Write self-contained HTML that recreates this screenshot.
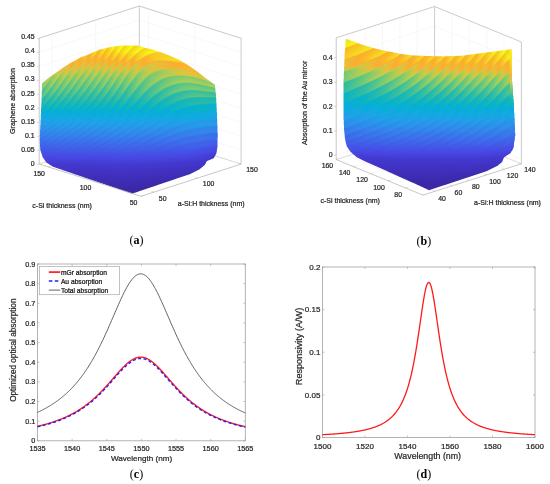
<!DOCTYPE html><html><head><meta charset="utf-8"><style>html,body{margin:0;padding:0;background:#fff;}#root{filter:blur(0.3px);position:relative;width:550px;height:484px;overflow:hidden;background:#fff;}svg{position:absolute;left:0;top:0;}#s i{position:absolute;display:block;height:1px;}</style></head><body><div id="root">
<svg width="550" height="484" viewBox="0 0 550 484">
<line x1="39.20" y1="164.00" x2="139.30" y2="131.80" stroke="#f0f0f0" stroke-width="0.5"/>
<line x1="139.30" y1="131.80" x2="241.10" y2="164.10" stroke="#f0f0f0" stroke-width="0.5"/>
<line x1="39.20" y1="150.02" x2="139.30" y2="117.82" stroke="#f0f0f0" stroke-width="0.5"/>
<line x1="139.30" y1="117.82" x2="241.10" y2="150.12" stroke="#f0f0f0" stroke-width="0.5"/>
<line x1="39.20" y1="136.04" x2="139.30" y2="103.84" stroke="#f0f0f0" stroke-width="0.5"/>
<line x1="139.30" y1="103.84" x2="241.10" y2="136.14" stroke="#f0f0f0" stroke-width="0.5"/>
<line x1="39.20" y1="122.07" x2="139.30" y2="89.87" stroke="#f0f0f0" stroke-width="0.5"/>
<line x1="139.30" y1="89.87" x2="241.10" y2="122.17" stroke="#f0f0f0" stroke-width="0.5"/>
<line x1="39.20" y1="108.09" x2="139.30" y2="75.89" stroke="#f0f0f0" stroke-width="0.5"/>
<line x1="139.30" y1="75.89" x2="241.10" y2="108.19" stroke="#f0f0f0" stroke-width="0.5"/>
<line x1="39.20" y1="94.11" x2="139.30" y2="61.91" stroke="#f0f0f0" stroke-width="0.5"/>
<line x1="139.30" y1="61.91" x2="241.10" y2="94.21" stroke="#f0f0f0" stroke-width="0.5"/>
<line x1="39.20" y1="80.13" x2="139.30" y2="47.93" stroke="#f0f0f0" stroke-width="0.5"/>
<line x1="139.30" y1="47.93" x2="241.10" y2="80.23" stroke="#f0f0f0" stroke-width="0.5"/>
<line x1="39.20" y1="66.16" x2="139.30" y2="33.96" stroke="#f0f0f0" stroke-width="0.5"/>
<line x1="139.30" y1="33.96" x2="241.10" y2="66.26" stroke="#f0f0f0" stroke-width="0.5"/>
<line x1="39.20" y1="52.18" x2="139.30" y2="19.98" stroke="#f0f0f0" stroke-width="0.5"/>
<line x1="139.30" y1="19.98" x2="241.10" y2="52.28" stroke="#f0f0f0" stroke-width="0.5"/>
<line x1="39.20" y1="38.20" x2="139.30" y2="6.00" stroke="#f0f0f0" stroke-width="0.5"/>
<line x1="139.30" y1="6.00" x2="241.10" y2="38.30" stroke="#f0f0f0" stroke-width="0.5"/>
<line x1="51.95" y1="159.90" x2="51.95" y2="34.10" stroke="#f0f0f0" stroke-width="0.5"/>
<line x1="153.75" y1="192.20" x2="51.95" y2="159.90" stroke="#f0f0f0" stroke-width="0.5"/>
<line x1="95.63" y1="145.85" x2="95.63" y2="20.05" stroke="#f0f0f0" stroke-width="0.5"/>
<line x1="197.43" y1="178.15" x2="95.63" y2="145.85" stroke="#f0f0f0" stroke-width="0.5"/>
<line x1="194.83" y1="149.42" x2="194.83" y2="23.62" stroke="#f0f0f0" stroke-width="0.5"/>
<line x1="94.73" y1="181.62" x2="194.83" y2="149.42" stroke="#f0f0f0" stroke-width="0.5"/>
<line x1="148.55" y1="134.74" x2="148.55" y2="8.94" stroke="#f0f0f0" stroke-width="0.5"/>
<line x1="48.45" y1="166.94" x2="148.55" y2="134.74" stroke="#f0f0f0" stroke-width="0.5"/>
<line x1="39.20" y1="38.20" x2="139.30" y2="6.00" stroke="#c2c2c2" stroke-width="0.85"/>
<line x1="139.30" y1="6.00" x2="241.10" y2="38.30" stroke="#c2c2c2" stroke-width="0.85"/>
<line x1="139.30" y1="131.80" x2="139.30" y2="6.00" stroke="#c2c2c2" stroke-width="0.85"/>
<line x1="241.10" y1="164.10" x2="241.10" y2="38.30" stroke="#c2c2c2" stroke-width="0.85"/>
<line x1="39.20" y1="164.00" x2="139.30" y2="131.80" stroke="#c2c2c2" stroke-width="0.6"/>
<line x1="139.30" y1="131.80" x2="241.10" y2="164.10" stroke="#c2c2c2" stroke-width="0.6"/>
<line x1="336.20" y1="154.99" x2="434.60" y2="123.69" stroke="#f0f0f0" stroke-width="0.5"/>
<line x1="434.60" y1="123.69" x2="521.40" y2="159.19" stroke="#f0f0f0" stroke-width="0.5"/>
<line x1="336.20" y1="130.59" x2="434.60" y2="99.29" stroke="#f0f0f0" stroke-width="0.5"/>
<line x1="434.60" y1="99.29" x2="521.40" y2="134.79" stroke="#f0f0f0" stroke-width="0.5"/>
<line x1="336.20" y1="106.19" x2="434.60" y2="74.89" stroke="#f0f0f0" stroke-width="0.5"/>
<line x1="434.60" y1="74.89" x2="521.40" y2="110.39" stroke="#f0f0f0" stroke-width="0.5"/>
<line x1="336.20" y1="81.79" x2="434.60" y2="50.49" stroke="#f0f0f0" stroke-width="0.5"/>
<line x1="434.60" y1="50.49" x2="521.40" y2="85.99" stroke="#f0f0f0" stroke-width="0.5"/>
<line x1="336.20" y1="57.39" x2="434.60" y2="26.09" stroke="#f0f0f0" stroke-width="0.5"/>
<line x1="434.60" y1="26.09" x2="521.40" y2="61.59" stroke="#f0f0f0" stroke-width="0.5"/>
<line x1="347.81" y1="155.91" x2="347.81" y2="34.11" stroke="#f0f0f0" stroke-width="0.5"/>
<line x1="434.61" y1="191.41" x2="347.81" y2="155.91" stroke="#f0f0f0" stroke-width="0.5"/>
<line x1="365.13" y1="150.40" x2="365.13" y2="28.60" stroke="#f0f0f0" stroke-width="0.5"/>
<line x1="451.93" y1="185.90" x2="365.13" y2="150.40" stroke="#f0f0f0" stroke-width="0.5"/>
<line x1="382.45" y1="144.89" x2="382.45" y2="23.09" stroke="#f0f0f0" stroke-width="0.5"/>
<line x1="469.25" y1="180.39" x2="382.45" y2="144.89" stroke="#f0f0f0" stroke-width="0.5"/>
<line x1="399.78" y1="139.38" x2="399.78" y2="17.58" stroke="#f0f0f0" stroke-width="0.5"/>
<line x1="486.58" y1="174.88" x2="399.78" y2="139.38" stroke="#f0f0f0" stroke-width="0.5"/>
<line x1="417.10" y1="133.87" x2="417.10" y2="12.07" stroke="#f0f0f0" stroke-width="0.5"/>
<line x1="503.90" y1="169.37" x2="417.10" y2="133.87" stroke="#f0f0f0" stroke-width="0.5"/>
<line x1="504.04" y1="156.70" x2="504.04" y2="34.90" stroke="#f0f0f0" stroke-width="0.5"/>
<line x1="405.64" y1="188.00" x2="504.04" y2="156.70" stroke="#f0f0f0" stroke-width="0.5"/>
<line x1="486.68" y1="149.60" x2="486.68" y2="27.80" stroke="#f0f0f0" stroke-width="0.5"/>
<line x1="388.28" y1="180.90" x2="486.68" y2="149.60" stroke="#f0f0f0" stroke-width="0.5"/>
<line x1="469.32" y1="142.50" x2="469.32" y2="20.70" stroke="#f0f0f0" stroke-width="0.5"/>
<line x1="370.92" y1="173.80" x2="469.32" y2="142.50" stroke="#f0f0f0" stroke-width="0.5"/>
<line x1="451.96" y1="135.40" x2="451.96" y2="13.60" stroke="#f0f0f0" stroke-width="0.5"/>
<line x1="353.56" y1="166.70" x2="451.96" y2="135.40" stroke="#f0f0f0" stroke-width="0.5"/>
<line x1="336.20" y1="37.80" x2="434.60" y2="6.50" stroke="#c2c2c2" stroke-width="0.85"/>
<line x1="434.60" y1="6.50" x2="521.40" y2="42.00" stroke="#c2c2c2" stroke-width="0.85"/>
<line x1="434.60" y1="128.30" x2="434.60" y2="6.50" stroke="#c2c2c2" stroke-width="0.85"/>
<line x1="521.40" y1="163.80" x2="521.40" y2="42.00" stroke="#c2c2c2" stroke-width="0.85"/>
<line x1="336.20" y1="159.60" x2="434.60" y2="128.30" stroke="#c2c2c2" stroke-width="0.6"/>
<line x1="434.60" y1="128.30" x2="521.40" y2="163.80" stroke="#c2c2c2" stroke-width="0.6"/>
</svg>
<div id="s">
<i style="top:45px;left:119px;width:20px;background:linear-gradient(90deg,rgba(244,229,26,0.19) 0.5px,rgba(249,251,13,0.50) 3.5px,rgba(249,251,13,0.50) 4.5px,rgba(245,225,29,0.50) 5.5px,rgba(246,212,34,0.50) 6.5px,rgba(247,243,18,0.50) 11.5px,rgba(249,250,14,0.50) 12.5px,rgba(249,251,13,0.50) 14.5px,rgba(245,231,25,0.50) 15.5px,rgba(246,211,35,0.50) 16.5px,rgba(245,219,32,0.50) 18.5px,rgba(245,224,29,0.19) 19.5px)"></i>
<i style="top:46px;left:111px;width:31px;background:linear-gradient(90deg,rgba(245,226,29,0.25) 0.5px,rgba(245,234,24,0.25) 1.5px,rgba(247,244,18,0.50) 2.5px,rgba(249,251,13,0.50) 3.5px,rgba(244,229,27,0.75) 4.5px,rgba(247,207,36,0.75) 5.5px,rgba(246,217,33,0.94) 6.5px,#f6f213 9.5px,#f9fb0d 10.5px,#f9fb0d 11.5px,#f4e51b 12.5px,#f7d123 13.5px,#f6f213 18.5px,#f9fb0d 20.5px,#f9fb0d 21.5px,#f4e51b 22.5px,#f7d023 23.5px,#f4e51b 27.5px,rgba(245,234,24,0.88) 28.5px,rgba(247,243,18,0.31) 30.5px)"></i>
<i style="top:47px;left:106px;width:40px;background:linear-gradient(90deg,rgba(247,243,19,0.12) 0.5px,rgba(245,217,32,0.31) 1.5px,rgba(248,199,38,0.56) 2.5px,#f5dc1f 4.5px,#f8f90f 7.5px,#f5ed16 8.5px,#f7d024 9.5px,#f5dd1f 11.5px,#f8f710 14.5px,#f9fb0d 15.5px,#f5ea18 16.5px,#f7cf24 17.5px,#f6f014 22.5px,#f9fb0d 24.5px,#f8f90f 25.5px,#f5e21c 26.5px,#f7d024 27.5px,#f6ef15 33.5px,rgba(249,251,13,0.94) 36.5px,rgba(249,251,13,0.62) 37.5px,rgba(245,223,30,0.12) 39.5px)"></i>
<i style="top:48px;left:102px;width:48px;background:linear-gradient(90deg,rgba(247,206,36,0.12) 0.5px,rgba(245,236,23,0.88) 3.5px,#f5df1e 4.5px,#f9c027 5.5px,#f5e819 9.5px,#f7f313 10.5px,#f7f611 11.5px,#f6d821 12.5px,#f7d024 13.5px,#f7f312 17.5px,#f9fb0d 18.5px,#f6f014 19.5px,#f6d522 20.5px,#f6d422 21.5px,#f7f511 26.5px,#f9fb0d 27.5px,#f8f80f 28.5px,#f5e11d 29.5px,#f7cf24 30.5px,#f6ef15 36.5px,#f9fa0e 38.5px,#f9fb0d 39.5px,#f6f213 40.5px,#f7d123 42.5px,#f7d223 43.5px,rgba(246,217,33,0.69) 45.5px,rgba(245,223,30,0.19) 47.5px)"></i>
<i style="top:49px;left:99px;width:55px;background:linear-gradient(90deg,rgba(251,182,41,0.38) 0.5px,rgba(248,199,38,0.94) 2.5px,#f4e51b 5.5px,#f4e41b 6.5px,#f8c626 7.5px,#f9c127 8.5px,#f5ea18 12.5px,#f7f511 13.5px,#f5de1e 14.5px,#f8ca25 15.5px,#f6ef15 19.5px,#f8f80f 20.5px,#f8f80f 21.5px,#f5db20 22.5px,#f7d123 23.5px,#f7f412 28.5px,#f9fb0d 29.5px,#f8f710 30.5px,#f5e01d 31.5px,#f7ce24 32.5px,#f6f014 38.5px,#f9fb0d 40.5px,#f9fb0d 41.5px,#f5e819 42.5px,#f6d622 43.5px,#f7d024 44.5px,#f4e51b 50.5px,rgba(245,231,25,0.94) 51.5px,rgba(245,237,22,0.12) 54.5px)"></i>
<i style="top:50px;left:96px;width:61px;background:linear-gradient(90deg,rgba(245,220,31,0.12) 0.5px,rgba(245,220,31,0.50) 1.5px,rgba(250,189,39,0.94) 2.5px,#fbb629 3.5px,#f5e819 8.5px,#f7cd24 9.5px,#faba28 10.5px,#f4e31c 14.5px,#f5ed16 15.5px,#f5e21c 16.5px,#f9c426 17.5px,#f5e11d 20.5px,#f9fb0d 23.5px,#f5e21c 24.5px,#f7cd24 25.5px,#f6f213 30.5px,#f8f90f 31.5px,#f8f80f 32.5px,#f5df1e 33.5px,#f7cd24 34.5px,#f6f014 40.5px,#f9fb0d 42.5px,#f7f412 43.5px,#f8cc24 45.5px,#f5e819 52.5px,#f7f412 57.5px,rgba(247,246,17,0.81) 58.5px,rgba(248,248,15,0.12) 60.5px)"></i>
<i style="top:51px;left:94px;width:66px;background:linear-gradient(90deg,rgba(247,205,36,0.25) 0.5px,#f5e01d 2.5px,#f9c426 3.5px,#fcb12b 4.5px,#f5e21c 9.5px,#f6d323 10.5px,#fbb42a 11.5px,#f4e51b 16.5px,#f5e61a 17.5px,#f8ca25 18.5px,#f9c227 19.5px,#f5ec17 23.5px,#f8f710 24.5px,#f5ea18 25.5px,#f8cd24 26.5px,#f6ef15 31.5px,#f8f710 32.5px,#f8f90f 33.5px,#f5e01d 34.5px,#f8cb25 35.5px,#f6f014 41.5px,#f9fb0d 43.5px,#f5ed16 44.5px,#f6d821 45.5px,#f7cd24 46.5px,#f5ee16 54.5px,#f9fb0d 60.5px,#f9fa0e 62.5px,rgba(247,246,17,0.88) 63.5px,rgba(246,241,19,0.19) 65.5px)"></i>
<i style="top:52px;left:92px;width:71px;background:linear-gradient(90deg,rgba(250,188,40,0.38) 0.5px,rgba(248,199,38,0.75) 1.5px,#f7d123 2.5px,#f5db20 3.5px,#f8cc24 4.5px,#fcaf2d 5.5px,#fabd27 7.5px,#f5dc1f 10.5px,#f5d920 11.5px,#faba28 12.5px,#fbb629 13.5px,#f5e719 18.5px,#f7cf24 19.5px,#fab928 20.5px,#f4e31c 24.5px,#f5ed16 25.5px,#f5ec16 26.5px,#f7d223 27.5px,#f8cc24 28.5px,#f5eb17 32.5px,#f9f90e 34.5px,#f5e01d 35.5px,#f8c825 36.5px,#f6ef15 42.5px,#f9fb0d 44.5px,#f5e71a 45.5px,#f7d223 46.5px,#f7cd24 47.5px,#f6f114 55.5px,#f9fb0d 59.5px,#f5df1e 63.5px,#f6d323 67.5px,rgba(247,210,35,0.88) 68.5px,rgba(247,210,35,0.56) 69.5px,rgba(247,210,35,0.12) 70.5px)"></i>
<i style="top:53px;left:89px;width:77px;background:linear-gradient(90deg,rgba(251,174,46,0.06) 0.5px,rgba(252,175,44,0.50) 1.5px,rgba(251,183,41,0.88) 2.5px,#f9c127 3.5px,#f6d522 5.5px,#f6d323 6.5px,#fbb42a 7.5px,#fcb02c 8.5px,#f5df1e 13.5px,#f9c127 14.5px,#fcb02c 15.5px,#f5e01d 20.5px,#f6d522 21.5px,#fbb629 22.5px,#fabb28 23.5px,#f4e41b 27.5px,#f5ee16 28.5px,#f6d422 29.5px,#f9c227 30.5px,#f4e41b 34.5px,#f7f312 36.5px,#f5de1e 37.5px,#f9c326 38.5px,#f5e918 44.5px,#f7f312 46.5px,#f5dd1f 47.5px,#f8c626 48.5px,#f7cf24 50.5px,#f6f313 58.5px,#f8f610 59.5px,#f5db20 62.5px,#f8ca25 64.5px,#f9c626 65.5px,#f7cd24 73.5px,rgba(247,205,36,0.75) 74.5px,rgba(247,205,36,0.06) 76.5px)"></i>
<i style="top:54px;left:87px;width:81px;background:linear-gradient(90deg,rgba(247,209,35,0.25) 0.5px,rgba(251,178,43,0.62) 1.5px,#faae2f 2.5px,#fabb28 4.5px,#f5d920 7.5px,#fabb28 8.5px,#faae2f 9.5px,#fabb28 11.5px,#f5d920 14.5px,#f8c925 15.5px,#fbae2e 16.5px,#fabc28 18.5px,#f5da20 21.5px,#f5da20 22.5px,#fabb28 23.5px,#fbb42a 24.5px,#f4e51b 29.5px,#f6d721 30.5px,#fbb929 31.5px,#f5dd1f 35.5px,#f5ec17 37.5px,#f5dc1f 38.5px,#f9c127 39.5px,#f9c227 40.5px,#f5ea18 46.5px,#f5ea18 47.5px,#f6d422 48.5px,#fabc28 49.5px,#f5e01e 55.5px,#f6f014 59.5px,#f8cc24 62.5px,#f9c127 63.5px,#f7ce24 75.5px,rgba(247,207,36,0.94) 78.5px,rgba(247,208,36,0.62) 79.5px,rgba(247,207,36,0.19) 80.5px)"></i>
<i style="top:55px;left:84px;width:87px;background:linear-gradient(90deg,rgba(249,194,39,0.12) 0.5px,rgba(246,212,34,0.88) 2.5px,#fbb829 3.5px,#f8ae32 4.5px,#fbaf2d 5.5px,#f8ca25 8.5px,#f6d422 9.5px,#f9c326 10.5px,#f9ad30 11.5px,#fbaf2d 12.5px,#f8c925 15.5px,#f6d323 16.5px,#f7d024 17.5px,#fbb22b 18.5px,#fbaf2d 19.5px,#f8c925 22.5px,#f5dc1f 24.5px,#f9c227 25.5px,#fbaf2d 26.5px,#f8ca25 29.5px,#f5dd1f 31.5px,#f5db20 32.5px,#fabc28 33.5px,#fbb829 34.5px,#f5de1e 38.5px,#f4e51b 39.5px,#f5dc1f 40.5px,#fabf27 41.5px,#faba28 42.5px,#f4e51b 48.5px,#f4e31c 49.5px,#fbb729 51.5px,#f5e11d 58.5px,#f5e918 60.5px,#f7d123 62.5px,#f9c227 63.5px,#fbb829 64.5px,#f8cb25 72.5px,#f7d223 83.5px,rgba(247,210,35,0.81) 84.5px,rgba(247,209,35,0.38) 85.5px,rgba(247,209,35,0.06) 86.5px)"></i>
<i style="top:56px;left:82px;width:91px;background:linear-gradient(90deg,rgba(251,179,42,0.38) 0.5px,rgba(250,187,40,0.75) 1.5px,#f9c426 2.5px,#f7cd24 3.5px,#fabd27 4.5px,#f7af33 5.5px,#fbaf2d 7.5px,#f8cb25 10.5px,#f8c825 11.5px,#fbae2e 12.5px,#f9ae31 13.5px,#fcb02c 14.5px,#f6d721 18.5px,#fbb829 19.5px,#faad30 20.5px,#fbb829 22.5px,#f6d622 25.5px,#f8c925 26.5px,#fbae2e 27.5px,#fcb02c 28.5px,#f5de1e 33.5px,#f9c127 34.5px,#fcb02c 35.5px,#f5de1e 40.5px,#f5dc1f 41.5px,#fabf27 42.5px,#fbb42a 43.5px,#f5e01d 49.5px,#f5dd1f 50.5px,#f9c326 51.5px,#fbb32b 52.5px,#f5e21c 60.5px,#f5df1e 61.5px,#fabc28 63.5px,#fbb32b 64.5px,#f8ca25 73.5px,#f6d422 87.5px,rgba(246,212,34,0.94) 88.5px,rgba(246,211,35,0.12) 90.5px)"></i>
<i style="top:57px;left:79px;width:96px;background:linear-gradient(90deg,rgba(249,174,48,0.12) 0.5px,rgba(249,174,49,0.62) 1.5px,rgba(251,174,45,0.94) 2.5px,#f9c526 5.5px,#f9c326 6.5px,#f9ae31 7.5px,#f5b234 8.5px,#f9ae31 9.5px,#fcaf2d 10.5px,#f8cb25 13.5px,#fcaf2c 14.5px,#f5b134 15.5px,#f9ad30 16.5px,#fcb02c 17.5px,#f7cd24 20.5px,#fabc28 21.5px,#f7af33 22.5px,#faad30 23.5px,#fab928 25.5px,#f7ce24 27.5px,#f7cf24 28.5px,#fcb12b 29.5px,#faad2f 30.5px,#fab928 32.5px,#f6d721 35.5px,#f9c626 36.5px,#faae2f 37.5px,#fab928 39.5px,#f5de1e 43.5px,#f9c027 44.5px,#fcaf2d 45.5px,#f5da20 51.5px,#f6d721 52.5px,#fabc28 53.5px,#fcaf2d 54.5px,#f5de1e 62.5px,#f7d024 63.5px,#fabc28 64.5px,#fbae2d 65.5px,#f8cb25 76.5px,#f6d721 90.5px,#f6d622 93.5px,rgba(246,213,34,0.25) 95.5px)"></i>
<i style="top:58px;left:78px;width:99px;background:linear-gradient(90deg,rgba(251,174,46,0.50) 0.5px,rgba(245,177,52,0.94) 1.5px,#fbaf2d 3.5px,#f9c626 6.5px,#fbae2f 7.5px,#f1b736 8.5px,#f9ae31 10.5px,#fcaf2c 11.5px,#f9c127 13.5px,#fcb12b 14.5px,#f1b636 15.5px,#faad30 17.5px,#fcb02c 18.5px,#f9c226 20.5px,#fabf27 21.5px,#f8ae31 22.5px,#f6b033 23.5px,#faad30 24.5px,#fab928 26.5px,#f7ce24 28.5px,#fbb42a 29.5px,#f6b033 30.5px,#faad2f 31.5px,#faba28 33.5px,#f7ce24 35.5px,#f8cb25 36.5px,#fcaf2d 37.5px,#faae2f 38.5px,#faba28 40.5px,#f6d721 43.5px,#faad30 45.5px,#fbb52a 47.5px,#f6d422 51.5px,#f7d223 52.5px,#fbb729 53.5px,#faad2f 54.5px,#fabb28 57.5px,#f6d522 61.5px,#f6d721 62.5px,#fcaf2c 64.5px,#fbaf2d 66.5px,#f8cb25 77.5px,#f5d920 92.5px,#f6d821 96.5px,rgba(246,216,33,0.75) 97.5px,rgba(246,215,33,0.38) 98.5px)"></i>
<i style="top:59px;left:76px;width:104px;background:linear-gradient(90deg,rgba(248,199,38,0.25) 0.5px,rgba(252,176,44,0.88) 1.5px,#f1b636 2.5px,#f9ae30 4.5px,#fbb529 6.5px,#fabd27 7.5px,#fcb02c 8.5px,#efb937 9.5px,#f9ad30 12.5px,#fcb02c 13.5px,#fbb829 14.5px,#fbb42a 15.5px,#f3b435 16.5px,#f0b736 17.5px,#faad30 19.5px,#fcb02c 20.5px,#f9c326 22.5px,#faad30 23.5px,#f1b736 24.5px,#faad30 26.5px,#fbb928 28.5px,#f9c326 29.5px,#fbb729 30.5px,#f5b234 31.5px,#faad30 33.5px,#fab928 35.5px,#f7cd24 37.5px,#fcb12c 38.5px,#f6b033 39.5px,#faad30 40.5px,#faba28 42.5px,#f7ce24 44.5px,#f9c426 45.5px,#faad30 46.5px,#fcaf2d 48.5px,#f7cd24 52.5px,#f7cd24 53.5px,#fbb22b 54.5px,#f7af32 55.5px,#fcb02c 57.5px,#f7cf24 62.5px,#f8ca25 63.5px,#fbb42a 64.5px,#f7af33 65.5px,#fbaf2d 68.5px,#f8cb25 79.5px,#f5db1f 93.5px,#f5db20 100.5px,rgba(245,218,32,0.88) 101.5px,rgba(246,216,33,0.06) 103.5px)"></i>
<i style="top:60px;left:74px;width:107px;background:linear-gradient(90deg,rgba(251,182,41,0.12) 0.5px,rgba(250,191,39,0.69) 1.5px,#fbb42a 2.5px,#f2b535 3.5px,#f2b535 4.5px,#faad30 6.5px,#fbb629 8.5px,#fbb32a 9.5px,#f2b536 10.5px,#ecbb38 11.5px,#faad30 14.5px,#fbb729 16.5px,#f5b134 17.5px,#eabd39 18.5px,#faad30 21.5px,#fbb829 23.5px,#fbae2e 24.5px,#ecbb38 25.5px,#faad30 28.5px,#fbb829 30.5px,#faba28 31.5px,#f6b033 32.5px,#f1b736 33.5px,#faad30 35.5px,#fbb829 37.5px,#f9c227 38.5px,#fbb32a 39.5px,#f2b535 40.5px,#faad30 42.5px,#fcb02c 43.5px,#f9c226 45.5px,#f8c726 46.5px,#faad2f 47.5px,#f5b134 48.5px,#fbaf2d 50.5px,#f8c825 54.5px,#fcaf2d 55.5px,#f4b335 56.5px,#faad30 58.5px,#faba28 61.5px,#f8c725 63.5px,#fabd27 64.5px,#faad30 65.5px,#f3b335 66.5px,#faad30 69.5px,#f9c326 78.5px,#f8c925 81.5px,#fabb28 85.5px,#f9c226 90.5px,#f5df1e 99.5px,#f5dd1f 104.5px,rgba(245,220,31,0.94) 105.5px,rgba(245,219,32,0.38) 106.5px)"></i>
<i style="top:61px;left:72px;width:111px;background:linear-gradient(90deg,rgba(250,173,48,0.12) 0.5px,rgba(252,176,44,0.62) 1.5px,#fbb729 2.5px,#fbb928 3.5px,#f5b234 4.5px,#edba37 5.5px,#faad30 8.5px,#fbb729 10.5px,#f4b234 11.5px,#e6c03a 12.5px,#faad30 16.5px,#fcb12b 17.5px,#f7af33 18.5px,#e3c23b 19.5px,#faad30 23.5px,#fcb12c 24.5px,#fcaf2d 25.5px,#efb937 26.5px,#eabd39 27.5px,#faad30 30.5px,#fbb829 32.5px,#f8af32 33.5px,#eabd39 34.5px,#f9ad30 37.5px,#fcb02c 38.5px,#fbb729 39.5px,#fbb529 40.5px,#f4b335 41.5px,#f0b836 42.5px,#f9ae31 44.5px,#fcaf2c 45.5px,#f9c127 47.5px,#fbae2e 48.5px,#f0b836 49.5px,#f8ae31 51.5px,#fbb32a 53.5px,#f9c227 55.5px,#fbae2f 56.5px,#efb937 57.5px,#faad30 60.5px,#fab928 63.5px,#f9c027 64.5px,#fbb32a 65.5px,#f5b134 66.5px,#f0b836 67.5px,#faad30 71.5px,#faba28 77.5px,#fabf27 79.5px,#fcaf2c 82.5px,#f6b033 85.5px,#f3b435 89.5px,#fbae2e 97.5px,#fabb28 101.5px,#f5e01d 107.5px,#f5df1e 108.5px,rgba(245,222,30,0.75) 109.5px,rgba(245,221,31,0.19) 110.5px)"></i>
<i style="top:62px;left:70px;width:115px;background:linear-gradient(90deg,rgba(243,180,53,0.06) 0.5px,rgba(247,175,51,0.62) 1.5px,#faad2f 2.5px,#fbb829 4.5px,#f7af32 5.5px,#e7bf3a 6.5px,#f7af33 9.5px,#fcb12c 11.5px,#f7af33 12.5px,#e2c23c 13.5px,#faad2f 18.5px,#f8ae31 19.5px,#e7c03a 20.5px,#e2c23c 21.5px,#f6b033 24.5px,#faad30 25.5px,#fcb12b 26.5px,#f1b636 27.5px,#e1c33c 28.5px,#f6b133 31.5px,#faad30 32.5px,#fcb02c 33.5px,#f9ae31 34.5px,#e8bf39 35.5px,#e9be39 36.5px,#f9ae31 39.5px,#fcaf2c 40.5px,#fbb629 41.5px,#f5b134 42.5px,#e9be39 43.5px,#f9ae31 46.5px,#fcaf2d 47.5px,#fbb629 48.5px,#fcaf2c 49.5px,#eeba37 50.5px,#f8ae32 53.5px,#fbb22b 55.5px,#fbb928 56.5px,#faad30 57.5px,#ebbd38 58.5px,#f9ae31 62.5px,#fbb22b 64.5px,#fbb829 65.5px,#fbae2e 66.5px,#f0b736 67.5px,#ebbd38 68.5px,#f9ae31 73.5px,#fbb829 79.5px,#fcaf2c 80.5px,#f9ae31 81.5px,#e6c03a 85.5px,#f0b736 93.5px,#faad30 102.5px,#fbae2e 107.5px,#f9c127 110.5px,#f6d323 112.5px,rgba(245,224,29,0.06) 114.5px)"></i>
<i style="top:63px;left:69px;width:117px;background:linear-gradient(90deg,rgba(238,185,55,0.50) 0.5px,rgba(243,179,53,0.94) 1.5px,#faae2f 3.5px,#fcb12b 4.5px,#f9ae30 5.5px,#e7bf3a 6.5px,#e8bf39 7.5px,#f7af32 10.5px,#faae2f 11.5px,#f9ae31 12.5px,#e7c03a 13.5px,#dfc43d 14.5px,#f3b435 17.5px,#faad30 19.5px,#eabd39 20.5px,#d8c640 21.5px,#f1b636 24.5px,#faad30 26.5px,#f3b435 27.5px,#dac53f 28.5px,#f5b134 32.5px,#faad2f 34.5px,#ebbc38 35.5px,#e0c33d 36.5px,#f5b234 39.5px,#f9ae31 40.5px,#fcaf2d 41.5px,#f6b033 42.5px,#e2c23c 43.5px,#f8ae31 47.5px,#fcb12b 49.5px,#f0b836 50.5px,#e8bf3a 51.5px,#f7af32 54.5px,#fcb12b 56.5px,#f9ae30 57.5px,#e9be39 58.5px,#e8bf3a 59.5px,#f9ae31 63.5px,#fcb12b 65.5px,#f8ae31 66.5px,#ebbd38 67.5px,#e4c13b 68.5px,#f6b033 73.5px,#fcaf2c 77.5px,#fcb12b 78.5px,#f9ae31 79.5px,#e4c13b 82.5px,#dfc43d 83.5px,#f0b836 94.5px,#faad30 103.5px,#faae2f 113.5px,rgba(250,186,40,0.94) 115.5px,rgba(249,196,38,0.38) 116.5px)"></i>
<i style="top:64px;left:67px;width:121px;background:linear-gradient(90deg,rgba(237,186,55,0.19) 0.5px,rgba(233,190,57,0.81) 1.5px,#efb937 2.5px,#f8af32 4.5px,#fbae2e 6.5px,#ecbc38 7.5px,#e1c33c 8.5px,#f4b335 11.5px,#fbae2f 13.5px,#ebbc38 14.5px,#d6c741 15.5px,#efb937 18.5px,#f7af32 20.5px,#edbb38 21.5px,#cec944 22.5px,#ecbc38 25.5px,#f7b033 27.5px,#f5b234 28.5px,#dfc43d 29.5px,#d7c740 30.5px,#f1b736 33.5px,#faad30 35.5px,#eeba37 36.5px,#d4c741 37.5px,#efb837 40.5px,#f9ae31 42.5px,#f8ae32 43.5px,#e5c13b 44.5px,#ddc53e 45.5px,#f3b335 48.5px,#fbae2e 50.5px,#f2b535 51.5px,#dcc53e 52.5px,#f3b435 55.5px,#faad30 57.5px,#f9ae31 58.5px,#e8bf39 59.5px,#dfc43d 60.5px,#f1b636 63.5px,#fbae2f 66.5px,#f5b134 67.5px,#e5c13b 68.5px,#dcc53e 69.5px,#f0b836 73.5px,#f9ae31 77.5px,#faae2f 78.5px,#f7af33 79.5px,#e5c03a 81.5px,#d8c640 82.5px,#efb937 96.5px,#f9ae30 105.5px,#fcaf2d 116.5px,#fbae2e 118.5px,rgba(251,174,46,0.75) 119.5px,rgba(251,175,45,0.19) 120.5px)"></i>
<i style="top:65px;left:66px;width:124px;background:linear-gradient(90deg,rgba(241,183,54,0.50) 0.5px,#e2c23c 1.5px,#f4b234 4.5px,#fbae2e 6.5px,#efb937 7.5px,#d8c640 8.5px,#f0b836 11.5px,#f8ae32 13.5px,#efb937 14.5px,#cfc944 15.5px,#efb837 19.5px,#f4b334 20.5px,#f0b836 21.5px,#d3c842 22.5px,#cdc945 23.5px,#ecbb38 26.5px,#f7af33 28.5px,#e3c23b 29.5px,#cbca46 30.5px,#ebbd38 33.5px,#f6b033 35.5px,#f0b736 36.5px,#d5c741 37.5px,#d5c741 38.5px,#f0b836 41.5px,#f9ae31 43.5px,#e9be39 44.5px,#d1c843 45.5px,#eeba37 48.5px,#f8af32 50.5px,#f4b334 51.5px,#dbc53f 52.5px,#dcc53e 53.5px,#f2b535 56.5px,#faad30 58.5px,#e9be39 59.5px,#d4c741 60.5px,#ecbb38 63.5px,#f8ae32 66.5px,#f4b335 67.5px,#e1c33c 68.5px,#d3c842 69.5px,#ecbb38 73.5px,#f7af32 77.5px,#f7af32 78.5px,#e3c23b 80.5px,#d2c842 81.5px,#cfc944 82.5px,#e4c13b 89.5px,#faad30 107.5px,#fbb22b 119.5px,#fcb02c 121.5px,rgba(251,175,45,0.06) 123.5px)"></i>
<i style="top:66px;left:64px;width:127px;background:linear-gradient(90deg,rgba(251,174,46,0.19) 0.5px,rgba(243,179,53,0.81) 1.5px,#d9c63f 2.5px,#f0b736 5.5px,#f8ae31 7.5px,#f2b535 8.5px,#d6c741 9.5px,#d9c640 10.5px,#f0b836 13.5px,#f5b234 14.5px,#f2b636 15.5px,#d5c741 16.5px,#cdc945 17.5px,#eabd39 20.5px,#f3b435 22.5px,#d9c63f 23.5px,#c0cb4b 24.5px,#e5c13b 27.5px,#f3b435 29.5px,#e7bf3a 30.5px,#c3cb4a 31.5px,#e3c23b 34.5px,#f1b636 36.5px,#f3b435 37.5px,#dac63f 38.5px,#c8ca47 39.5px,#e9be39 42.5px,#f5b234 44.5px,#ecbb38 45.5px,#cbca45 46.5px,#d2c843 47.5px,#eeba37 50.5px,#f6b033 52.5px,#e0c33c 53.5px,#d0c943 54.5px,#e6c03a 56.5px,#f7af33 59.5px,#ebbc38 60.5px,#c9ca46 61.5px,#e6c03a 64.5px,#f5b134 67.5px,#f2b535 68.5px,#ddc43e 69.5px,#caca46 70.5px,#e8bf3a 74.5px,#f5b134 78.5px,#f2b535 79.5px,#e6c03a 80.5px,#c5cb48 82.5px,#ddc43e 88.5px,#f6b033 105.5px,#fcb02c 114.5px,#fbb52a 124.5px,rgba(251,179,42,0.81) 125.5px,rgba(251,178,43,0.19) 126.5px)"></i>
<i style="top:67px;left:63px;width:129px;background:linear-gradient(90deg,rgba(249,174,49,0.50) 0.5px,#f6b033 1.5px,#dfc43d 2.5px,#dac63f 3.5px,#f0b736 6.5px,#f5b234 7.5px,#f4b234 8.5px,#dcc53e 9.5px,#cec944 10.5px,#ebbd38 13.5px,#f4b334 15.5px,#dbc53e 16.5px,#c1cb4a 17.5px,#e3c23b 20.5px,#f0b736 22.5px,#dfc43d 23.5px,#b4cd51 24.5px,#dcc53e 27.5px,#eeba37 29.5px,#eabd39 30.5px,#c9ca47 31.5px,#becc4c 32.5px,#e4c13b 35.5px,#f2b636 37.5px,#dfc43d 38.5px,#bacc4e 39.5px,#e1c33c 42.5px,#f0b836 44.5px,#efb937 45.5px,#d1c843 46.5px,#c4cb49 47.5px,#e7c03a 50.5px,#f3b335 52.5px,#e5c13b 53.5px,#c2cb4a 54.5px,#e6c03a 57.5px,#f3b535 59.5px,#eeba37 60.5px,#cdc945 61.5px,#c9ca46 62.5px,#e6c03a 65.5px,#f1b636 67.5px,#f2b636 68.5px,#dbc53e 69.5px,#c0cb4b 70.5px,#e2c33c 74.5px,#f2b535 78.5px,#ecbc38 79.5px,#dac63f 80.5px,#c2cb4a 81.5px,#becc4c 82.5px,#dac63f 88.5px,#edbb37 98.5px,#f9ae31 109.5px,#fbb829 127.5px,rgba(251,183,41,0.50) 128.5px)"></i>
<i style="top:68px;left:61px;width:133px;background:linear-gradient(90deg,rgba(241,183,54,0.12) 0.5px,rgba(245,177,52,0.81) 1.5px,#f8af32 2.5px,#e4c13b 3.5px,#cfc944 4.5px,#ebbd38 7.5px,#f5b134 9.5px,#e1c33c 10.5px,#c2cb4a 11.5px,#e4c13b 14.5px,#f1b736 16.5px,#e1c33c 17.5px,#b6cd50 18.5px,#e4c13b 22.5px,#ebbc38 23.5px,#e4c13b 24.5px,#bccc4d 25.5px,#b5cd51 26.5px,#ddc53e 29.5px,#edbb37 31.5px,#cec944 32.5px,#b0cd53 33.5px,#dac63f 36.5px,#ecbc38 38.5px,#e3c23b 39.5px,#bccc4d 40.5px,#bbcc4d 41.5px,#e1c33c 44.5px,#f0b836 46.5px,#d7c740 47.5px,#b6cd50 48.5px,#dec43e 51.5px,#eeba37 53.5px,#e9be39 54.5px,#c4cb49 55.5px,#c2cb4a 56.5px,#e6c03a 59.5px,#f1b736 61.5px,#d2c842 62.5px,#bdcc4d 63.5px,#dec43d 66.5px,#f1b636 69.5px,#dac63f 70.5px,#b4cd51 71.5px,#dac63f 75.5px,#efb937 79.5px,#e5c13b 80.5px,#cec944 81.5px,#b2cd52 82.5px,#d6c741 89.5px,#e8bf3a 96.5px,#efb937 101.5px,#e5c13b 108.5px,#eeba37 114.5px,#fbae2e 119.5px,#fbb529 123.5px,#fbb928 130.5px,rgba(251,185,40,0.81) 131.5px,rgba(251,185,40,0.12) 132.5px)"></i>
<i style="top:69px;left:60px;width:135px;background:linear-gradient(90deg,rgba(235,188,56,0.44) 0.5px,rgba(241,183,54,0.94) 1.5px,#f5b134 2.5px,#e8bf3a 3.5px,#c2cb4a 4.5px,#e4c13b 7.5px,#f1b636 9.5px,#e5c03a 10.5px,#bdcc4c 11.5px,#c3cb49 12.5px,#e4c13b 15.5px,#ecbc38 16.5px,#e5c03a 17.5px,#becc4c 18.5px,#b6cd50 19.5px,#dbc53e 22.5px,#e5c13b 23.5px,#e8bf39 24.5px,#c3cb49 25.5px,#a8cd58 26.5px,#dec43d 30.5px,#e7bf3a 31.5px,#d4c842 32.5px,#a7cd58 33.5px,#c0cb4b 35.5px,#e5c13b 38.5px,#e7c03a 39.5px,#c2cb4a 40.5px,#adcd55 41.5px,#d6c740 44.5px,#eabe39 46.5px,#dcc53e 47.5px,#b1cd53 48.5px,#b6cd50 49.5px,#dec43d 52.5px,#edbb38 54.5px,#cbca46 55.5px,#b3cd52 56.5px,#dcc53e 59.5px,#edba37 61.5px,#d8c640 62.5px,#afcd54 63.5px,#d4c741 66.5px,#ecbb38 69.5px,#dac63f 70.5px,#b3cd52 71.5px,#b4cd51 72.5px,#dac63f 76.5px,#ebbd38 79.5px,#dec43d 80.5px,#a7cd58 82.5px,#cdc945 88.5px,#e4c13b 95.5px,#e8bf39 97.5px,#c0cb4b 103.5px,#b2cd53 106.5px,#b0cd53 107.5px,#ccc945 117.5px,#d0c943 119.5px,#edba37 123.5px,#f7af33 125.5px,#fbae2e 126.5px,#fbb928 128.5px,#faba28 132.5px,rgba(250,186,40,0.94) 133.5px,rgba(250,185,40,0.44) 134.5px)"></i>
<i style="top:70px;left:58px;width:139px;background:linear-gradient(90deg,rgba(217,198,64,0.06) 0.5px,rgba(227,194,59,0.69) 1.5px,#ebbc38 2.5px,#f1b736 3.5px,#ebbc38 4.5px,#c7ca47 5.5px,#c3cb4a 6.5px,#e4c13b 9.5px,#ecbc38 10.5px,#e9be39 11.5px,#c4cb49 12.5px,#b6cd50 13.5px,#dcc53e 16.5px,#e9be39 18.5px,#c5cb49 19.5px,#a9cd57 20.5px,#dcc53e 24.5px,#e5c03a 25.5px,#caca46 26.5px,#9ccd5f 27.5px,#d3c842 31.5px,#dfc43d 32.5px,#d8c640 33.5px,#adcd55 34.5px,#a3cd5b 35.5px,#dbc53e 39.5px,#e5c13b 40.5px,#c8ca47 41.5px,#9ece5e 42.5px,#d7c740 46.5px,#e2c33c 47.5px,#e1c33c 48.5px,#b8cc4f 49.5px,#a8cd58 50.5px,#dec43d 54.5px,#e7bf3a 55.5px,#d2c843 56.5px,#a4cd5a 57.5px,#dcc53e 61.5px,#e6c03a 62.5px,#dfc43d 63.5px,#b1cd53 64.5px,#afcd54 65.5px,#d4c741 68.5px,#e6c03a 70.5px,#dbc53e 71.5px,#b4cd51 72.5px,#a7cd58 73.5px,#d1c843 77.5px,#e5c03a 80.5px,#d8c640 81.5px,#9ece5e 83.5px,#c7ca48 89.5px,#dfc43d 95.5px,#e2c23c 96.5px,#ddc43e 97.5px,#a9cd57 101.5px,#9ece5e 102.5px,#98cd61 103.5px,#c0cb4b 113.5px,#d5c741 123.5px,#dac63f 128.5px,#dfc43d 129.5px,#f7af33 132.5px,#fbaf2d 133.5px,#fbb929 134.5px,#faba28 136.5px,rgba(250,186,40,0.75) 137.5px,rgba(250,185,40,0.06) 138.5px)"></i>
<i style="top:71px;left:57px;width:141px;background:linear-gradient(90deg,rgba(204,201,69,0.31) 0.5px,rgba(217,198,63,0.94) 1.5px,#ebbc38 3.5px,#eeb937 4.5px,#cdc944 5.5px,#b5cd50 6.5px,#dbc53f 9.5px,#ecbc38 11.5px,#caca46 12.5px,#a9cd57 13.5px,#dcc53e 17.5px,#e6c03a 18.5px,#cbca45 19.5px,#9cce5f 20.5px,#d2c842 24.5px,#ddc43e 25.5px,#d1c843 26.5px,#a2ce5c 27.5px,#9dce5e 28.5px,#d4c741 32.5px,#ddc53e 33.5px,#b4cd51 34.5px,#95cd63 35.5px,#d0c943 39.5px,#dcc53e 40.5px,#cec944 41.5px,#a0ce5d 42.5px,#9fce5d 43.5px,#d7c740 47.5px,#e2c23c 48.5px,#becc4c 49.5px,#99cd61 50.5px,#d3c842 54.5px,#dec43d 55.5px,#d8c640 56.5px,#aacd57 57.5px,#a4cd5a 58.5px,#dcc53e 62.5px,#e5c13b 63.5px,#bacc4e 64.5px,#a0ce5c 65.5px,#d4c842 69.5px,#dec43e 70.5px,#ddc43e 71.5px,#b6cd50 72.5px,#9bcd60 73.5px,#d0c943 78.5px,#dfc43d 80.5px,#d2c842 81.5px,#94cd64 83.5px,#c0cb4b 89.5px,#dcc53e 95.5px,#d3c842 96.5px,#90cd66 100.5px,#8dcd68 101.5px,#c2cb4a 114.5px,#d7c740 124.5px,#ddc43e 134.5px,#e3c23b 135.5px,#f6b033 137.5px,#fbaf2d 138.5px,rgba(250,186,40,0.94) 139.5px,rgba(250,186,40,0.31) 140.5px)"></i>
<i style="top:72px;left:55px;width:144px;background:linear-gradient(90deg,rgba(176,205,84,0.06) 0.5px,#cdc945 2.5px,#ebbc38 5.5px,#d3c842 6.5px,#a7cd58 7.5px,#dbc53e 11.5px,#e5c13b 12.5px,#d0c843 13.5px,#a0ce5c 14.5px,#b8cc4f 16.5px,#ddc53e 19.5px,#d1c843 20.5px,#a2ce5b 21.5px,#9dce5e 22.5px,#d3c842 26.5px,#d7c740 27.5px,#a9cd57 28.5px,#90cd66 29.5px,#c8ca47 33.5px,#d6c741 34.5px,#b9cc4e 35.5px,#8bcd69 36.5px,#a6cd59 38.5px,#d1c843 41.5px,#d3c842 42.5px,#a6cd59 43.5px,#90cd66 44.5px,#cbca45 48.5px,#d8c640 49.5px,#c4cb49 50.5px,#95cd63 51.5px,#99cd60 52.5px,#d3c842 56.5px,#ddc43e 57.5px,#b1cd53 58.5px,#94cd63 59.5px,#d0c843 63.5px,#dcc53e 64.5px,#c3cb49 65.5px,#91cd65 66.5px,#c8ca47 70.5px,#ddc53e 72.5px,#b9cc4e 73.5px,#8ecd67 74.5px,#c5cb48 79.5px,#d6c740 81.5px,#cec944 82.5px,#89cd6a 84.5px,#b8cc4f 90.5px,#d3c842 95.5px,#cdc945 96.5px,#92cd65 99.5px,#81cc6f 100.5px,#a3cd5b 108.5px,#c6ca48 117.5px,#dac63f 127.5px,#dec43d 139.5px,#dec43d 140.5px,#e5c13b 141.5px,#f1b636 142.5px,rgba(250,173,48,0.56) 143.5px)"></i>
<i style="top:73px;left:54px;width:147px;background:linear-gradient(90deg,rgba(173,205,85,0.19) 0.5px,rgba(176,205,83,0.88) 1.5px,#bfcc4b 2.5px,#e3c23b 5.5px,#d8c640 6.5px,#aacd57 7.5px,#a8cd58 8.5px,#dcc53e 12.5px,#d6c741 13.5px,#a7cd58 14.5px,#9ccd5f 15.5px,#d3c842 19.5px,#d7c740 20.5px,#a9cd57 21.5px,#90cd66 22.5px,#d4c741 27.5px,#b0cd53 28.5px,#83cc6e 29.5px,#caca46 34.5px,#bfcc4b 35.5px,#91cd66 36.5px,#88cd6b 37.5px,#c4cb49 41.5px,#d2c843 42.5px,#adcd55 43.5px,#82cc6f 44.5px,#becc4c 48.5px,#ccc945 49.5px,#caca46 50.5px,#9ccd5f 51.5px,#8bcd69 52.5px,#c6cb48 56.5px,#d3c842 57.5px,#b9cc4f 58.5px,#87cc6c 59.5px,#c2cb4a 63.5px,#d0c843 64.5px,#ccc945 65.5px,#99cd60 66.5px,#91cd65 67.5px,#c7ca47 71.5px,#d3c842 72.5px,#becc4c 73.5px,#90cd66 74.5px,#8dcd68 75.5px,#c4cb49 80.5px,#cdc945 81.5px,#cbca46 82.5px,#a7cd58 83.5px,#83cc6e 84.5px,#90cd66 86.5px,#c3cb49 93.5px,#cdc945 95.5px,#8ccd69 98.5px,#79cb74 99.5px,#c1cb4a 116.5px,#d8c640 125.5px,#e0c33c 136.5px,#dcc53e 144.5px,rgba(223,196,61,0.75) 145.5px,rgba(240,184,54,0.06) 146.5px)"></i>
<i style="top:74px;left:53px;width:149px;background:linear-gradient(90deg,rgba(181,205,81,0.50) 0.5px,#a2ce5b 1.5px,#d9c63f 5.5px,#ddc53e 6.5px,#b0cd53 7.5px,#99cd61 8.5px,#d1c843 12.5px,#dbc53f 13.5px,#aecd55 14.5px,#8ecd67 15.5px,#d4c842 20.5px,#b0cd53 21.5px,#82cc6e 22.5px,#c9ca46 27.5px,#b7cc4f 28.5px,#87cc6c 29.5px,#85cc6d 30.5px,#bfcc4c 34.5px,#c6ca48 35.5px,#98cd61 36.5px,#7bcb73 37.5px,#b8cc4f 41.5px,#c6cb48 42.5px,#b4cd51 43.5px,#84cc6d 44.5px,#83cc6e 45.5px,#bfcc4c 49.5px,#ccc945 50.5px,#a2cd5b 51.5px,#7ccb72 52.5px,#b8cc4f 56.5px,#c6ca48 57.5px,#c0cb4b 58.5px,#8fcd67 59.5px,#85cc6c 60.5px,#c2cb4a 64.5px,#d0c843 65.5px,#a4cd5a 66.5px,#82cc6e 67.5px,#c7ca48 72.5px,#c3cb49 73.5px,#95cd63 74.5px,#7fcc70 75.5px,#c3cb49 81.5px,#caca46 82.5px,#a6cd59 83.5px,#81cc6f 84.5px,#7ecc71 85.5px,#b9cc4f 92.5px,#c6cb48 94.5px,#bfcc4b 95.5px,#7acb74 98.5px,#78cb75 99.5px,#b9cc4e 114.5px,#d8c640 125.5px,#e2c23c 136.5px,#dbc53e 146.5px,rgba(219,197,63,0.88) 147.5px,rgba(218,198,63,0.19) 148.5px)"></i>
<i style="top:75px;left:51px;width:152px;background:linear-gradient(90deg,rgba(224,195,61,0.19) 0.5px,rgba(188,204,77,0.81) 1.5px,#94cd64 2.5px,#cec944 6.5px,#dac63f 7.5px,#b6cd50 8.5px,#8bcd69 9.5px,#c5cb49 13.5px,#d1c843 14.5px,#b4cd51 15.5px,#82cc6f 16.5px,#c8ca47 21.5px,#b7cc50 22.5px,#85cc6d 23.5px,#84cc6d 24.5px,#bfcc4b 28.5px,#c1cb4b 29.5px,#90cd66 30.5px,#7bcb73 31.5px,#c3cb49 36.5px,#a1ce5c 37.5px,#73ca78 38.5px,#bccc4d 43.5px,#bdcc4d 44.5px,#8ecd67 45.5px,#79cb74 46.5px,#c3cb4a 51.5px,#accd55 52.5px,#7dcb72 53.5px,#80cc70 54.5px,#bbcc4d 58.5px,#c9ca46 59.5px,#99cd61 60.5px,#79cb74 61.5px,#b6cd50 65.5px,#c4cb49 66.5px,#afcd54 67.5px,#7ccb72 68.5px,#84cc6d 69.5px,#c9ca47 74.5px,#9ece5d 75.5px,#76cb76 76.5px,#bccc4d 82.5px,#c6cb48 83.5px,#a8cd58 84.5px,#83cc6e 85.5px,#77cb75 86.5px,#b4cd51 93.5px,#c2cb4a 95.5px,#b3cd51 96.5px,#81cc6f 98.5px,#70ca79 99.5px,#b0cd53 112.5px,#c8ca47 119.5px,#adcd55 124.5px,#a8cd58 127.5px,#b3cd52 131.5px,#cec944 135.5px,#dfc43d 137.5px,#e3c23b 139.5px,#dbc53f 149.5px,rgba(219,197,63,0.94) 150.5px,rgba(219,197,63,0.38) 151.5px)"></i>
<i style="top:76px;left:50px;width:154px;background:linear-gradient(90deg,rgba(214,199,65,0.44) 0.5px,rgba(196,203,73,0.94) 1.5px,#91cd65 2.5px,#95cd63 3.5px,#cec944 7.5px,#bdcc4d 8.5px,#8acd6a 9.5px,#8bcd69 10.5px,#c5cb48 14.5px,#bbcc4e 15.5px,#89cd6a 16.5px,#82cc6f 17.5px,#becc4c 21.5px,#c0cb4b 22.5px,#8fcd66 23.5px,#7acb73 24.5px,#c4cb49 29.5px,#9bcd60 30.5px,#71ca79 31.5px,#bacc4e 36.5px,#abcd56 37.5px,#7ccb72 38.5px,#76cb76 39.5px,#c0cb4b 44.5px,#98cd62 45.5px,#6eca7b 46.5px,#b8cc4f 51.5px,#b6cd50 52.5px,#87cc6c 53.5px,#75cb76 54.5px,#bfcc4b 59.5px,#a4cd5a 60.5px,#73ca78 61.5px,#7dcb72 62.5px,#b9cc4e 66.5px,#bccc4d 67.5px,#89cd6a 68.5px,#78cb74 69.5px,#bfcc4b 74.5px,#a9cd57 75.5px,#7bcb73 76.5px,#78cb74 77.5px,#becc4c 83.5px,#accd56 84.5px,#86cc6c 85.5px,#70ca7a 86.5px,#b7cc50 94.5px,#becc4c 95.5px,#aacd57 96.5px,#76cb76 98.5px,#6dc97b 99.5px,#accd55 111.5px,#becc4c 115.5px,#bccc4d 116.5px,#8acd69 121.5px,#76cb76 124.5px,#74ca77 125.5px,#81cc6f 136.5px,#93cd64 138.5px,#c9ca46 142.5px,#e3c23c 144.5px,#dcc53e 152.5px,rgba(220,197,62,0.56) 153.5px)"></i>
<i style="top:77px;left:48px;width:158px;background:linear-gradient(90deg,rgba(189,204,76,0.12) 0.5px,rgba(203,202,70,0.75) 1.5px,#cbca45 2.5px,#99cd61 3.5px,#88cc6b 4.5px,#c2cb4a 8.5px,#c4cb49 9.5px,#92cd65 10.5px,#7ecc71 11.5px,#bbcc4d 15.5px,#c4cb49 16.5px,#93cd64 17.5px,#78cb75 18.5px,#c3cb4a 23.5px,#9acd60 24.5px,#70ca79 25.5px,#bacc4e 30.5px,#a5cd5a 31.5px,#75ca77 32.5px,#76cb76 33.5px,#b0cd53 37.5px,#b5cd51 38.5px,#86cc6c 39.5px,#6cc97c 40.5px,#b6cd50 45.5px,#a1ce5c 46.5px,#73ca78 47.5px,#73ca78 48.5px,#bccc4d 53.5px,#91cd66 54.5px,#6bc97d 55.5px,#b5cd51 60.5px,#afcd54 61.5px,#7ecc71 62.5px,#72ca78 63.5px,#bdcc4d 68.5px,#96cd62 69.5px,#6dc97b 70.5px,#b5cd51 75.5px,#b4cd51 76.5px,#85cc6d 77.5px,#6fca7a 78.5px,#b6cd50 84.5px,#b1cd53 85.5px,#8acd6a 86.5px,#68c97e 87.5px,#b2cd52 95.5px,#b9cc4e 96.5px,#87cc6c 98.5px,#6cc97c 99.5px,#6ac97d 100.5px,#a7cd58 111.5px,#b7cc50 114.5px,#b4cd51 115.5px,#73ca78 120.5px,#69c97e 121.5px,#83cc6e 131.5px,#87cc6c 139.5px,#84cc6d 145.5px,#bfcc4c 148.5px,#d3c842 149.5px,#dec43d 150.5px,#ddc53e 155.5px,rgba(221,197,62,0.75) 156.5px,rgba(220,197,62,0.06) 157.5px)"></i>
<i style="top:78px;left:47px;width:160px;background:linear-gradient(90deg,rgba(176,205,83,0.19) 0.5px,rgba(191,204,76,0.94) 1.5px,#ccc945 2.5px,#a2ce5c 3.5px,#7bcb73 4.5px,#b8cc4f 8.5px,#c6ca48 9.5px,#9dce5e 10.5px,#75ca77 11.5px,#c0cb4b 16.5px,#9ece5e 17.5px,#6ec97b 18.5px,#b9cc4e 23.5px,#a4cd5a 24.5px,#73ca78 25.5px,#75ca76 26.5px,#b1cd53 30.5px,#afcd54 31.5px,#7ecc71 32.5px,#6cc97c 33.5px,#b5cd51 38.5px,#8fcd66 39.5px,#62c782 40.5px,#accd56 45.5px,#aacd57 46.5px,#7ccb72 47.5px,#68c97e 48.5px,#b2cd52 53.5px,#9acd60 54.5px,#6cc97c 55.5px,#6fca7a 56.5px,#b8cc4f 61.5px,#89cd6a 62.5px,#67c87f 63.5px,#b2cd52 68.5px,#a3cd5b 69.5px,#71ca79 70.5px,#70ca7a 71.5px,#b8cc4f 76.5px,#91cd66 77.5px,#65c880 78.5px,#adcd55 84.5px,#b7cd50 85.5px,#6ac97d 87.5px,#6ac97d 88.5px,#b4cd51 96.5px,#9dce5e 97.5px,#65c880 99.5px,#66c880 100.5px,#a7cd59 111.5px,#b1cd53 113.5px,#a8cd58 114.5px,#6ac97d 118.5px,#63c881 119.5px,#85cc6d 129.5px,#91cd65 137.5px,#8ccd68 144.5px,#7ccb72 150.5px,#accd56 152.5px,#c8ca47 153.5px,#ddc53e 154.5px,#dec43d 157.5px,rgba(222,196,61,0.88) 158.5px,rgba(222,196,61,0.19) 159.5px)"></i>
<i style="top:79px;left:46px;width:162px;background:linear-gradient(90deg,rgba(165,205,90,0.38) 0.5px,#b4cd51 1.5px,#c3cb4a 2.5px,#adcd55 3.5px,#79cb74 4.5px,#80cc70 5.5px,#bdcc4d 9.5px,#a7cd58 10.5px,#75ca76 11.5px,#79cb74 12.5px,#b6cd50 16.5px,#a8cd58 17.5px,#76cb76 18.5px,#73ca78 19.5px,#afcd54 23.5px,#aecd55 24.5px,#7dcb72 25.5px,#6bc97c 26.5px,#b5cd50 31.5px,#88cd6b 32.5px,#63c882 33.5px,#abcd56 38.5px,#99cd61 39.5px,#6bc97d 40.5px,#66c87f 41.5px,#b0cd53 46.5px,#85cc6d 47.5px,#5fc784 48.5px,#a8cd58 53.5px,#a4cd5a 54.5px,#75cb76 55.5px,#64c881 56.5px,#aecd55 61.5px,#94cd64 62.5px,#64c881 63.5px,#6bc97d 64.5px,#a6cd59 68.5px,#afcd54 69.5px,#7dcb71 70.5px,#65c880 71.5px,#adcd55 76.5px,#9cce5f 77.5px,#6ec97b 78.5px,#67c87f 79.5px,#afcd54 85.5px,#96cd63 86.5px,#6fca7a 87.5px,#62c782 88.5px,#aecd55 96.5px,#99cd60 97.5px,#60c783 99.5px,#61c783 100.5px,#a6cd59 111.5px,#abcd56 112.5px,#a3cd5b 113.5px,#5dc785 117.5px,#8dcd68 130.5px,#9bcd60 138.5px,#97cd62 145.5px,#82cc6e 152.5px,#79cb74 154.5px,#8bcd69 155.5px,#c8ca47 157.5px,#dfc43d 158.5px,rgba(224,195,61,0.94) 160.5px,rgba(224,195,61,0.44) 161.5px)"></i>
<i style="top:80px;left:45px;width:165px;background:linear-gradient(90deg,rgba(154,205,96,0.50) 0.5px,#aacd57 1.5px,#b9cc4f 2.5px,#b7cc4f 3.5px,#84cc6d 4.5px,#76cb76 5.5px,#b3cd52 9.5px,#b2cd52 10.5px,#7fcc70 11.5px,#6fca7a 12.5px,#accd56 16.5px,#b2cd52 17.5px,#80cc70 18.5px,#69c97e 19.5px,#b4cd51 24.5px,#87cc6c 25.5px,#62c782 26.5px,#accd56 31.5px,#92cd65 32.5px,#63c882 33.5px,#67c87f 34.5px,#a1ce5c 38.5px,#a3cd5b 39.5px,#74ca77 40.5px,#5dc685 41.5px,#a6cd59 46.5px,#8ecd67 47.5px,#61c783 48.5px,#63c782 49.5px,#accd56 54.5px,#7fcc71 55.5px,#5ac687 56.5px,#a3cd5b 61.5px,#9ece5e 62.5px,#6fca7a 63.5px,#61c783 64.5px,#aacd57 69.5px,#89cd6a 70.5px,#5ac687 71.5px,#a2ce5b 76.5px,#a8cd58 77.5px,#79cb74 78.5px,#5dc785 79.5px,#a6cd59 85.5px,#9dce5e 86.5px,#76cb76 87.5px,#5ac687 88.5px,#a7cd58 96.5px,#98cd61 97.5px,#5dc685 99.5px,#5cc686 100.5px,#a3cd5b 111.5px,#a5cd59 112.5px,#58c589 116.5px,#91cd66 130.5px,#a3cd5b 138.5px,#a3cd5b 145.5px,#92cd65 152.5px,#7bcb73 158.5px,#8acd6a 159.5px,#c5cb48 161.5px,#dec43d 162.5px,rgba(226,195,60,0.75) 163.5px,rgba(226,194,60,0.12) 164.5px)"></i>
<i style="top:81px;left:43px;width:168px;background:linear-gradient(90deg,rgba(128,204,112,0.06) 0.5px,rgba(144,205,102,0.62) 1.5px,#9fce5d 2.5px,#becc4c 4.5px,#8fcd67 5.5px,#6cc97c 6.5px,#b8cc4f 11.5px,#8acd6a 12.5px,#66c880 13.5px,#b1cd53 18.5px,#8acd6a 19.5px,#5fc784 20.5px,#aacd57 25.5px,#90cd66 26.5px,#61c783 27.5px,#67c87f 28.5px,#a2ce5c 32.5px,#9ccd5f 33.5px,#6cc97c 34.5px,#5ec785 35.5px,#a6cd59 40.5px,#54c58b 42.5px,#9ccd5f 47.5px,#97cd62 48.5px,#69c97e 49.5px,#59c688 50.5px,#a1ce5c 55.5px,#88cd6b 56.5px,#5bc686 57.5px,#5ec784 58.5px,#a7cd58 63.5px,#79cb74 64.5px,#57c589 65.5px,#9fce5d 70.5px,#95cd63 71.5px,#65c880 72.5px,#5dc785 73.5px,#a5cd5a 78.5px,#85cc6d 79.5px,#58c588 80.5px,#60c784 81.5px,#9cce5f 86.5px,#a4cd5a 87.5px,#57c589 89.5px,#66c880 91.5px,#a0ce5c 97.5px,#97cd62 98.5px,#5bc687 100.5px,#57c589 101.5px,#a1ce5c 112.5px,#95cd63 113.5px,#57c589 116.5px,#53c48b 117.5px,#8dcd68 129.5px,#a8cd58 138.5px,#aecd54 146.5px,#a2ce5c 153.5px,#7fcc70 163.5px,#84cc6d 164.5px,rgba(191,204,75,0.94) 166.5px,rgba(217,198,64,0.31) 167.5px)"></i>
<i style="top:82px;left:42px;width:171px;background:linear-gradient(90deg,rgba(118,203,118,0.06) 0.5px,rgba(133,204,109,0.81) 1.5px,#94cd63 2.5px,#b3cd51 4.5px,#99cd61 5.5px,#67c87f 6.5px,#71ca79 7.5px,#aecd55 11.5px,#94cd64 12.5px,#62c782 13.5px,#6bc97d 14.5px,#a7cd59 18.5px,#93cd64 19.5px,#63c881 20.5px,#64c881 21.5px,#a0ce5c 25.5px,#99cd60 26.5px,#6ac97e 27.5px,#5dc785 28.5px,#a5cd5a 33.5px,#75ca77 34.5px,#55c58a 35.5px,#9cce5f 40.5px,#86cc6c 41.5px,#59c688 42.5px,#59c688 43.5px,#9fce5d 48.5px,#72ca79 49.5px,#50c48e 50.5px,#97cd62 55.5px,#91cd65 56.5px,#64c881 57.5px,#55c58a 58.5px,#9cce5f 63.5px,#82cc6e 64.5px,#55c58a 65.5px,#5ac687 66.5px,#a0ce5c 71.5px,#70ca79 72.5px,#53c48b 73.5px,#9acd60 78.5px,#91cd65 79.5px,#63c882 80.5px,#56c58a 81.5px,#9ece5d 87.5px,#83cc6e 88.5px,#5dc685 89.5px,#54c58b 90.5px,#99cd61 97.5px,#97cd62 98.5px,#59c688 100.5px,#51c48d 101.5px,#9dce5e 112.5px,#5bc687 115.5px,#4dc390 116.5px,#8fcd67 129.5px,#a8cd58 136.5px,#91cd66 141.5px,#8fcd66 145.5px,#9bcd5f 148.5px,#b3cd52 151.5px,#a6cd59 156.5px,#86cc6c 166.5px,#86cc6c 168.5px,rgba(151,205,98,0.69) 169.5px,rgba(181,205,81,0.06) 170.5px)"></i>
<i style="top:83px;left:42px;width:172px;background:linear-gradient(90deg,rgba(123,203,115,0.69) 0.5px,#8acd6a 1.5px,#a9cd57 3.5px,#a3cd5b 4.5px,#70ca79 5.5px,#67c87f 6.5px,#a4cd5a 10.5px,#9dce5e 11.5px,#6cc97c 12.5px,#61c783 13.5px,#9dce5e 17.5px,#9dce5e 18.5px,#6cc97c 19.5px,#5bc687 20.5px,#a3cd5b 25.5px,#72ca78 26.5px,#54c58b 27.5px,#9dce5e 32.5px,#7ecc71 33.5px,#51c48d 34.5px,#67c87f 36.5px,#93cd64 39.5px,#8fcd67 40.5px,#61c783 41.5px,#50c48d 42.5px,#96cd62 47.5px,#79cb74 48.5px,#4fc38e 49.5px,#54c58b 50.5px,#99cd60 55.5px,#6cc97c 56.5px,#4cc390 57.5px,#92cd65 62.5px,#8ccd69 63.5px,#5ec785 64.5px,#51c48d 65.5px,#97cd62 70.5px,#7bcb73 71.5px,#4ec38f 72.5px,#56c58a 73.5px,#9dce5e 78.5px,#6ec97b 79.5px,#4cc390 80.5px,#95cd63 86.5px,#8acd6a 87.5px,#63c881 88.5px,#4cc390 89.5px,#99cd61 97.5px,#58c688 99.5px,#4cc390 100.5px,#95cd63 110.5px,#90cd66 111.5px,#4dc390 114.5px,#4bc391 115.5px,#95cd63 129.5px,#9ece5e 131.5px,#9ccd5f 132.5px,#75ca77 136.5px,#5cc686 140.5px,#55c58a 144.5px,#59c688 147.5px,#68c87e 150.5px,#84cc6d 153.5px,#aecd55 156.5px,#abcd56 158.5px,#8ccd69 169.5px,rgba(140,205,104,0.94) 170.5px,rgba(141,205,104,0.31) 171.5px)"></i>
<i style="top:84px;left:42px;width:173px;background:linear-gradient(90deg,rgba(128,204,112,0.75) 0.5px,#8fcd66 1.5px,#adcd55 3.5px,#7acb74 4.5px,#5dc785 5.5px,#a7cd59 10.5px,#75ca77 11.5px,#58c588 12.5px,#a2ce5b 17.5px,#74ca77 18.5px,#52c48c 19.5px,#9bcd5f 24.5px,#7bcb73 25.5px,#4dc38f 26.5px,#93cd64 31.5px,#86cc6c 32.5px,#58c588 33.5px,#51c48d 34.5px,#97cd62 39.5px,#69c97e 40.5px,#48c293 41.5px,#8ccd68 46.5px,#81cc6f 47.5px,#56c58a 48.5px,#4bc391 49.5px,#91cd65 54.5px,#74ca77 55.5px,#4ac292 56.5px,#50c48e 57.5px,#95cd63 62.5px,#67c87f 63.5px,#47c293 64.5px,#8dcd68 69.5px,#86cc6c 70.5px,#58c589 71.5px,#4cc390 72.5px,#91cd65 77.5px,#79cb74 78.5px,#4ec38f 79.5px,#4fc38e 80.5px,#8bcd69 85.5px,#91cd65 86.5px,#46c194 88.5px,#93cd64 96.5px,#78cb74 97.5px,#59c688 98.5px,#46c194 99.5px,#91cd65 109.5px,#84cc6d 110.5px,#55c58a 112.5px,#44c195 113.5px,#97cd62 128.5px,#90cd66 129.5px,#5fc784 133.5px,#4cc390 135.5px,#5ec785 145.5px,#5ac687 153.5px,#59c688 155.5px,#87cc6c 158.5px,#accd55 160.5px,#abcd56 162.5px,#95cd63 171.5px,rgba(148,205,99,0.50) 172.5px)"></i>
<i style="top:85px;left:42px;width:173px;background:linear-gradient(90deg,#85cc6d 0.5px,#a4cd5a 2.5px,#83cc6e 3.5px,#54c58b 4.5px,#9fce5d 9.5px,#7dcb71 10.5px,#4fc48e 11.5px,#98cd61 16.5px,#7dcb72 17.5px,#4fc38e 18.5px,#57c589 19.5px,#91cd65 23.5px,#83cc6e 24.5px,#55c58a 25.5px,#50c48d 26.5px,#89cd6a 30.5px,#8ecd67 31.5px,#60c783 32.5px,#49c292 33.5px,#8ecd67 38.5px,#71ca79 39.5px,#47c293 40.5px,#4cc390 41.5px,#83cc6e 45.5px,#88cd6b 46.5px,#5dc685 47.5px,#43c196 48.5px,#87cc6c 53.5px,#7ccb72 54.5px,#51c48d 55.5px,#47c293 56.5px,#8bcd69 61.5px,#6fca7a 62.5px,#45c194 63.5px,#4bc391 64.5px,#8fcd66 69.5px,#61c783 70.5px,#44c196 71.5px,#86cc6c 76.5px,#84cc6d 77.5px,#58c589 78.5px,#46c194 79.5px,#8dcd68 85.5px,#70ca79 86.5px,#4cc390 87.5px,#47c294 88.5px,#8bcd69 95.5px,#7acb74 96.5px,#59c687 97.5px,#41c097 98.5px,#8dcd68 108.5px,#4ac291 111.5px,#42c097 112.5px,#8dcd68 125.5px,#8fcd67 126.5px,#54c58b 130.5px,#48c293 131.5px,#4ac291 133.5px,#64c881 143.5px,#66c87f 151.5px,#56c58a 159.5px,#61c783 160.5px,#a7cd58 164.5px,#b0cd53 165.5px,#a2ce5b 171.5px,rgba(161,206,92,0.94) 172.5px)"></i>
<i style="top:86px;left:42px;width:173px;background:linear-gradient(90deg,#8acd6a 0.5px,#99cd60 1.5px,#8bcd69 2.5px,#5bc686 3.5px,#59c688 4.5px,#94cd64 8.5px,#86cc6c 9.5px,#57c589 10.5px,#54c58b 11.5px,#8ecd67 15.5px,#85cc6d 16.5px,#56c589 17.5px,#4ec38e 18.5px,#87cc6b 22.5px,#8acd6a 23.5px,#5cc686 24.5px,#49c292 25.5px,#8ecd67 30.5px,#42c097 32.5px,#84cc6d 37.5px,#78cb75 38.5px,#4ec38f 39.5px,#45c195 40.5px,#87cc6c 45.5px,#3dbf9a 47.5px,#6fca7a 51.5px,#7dcb72 52.5px,#83cc6e 53.5px,#58c588 54.5px,#3fc098 55.5px,#81cc6f 60.5px,#77cb75 61.5px,#4dc38f 62.5px,#43c196 63.5px,#85cc6d 68.5px,#6ac97d 69.5px,#41c097 70.5px,#47c293 71.5px,#89cd6a 76.5px,#3ebf99 78.5px,#83cc6e 84.5px,#77cb75 85.5px,#52c48c 86.5px,#40c098 87.5px,#83cc6e 94.5px,#7bcb73 95.5px,#3ec099 97.5px,#5ac687 101.5px,#88cd6b 107.5px,#41c097 110.5px,#3fc098 111.5px,#87cc6c 123.5px,#84cc6e 124.5px,#52c48c 127.5px,#45c195 128.5px,#42c097 129.5px,#68c87f 141.5px,#70ca79 149.5px,#69c97e 156.5px,#57c589 163.5px,#58c588 164.5px,#9dce5f 168.5px,#afcd54 169.5px,#adcd55 172.5px)"></i>
<i style="top:87px;left:42px;width:174px;background:linear-gradient(90deg,#8fcd67 0.5px,#93cd64 1.5px,#63c881 2.5px,#51c48d 3.5px,#8acd6a 7.5px,#8dcd68 8.5px,#5ec784 9.5px,#4cc390 10.5px,#84cc6d 14.5px,#8ccd68 15.5px,#5ec785 16.5px,#47c293 17.5px,#8ccd68 22.5px,#63c881 23.5px,#41c097 24.5px,#84cc6d 29.5px,#6ec97b 30.5px,#45c195 31.5px,#46c194 32.5px,#7bcb73 36.5px,#7fcc70 37.5px,#54c58b 38.5px,#3ebf99 39.5px,#7dcb71 44.5px,#6ac97d 45.5px,#43c196 46.5px,#40c098 47.5px,#81cc6f 52.5px,#3abe9d 54.5px,#69c97e 58.5px,#77cb75 59.5px,#7fcc71 60.5px,#54c58b 61.5px,#3cbf9b 62.5px,#7bcb73 67.5px,#73ca78 68.5px,#49c292 69.5px,#3fc099 70.5px,#7ecc71 75.5px,#6bc97c 76.5px,#43c196 77.5px,#40c098 78.5px,#79cb74 83.5px,#7dcb71 84.5px,#58c589 85.5px,#39be9d 86.5px,#7bcb73 93.5px,#7ccb72 94.5px,#40c098 96.5px,#3ebf9a 97.5px,#80cc70 106.5px,#4fc38e 108.5px,#3abe9c 109.5px,#60c783 116.5px,#80cc70 121.5px,#7ecb71 122.5px,#49c292 125.5px,#3cbf9b 126.5px,#6dc97c 140.5px,#79cb74 148.5px,#75ca77 155.5px,#59c688 169.5px,#8ccd69 172.5px,rgba(159,206,93,0.12) 173.5px)"></i>
<i style="top:88px;left:42px;width:174px;background:linear-gradient(90deg,#94cd64 0.5px,#6bc97d 1.5px,#49c292 2.5px,#8fcd67 7.5px,#65c880 8.5px,#45c195 9.5px,#89cd6a 14.5px,#40c098 16.5px,#82cc6e 21.5px,#6ac97d 22.5px,#41c097 23.5px,#46c194 24.5px,#7bcb73 28.5px,#75ca77 29.5px,#4bc391 30.5px,#3fc099 31.5px,#7fcc70 36.5px,#38be9e 38.5px,#74ca77 43.5px,#70ca7a 44.5px,#48c293 45.5px,#39be9d 46.5px,#77cb75 51.5px,#64c881 52.5px,#3fc099 53.5px,#3cbf9b 54.5px,#7acb73 59.5px,#37be9f 61.5px,#56c58a 64.5px,#7bcb73 67.5px,#51c48d 68.5px,#37be9e 69.5px,#73ca78 74.5px,#74ca77 75.5px,#4bc390 76.5px,#39be9d 77.5px,#7bcb73 83.5px,#3dbf9a 85.5px,#3bbf9b 86.5px,#7dcb72 93.5px,#41c097 95.5px,#39be9d 96.5px,#76cb76 104.5px,#79cb74 105.5px,#47c293 107.5px,#35bda0 108.5px,#7ccb72 120.5px,#45c195 123.5px,#37be9f 124.5px,#6dc97b 138.5px,#80cc70 147.5px,#7ecc71 155.5px,#5dc685 172.5px,rgba(92,198,134,0.25) 173.5px)"></i>
<i style="top:89px;left:42px;width:174px;background:linear-gradient(90deg,#72ca78 0.5px,#46c194 1.5px,#4dc38f 2.5px,#85cc6d 6.5px,#6cc97c 7.5px,#42c097 8.5px,#49c292 9.5px,#7fcc70 13.5px,#6bc97c 14.5px,#42c097 15.5px,#44c195 16.5px,#79cb74 20.5px,#70ca7a 21.5px,#46c294 22.5px,#3fc099 23.5px,#71ca79 27.5px,#7bcb73 28.5px,#50c48d 29.5px,#39be9d 30.5px,#76cb76 35.5px,#60c783 36.5px,#3bbf9c 37.5px,#3cbf9b 38.5px,#76cb76 43.5px,#4ec38f 44.5px,#33bda1 45.5px,#61c783 49.5px,#6ec97b 50.5px,#6ac97d 51.5px,#44c195 52.5px,#35bd9f 53.5px,#71ca79 58.5px,#61c783 59.5px,#3cbf9b 60.5px,#38be9e 61.5px,#74ca77 66.5px,#58c588 67.5px,#35bda0 68.5px,#45c195 70.5px,#75cb76 74.5px,#32bca2 76.5px,#71ca79 82.5px,#64c881 83.5px,#42c097 84.5px,#35bda0 85.5px,#75ca77 92.5px,#5fc784 93.5px,#42c097 94.5px,#33bda1 95.5px,#70ca79 103.5px,#72ca78 104.5px,#42c097 106.5px,#32bda2 107.5px,#75ca77 118.5px,#69c97e 119.5px,#34bda0 122.5px,#77cb75 139.5px,#81cc6f 144.5px,#77cb75 148.5px,#7ccb72 152.5px,#88cc6b 155.5px,#68c87e 172.5px,rgba(103,200,127,0.38) 173.5px)"></i>
<i style="top:90px;left:42px;width:174px;background:linear-gradient(90deg,#4cc390 0.5px,#46c194 1.5px,#7bcb73 5.5px,#73ca78 6.5px,#48c293 7.5px,#42c097 8.5px,#76cb76 12.5px,#71ca79 13.5px,#47c293 14.5px,#3dbf9a 15.5px,#6fca7a 19.5px,#75cb76 20.5px,#4cc390 21.5px,#38be9d 22.5px,#76cb76 27.5px,#33bda1 29.5px,#60c783 33.5px,#6dc97b 34.5px,#65c880 35.5px,#40c098 36.5px,#35bda0 37.5px,#6fca7a 42.5px,#31bca2 44.5px,#41c098 46.5px,#6fca7a 50.5px,#48c292 51.5px,#2fbca4 52.5px,#5ac687 56.5px,#67c87f 57.5px,#67c87f 58.5px,#41c097 59.5px,#31bca3 60.5px,#69c97e 65.5px,#5fc784 66.5px,#3abf9c 67.5px,#33bda1 68.5px,#6bc97d 73.5px,#5bc687 74.5px,#38be9e 75.5px,#34bda1 76.5px,#68c87f 81.5px,#69c97e 82.5px,#47c294 83.5px,#2fbca4 84.5px,#6cc97c 91.5px,#60c783 92.5px,#43c196 93.5px,#2fbca5 94.5px,#6ac97d 102.5px,#6cc97c 103.5px,#3cbf9b 105.5px,#2fbca4 106.5px,#6bc97d 116.5px,#6ec97b 117.5px,#45c194 119.5px,#35bda0 120.5px,#31bca2 121.5px,#76cb76 137.5px,#79cb74 138.5px,#5ac687 142.5px,#48c292 146.5px,#45c195 151.5px,#50c48d 155.5px,#6cc97c 159.5px,#85cc6d 162.5px,#73ca78 172.5px,rgba(113,202,121,0.50) 173.5px)"></i>
<i style="top:91px;left:41px;width:175px;background:linear-gradient(90deg,rgba(82,196,140,0.19) 0.5px,#3ec099 1.5px,#72ca79 5.5px,#78cb74 6.5px,#4dc38f 7.5px,#3bbf9b 8.5px,#77cb76 13.5px,#4cc390 14.5px,#37be9e 15.5px,#74ca77 20.5px,#32bca2 22.5px,#60c784 26.5px,#6dc97c 27.5px,#5bc687 28.5px,#37be9e 29.5px,#36bd9f 30.5px,#64c881 34.5px,#6ac97d 35.5px,#44c196 36.5px,#2fbca4 37.5px,#66c880 42.5px,#57c589 43.5px,#35bda0 44.5px,#30bca3 45.5px,#5bc686 49.5px,#68c87f 50.5px,#2ebba5 52.5px,#32bca2 53.5px,#6ac97d 58.5px,#46c194 59.5px,#2bbba7 60.5px,#5fc784 65.5px,#64c881 66.5px,#40c098 67.5px,#2dbba6 68.5px,#61c783 73.5px,#61c783 74.5px,#3ebf9a 75.5px,#2dbba6 76.5px,#69c97e 82.5px,#2fbca4 84.5px,#30bca3 85.5px,#63c881 91.5px,#61c783 92.5px,#44c195 93.5px,#2dbba6 94.5px,#3dbf9a 97.5px,#63c881 102.5px,#67c87f 103.5px,#37be9e 105.5px,#2cbba7 106.5px,#67c87f 116.5px,#5fc784 117.5px,#38be9e 119.5px,#2bbba7 120.5px,#70ca7a 135.5px,#6bc97d 136.5px,#44c195 140.5px,#32bca2 143.5px,#3cbf9b 154.5px,#38be9e 160.5px,#4dc390 164.5px,#7ccb72 170.5px,#81cc6f 171.5px,#7dcb72 173.5px,rgba(123,203,115,0.56) 174.5px)"></i>
<i style="top:92px;left:41px;width:175px;background:linear-gradient(90deg,rgba(56,190,158,0.25) 0.5px,#43c196 1.5px,#76cb76 5.5px,#52c48c 6.5px,#35bda0 7.5px,#71ca79 12.5px,#31bca3 14.5px,#5dc785 18.5px,#6ac97d 19.5px,#55c58a 20.5px,#32bca2 21.5px,#35bd9f 22.5px,#63c881 26.5px,#5ec784 27.5px,#3abe9c 28.5px,#30bca4 29.5px,#67c87f 34.5px,#29baa8 36.5px,#5dc685 41.5px,#5ac687 42.5px,#38be9d 43.5px,#2bbba8 44.5px,#52c48c 48.5px,#5ec784 49.5px,#50c48e 50.5px,#31bca3 51.5px,#2cbba7 52.5px,#60c783 57.5px,#4ac291 58.5px,#2cbba7 59.5px,#2dbba5 60.5px,#62c782 65.5px,#27baaa 67.5px,#4cc390 71.5px,#63c882 73.5px,#27baab 75.5px,#54c58b 80.5px,#5fc784 81.5px,#50c48e 82.5px,#33bda1 83.5px,#2abba8 84.5px,#62c782 91.5px,#45c195 92.5px,#2dbba5 93.5px,#2bbba7 94.5px,#62c782 102.5px,#33bda1 104.5px,#28baa9 105.5px,#63c882 115.5px,#2dbba5 118.5px,#29baa9 119.5px,#67c87f 132.5px,#65c881 133.5px,#42c097 136.5px,#31bca3 138.5px,#2dbba6 139.5px,#41c097 151.5px,#3fc099 160.5px,#34bda1 169.5px,#49c292 173.5px,rgba(79,196,142,0.75) 174.5px)"></i>
<i style="top:93px;left:41px;width:175px;background:linear-gradient(90deg,rgba(60,191,155,0.25) 0.5px,#46c294 1.5px,#6dc97c 4.5px,#57c589 5.5px,#33bda1 6.5px,#38be9d 7.5px,#67c87f 11.5px,#55c58a 12.5px,#32bca2 13.5px,#34bda1 14.5px,#61c783 18.5px,#58c588 19.5px,#35bda0 20.5px,#2fbca4 21.5px,#62c782 26.5px,#3dbf9a 27.5px,#2abba8 28.5px,#5ec785 33.5px,#4ac291 34.5px,#2cbba7 35.5px,#2cbba6 36.5px,#5ec785 41.5px,#3bbf9b 42.5px,#25b9ac 43.5px,#4ac291 47.5px,#55c58a 48.5px,#52c48c 49.5px,#33bda1 50.5px,#26baab 51.5px,#57c589 56.5px,#4dc38f 57.5px,#2fbca4 58.5px,#27baaa 59.5px,#59c688 64.5px,#49c292 65.5px,#2bbba7 66.5px,#29baa9 67.5px,#59c688 72.5px,#48c292 73.5px,#2bbba7 74.5px,#28baa9 75.5px,#56c58a 80.5px,#54c58b 81.5px,#36be9f 82.5px,#24b9ac 83.5px,#5cc686 90.5px,#2ebca5 92.5px,#26baab 93.5px,#5dc785 101.5px,#30bca3 103.5px,#24b9ac 104.5px,#58c589 113.5px,#5bc687 114.5px,#34bda1 116.5px,#25b9ac 117.5px,#57c589 128.5px,#61c783 130.5px,#2bbba7 135.5px,#2bbba7 137.5px,#44c195 149.5px,#48c293 158.5px,#36be9f 173.5px,rgba(53,189,160,0.75) 174.5px)"></i>
<i style="top:94px;left:41px;width:175px;background:linear-gradient(90deg,rgba(63,192,153,0.25) 0.5px,#4ac291 1.5px,#63c882 3.5px,#5bc687 4.5px,#36be9f 5.5px,#32bca2 6.5px,#5ec785 10.5px,#58c588 11.5px,#35bda0 12.5px,#2ebba5 13.5px,#58c589 17.5px,#5bc686 18.5px,#38be9e 19.5px,#29baa9 20.5px,#5dc785 25.5px,#24b9ac 27.5px,#55c58a 32.5px,#4dc38f 33.5px,#2ebca5 34.5px,#27baab 35.5px,#57c589 40.5px,#23b9ae 42.5px,#39be9d 45.5px,#55c58a 48.5px,#36bd9f 49.5px,#21b8af 50.5px,#4ec38f 55.5px,#50c48d 56.5px,#32bca2 57.5px,#22b9ae 58.5px,#50c48e 63.5px,#4dc38f 64.5px,#2fbca4 65.5px,#23b9ae 66.5px,#50c48e 71.5px,#4dc38f 72.5px,#2fbca4 73.5px,#22b9ae 74.5px,#57c589 80.5px,#22b9ae 82.5px,#34bda1 85.5px,#54c58b 89.5px,#47c293 90.5px,#2fbca4 91.5px,#21b9af 92.5px,#57c589 100.5px,#2dbba5 102.5px,#21b8af 103.5px,#53c48b 112.5px,#50c48e 113.5px,#2bbba7 115.5px,#21b8b0 116.5px,#5ac687 128.5px,#2bbba7 132.5px,#23b9ad 133.5px,#47c293 148.5px,#4ec38f 158.5px,#3dbf9a 174.5px)"></i>
<i style="top:95px;left:41px;width:175px;background:linear-gradient(90deg,rgba(66,192,151,0.25) 0.5px,#4dc38f 1.5px,#59c688 2.5px,#5ec785 3.5px,#39be9d 4.5px,#2bbba7 5.5px,#55c58a 9.5px,#5bc686 10.5px,#38be9e 11.5px,#28baaa 12.5px,#5bc686 17.5px,#3abf9c 18.5px,#24b9ad 19.5px,#54c58b 24.5px,#42c096 25.5px,#26baab 26.5px,#27baaa 27.5px,#4dc38f 31.5px,#50c48e 32.5px,#31bca3 33.5px,#21b9af 34.5px,#4fc38e 39.5px,#40c098 40.5px,#25b9ac 41.5px,#22b9ae 42.5px,#50c48e 47.5px,#1fb8b1 49.5px,#2bbba7 51.5px,#51c48d 55.5px,#1db8b3 57.5px,#50c48d 63.5px,#32bca2 64.5px,#1db8b2 65.5px,#47c293 70.5px,#51c48d 71.5px,#33bda1 72.5px,#1db8b3 73.5px,#4ec38f 79.5px,#3ebf9a 80.5px,#25b9ac 81.5px,#20b8b0 82.5px,#4cc390 88.5px,#48c293 89.5px,#1db8b3 91.5px,#50c48e 99.5px,#2bbba7 101.5px,#1db8b2 102.5px,#4ec38e 111.5px,#46c194 112.5px,#24b9ad 114.5px,#1eb8b1 115.5px,#52c48c 126.5px,#25b9ac 130.5px,#20b8b0 131.5px,#4ac292 147.5px,#54c58b 157.5px,#45c194 174.5px)"></i>
<i style="top:96px;left:41px;width:175px;background:linear-gradient(90deg,rgba(69,193,149,0.25) 0.5px,#50c48d 1.5px,#5cc686 2.5px,#3cbf9b 3.5px,#26baab 4.5px,#58c588 9.5px,#3abe9c 10.5px,#22b9ae 11.5px,#52c48c 16.5px,#3dbf9a 17.5px,#21b9af 18.5px,#38be9e 21.5px,#4cc390 23.5px,#44c195 24.5px,#28baaa 25.5px,#22b9af 26.5px,#50c48e 31.5px,#32bda2 32.5px,#1cb8b3 33.5px,#47c293 38.5px,#42c097 39.5px,#27baaa 40.5px,#1eb8b2 41.5px,#48c293 46.5px,#39be9d 47.5px,#21b8af 48.5px,#1eb8b2 49.5px,#49c292 54.5px,#37be9f 55.5px,#1eb8b1 56.5px,#1fb8b1 57.5px,#49c292 62.5px,#1db8b3 64.5px,#26baab 66.5px,#49c292 70.5px,#36be9f 71.5px,#1eb8b1 72.5px,#1eb8b1 73.5px,#46c194 78.5px,#41c097 79.5px,#28baaa 80.5px,#1bb7b4 81.5px,#49c292 88.5px,#1db8b3 90.5px,#1db8b2 91.5px,#49c292 98.5px,#3dbf9a 99.5px,#1ab7b6 101.5px,#4ac292 110.5px,#3ebf99 111.5px,#1eb8b2 113.5px,#1cb7b4 114.5px,#4ac291 124.5px,#47c294 125.5px,#21b9af 128.5px,#1cb8b3 129.5px,#4cc390 146.5px,#56c58a 152.5px,#52c48c 157.5px,#57c589 163.5px,#4dc38f 174.5px)"></i>
<i style="top:97px;left:41px;width:176px;background:linear-gradient(90deg,rgba(71,194,147,0.44) 0.5px,#53c48c 1.5px,#3ebf9a 2.5px,#21b9af 3.5px,#44c195 7.5px,#4fc38e 8.5px,#3cbf9b 9.5px,#20b8b0 10.5px,#2dbba6 12.5px,#4ac291 15.5px,#3ebf99 16.5px,#23b9ae 17.5px,#21b9af 18.5px,#44c195 22.5px,#46c194 23.5px,#29baa9 24.5px,#1db8b3 25.5px,#48c293 30.5px,#34bda1 31.5px,#1cb7b4 32.5px,#26baab 34.5px,#40c098 37.5px,#44c196 38.5px,#29baa9 39.5px,#19b7b6 40.5px,#40c098 45.5px,#3bbf9c 46.5px,#22b9ae 47.5px,#19b7b6 48.5px,#41c097 53.5px,#38be9d 54.5px,#20b8b0 55.5px,#1ab7b5 56.5px,#41c097 61.5px,#37be9e 62.5px,#1fb8b1 63.5px,#1ab7b5 64.5px,#41c097 69.5px,#39be9d 70.5px,#21b9af 71.5px,#19b7b6 72.5px,#44c195 78.5px,#2bbba7 79.5px,#16b6b9 80.5px,#45c195 87.5px,#1eb8b2 89.5px,#19b7b6 90.5px,#43c196 97.5px,#3bbf9c 98.5px,#17b6b8 100.5px,#45c195 109.5px,#19b7b6 112.5px,#22b9af 115.5px,#47c293 123.5px,#20b8b0 126.5px,#18b7b7 127.5px,#4ac291 144.5px,#4dc38f 145.5px,#35bda0 150.5px,#2bbba8 156.5px,#33bda1 174.5px,rgba(51,189,161,0.12) 175.5px)"></i>
<i style="top:98px;left:41px;width:176px;background:linear-gradient(90deg,rgba(74,194,145,0.50) 0.5px,#3fc098 1.5px,#23b9ad 2.5px,#22b9ae 3.5px,#47c293 7.5px,#3dbf9a 8.5px,#22b9ae 9.5px,#20b8b0 10.5px,#42c096 14.5px,#40c098 15.5px,#24b9ad 16.5px,#1cb8b3 17.5px,#47c293 22.5px,#2bbba8 23.5px,#18b7b7 24.5px,#40c098 29.5px,#35bda0 30.5px,#1db8b3 31.5px,#1ab7b5 32.5px,#42c096 37.5px,#15b6ba 39.5px,#3abe9c 44.5px,#3cbf9b 45.5px,#23b9ad 46.5px,#15b6ba 47.5px,#3abe9c 52.5px,#3abe9d 53.5px,#22b9af 54.5px,#15b6ba 55.5px,#3abe9c 60.5px,#39be9d 61.5px,#21b9af 62.5px,#15b6ba 63.5px,#39be9d 68.5px,#3cbf9b 69.5px,#24b9ad 70.5px,#14b6ba 71.5px,#3fc099 77.5px,#19b7b7 79.5px,#17b7b8 80.5px,#3ebf99 86.5px,#32bca2 87.5px,#1fb8b1 88.5px,#15b6ba 89.5px,#3cbf9b 96.5px,#39be9d 97.5px,#16b6b9 99.5px,#20b8b0 102.5px,#40c098 108.5px,#14b6bb 111.5px,#3fc099 121.5px,#3abe9c 122.5px,#16b6b9 125.5px,#45c194 141.5px,#23b9ad 147.5px,#19b7b6 150.5px,#1db8b3 162.5px,#18b7b7 174.5px,rgba(24,183,183,0.25) 175.5px)"></i>
<i style="top:99px;left:41px;width:176px;background:linear-gradient(90deg,rgba(65,192,152,0.50) 0.5px,#24b9ac 1.5px,#1db8b2 2.5px,#3fc099 6.5px,#3ec099 7.5px,#23b9ad 8.5px,#1bb7b5 9.5px,#41c098 14.5px,#25b9ac 15.5px,#17b7b8 16.5px,#3fc098 21.5px,#15b6ba 23.5px,#3abe9d 28.5px,#36bd9f 29.5px,#1eb8b2 30.5px,#16b6b9 31.5px,#3bbf9b 36.5px,#2bbba7 37.5px,#15b6ba 38.5px,#1db8b2 40.5px,#3cbf9b 44.5px,#11b5be 46.5px,#3abf9c 52.5px,#23b9ae 53.5px,#11b5be 54.5px,#3bbf9c 60.5px,#23b9ae 61.5px,#11b5be 62.5px,#3bbf9c 68.5px,#12b6bd 70.5px,#30bca3 75.5px,#38be9e 76.5px,#30bca4 77.5px,#1bb7b5 78.5px,#13b6bc 79.5px,#37be9e 85.5px,#33bda1 86.5px,#1fb8b1 87.5px,#11b5be 88.5px,#37be9f 95.5px,#37be9e 96.5px,#15b6ba 98.5px,#14b6bb 99.5px,#3bbf9b 107.5px,#11b5be 110.5px,#3bbf9b 120.5px,#17b6b8 123.5px,#12b6bc 124.5px,#3fc099 138.5px,#18b7b7 144.5px,#14b6bb 145.5px,#21b9af 159.5px,#1db8b3 174.5px,rgba(28,184,179,0.25) 175.5px)"></i>
<i style="top:100px;left:41px;width:176px;background:linear-gradient(90deg,rgba(38,186,171,0.50) 0.5px,#18b7b7 1.5px,#3fc099 6.5px,#24b9ad 7.5px,#16b6b9 8.5px,#3dbf9a 13.5px,#13b6bc 15.5px,#39be9d 20.5px,#2cbba6 21.5px,#16b6b9 22.5px,#16b6b9 23.5px,#33bda1 27.5px,#36be9f 28.5px,#1fb8b1 29.5px,#12b5bd 30.5px,#35bda0 35.5px,#2bbba7 36.5px,#16b6b9 37.5px,#13b6bc 38.5px,#36bd9f 43.5px,#11b5bd 45.5px,#19b7b7 47.5px,#35bd9f 51.5px,#10b5be 53.5px,#19b7b6 55.5px,#35bda0 59.5px,#11b5be 61.5px,#18b7b7 63.5px,#34bda1 67.5px,#28baaa 68.5px,#14b6bb 69.5px,#11b5bd 70.5px,#31bca3 75.5px,#32bca2 76.5px,#1db8b3 77.5px,#0fb5c0 78.5px,#31bca3 84.5px,#33bda1 85.5px,#10b5bf 87.5px,#2bbba7 93.5px,#36bd9f 95.5px,#14b6bb 97.5px,#10b5bf 98.5px,#36bd9f 106.5px,#19b7b6 108.5px,#0eb5c1 109.5px,#33bda1 118.5px,#34bda1 119.5px,#10b5bf 122.5px,#37be9e 135.5px,#37be9e 136.5px,#13b6bc 141.5px,#24b9ad 159.5px,#20b8b0 174.5px,rgba(32,184,176,0.25) 175.5px)"></i>
<i style="top:101px;left:41px;width:176px;background:linear-gradient(90deg,rgba(20,182,187,0.50) 0.5px,#1ab7b5 1.5px,#3abf9c 5.5px,#12b5bd 7.5px,#37be9e 12.5px,#26baab 13.5px,#11b5be 14.5px,#2abba8 18.5px,#32bda2 19.5px,#2cbba6 20.5px,#16b6b9 21.5px,#12b5bd 22.5px,#35bda0 27.5px,#1fb8b1 28.5px,#0eb5c1 29.5px,#2fbca4 34.5px,#2bbba7 35.5px,#16b6b9 36.5px,#0fb5c0 37.5px,#30bca4 42.5px,#25b9ac 43.5px,#12b5bd 44.5px,#0fb5c0 45.5px,#2fbca4 50.5px,#23b9ad 51.5px,#11b5be 52.5px,#0fb5c0 53.5px,#2fbca4 58.5px,#25b9ac 59.5px,#12b5bd 60.5px,#0fb5c0 61.5px,#2ebba5 66.5px,#29baa9 67.5px,#15b6ba 68.5px,#0eb5c2 69.5px,#32bca2 75.5px,#0db4c2 77.5px,#1fb8b0 81.5px,#32bca2 84.5px,#10b5bf 86.5px,#0eb5c1 87.5px,#31bca2 94.5px,#13b6bc 96.5px,#0db4c2 97.5px,#32bca2 105.5px,#15b6ba 107.5px,#0cb4c3 108.5px,#30bca4 117.5px,#2bbba7 118.5px,#13b6bc 120.5px,#0db4c3 121.5px,#32bda2 133.5px,#2fbca4 134.5px,#11b5be 138.5px,#10b5bf 140.5px,#25b9ac 155.5px,#24b9ad 172.5px,#23b9ad 174.5px,rgba(35,185,173,0.25) 175.5px)"></i>
<i style="top:102px;left:41px;width:176px;background:linear-gradient(90deg,rgba(21,182,185,0.50) 0.5px,#1cb8b3 1.5px,#34bda1 4.5px,#24b9ad 5.5px,#0fb5bf 6.5px,#29baa9 10.5px,#31bca3 11.5px,#26baab 12.5px,#11b5be 13.5px,#11b5be 14.5px,#2cbba6 18.5px,#2bbba7 19.5px,#16b6b9 20.5px,#0eb5c1 21.5px,#2fbca4 26.5px,#0db4c3 28.5px,#22b9ae 32.5px,#2abaa8 33.5px,#2bbba7 34.5px,#16b6b9 35.5px,#0cb4c4 36.5px,#2abba8 41.5px,#25b9ac 42.5px,#12b5bd 43.5px,#0cb4c4 44.5px,#2abba8 49.5px,#23b9ad 50.5px,#11b5be 51.5px,#0cb4c4 52.5px,#29baa8 57.5px,#25b9ac 58.5px,#12b6bd 59.5px,#0bb4c4 60.5px,#28baa9 65.5px,#29baa9 66.5px,#16b6b9 67.5px,#0ab4c6 68.5px,#2cbba7 74.5px,#1fb8b1 75.5px,#0eb5c1 76.5px,#0cb4c3 77.5px,#2cbba6 83.5px,#10b5bf 85.5px,#0bb4c4 86.5px,#2cbba6 93.5px,#12b5bd 95.5px,#0bb4c5 96.5px,#2dbba5 104.5px,#12b5bd 106.5px,#0ab4c6 107.5px,#2cbba6 116.5px,#0db4c2 119.5px,#0bb4c4 120.5px,#2ebba5 131.5px,#20b8b0 133.5px,#0bb4c4 136.5px,#26baab 153.5px,#29baa8 164.5px,#26baab 174.5px,rgba(38,186,171,0.38) 175.5px)"></i>
<i style="top:103px;left:41px;width:176px;background:linear-gradient(90deg,rgba(24,183,183,0.69) 0.5px,#1eb8b1 1.5px,#2ebba5 3.5px,#23b9ad 4.5px,#0fb5c0 5.5px,#10b5bf 6.5px,#2bbba7 10.5px,#25b9ac 11.5px,#11b5be 12.5px,#0eb5c2 13.5px,#27baaa 17.5px,#2abba8 18.5px,#15b6ba 19.5px,#0bb4c5 20.5px,#2abba8 25.5px,#1eb8b2 26.5px,#0cb4c3 27.5px,#0db4c3 28.5px,#2abaa8 33.5px,#15b6b9 34.5px,#09b3c7 35.5px,#25b9ac 40.5px,#23b9ad 41.5px,#11b5be 42.5px,#09b3c7 43.5px,#24b9ac 48.5px,#22b9af 49.5px,#10b5bf 50.5px,#09b3c8 51.5px,#24b9ad 56.5px,#24b9ad 57.5px,#12b5bd 58.5px,#09b3c8 59.5px,#28baa9 65.5px,#16b6b9 66.5px,#08b3c9 67.5px,#20b8b0 72.5px,#26baab 73.5px,#1fb8b1 74.5px,#0eb5c1 75.5px,#09b3c7 76.5px,#26baab 82.5px,#1fb8b1 83.5px,#0fb5c0 84.5px,#09b3c8 85.5px,#27baaa 92.5px,#1eb8b2 93.5px,#10b5bf 94.5px,#09b3c9 95.5px,#29baa9 103.5px,#0eb5c1 105.5px,#09b3c8 106.5px,#29baa9 115.5px,#11b5be 117.5px,#09b3c9 118.5px,#25b9ac 128.5px,#28baa9 129.5px,#25b9ac 130.5px,#0db4c2 133.5px,#09b3c8 134.5px,#24b9ac 150.5px,#2dbba6 160.5px,#18b7b7 174.5px,rgba(22,182,185,0.50) 175.5px)"></i>
<i style="top:104px;left:41px;width:176px;background:linear-gradient(90deg,rgba(26,183,182,0.75) 0.5px,#21b8b0 1.5px,#28baaa 2.5px,#22b9ae 3.5px,#0fb5c0 4.5px,#0cb4c3 5.5px,#25baac 9.5px,#23b9ad 10.5px,#10b5bf 11.5px,#0ab4c5 12.5px,#28baa9 17.5px,#14b6bb 18.5px,#09b3c9 19.5px,#24b9ad 24.5px,#1cb7b4 25.5px,#0bb4c5 26.5px,#09b3c7 27.5px,#26baab 32.5px,#14b6bb 33.5px,#07b2cb 34.5px,#19b7b6 38.5px,#21b9af 40.5px,#10b5bf 41.5px,#07b2cb 42.5px,#19b7b6 46.5px,#1fb8b1 47.5px,#20b8b0 48.5px,#0fb5c0 49.5px,#07b2cc 50.5px,#18b7b7 54.5px,#22b9ae 56.5px,#11b5be 57.5px,#07b2cc 58.5px,#17b7b8 62.5px,#23b9ad 64.5px,#08b3c9 66.5px,#0cb4c4 68.5px,#20b8b0 72.5px,#1eb8b2 73.5px,#0eb5c1 74.5px,#07b2cc 75.5px,#1bb7b4 80.5px,#21b8af 81.5px,#1db8b2 82.5px,#0eb5c1 83.5px,#07b2cc 84.5px,#1db8b3 90.5px,#22b9ae 91.5px,#1bb7b4 92.5px,#0eb5c1 93.5px,#07b2cc 94.5px,#1bb7b4 100.5px,#24b9ad 102.5px,#0bb4c5 104.5px,#07b2cb 105.5px,#1db8b3 112.5px,#21b9af 114.5px,#0bb4c5 116.5px,#07b2cc 117.5px,#1fb8b1 126.5px,#22b9af 128.5px,#0ab4c6 131.5px,#07b2cb 132.5px,#25b9ac 149.5px,#27baab 151.5px,#15b6ba 158.5px,#07b2cc 171.5px,#06b1cf 174.5px,rgba(6,177,208,0.50) 175.5px)"></i>
<i style="top:105px;left:41px;width:176px;background:linear-gradient(90deg,rgba(27,183,180,0.75) 0.5px,#22b9ae 1.5px,#20b8b0 2.5px,#0db4c2 3.5px,#09b3c7 4.5px,#20b8b0 8.5px,#21b8af 9.5px,#0eb5c1 10.5px,#08b3ca 11.5px,#23b9ad 16.5px,#12b5bd 17.5px,#07b2cd 18.5px,#18b7b7 22.5px,#1fb8b1 23.5px,#19b7b6 24.5px,#0ab4c6 25.5px,#08b2cb 26.5px,#1ab7b5 30.5px,#20b8b0 31.5px,#07b2cd 33.5px,#0fb5bf 36.5px,#1fb8b1 39.5px,#0eb5c1 40.5px,#07b1cf 41.5px,#0fb5c0 44.5px,#1db8b3 47.5px,#0db4c2 48.5px,#06b1cf 49.5px,#0fb5c0 52.5px,#1fb8b1 55.5px,#0fb5c0 56.5px,#07b1ce 57.5px,#0eb5c1 60.5px,#1eb8b2 63.5px,#13b6bb 64.5px,#08b3ca 65.5px,#07b2cd 66.5px,#15b6b9 70.5px,#1cb8b3 72.5px,#0db4c2 73.5px,#06b1cf 74.5px,#12b5bd 78.5px,#1bb7b4 80.5px,#1bb7b4 81.5px,#0db4c2 82.5px,#06b1cf 83.5px,#10b5bf 87.5px,#1db8b3 90.5px,#18b7b7 91.5px,#0cb4c4 92.5px,#06b1cf 93.5px,#13b6bc 98.5px,#1fb8b1 101.5px,#09b3c9 103.5px,#07b2ce 104.5px,#15b6b9 110.5px,#1db8b2 112.5px,#1ab7b5 113.5px,#08b3cb 115.5px,#07b2ce 116.5px,#13b6bc 122.5px,#20b8b0 126.5px,#08b3c9 129.5px,#07b1ce 130.5px,#18b7b7 141.5px,#21b9af 146.5px,#0ab4c5 153.5px,#07b2cc 158.5px,#06b1cf 174.5px,rgba(6,177,207,0.50) 175.5px)"></i>
<i style="top:106px;left:41px;width:176px;background:linear-gradient(90deg,rgba(28,184,179,0.75) 0.5px,#1db8b3 1.5px,#0bb4c4 2.5px,#07b2cc 3.5px,#1db8b2 8.5px,#0cb4c3 9.5px,#07b2ce 10.5px,#17b7b8 14.5px,#1eb8b2 15.5px,#06b1cf 17.5px,#0eb5c0 20.5px,#1ab7b5 22.5px,#16b6b8 23.5px,#09b3c8 24.5px,#07b1cf 25.5px,#10b5bf 28.5px,#1bb7b4 30.5px,#07b1ce 32.5px,#09b3c9 34.5px,#1cb7b4 38.5px,#0cb4c3 39.5px,#06b0d2 40.5px,#0cb4c4 43.5px,#1ab7b5 46.5px,#0bb4c4 47.5px,#06b0d2 48.5px,#0bb4c4 51.5px,#1ab7b5 54.5px,#0eb5c2 55.5px,#06b1d0 56.5px,#0ab4c5 59.5px,#19b7b6 62.5px,#12b5bd 63.5px,#07b2cc 64.5px,#06b1d0 65.5px,#11b5be 69.5px,#1ab7b5 71.5px,#0cb4c3 72.5px,#06b1d1 73.5px,#0eb5c1 77.5px,#19b7b6 80.5px,#0cb4c4 81.5px,#06b1d1 82.5px,#0cb4c3 86.5px,#18b7b7 89.5px,#15b6ba 90.5px,#0ab3c7 91.5px,#06b0d2 92.5px,#0fb5c0 97.5px,#1ab7b5 100.5px,#0eb5c1 101.5px,#07b2cd 102.5px,#06b1d1 103.5px,#0fb5c0 108.5px,#1ab7b5 111.5px,#0ab4c6 113.5px,#06b1d0 114.5px,#09b3c7 118.5px,#1ab7b5 124.5px,#08b2cb 127.5px,#06b0d2 128.5px,#0fb5c0 136.5px,#1cb7b4 143.5px,#08b3ca 148.5px,#06b1d0 151.5px,#08b2cb 163.5px,#07b2cd 174.5px,rgba(7,178,206,0.50) 175.5px)"></i>
<i style="top:107px;left:41px;width:176px;background:linear-gradient(90deg,rgba(26,183,182,0.75) 0.5px,#0ab3c7 1.5px,#06b1d0 2.5px,#10b5bf 5.5px,#1ab7b5 7.5px,#0ab4c6 8.5px,#06b1d1 9.5px,#0eb5c2 12.5px,#19b7b7 14.5px,#06b1d2 16.5px,#0bb4c5 19.5px,#15b6ba 21.5px,#13b6bb 22.5px,#07b2cb 23.5px,#06b0d2 24.5px,#0cb4c3 27.5px,#16b6b8 29.5px,#0db4c2 30.5px,#06b1d1 31.5px,#06b1d1 32.5px,#0db4c2 35.5px,#17b7b8 37.5px,#0ab4c6 38.5px,#06b0d4 39.5px,#09b3c7 42.5px,#17b6b8 45.5px,#0ab3c7 46.5px,#06afd4 47.5px,#0cb4c3 51.5px,#16b6b9 53.5px,#06b0d2 55.5px,#06b0d2 56.5px,#0fb5c0 60.5px,#14b6bb 61.5px,#10b5bf 62.5px,#07b2cd 63.5px,#06b0d4 64.5px,#0db4c2 68.5px,#16b6b9 70.5px,#0ab4c5 71.5px,#06b0d2 72.5px,#07b2ce 74.5px,#12b6bd 78.5px,#17b6b8 79.5px,#0ab4c6 80.5px,#06b0d2 81.5px,#06b1cf 83.5px,#14b6bb 88.5px,#12b5bd 89.5px,#08b3c9 90.5px,#06afd5 91.5px,#0cb4c3 96.5px,#16b6b9 99.5px,#0bb4c5 100.5px,#06b1d0 101.5px,#06b0d4 102.5px,#0cb4c3 107.5px,#16b6b9 110.5px,#07b2cc 112.5px,#06afd5 113.5px,#0cb4c3 119.5px,#15b6ba 122.5px,#14b6ba 123.5px,#07b2cc 125.5px,#06b0d3 126.5px,#0cb4c3 134.5px,#17b7b8 140.5px,#07b2cc 144.5px,#06b0d4 146.5px,#08b3c9 161.5px,#07b2cc 174.5px,rgba(7,178,204,0.62) 175.5px)"></i>
<i style="top:108px;left:41px;width:176px;background:linear-gradient(90deg,rgba(8,179,202,0.81) 0.5px,#06b0d3 1.5px,#0cb4c4 4.5px,#16b6b9 6.5px,#09b3c9 7.5px,#06afd5 8.5px,#0ab4c6 11.5px,#14b6bb 13.5px,#06b0d4 15.5px,#09b3c9 18.5px,#11b5be 20.5px,#10b5bf 21.5px,#07b2ce 22.5px,#06afd5 23.5px,#09b3c7 26.5px,#12b6bd 28.5px,#0bb4c5 29.5px,#06b0d3 30.5px,#06afd4 31.5px,#0ab4c6 34.5px,#13b6bc 36.5px,#09b3c8 37.5px,#06afd6 38.5px,#0ab4c6 42.5px,#13b6bc 44.5px,#08b3c9 45.5px,#06afd6 46.5px,#09b3c7 50.5px,#12b5bd 52.5px,#06b0d4 54.5px,#06afd5 55.5px,#0cb4c4 59.5px,#10b5bf 60.5px,#0db4c2 61.5px,#06b1cf 62.5px,#06aed7 63.5px,#0ab4c6 67.5px,#12b5bd 69.5px,#09b3c7 70.5px,#06afd4 71.5px,#06afd6 72.5px,#0bb4c5 76.5px,#12b6bc 78.5px,#09b3c8 79.5px,#06afd4 80.5px,#06afd6 81.5px,#0db4c3 86.5px,#10b5bf 87.5px,#0fb5c0 88.5px,#07b2cc 89.5px,#06aed7 90.5px,#09b3c7 95.5px,#11b5bd 98.5px,#08b3c9 99.5px,#06b0d4 100.5px,#06aed6 101.5px,#0ab4c6 106.5px,#12b5bd 109.5px,#09b3c8 110.5px,#06aed7 112.5px,#0ab4c6 118.5px,#12b6bd 121.5px,#07b2cc 123.5px,#06aed7 125.5px,#0bb4c4 133.5px,#13b6bc 137.5px,#06b1d0 141.5px,#06aed7 143.5px,#09b3c8 160.5px,#07b2cb 174.5px,rgba(7,178,203,0.75) 175.5px)"></i>
<i style="top:109px;left:41px;width:176px;background:linear-gradient(90deg,#06aed7 0.5px,#09b3c8 3.5px,#12b5bd 5.5px,#07b2cc 6.5px,#06aed8 7.5px,#0bb4c5 11.5px,#10b5bf 12.5px,#06aed6 14.5px,#07b2cc 17.5px,#0db4c2 19.5px,#0db4c2 20.5px,#06b1d1 21.5px,#06add8 22.5px,#0ab4c6 26.5px,#0eb5c1 27.5px,#09b3c8 28.5px,#06afd6 29.5px,#06aed7 30.5px,#0bb4c5 34.5px,#0fb5c0 35.5px,#07b2cc 36.5px,#06add8 37.5px,#08b3ca 41.5px,#0fb5c0 43.5px,#07b2cc 44.5px,#06add8 45.5px,#06b1cf 48.5px,#0eb5c1 51.5px,#06afd6 53.5px,#06add8 54.5px,#09b3c8 58.5px,#0cb4c3 59.5px,#0bb4c5 60.5px,#06b0d2 61.5px,#07add9 62.5px,#0ab4c5 67.5px,#0eb5c1 68.5px,#06afd6 70.5px,#06add8 71.5px,#0bb4c5 76.5px,#0eb5c1 77.5px,#08b3ca 78.5px,#06afd6 79.5px,#06add8 80.5px,#0ab4c6 85.5px,#0db4c3 86.5px,#0cb4c4 87.5px,#06b1d0 88.5px,#07add9 89.5px,#0ab3c7 95.5px,#0db4c2 97.5px,#07b2cd 98.5px,#06aed7 99.5px,#06afd6 101.5px,#0ab4c6 106.5px,#0cb4c3 108.5px,#06aed6 110.5px,#06aed7 112.5px,#0bb4c5 118.5px,#0db4c2 120.5px,#06b0d3 122.5px,#07adda 123.5px,#0ab4c6 132.5px,#0fb5bf 135.5px,#06b1d1 138.5px,#07add9 140.5px,#0ab4c6 159.5px,#08b3ca 174.5px,rgba(8,179,202,0.75) 175.5px)"></i>
<i style="top:110px;left:41px;width:176px;background:linear-gradient(90deg,#06afd6 0.5px,#09b3c7 3.5px,#0db4c2 4.5px,#06b1d0 5.5px,#07acdb 6.5px,#09b3c9 10.5px,#0cb4c4 11.5px,#06add9 13.5px,#06b1d0 16.5px,#0ab4c6 18.5px,#0ab4c6 19.5px,#06b0d4 20.5px,#07acdb 21.5px,#08b3ca 25.5px,#0bb4c5 26.5px,#06add8 28.5px,#07adda 29.5px,#09b3c9 33.5px,#0cb4c4 34.5px,#06b1cf 35.5px,#07acda 36.5px,#07b2cd 40.5px,#0cb4c4 42.5px,#06b1cf 43.5px,#07acda 44.5px,#07b2ce 48.5px,#0bb4c5 50.5px,#06add8 52.5px,#07acdb 53.5px,#0ab3c7 58.5px,#09b3c8 59.5px,#08acdc 61.5px,#08b3c9 66.5px,#0bb4c5 67.5px,#06aed8 69.5px,#07acdb 70.5px,#09b3c9 75.5px,#0bb4c5 76.5px,#06add8 78.5px,#07acdb 79.5px,#0ab4c6 85.5px,#09b3c8 86.5px,#08acdc 88.5px,#08b3ca 94.5px,#0ab4c6 96.5px,#07adda 98.5px,#06b0d2 102.5px,#0ab4c5 106.5px,#08b3c9 107.5px,#07acdb 109.5px,#09b3c8 117.5px,#0bb4c5 118.5px,#07adda 121.5px,#06aed7 124.5px,#0bb4c5 133.5px,#06aed6 136.5px,#07acdb 138.5px,#0ab4c6 158.5px,#09b3c8 166.5px,#06afd4 174.5px,rgba(6,175,213,0.75) 175.5px)"></i>
<i style="top:111px;left:41px;width:176px;background:linear-gradient(90deg,#06afd5 0.5px,#0ab4c6 3.5px,#06b0d3 4.5px,#09abdd 5.5px,#07b2cd 9.5px,#09b3c8 10.5px,#08acdc 12.5px,#06b0d3 15.5px,#08b3ca 17.5px,#08b3ca 18.5px,#06aed7 19.5px,#09abdd 20.5px,#07b2cd 24.5px,#09b3c8 25.5px,#07acdb 27.5px,#06add9 29.5px,#09b3c8 33.5px,#06b0d2 34.5px,#09acdd 35.5px,#07b2cc 40.5px,#09b3c8 41.5px,#06b0d3 42.5px,#09acdd 43.5px,#07b2cd 48.5px,#09b3c9 49.5px,#07acdb 51.5px,#07adda 53.5px,#08b3ca 57.5px,#07b2cc 58.5px,#0aabde 60.5px,#06b1d1 64.5px,#09b3c9 66.5px,#07adda 68.5px,#09abdd 69.5px,#07b2cc 74.5px,#09b3c8 75.5px,#07adda 77.5px,#09abdd 78.5px,#07b2ce 83.5px,#08b3ca 84.5px,#07b2cb 85.5px,#0aabde 87.5px,#07b2cd 93.5px,#08b2cb 95.5px,#09abdd 97.5px,#07b2cc 104.5px,#09b3c8 105.5px,#06aed7 107.5px,#0babde 108.5px,#06b1d0 114.5px,#09b3c8 117.5px,#06add9 119.5px,#0babde 120.5px,#06b1d0 127.5px,#08b3c9 131.5px,#07adda 134.5px,#0aabde 135.5px,#06b1d0 146.5px,#0ab3c7 155.5px,#07acdb 167.5px,#11aae1 174.5px,rgba(18,170,226,0.75) 175.5px)"></i>
<i style="top:112px;left:41px;width:176px;background:linear-gradient(90deg,#06b0d4 0.5px,#08b3ca 2.5px,#06aed7 3.5px,#0cabdf 4.5px,#06afd5 7.5px,#07b2cc 9.5px,#06afd4 10.5px,#0babde 11.5px,#07b2ce 16.5px,#06b1cf 17.5px,#07adda 18.5px,#0cabdf 19.5px,#06afd5 22.5px,#07b2cc 24.5px,#0aabdd 26.5px,#07acdb 28.5px,#07b2cb 32.5px,#06afd6 33.5px,#0cabdf 34.5px,#06b1d0 39.5px,#07b2cb 40.5px,#06afd6 41.5px,#0cabdf 42.5px,#06b1d0 47.5px,#07b2cc 48.5px,#09abdd 50.5px,#0babdf 51.5px,#06b0d2 55.5px,#07b2ce 56.5px,#06b1cf 57.5px,#07add9 58.5px,#0daae0 59.5px,#06aed7 62.5px,#07b2cc 65.5px,#08acdc 67.5px,#0cabdf 68.5px,#06b0d3 72.5px,#07b2cc 74.5px,#08acdc 76.5px,#0cabdf 77.5px,#06afd4 81.5px,#07b2cd 83.5px,#06b1cf 84.5px,#06add9 85.5px,#0eaae0 86.5px,#06aed7 90.5px,#07b2cd 93.5px,#06b1cf 94.5px,#06add8 95.5px,#0dabdf 96.5px,#06afd4 101.5px,#07b2cb 104.5px,#08acdc 106.5px,#0daae0 107.5px,#06afd5 112.5px,#07b2cd 115.5px,#06b1cf 116.5px,#0aabdd 118.5px,#0cabdf 119.5px,#06b0d4 125.5px,#07b2cc 129.5px,#09abdd 132.5px,#0daae0 133.5px,#06afd6 141.5px,#07b2cb 150.5px,#09abdd 159.5px,#11aae1 165.5px,#14a9e3 174.5px,rgba(20,169,227,0.88) 175.5px)"></i>
<i style="top:113px;left:41px;width:176px;background:linear-gradient(90deg,#06b0d3 0.5px,#07b1ce 1.5px,#07adda 2.5px,#11aae1 3.5px,#06aed8 6.5px,#06b1cf 8.5px,#06aed8 9.5px,#0faae1 10.5px,#06afd5 14.5px,#06b1d1 15.5px,#06b0d3 16.5px,#09abdd 17.5px,#0faae1 18.5px,#06aed8 21.5px,#06b1d0 23.5px,#06aed7 24.5px,#0daae0 25.5px,#06aed7 29.5px,#07b1cf 31.5px,#07add9 32.5px,#10aae1 33.5px,#06aed6 37.5px,#07b1cf 39.5px,#07add9 40.5px,#10aae1 41.5px,#06aed7 45.5px,#06b1cf 47.5px,#06aed7 48.5px,#0cabdf 49.5px,#0eaae0 50.5px,#06add8 53.5px,#06b1d1 55.5px,#06b0d3 56.5px,#08acdc 57.5px,#11aae1 58.5px,#07adda 61.5px,#06b1d0 64.5px,#0babde 66.5px,#0faae1 67.5px,#07add9 70.5px,#06b1cf 73.5px,#0babde 75.5px,#0faae1 76.5px,#06aed7 80.5px,#06b1d1 82.5px,#06b0d3 83.5px,#08acdc 84.5px,#11aae2 85.5px,#06add9 89.5px,#06b1d0 92.5px,#08acdc 94.5px,#11aae2 95.5px,#07add9 99.5px,#06b1d0 103.5px,#06add8 104.5px,#10aae1 106.5px,#06aed7 111.5px,#06b1cf 114.5px,#08acdc 116.5px,#11aae1 117.5px,#06aed7 123.5px,#06b1cf 127.5px,#07acdb 129.5px,#11aae1 131.5px,#06add9 138.5px,#06b1cf 146.5px,#0babde 152.5px,#11aae1 155.5px,#11aae1 171.5px,#12aae2 175.5px)"></i>
<i style="top:114px;left:40px;width:177px;background:linear-gradient(90deg,rgba(6,174,214,0.19) 0.5px,#06b0d2 1.5px,#09abdd 2.5px,#14a9e3 3.5px,#07acda 6.5px,#06b0d3 8.5px,#07acdb 9.5px,#14a9e3 10.5px,#06add8 14.5px,#06afd4 15.5px,#06aed7 16.5px,#0daae0 17.5px,#12aae2 18.5px,#07adda 21.5px,#06b0d3 23.5px,#07acdb 24.5px,#12aae2 25.5px,#06add9 29.5px,#06b0d3 31.5px,#08acdc 32.5px,#15a9e3 33.5px,#08acdc 36.5px,#06b0d3 39.5px,#08acdc 40.5px,#15a9e3 41.5px,#07add9 45.5px,#06b0d2 47.5px,#07acda 48.5px,#11aae1 49.5px,#12aae2 50.5px,#07acda 53.5px,#06b0d4 55.5px,#06aed6 56.5px,#14a9e3 58.5px,#06add9 62.5px,#06b0d3 64.5px,#07add9 65.5px,#0eaae0 66.5px,#13aae2 67.5px,#06add9 71.5px,#06b0d2 73.5px,#07add9 74.5px,#13aae2 76.5px,#07add9 80.5px,#06b0d3 82.5px,#0aabde 84.5px,#15a9e3 85.5px,#07acdb 89.5px,#06b0d3 92.5px,#0babdf 94.5px,#14a9e3 95.5px,#06add9 100.5px,#06b0d4 102.5px,#06afd5 103.5px,#08acdc 104.5px,#12aae2 105.5px,#0faae0 107.5px,#06aed6 112.5px,#06b0d4 114.5px,#07acdb 115.5px,#14a9e3 117.5px,#07acdb 122.5px,#06b0d2 126.5px,#08acdc 128.5px,#15a9e3 130.5px,#07acdb 137.5px,#06b0d3 144.5px,#0babdf 148.5px,#15a9e3 151.5px,#0daae0 163.5px,#10aae1 176.5px)"></i>
<i style="top:115px;left:40px;width:177px;background:linear-gradient(90deg,rgba(6,175,214,0.25) 0.5px,#0cabdf 1.5px,#18a8e4 2.5px,#08acdc 5.5px,#06afd5 7.5px,#0aabde 8.5px,#19a8e5 9.5px,#07adda 13.5px,#06aed7 14.5px,#07acda 15.5px,#12aae2 16.5px,#16a9e3 17.5px,#08acdc 20.5px,#06afd5 22.5px,#0aabdd 23.5px,#17a8e4 24.5px,#07acdb 28.5px,#06aed6 30.5px,#0cabdf 31.5px,#18a8e4 32.5px,#07acdb 36.5px,#06aed7 38.5px,#0cabdf 39.5px,#18a8e4 40.5px,#07acdb 44.5px,#06afd5 46.5px,#09abdd 47.5px,#16a9e3 48.5px,#07add9 53.5px,#06afd6 54.5px,#07adda 55.5px,#17a8e4 57.5px,#07acdb 61.5px,#06afd5 63.5px,#08acdc 64.5px,#13aae2 65.5px,#16a9e3 66.5px,#07acdb 70.5px,#06afd5 72.5px,#08acdc 73.5px,#12aae2 74.5px,#16a9e3 75.5px,#07acdb 79.5px,#06afd6 81.5px,#07add9 82.5px,#17a8e4 84.5px,#07acda 89.5px,#06afd5 91.5px,#07acdb 92.5px,#17a8e4 94.5px,#07acdb 99.5px,#06afd6 101.5px,#07add9 102.5px,#0daadf 103.5px,#18a8e4 104.5px,#07adda 110.5px,#06afd6 112.5px,#0cabdf 114.5px,#16a9e3 115.5px,#0faae1 118.5px,#06aed8 123.5px,#06aed8 125.5px,#10aae1 127.5px,#19a8e5 128.5px,#08acdb 136.5px,#06afd5 141.5px,#0cabdf 144.5px,#19a8e5 147.5px,#0cabdf 161.5px,#0faae0 176.5px)"></i>
<i style="top:116px;left:40px;width:177px;background:linear-gradient(90deg,rgba(17,170,226,0.25) 0.5px,#1ba7e6 1.5px,#07acdb 5.5px,#06add8 6.5px,#1ba6e6 8.5px,#08acdc 12.5px,#06add9 13.5px,#0aabdd 14.5px,#17a8e4 15.5px,#19a8e5 16.5px,#07acda 20.5px,#06add8 21.5px,#0eaae0 22.5px,#1ba7e6 23.5px,#09abdd 27.5px,#07adda 29.5px,#1ba7e6 31.5px,#09acdc 35.5px,#07acda 37.5px,#1ba7e6 39.5px,#09abdd 43.5px,#06add9 45.5px,#0eaae0 46.5px,#1ba7e6 47.5px,#07acdb 52.5px,#06add8 53.5px,#09abdd 54.5px,#14a9e3 55.5px,#1aa8e5 56.5px,#09abdd 60.5px,#06aed7 62.5px,#0babde 63.5px,#17a8e4 64.5px,#19a8e5 65.5px,#09acdc 69.5px,#06aed7 71.5px,#0babde 72.5px,#17a8e4 73.5px,#19a8e5 74.5px,#07acda 79.5px,#06aed8 80.5px,#08acdc 81.5px,#1aa8e5 83.5px,#08acdc 88.5px,#06aed7 90.5px,#0aabde 91.5px,#15a9e3 92.5px,#1aa8e5 93.5px,#08acdc 98.5px,#06aed8 100.5px,#09abdd 101.5px,#1ba7e5 103.5px,#08acdc 109.5px,#06aed7 111.5px,#0aabdd 112.5px,#1ba7e6 114.5px,#07acdb 121.5px,#06add8 123.5px,#12aae2 125.5px,#1aa7e5 126.5px,#07acdb 136.5px,#07acda 139.5px,#1ba7e6 144.5px,#0babde 160.5px,#0eaae0 176.5px)"></i>
<i style="top:117px;left:40px;width:177px;background:linear-gradient(90deg,rgba(29,165,230,0.25) 0.5px,#19a8e5 1.5px,#09abdd 4.5px,#08acdc 5.5px,#1da4e6 7.5px,#07acdb 12.5px,#0eaae0 13.5px,#1ca6e6 14.5px,#16a9e3 16.5px,#08acdc 19.5px,#08acdc 20.5px,#1da5e6 22.5px,#08acdc 27.5px,#0aabdd 28.5px,#16a9e4 29.5px,#1ca5e6 30.5px,#08acdb 35.5px,#0aabdd 36.5px,#16a9e4 37.5px,#1ca5e6 38.5px,#08acdc 43.5px,#08acdc 44.5px,#1da4e6 46.5px,#07acda 52.5px,#0daadf 53.5px,#19a8e5 54.5px,#1ca6e6 55.5px,#08acdc 60.5px,#07acda 61.5px,#1ba6e6 63.5px,#17a8e4 65.5px,#08acdc 69.5px,#07acda 70.5px,#1ba7e6 72.5px,#17a8e4 74.5px,#07adda 79.5px,#0cabdf 80.5px,#18a8e4 81.5px,#1ca6e6 82.5px,#08acdb 88.5px,#07acdb 89.5px,#1ba7e5 91.5px,#18a8e4 93.5px,#08acdc 98.5px,#07adda 99.5px,#19a8e5 101.5px,#1ca6e6 102.5px,#07acdb 109.5px,#08acdc 110.5px,#1ba7e5 112.5px,#1aa8e5 114.5px,#07acda 121.5px,#0aabde 122.5px,#1ba7e6 124.5px,#19a8e5 127.5px,#08acdb 135.5px,#0aabde 137.5px,#1ba7e6 140.5px,#1ca5e6 142.5px,#0aabde 159.5px,#0daae0 172.5px,#14a9e3 176.5px)"></i>
<i style="top:118px;left:40px;width:178px;background:linear-gradient(90deg,rgba(27,166,230,0.25) 0.5px,#16a9e4 1.5px,#0cabdf 3.5px,#0cabdf 4.5px,#1aa8e5 5.5px,#1fa2e7 6.5px,#09acdd 11.5px,#1fa2e7 13.5px,#0aabde 18.5px,#0cabdf 19.5px,#1aa8e5 20.5px,#1ea3e7 21.5px,#09abdd 26.5px,#0faae0 27.5px,#1ba6e6 28.5px,#1ea4e7 29.5px,#09abdd 34.5px,#0faae0 35.5px,#1ba6e6 36.5px,#1ea3e7 37.5px,#0aabdd 42.5px,#0cabdf 43.5px,#19a8e5 44.5px,#1ea3e7 45.5px,#08acdc 51.5px,#1da4e6 53.5px,#16a9e4 56.5px,#0aabdd 59.5px,#0aabde 60.5px,#1ea3e7 62.5px,#09abdd 68.5px,#0aabdd 69.5px,#1ea3e7 71.5px,#11aae2 75.5px,#08acdb 78.5px,#1ca6e6 80.5px,#1ba7e6 82.5px,#09abdd 87.5px,#0aabde 88.5px,#1ea3e7 90.5px,#13aae2 94.5px,#09abdd 97.5px,#0aabde 98.5px,#1da4e6 100.5px,#14a9e3 104.5px,#08acdc 108.5px,#0eaae0 109.5px,#1fa2e7 111.5px,#0aabdd 119.5px,#0aabde 120.5px,#1ba7e6 122.5px,#1fa2e7 123.5px,#0faae1 130.5px,#0aabdd 134.5px,#1fa2e7 138.5px,#0eaae0 153.5px,#0aabde 161.5px,#1ea3e7 172.5px,#229ee8 176.5px,rgba(34,157,232,0.12) 177.5px)"></i>
<i style="top:119px;left:40px;width:178px;background:linear-gradient(90deg,rgba(26,168,229,0.31) 0.5px,#14a9e3 1.5px,#0faae0 2.5px,#12aae2 3.5px,#1ea3e7 4.5px,#20a0e8 5.5px,#0faae1 9.5px,#0daae0 10.5px,#1ba7e5 11.5px,#219fe8 12.5px,#11aae2 16.5px,#0cabdf 17.5px,#12aae2 18.5px,#1ea4e7 19.5px,#1fa1e7 20.5px,#10aae1 24.5px,#0babdf 25.5px,#15a9e3 26.5px,#1fa2e7 27.5px,#19a8e5 30.5px,#0babde 33.5px,#1fa2e7 35.5px,#1aa8e5 38.5px,#0cabdf 41.5px,#1da4e6 43.5px,#20a1e7 44.5px,#0daae0 49.5px,#0daadf 50.5px,#19a8e5 51.5px,#20a0e8 52.5px,#14a9e3 56.5px,#0cabdf 58.5px,#0faae1 59.5px,#1ba7e6 60.5px,#20a0e8 61.5px,#0faae1 66.5px,#0babdf 67.5px,#0eaae0 68.5px,#1aa8e5 69.5px,#20a0e7 70.5px,#10aae1 75.5px,#0babde 77.5px,#1fa2e7 79.5px,#16a9e3 83.5px,#0babde 86.5px,#0faae1 87.5px,#1ba7e5 88.5px,#20a1e7 89.5px,#0eaae0 95.5px,#0babde 96.5px,#10aae1 97.5px,#1ba7e5 98.5px,#20a0e8 99.5px,#10aae1 105.5px,#0babdf 107.5px,#1da4e6 109.5px,#20a0e7 110.5px,#11aae1 116.5px,#0babde 118.5px,#1ba7e6 120.5px,#20a1e7 121.5px,#13a9e2 128.5px,#0cabdf 131.5px,#0daae0 132.5px,#1ea3e7 135.5px,#219fe8 136.5px,#12aae2 148.5px,#0cabdf 154.5px,#1ea3e7 163.5px,#2699e9 172.5px,#2798e9 176.5px,rgba(39,151,233,0.25) 177.5px)"></i>
<i style="top:120px;left:40px;width:178px;background:linear-gradient(90deg,rgba(24,168,228,0.50) 0.5px,#12aae2 1.5px,#19a8e5 2.5px,#219fe8 3.5px,#1fa2e7 5.5px,#13aae2 8.5px,#14a9e3 9.5px,#1ea3e7 10.5px,#229de8 11.5px,#14a9e3 15.5px,#0faae1 16.5px,#19a8e5 17.5px,#219fe8 18.5px,#17a8e4 22.5px,#0faae0 24.5px,#1ba7e6 25.5px,#229ee8 26.5px,#17a8e4 30.5px,#0faae1 32.5px,#1ba7e6 33.5px,#229ee8 34.5px,#18a8e4 38.5px,#0eaae0 40.5px,#19a8e5 41.5px,#20a0e8 42.5px,#1fa2e7 44.5px,#10aae1 48.5px,#13a9e2 49.5px,#229de8 51.5px,#13aae2 56.5px,#0faae0 57.5px,#1ea3e7 59.5px,#229ee8 60.5px,#12aae2 65.5px,#0eaae0 66.5px,#1da4e7 68.5px,#219fe8 69.5px,#12aae2 74.5px,#0faae0 75.5px,#11aae1 76.5px,#219fe8 78.5px,#10aae1 84.5px,#0daadf 85.5px,#1ea3e7 87.5px,#219fe8 88.5px,#11aae1 94.5px,#0daae0 95.5px,#1ea3e7 97.5px,#219fe8 98.5px,#12aae2 104.5px,#0faae0 105.5px,#13aae2 106.5px,#219fe8 108.5px,#16a9e4 114.5px,#10aae1 116.5px,#11aae1 117.5px,#1fa1e7 119.5px,#229ee8 120.5px,#12aae2 128.5px,#11aae2 130.5px,#219fe8 133.5px,#229ee8 135.5px,#14a9e3 146.5px,#11aae1 150.5px,#1ea3e7 155.5px,#249be9 162.5px,#2698e9 176.5px,rgba(38,152,233,0.25) 177.5px)"></i>
<i style="top:121px;left:40px;width:178px;background:linear-gradient(90deg,rgba(22,169,227,0.50) 0.5px,#1da4e6 1.5px,#259ae9 2.5px,#16a9e3 7.5px,#1ba7e5 8.5px,#229ee8 9.5px,#249be9 10.5px,#13a9e2 15.5px,#249ae9 17.5px,#15a9e3 22.5px,#16a9e3 23.5px,#249be9 25.5px,#15a9e3 30.5px,#16a9e3 31.5px,#249be9 33.5px,#16a9e3 38.5px,#14a9e3 39.5px,#249be9 41.5px,#18a8e4 46.5px,#13a9e2 47.5px,#1aa8e5 48.5px,#249ce8 50.5px,#16a9e3 55.5px,#11aae2 56.5px,#219fe8 58.5px,#21a0e8 60.5px,#11aae1 65.5px,#21a0e8 67.5px,#239de8 68.5px,#11aae2 74.5px,#1fa2e7 76.5px,#239ce8 77.5px,#13aae2 83.5px,#11aae2 84.5px,#219fe8 86.5px,#20a0e8 88.5px,#13aae2 93.5px,#13aae2 94.5px,#229ee8 96.5px,#1fa2e7 99.5px,#11aae2 104.5px,#20a1e7 106.5px,#249be9 107.5px,#12aae2 115.5px,#1fa2e7 117.5px,#249be9 118.5px,#14a9e3 127.5px,#15a9e3 128.5px,#239ce8 131.5px,#229ee8 134.5px,#14a9e3 146.5px,#239de8 152.5px,#2599e9 155.5px,#2599e9 176.5px,rgba(38,153,233,0.25) 177.5px)"></i>
<i style="top:122px;left:40px;width:178px;background:linear-gradient(90deg,rgba(33,159,232,0.50) 0.5px,#2896ea 1.5px,#19a8e5 6.5px,#2599e9 8.5px,#1da4e6 12.5px,#1aa8e5 14.5px,#2698e9 16.5px,#18a8e4 21.5px,#1ca6e6 22.5px,#2599e9 24.5px,#18a8e4 29.5px,#1ca6e6 30.5px,#2599e9 32.5px,#18a8e4 37.5px,#1ba7e5 38.5px,#2698e9 40.5px,#16a9e3 46.5px,#249be9 48.5px,#239de8 50.5px,#18a8e4 55.5px,#259ae9 57.5px,#16a9e4 64.5px,#249be9 66.5px,#18a8e4 72.5px,#14a9e3 73.5px,#229ee8 75.5px,#249be9 76.5px,#16a9e3 82.5px,#18a8e4 83.5px,#259ae9 85.5px,#16a9e3 92.5px,#1aa8e5 93.5px,#2599e9 95.5px,#17a8e4 102.5px,#18a8e4 103.5px,#249be9 105.5px,#219fe8 108.5px,#17a8e4 113.5px,#19a8e5 114.5px,#2599e9 117.5px,#18a8e4 126.5px,#2698e9 130.5px,#18a8e4 143.5px,#2797e9 150.5px,#239ce8 165.5px,#259ae9 176.5px,rgba(37,154,233,0.25) 177.5px)"></i>
<i style="top:123px;left:40px;width:178px;background:linear-gradient(90deg,rgba(41,148,234,0.50) 0.5px,#2698e9 1.5px,#1ca6e6 5.5px,#2994ea 7.5px,#1ca6e6 12.5px,#1ea3e7 13.5px,#259ae9 14.5px,#2797e9 15.5px,#1ba7e5 20.5px,#2698e9 22.5px,#249be9 24.5px,#1aa8e5 28.5px,#2698e9 30.5px,#249be9 32.5px,#1ba7e6 36.5px,#2797e9 39.5px,#1ca6e6 45.5px,#2796e9 47.5px,#1ba7e6 53.5px,#1da5e6 54.5px,#2796e9 56.5px,#1ba7e5 62.5px,#1ca6e6 63.5px,#2797e9 65.5px,#19a8e5 72.5px,#259ae9 74.5px,#1da4e7 79.5px,#18a8e4 81.5px,#2698e9 84.5px,#18a8e4 91.5px,#2698e9 94.5px,#19a8e5 101.5px,#2797e9 104.5px,#19a8e5 112.5px,#2896ea 115.5px,#1aa8e5 124.5px,#2896ea 128.5px,#1ba7e6 140.5px,#2994ea 146.5px,#239de8 164.5px,#249be9 176.5px,rgba(36,154,233,0.25) 177.5px)"></i>
<i style="top:124px;left:40px;width:178px;background:linear-gradient(90deg,rgba(40,150,234,0.50) 0.5px,#2599e9 1.5px,#1fa2e7 4.5px,#2a92ea 6.5px,#1ea4e7 11.5px,#2995ea 13.5px,#219fe8 17.5px,#1da4e6 19.5px,#2993ea 21.5px,#1da4e7 27.5px,#2994ea 29.5px,#1ca5e6 35.5px,#2895ea 37.5px,#20a1e7 42.5px,#1da4e7 43.5px,#2994ea 46.5px,#1ca5e6 52.5px,#2995ea 55.5px,#1ca6e6 61.5px,#2895ea 64.5px,#1ca6e6 70.5px,#1ea4e7 71.5px,#2895ea 73.5px,#1ba7e5 80.5px,#2699e9 82.5px,#2599e9 84.5px,#1ca5e6 90.5px,#2797e9 92.5px,#20a0e8 97.5px,#1ca5e6 100.5px,#2698e9 102.5px,#2798e9 104.5px,#1da5e6 110.5px,#239de8 112.5px,#2995ea 114.5px,#1da5e6 122.5px,#2a93ea 126.5px,#1ea4e7 137.5px,#2b92ea 143.5px,#229de8 162.5px,#249be9 176.5px,rgba(36,155,233,0.25) 177.5px)"></i>
<i style="top:125px;left:40px;width:178px;background:linear-gradient(90deg,rgba(38,152,233,0.75) 0.5px,#249be9 1.5px,#219fe8 2.5px,#239de8 3.5px,#2994ea 4.5px,#2b91ea 5.5px,#20a1e7 10.5px,#2c90eb 12.5px,#20a1e7 17.5px,#219fe8 18.5px,#2b92ea 20.5px,#1fa1e7 25.5px,#219fe8 26.5px,#2b92ea 28.5px,#20a1e7 33.5px,#20a0e8 34.5px,#2b91ea 36.5px,#1ea2e7 42.5px,#2994ea 44.5px,#2895ea 46.5px,#1fa2e7 51.5px,#2a93ea 53.5px,#229ee8 58.5px,#1ea3e7 60.5px,#2995ea 62.5px,#2796e9 64.5px,#1da4e7 69.5px,#2a93ea 72.5px,#1ea3e7 78.5px,#1ea3e7 79.5px,#2994ea 81.5px,#1ea4e7 88.5px,#2a93ea 91.5px,#1ea3e7 98.5px,#2a92ea 101.5px,#1ea3e7 109.5px,#2b91ea 112.5px,#1fa2e7 120.5px,#2b91ea 124.5px,#1fa2e7 135.5px,#2c90eb 140.5px,#229ee8 161.5px,#259ae9 168.5px,#2c90eb 176.5px,rgba(45,143,235,0.31) 177.5px)"></i>
<i style="top:126px;left:40px;width:178px;background:linear-gradient(90deg,rgba(37,154,233,0.75) 0.5px,#229ee8 1.5px,#2c8feb 3.5px,#2796e9 6.5px,#229de8 8.5px,#239ce8 9.5px,#2d8feb 11.5px,#219fe8 16.5px,#2b92ea 18.5px,#2994ea 20.5px,#20a0e8 24.5px,#2b92ea 26.5px,#2a93ea 28.5px,#21a0e8 32.5px,#2c90eb 35.5px,#219fe8 41.5px,#2c90eb 43.5px,#219fe8 49.5px,#2896ea 51.5px,#2d8feb 52.5px,#20a0e8 58.5px,#229ee8 59.5px,#2c90eb 61.5px,#20a1e7 68.5px,#2a93ea 70.5px,#2797e9 73.5px,#1fa2e7 77.5px,#2b91ea 80.5px,#1fa2e7 87.5px,#2994ea 89.5px,#2b91ea 90.5px,#1fa2e7 97.5px,#2c91ea 100.5px,#20a0e8 107.5px,#2b91ea 110.5px,#21a0e8 119.5px,#2d8feb 122.5px,#229ee8 133.5px,#2d8eeb 137.5px,#229ee8 157.5px,#3481eb 176.5px,rgba(52,129,235,0.50) 177.5px)"></i>
<i style="top:127px;left:40px;width:178px;background:linear-gradient(90deg,rgba(35,156,232,0.75) 0.5px,#2a93ea 1.5px,#308aeb 2.5px,#249ce8 7.5px,#2d8feb 9.5px,#2e8deb 10.5px,#229de8 15.5px,#2e8deb 17.5px,#239de8 23.5px,#2e8deb 25.5px,#229ee8 31.5px,#2d8feb 33.5px,#259ae9 38.5px,#239de8 39.5px,#2e8deb 42.5px,#229ee8 48.5px,#2d8eeb 51.5px,#229ee8 57.5px,#2d8eeb 60.5px,#229ee8 66.5px,#2995ea 68.5px,#2d8eeb 69.5px,#21a0e8 76.5px,#2b92ea 78.5px,#2a93ea 80.5px,#219fe8 85.5px,#239de8 86.5px,#2c8feb 88.5px,#229ee8 95.5px,#2896ea 97.5px,#2d8feb 98.5px,#229ee8 106.5px,#2e8eeb 109.5px,#229ee8 117.5px,#2d8eeb 120.5px,#239de8 130.5px,#2f8beb 135.5px,#249be9 152.5px,#3285eb 166.5px,#3482eb 176.5px,rgba(52,130,235,0.50) 177.5px)"></i>
<i style="top:128px;left:40px;width:178px;background:linear-gradient(90deg,rgba(45,143,235,0.75) 0.5px,#3188eb 1.5px,#259ae9 6.5px,#3089eb 8.5px,#2599e9 13.5px,#2698e9 14.5px,#308aeb 16.5px,#259ae9 21.5px,#2698e9 22.5px,#2f8beb 24.5px,#259ae9 29.5px,#2699e9 30.5px,#308aeb 32.5px,#249ce9 38.5px,#2e8deb 40.5px,#2f8ceb 41.5px,#259ae9 47.5px,#2f8ceb 49.5px,#249be9 56.5px,#2e8deb 58.5px,#239de8 65.5px,#2e8deb 68.5px,#239ce8 74.5px,#2994ea 76.5px,#2e8deb 77.5px,#229de8 84.5px,#2e8deb 87.5px,#239de8 94.5px,#2e8ceb 97.5px,#239ce8 104.5px,#2f8ceb 107.5px,#249be9 115.5px,#2f8beb 119.5px,#249be9 128.5px,#2f8aeb 132.5px,#2698e9 148.5px,#3286eb 157.5px,#3383eb 176.5px,rgba(51,131,235,0.50) 177.5px)"></i>
<i style="top:129px;left:40px;width:178px;background:linear-gradient(90deg,rgba(49,134,235,0.75) 0.5px,#2f8beb 1.5px,#2895ea 4.5px,#2895ea 5.5px,#3286eb 7.5px,#2798e9 12.5px,#2f8aeb 14.5px,#3089eb 15.5px,#2699e9 20.5px,#2f8aeb 22.5px,#2e8deb 24.5px,#2698e9 28.5px,#3089eb 31.5px,#2797e9 36.5px,#2796e9 37.5px,#3187eb 39.5px,#2698e9 45.5px,#3188eb 48.5px,#2699e9 54.5px,#3088eb 57.5px,#2699e9 63.5px,#2698e9 64.5px,#2f8aeb 66.5px,#249be9 73.5px,#2f8beb 76.5px,#259ae9 82.5px,#2599e9 83.5px,#2f8ceb 85.5px,#2599e9 92.5px,#2b92ea 94.5px,#2f8beb 95.5px,#2699e9 103.5px,#3089eb 106.5px,#2698e9 114.5px,#3188eb 117.5px,#2698e9 126.5px,#3187eb 130.5px,#2797e9 144.5px,#3384eb 152.5px,#3187eb 166.5px,#3384eb 176.5px,rgba(51,131,235,0.50) 177.5px)"></i>
<i style="top:130px;left:40px;width:178px;background:linear-gradient(90deg,#3089eb 0.5px,#2994ea 3.5px,#2c90eb 4.5px,#3187eb 5.5px,#3285eb 6.5px,#2995ea 11.5px,#3384eb 13.5px,#2994ea 18.5px,#2994ea 19.5px,#3285eb 21.5px,#2895ea 27.5px,#3286eb 29.5px,#2896ea 35.5px,#3286eb 38.5px,#2896ea 44.5px,#3188eb 46.5px,#308aeb 48.5px,#2896e9 53.5px,#3089eb 55.5px,#2f8aeb 57.5px,#2797e9 62.5px,#3187eb 65.5px,#2797e9 71.5px,#2896ea 72.5px,#3089eb 74.5px,#2698e9 81.5px,#3188eb 84.5px,#2698e9 91.5px,#3187eb 94.5px,#2797e9 101.5px,#3286eb 104.5px,#2797e9 112.5px,#3285eb 115.5px,#2896ea 124.5px,#3384eb 128.5px,#2994ea 141.5px,#3482eb 147.5px,#3089eb 163.5px,#3384eb 176.5px,rgba(51,132,235,0.50) 177.5px)"></i>
<i style="top:131px;left:40px;width:178px;background:linear-gradient(90deg,#2f8beb 0.5px,#2b92ea 2.5px,#3481eb 4.5px,#2b91ea 9.5px,#2c90eb 10.5px,#3482eb 12.5px,#2a93ea 17.5px,#3384eb 20.5px,#2a93ea 25.5px,#2c90eb 26.5px,#3383eb 28.5px,#2a93ea 34.5px,#3383eb 36.5px,#2a93ea 42.5px,#3089eb 44.5px,#3482eb 45.5px,#2a93ea 51.5px,#2f8aeb 53.5px,#3383eb 54.5px,#2a93ea 60.5px,#2a93ea 61.5px,#3286eb 63.5px,#2895ea 70.5px,#3285eb 73.5px,#2995ea 80.5px,#3187eb 82.5px,#2e8ceb 85.5px,#2995ea 89.5px,#2e8deb 91.5px,#3285eb 92.5px,#2994ea 99.5px,#2e8deb 101.5px,#3286eb 102.5px,#308aeb 105.5px,#2994ea 110.5px,#3285eb 113.5px,#2e8deb 118.5px,#2993ea 122.5px,#3482eb 126.5px,#2b92ea 138.5px,#3580eb 144.5px,#308aeb 162.5px,#3285eb 176.5px,rgba(51,132,235,0.50) 177.5px)"></i>
<i style="top:132px;left:40px;width:178px;background:linear-gradient(90deg,#2e8deb 0.5px,#2e8deb 1.5px,#367eeb 3.5px,#2c90eb 8.5px,#3581eb 10.5px,#3188eb 13.5px,#2c90ea 16.5px,#3581eb 18.5px,#2b91ea 24.5px,#3482eb 26.5px,#2f8beb 30.5px,#2b91ea 32.5px,#3581eb 35.5px,#2b91ea 41.5px,#3383eb 43.5px,#3384eb 45.5px,#2b91ea 50.5px,#3384eb 52.5px,#3284eb 54.5px,#2b92ea 59.5px,#3481eb 62.5px,#2b92ea 68.5px,#2b91ea 69.5px,#3384eb 71.5px,#2a93ea 78.5px,#3383eb 81.5px,#2a93ea 88.5px,#3483eb 91.5px,#2a93ea 98.5px,#3482eb 101.5px,#2b91ea 108.5px,#2f8aeb 110.5px,#3481eb 112.5px,#2b91ea 120.5px,#3580eb 124.5px,#2c90eb 135.5px,#367eeb 141.5px,#2f8aeb 161.5px,#3285eb 169.5px,#377ceb 176.5px,rgba(56,123,235,0.56) 177.5px)"></i>
<i style="top:133px;left:40px;width:178px;background:linear-gradient(90deg,#3186eb 0.5px,#367eeb 1.5px,#3580eb 3.5px,#2f8beb 7.5px,#377ceb 9.5px,#2e8deb 14.5px,#367eeb 17.5px,#2e8eeb 22.5px,#2f8beb 23.5px,#367eeb 25.5px,#2d8eeb 31.5px,#357feb 33.5px,#2d8eeb 39.5px,#3384eb 41.5px,#367deb 42.5px,#2d8eeb 48.5px,#367eeb 51.5px,#2d8eeb 57.5px,#2e8eeb 58.5px,#3580eb 60.5px,#2c90eb 67.5px,#3580eb 70.5px,#2c8feb 77.5px,#3482eb 79.5px,#2c90eb 86.5px,#3187eb 88.5px,#3580eb 89.5px,#2c90eb 96.5px,#3286eb 98.5px,#3580eb 99.5px,#2d8feb 107.5px,#367eeb 110.5px,#2d8eeb 118.5px,#367deb 122.5px,#2f8ceb 133.5px,#377ceb 138.5px,#2f8aeb 158.5px,#3c6eea 176.5px,rgba(60,109,234,0.75) 177.5px)"></i>
<i style="top:134px;left:39px;width:179px;background:linear-gradient(90deg,rgba(53,128,235,0.06) 0.5px,#3978eb 1.5px,#3089eb 6.5px,#377deb 8.5px,#387beb 9.5px,#2f8beb 14.5px,#377ceb 16.5px,#2f8ceb 22.5px,#367deb 24.5px,#3482eb 27.5px,#2f8beb 30.5px,#377ceb 33.5px,#2f8beb 39.5px,#367eeb 41.5px,#367feb 43.5px,#2f8beb 48.5px,#367eeb 50.5px,#357feb 52.5px,#2e8ceb 57.5px,#377deb 60.5px,#2e8ceb 66.5px,#2f8beb 67.5px,#367eeb 69.5px,#2d8eeb 76.5px,#367eeb 79.5px,#2e8deb 86.5px,#3580eb 88.5px,#3580eb 90.5px,#2e8ceb 96.5px,#3580eb 98.5px,#3580eb 100.5px,#2e8deb 106.5px,#377ceb 109.5px,#2f8beb 117.5px,#387beb 121.5px,#2f8aeb 131.5px,#3979eb 136.5px,#3187eb 153.5px,#3c6fea 168.5px,#3d6ce9 177.5px,rgba(61,108,233,0.75) 178.5px)"></i>
<i style="top:135px;left:39px;width:179px;background:linear-gradient(90deg,rgba(58,118,234,0.25) 0.5px,#387aeb 1.5px,#3285eb 5.5px,#3a76ea 7.5px,#3286eb 12.5px,#3384eb 13.5px,#3978eb 15.5px,#3187eb 20.5px,#3285eb 21.5px,#3979eb 23.5px,#3187eb 29.5px,#387aeb 31.5px,#3187eb 37.5px,#3979eb 40.5px,#3188eb 46.5px,#3979eb 49.5px,#3188eb 55.5px,#3580eb 57.5px,#387aeb 58.5px,#308aeb 65.5px,#387beb 68.5px,#308aeb 74.5px,#3482eb 76.5px,#377ceb 77.5px,#2f8beb 84.5px,#387beb 87.5px,#2f8aeb 94.5px,#387aeb 97.5px,#3089eb 104.5px,#387beb 107.5px,#3187eb 116.5px,#3979eb 119.5px,#3186eb 129.5px,#3977ea 133.5px,#3384eb 149.5px,#3b72ea 159.5px,#3c6eea 177.5px,rgba(60,109,234,0.75) 178.5px)"></i>
<i style="top:136px;left:39px;width:179px;background:linear-gradient(90deg,rgba(57,120,235,0.25) 0.5px,#387beb 1.5px,#3481eb 3.5px,#3a74ea 6.5px,#3384eb 11.5px,#3977ea 13.5px,#3482eb 18.5px,#3285eb 19.5px,#3978eb 21.5px,#377deb 24.5px,#3384eb 27.5px,#3a76ea 30.5px,#3384eb 36.5px,#3978eb 38.5px,#377ceb 41.5px,#3384eb 45.5px,#3978eb 47.5px,#3285eb 54.5px,#3977eb 57.5px,#3286eb 63.5px,#3978eb 66.5px,#3187eb 73.5px,#3979eb 76.5px,#3187eb 82.5px,#3580eb 84.5px,#387aeb 85.5px,#3286eb 92.5px,#3979eb 95.5px,#3285eb 103.5px,#3977eb 106.5px,#3284eb 114.5px,#3a76ea 117.5px,#3384eb 126.5px,#3a74ea 131.5px,#3481eb 145.5px,#3b70ea 153.5px,#3b72ea 168.5px,#3c6fea 177.5px,rgba(60,111,234,0.75) 178.5px)"></i>
<i style="top:137px;left:39px;width:179px;background:linear-gradient(90deg,rgba(56,122,235,0.25) 0.5px,#377deb 1.5px,#3580eb 2.5px,#3b71ea 4.5px,#367feb 9.5px,#367eeb 10.5px,#3b71ea 12.5px,#3580eb 17.5px,#3978eb 19.5px,#3b73ea 20.5px,#3580eb 26.5px,#3a73ea 28.5px,#3481eb 34.5px,#3b73ea 37.5px,#3482eb 43.5px,#3b73ea 46.5px,#3482eb 52.5px,#3b73ea 55.5px,#3482eb 62.5px,#3977ea 64.5px,#3978eb 66.5px,#3383eb 71.5px,#3a75ea 74.5px,#3384eb 81.5px,#3a76ea 84.5px,#3383eb 91.5px,#3a76ea 94.5px,#3383eb 101.5px,#3a74ea 104.5px,#3482eb 112.5px,#3a73ea 115.5px,#3481eb 124.5px,#3b72ea 128.5px,#357feb 141.5px,#3c6eea 148.5px,#3a74ea 165.5px,#3b70ea 177.5px,rgba(60,111,234,0.75) 178.5px)"></i>
<i style="top:138px;left:39px;width:179px;background:linear-gradient(90deg,rgba(55,124,235,0.25) 0.5px,#387aeb 1.5px,#3c6eea 3.5px,#367eeb 8.5px,#3b71ea 10.5px,#3977ea 13.5px,#367eeb 16.5px,#3b72ea 18.5px,#367feb 24.5px,#3b71ea 27.5px,#367deb 33.5px,#3b71ea 35.5px,#367eeb 41.5px,#3977ea 43.5px,#3b71ea 44.5px,#367deb 51.5px,#3b72ea 53.5px,#3580eb 60.5px,#3b71ea 63.5px,#367feb 70.5px,#3a74ea 72.5px,#3581eb 79.5px,#3b73ea 82.5px,#3581eb 89.5px,#3b72ea 92.5px,#3580eb 99.5px,#3b71ea 102.5px,#357feb 110.5px,#3b71ea 113.5px,#367feb 122.5px,#3c6fea 126.5px,#377deb 138.5px,#3c6dea 144.5px,#3a75ea 164.5px,#3b70ea 177.5px,rgba(59,112,234,0.50) 178.5px)"></i>
<i style="top:139px;left:39px;width:179px;background:linear-gradient(90deg,rgba(58,116,234,0.38) 0.5px,#3c6dea 1.5px,#387aeb 6.5px,#3979eb 7.5px,#3c6dea 9.5px,#387beb 14.5px,#3c6eea 17.5px,#387beb 22.5px,#387beb 23.5px,#3c6eea 25.5px,#377ceb 31.5px,#3c6fea 34.5px,#377ceb 40.5px,#3b71ea 42.5px,#3b71ea 44.5px,#377deb 49.5px,#3c6fea 52.5px,#377ceb 58.5px,#3c6fea 61.5px,#367eeb 68.5px,#3b70ea 71.5px,#377deb 78.5px,#3b72ea 80.5px,#367eeb 87.5px,#3b70ea 90.5px,#377deb 97.5px,#3b71ea 100.5px,#377deb 108.5px,#3c70ea 111.5px,#377deb 120.5px,#3c6eea 124.5px,#387beb 135.5px,#3d6be9 141.5px,#3a76ea 162.5px,#3c6dea 172.5px,#3e67e9 177.5px,rgba(62,102,233,0.50) 178.5px)"></i>
<i style="top:140px;left:39px;width:179px;background:linear-gradient(90deg,rgba(61,106,233,0.31) 0.5px,#3c6dea 1.5px,#3978eb 5.5px,#3d6ce9 7.5px,#3978eb 13.5px,#3d6ce9 15.5px,#387aeb 21.5px,#3c6eea 23.5px,#3b72ea 26.5px,#3979eb 29.5px,#3d6ce9 32.5px,#387aeb 38.5px,#3d6ce9 41.5px,#397aeb 47.5px,#3d6ce9 50.5px,#3979eb 57.5px,#3c6fea 59.5px,#3a75ea 63.5px,#387beb 66.5px,#3c6dea 69.5px,#387beb 76.5px,#3c6fea 79.5px,#387aeb 86.5px,#3b70ea 88.5px,#387aeb 96.5px,#3c6eea 99.5px,#387beb 106.5px,#3c6eea 109.5px,#387aeb 118.5px,#3d6ce9 122.5px,#3979eb 132.5px,#3d6ae9 138.5px,#3a75ea 158.5px,#425ce8 177.5px,rgba(66,91,232,0.50) 178.5px)"></i>
<i style="top:141px;left:39px;width:179px;background:linear-gradient(90deg,rgba(61,108,233,0.25) 0.5px,#3c6eea 1.5px,#3a74ea 3.5px,#3e68e9 6.5px,#3a75ea 11.5px,#3d6ae9 14.5px,#3a76ea 19.5px,#3d6ae9 22.5px,#3a76ea 28.5px,#3d6ce9 30.5px,#3a75ea 37.5px,#3d6be9 39.5px,#3a75ea 46.5px,#3d6be9 48.5px,#3978eb 55.5px,#3d6be9 58.5px,#3978eb 64.5px,#3c6ce9 67.5px,#3979eb 74.5px,#3d6ce9 77.5px,#3979eb 84.5px,#3c6ce9 87.5px,#3978eb 94.5px,#3d6ce9 97.5px,#3978eb 104.5px,#3d6be9 108.5px,#3977ea 116.5px,#3d6be9 120.5px,#3a75ea 130.5px,#3e68e9 135.5px,#3b73ea 152.5px,#4061e9 168.5px,#425ce8 177.5px,rgba(66,91,232,0.50) 178.5px)"></i>
<i style="top:142px;left:39px;width:179px;background:linear-gradient(90deg,rgba(60,109,234,0.25) 0.5px,#3c6fea 1.5px,#3b72ea 2.5px,#3e67e9 4.5px,#3b71ea 10.5px,#3e67e9 12.5px,#3b73ea 18.5px,#3e69e9 20.5px,#3a74ea 26.5px,#3e68e9 29.5px,#3a74ea 35.5px,#3e69e9 38.5px,#3a74ea 44.5px,#3e68e9 47.5px,#3a74ea 53.5px,#3e68e9 56.5px,#3a74ea 63.5px,#3d6ae9 66.5px,#3a75ea 72.5px,#3d6be9 75.5px,#3977ea 82.5px,#3d6ae9 85.5px,#3a76ea 92.5px,#3d69e9 95.5px,#3a75ea 102.5px,#3d69e9 106.5px,#3a74ea 114.5px,#3d69e9 117.5px,#3a73ea 127.5px,#3e67e9 132.5px,#3b71ea 147.5px,#3f64e9 158.5px,#425ce8 177.5px,rgba(66,92,232,0.50) 178.5px)"></i>
<i style="top:143px;left:39px;width:179px;background:linear-gradient(90deg,rgba(60,110,234,0.25) 0.5px,#3d6ce9 1.5px,#3f64e9 3.5px,#3c6fea 8.5px,#3f66e9 11.5px,#3b70ea 16.5px,#3e66e9 19.5px,#3b70ea 24.5px,#3e66e9 27.5px,#3b71ea 33.5px,#3e66e9 36.5px,#3b71ea 42.5px,#3e66e9 45.5px,#3b71ea 51.5px,#3e67e9 54.5px,#3b72ea 61.5px,#3e67e9 64.5px,#3b72ea 71.5px,#3e69e9 74.5px,#3a73ea 80.5px,#3e69e9 83.5px,#3b73ea 90.5px,#3e68e9 93.5px,#3b71ea 101.5px,#3e67e9 104.5px,#3b71ea 112.5px,#3e67e9 115.5px,#3b70ea 125.5px,#3f65e9 129.5px,#3c6ce9 144.5px,#4062e9 152.5px,#4062e9 168.5px,#425ce8 177.5px,rgba(66,91,232,0.50) 178.5px)"></i>
<i style="top:144px;left:40px;width:178px;background:linear-gradient(90deg,#4062e9 0.5px,#3d6ae9 6.5px,#3f63e9 8.5px,#3d6be9 14.5px,#3f63e9 16.5px,#3c6eea 22.5px,#3f65e9 24.5px,#3d6ce9 31.5px,#3f64e9 33.5px,#3d6ce9 40.5px,#3f64e9 42.5px,#3c6dea 49.5px,#3f65e9 52.5px,#3c6fea 58.5px,#3f65e9 61.5px,#3c6fea 68.5px,#3e66e9 71.5px,#3c6fea 78.5px,#3e67e9 81.5px,#3c70ea 87.5px,#3e67e9 91.5px,#3c6fea 98.5px,#3f65e9 101.5px,#3c6eea 109.5px,#3f65e9 112.5px,#3c6ce9 122.5px,#3f63e9 126.5px,#3d6be9 139.5px,#4061e9 146.5px,#3f63e9 164.5px,#425be8 176.5px,rgba(66,91,232,0.50) 177.5px)"></i>
<i style="top:145px;left:40px;width:178px;background:linear-gradient(90deg,#4062e9 0.5px,#3d69e9 4.5px,#4061e9 6.5px,#3d6ae9 12.5px,#4062e9 14.5px,#3d6be9 20.5px,#4062e9 23.5px,#3d6ae9 29.5px,#3f63e9 32.5px,#3d6ae9 38.5px,#3f63e9 41.5px,#3d6be9 47.5px,#4062e9 50.5px,#3d6ae9 57.5px,#3f64e9 60.5px,#3c6de9 66.5px,#3f64e9 69.5px,#3c6dea 76.5px,#3f65e9 79.5px,#3d6ce9 86.5px,#3f64e9 89.5px,#3d6ce9 96.5px,#3f63e9 99.5px,#3d6be9 107.5px,#4063e9 110.5px,#3d6be9 119.5px,#4062e9 124.5px,#3e68e9 136.5px,#415fe9 142.5px,#4062e9 163.5px,#4358e7 176.5px,rgba(67,87,231,0.50) 177.5px)"></i>
<i style="top:146px;left:40px;width:178px;background:linear-gradient(90deg,#4062e9 0.5px,#3f64e9 3.5px,#415ee8 5.5px,#3e67e9 10.5px,#415fe9 13.5px,#3e66e9 19.5px,#4060e9 21.5px,#3e68e9 27.5px,#4060e9 30.5px,#3e68e9 36.5px,#4060e9 39.5px,#3e68e9 45.5px,#4060e9 48.5px,#3e68e9 55.5px,#4061e9 58.5px,#3d69e9 64.5px,#4061e9 67.5px,#3d6ae9 74.5px,#4062e9 77.5px,#3d6ae9 84.5px,#4062e9 87.5px,#3d6ae9 94.5px,#4061e9 97.5px,#3e68e9 105.5px,#4061e9 108.5px,#3e68e9 117.5px,#4061e9 122.5px,#3f65e9 133.5px,#415ee8 139.5px,#4062e9 161.5px,#464fe5 176.5px,rgba(70,78,229,0.50) 177.5px)"></i>
<i style="top:147px;left:40px;width:178px;background:linear-gradient(90deg,rgba(64,98,233,0.88) 0.5px,#4062e9 1.5px,#425be8 3.5px,#3f63e9 9.5px,#425ce8 11.5px,#3f64e9 17.5px,#415ee8 20.5px,#3f63e9 26.5px,#415de8 28.5px,#3f65e9 34.5px,#415de8 37.5px,#3f64e9 44.5px,#415ee8 46.5px,#3f65e9 53.5px,#415fe8 56.5px,#3f65e9 63.5px,#4060e9 66.5px,#3e67e9 72.5px,#4060e9 75.5px,#3e67e9 82.5px,#4061e9 86.5px,#3e67e9 92.5px,#415fe9 95.5px,#3f66e9 103.5px,#415ee8 106.5px,#3f65e9 115.5px,#415ee8 119.5px,#3f63e9 130.5px,#425ce8 136.5px,#405fe9 155.5px,#474ae5 176.5px,rgba(72,73,228,0.31) 177.5px)"></i>
<i style="top:148px;left:40px;width:178px;background:linear-gradient(90deg,rgba(65,93,232,0.75) 0.5px,#4259e7 1.5px,#4061e9 7.5px,#425ae8 10.5px,#4062e9 15.5px,#425be8 18.5px,#4061e9 24.5px,#425ce8 27.5px,#4061e9 33.5px,#425be8 35.5px,#4061e9 42.5px,#425ce8 45.5px,#4062e9 51.5px,#425ce8 54.5px,#4062e9 61.5px,#415de8 64.5px,#4062e9 71.5px,#415ee8 74.5px,#3f65e9 80.5px,#415ee8 83.5px,#4062e9 91.5px,#415ee8 94.5px,#3f63e9 101.5px,#415de8 105.5px,#4062e9 113.5px,#425ce8 117.5px,#4061e9 127.5px,#425ae7 133.5px,#415de8 149.5px,#4849e4 176.5px,rgba(72,73,228,0.19) 177.5px)"></i>
<i style="top:149px;left:40px;width:177px;background:linear-gradient(90deg,rgba(68,86,231,0.75) 0.5px,#4357e7 1.5px,#425be8 6.5px,#4358e7 9.5px,#415de8 14.5px,#4259e7 17.5px,#415fe8 22.5px,#4359e7 25.5px,#415ee8 31.5px,#4359e7 34.5px,#415ee8 40.5px,#4359e7 43.5px,#415fe9 49.5px,#425ae8 53.5px,#405fe9 59.5px,#425ae8 62.5px,#4060e9 69.5px,#425ce8 72.5px,#4060e9 79.5px,#425ce8 82.5px,#4060e9 89.5px,#425be8 92.5px,#4060e9 99.5px,#425be8 103.5px,#415ee8 111.5px,#425ae7 115.5px,#415de8 125.5px,#4358e7 131.5px,#425ae7 145.5px,#4454e6 156.5px,#4848e4 176.5px)"></i>
<i style="top:150px;left:40px;width:177px;background:linear-gradient(90deg,rgba(68,85,231,0.56) 0.5px,#4456e7 1.5px,#4456e7 5.5px,#4357e7 9.5px,#4357e7 13.5px,#4259e7 18.5px,#425ae7 21.5px,#4357e7 24.5px,#4359e7 30.5px,#4358e7 34.5px,#4259e7 39.5px,#4358e7 43.5px,#425ae8 48.5px,#4357e7 51.5px,#425ae8 58.5px,#4259e7 62.5px,#415ce8 67.5px,#425ae7 71.5px,#415de8 77.5px,#425ae8 81.5px,#415ce8 87.5px,#4259e7 91.5px,#425be8 98.5px,#4359e7 102.5px,#425be8 109.5px,#4358e7 114.5px,#4359e7 123.5px,#4456e7 129.5px,#4456e7 142.5px,#4552e6 153.5px,#464de5 167.5px,#4847e3 175.5px,rgba(72,71,226,0.88) 176.5px)"></i>
<i style="top:151px;left:40px;width:177px;background:linear-gradient(90deg,rgba(68,84,230,0.19) 0.5px,#4454e6 1.5px,#4454e6 7.5px,#4455e7 11.5px,#4455e7 20.5px,#4356e7 28.5px,#4456e7 33.5px,#4356e7 37.5px,#4456e7 42.5px,#4455e7 47.5px,#4357e7 56.5px,#4358e7 62.5px,#4359e7 72.5px,#4259e7 82.5px,#4358e7 91.5px,#4356e7 97.5px,#4357e7 107.5px,#4456e7 114.5px,#4455e7 121.5px,#4553e6 139.5px,#464ee5 164.5px,#4745e0 175.5px,rgba(71,69,223,0.75) 176.5px)"></i>
<i style="top:152px;left:41px;width:176px;background:linear-gradient(90deg,rgba(69,81,230,0.88) 0.5px,#4650e6 1.5px,#4552e6 8.5px,#4454e6 23.5px,#4553e6 30.5px,#4552e6 35.5px,#4553e6 44.5px,#4553e6 54.5px,#4454e6 63.5px,#4455e7 73.5px,#4455e7 83.5px,#4454e6 94.5px,#4453e6 105.5px,#4552e6 118.5px,#4550e6 135.5px,#474ce5 162.5px,#4743dd 172.5px,#4641db 174.5px,rgba(70,64,217,0.56) 175.5px)"></i>
<i style="top:153px;left:41px;width:176px;background:linear-gradient(90deg,rgba(71,76,229,0.56) 0.5px,#464de5 1.5px,#464ee5 7.5px,#4550e6 15.5px,#4550e6 24.5px,#4550e6 33.5px,#4550e6 42.5px,#4550e6 52.5px,#4550e6 62.5px,#4552e6 71.5px,#4552e6 81.5px,#4551e6 92.5px,#4551e6 103.5px,#4551e6 115.5px,#464ee5 132.5px,#484ae4 160.5px,#453dd5 174.5px,rgba(69,61,212,0.25) 175.5px)"></i>
<i style="top:154px;left:41px;width:175px;background:linear-gradient(90deg,rgba(71,75,229,0.19) 0.5px,#474ce5 1.5px,#464ee5 13.5px,#464ee5 22.5px,#464ee5 31.5px,#474de5 41.5px,#464fe5 49.5px,#4650e6 56.5px,#4650e6 65.5px,#4551e6 76.5px,#4551e6 86.5px,#4550e6 96.5px,#464fe6 108.5px,#464ee5 124.5px,#474be5 138.5px,#4746e2 159.5px,#453cd4 173.5px,rgba(68,60,211,0.75) 174.5px)"></i>
<i style="top:155px;left:42px;width:174px;background:linear-gradient(90deg,rgba(71,74,229,0.88) 0.5px,#474be5 1.5px,#484ae5 6.5px,#484ae5 11.5px,#474be5 19.5px,#474be5 28.5px,#474ae5 38.5px,#474be5 47.5px,#474be5 57.5px,#464de5 66.5px,#464ee5 76.5px,#464de5 86.5px,#474be5 98.5px,#474be5 110.5px,#474ae5 124.5px,#4746e2 148.5px,#4640d9 164.5px,#443bd1 172.5px,rgba(68,58,208,0.25) 173.5px)"></i>
<i style="top:156px;left:42px;width:173px;background:linear-gradient(90deg,rgba(72,71,227,0.56) 0.5px,#4846e2 1.5px,#4847e3 9.5px,#4849e4 17.5px,#4848e4 36.5px,#4848e4 45.5px,#4848e4 55.5px,#474ae5 64.5px,#474be5 74.5px,#474be5 84.5px,#474ae5 95.5px,#4849e4 107.5px,#4848e3 122.5px,#4746e1 141.5px,#4640d9 162.5px,#443ad0 171.5px,rgba(68,57,207,0.69) 172.5px)"></i>
<i style="top:157px;left:42px;width:173px;background:linear-gradient(90deg,rgba(71,67,222,0.12) 0.5px,rgba(71,68,222,0.94) 1.5px,#4846e2 5.5px,#4745e0 10.5px,#4847e2 15.5px,#4847e2 24.5px,#4847e2 33.5px,#4848e4 40.5px,#4746e1 46.5px,#4847e3 52.5px,#4848e4 72.5px,#4848e4 82.5px,#4848e3 93.5px,#4847e2 105.5px,#4847e2 118.5px,#4746e1 131.5px,#4642dc 150.5px,#453ed7 162.5px,#4439cf 171.5px,rgba(67,57,206,0.12) 172.5px)"></i>
<i style="top:158px;left:43px;width:171px;background:linear-gradient(90deg,rgba(70,67,221,0.31) 0.5px,#4743de 1.5px,#4744df 9.5px,#4745df 17.5px,#4745e0 21.5px,#4746e1 28.5px,#4744df 34.5px,#4745e0 39.5px,#4744df 44.5px,#4745e0 49.5px,#4745e0 59.5px,#4746e1 69.5px,#4846e2 79.5px,#4846e2 89.5px,#4746e1 95.5px,#4745e0 101.5px,#4746e1 111.5px,#4744de 122.5px,#4642dc 132.5px,#453ed5 160.5px,#4338ce 168.5px,rgba(67,55,205,0.75) 169.5px,rgba(67,55,204,0.31) 170.5px)"></i>
<i style="top:159px;left:44px;width:168px;background:linear-gradient(90deg,rgba(70,66,220,0.69) 0.5px,#4641da 1.5px,#4641db 10.5px,#4643dd 18.5px,#4743dd 24.5px,#4642dc 32.5px,#4642dc 37.5px,#4643dd 46.5px,#4743dd 56.5px,#4744de 66.5px,#4744df 76.5px,#4744df 86.5px,#4744de 93.5px,#4743dd 98.5px,#4643dd 111.5px,#4640d9 128.5px,#453cd4 156.5px,#4337cc 164.5px,rgba(67,54,203,0.94) 165.5px,rgba(66,53,202,0.62) 166.5px,rgba(66,53,201,0.12) 167.5px)"></i>
<i style="top:160px;left:44px;width:166px;background:linear-gradient(90deg,rgba(69,62,214,0.06) 0.5px,rgba(69,62,213,0.94) 1.5px,#4640d9 5.5px,#453fd8 11.5px,#4641da 16.5px,#4640d9 21.5px,#4641da 25.5px,#4641da 31.5px,#4640d9 39.5px,#4641db 50.5px,#4641db 59.5px,#4641db 64.5px,#4743dd 73.5px,#4642dc 79.5px,#4641da 85.5px,#4642db 95.5px,#4641db 103.5px,#4641da 118.5px,#453ed5 134.5px,#443bd1 151.5px,#4336ca 162.5px,rgba(66,53,202,0.81) 163.5px,rgba(66,53,201,0.38) 164.5px,rgba(66,53,201,0.06) 165.5px)"></i>
<i style="top:161px;left:45px;width:162px;background:linear-gradient(90deg,rgba(69,60,212,0.31) 0.5px,#453dd5 1.5px,#453ed6 10.5px,#453fd7 19.5px,#453ed6 27.5px,#453ed6 32.5px,#453ed6 41.5px,#453ed7 51.5px,#4640d9 60.5px,#453fd8 65.5px,#4641da 70.5px,#4640d9 75.5px,#4640d9 81.5px,#4540d8 92.5px,#4640d9 101.5px,#453ed6 111.5px,#453dd5 120.5px,#443ad0 143.5px,#4235ca 160.5px,rgba(66,53,202,0.62) 161.5px)"></i>
<i style="top:162px;left:46px;width:161px;background:linear-gradient(90deg,rgba(68,60,211,0.50) 0.5px,#443cd3 1.5px,#443bd1 5.5px,#453cd4 10.5px,#443cd4 15.5px,#453dd4 19.5px,#443cd4 24.5px,#443cd3 29.5px,#443cd3 38.5px,#453dd5 47.5px,#453dd4 52.5px,#453ed5 57.5px,#453dd5 62.5px,#453ed6 67.5px,#453ed6 72.5px,#453ed6 78.5px,#453dd5 89.5px,#453dd5 101.5px,#443cd3 116.5px,#4338ce 138.5px,#4235c9 159.5px,rgba(66,53,201,0.12) 160.5px)"></i>
<i style="top:163px;left:47px;width:159px;background:linear-gradient(90deg,rgba(67,56,205,0.25) 0.5px,rgba(67,56,205,0.81) 1.5px,#4338ce 2.5px,#443ad1 7.5px,#4439d0 11.5px,#443bd1 16.5px,#443ad1 21.5px,#4439d0 26.5px,#443ad0 35.5px,#443bd1 44.5px,#443ad1 49.5px,#443bd2 54.5px,#443cd3 60.5px,#443bd2 65.5px,#453dd4 74.5px,#443bd2 79.5px,#443cd3 85.5px,#443bd2 92.5px,#443bd1 98.5px,#443ad0 112.5px,#4337cd 132.5px,#4235c9 157.5px,rgba(66,52,200,0.62) 158.5px)"></i>
<i style="top:164px;left:49px;width:157px;background:linear-gradient(90deg,rgba(67,56,206,0.50) 0.5px,#4339cf 1.5px,#4338cd 7.5px,#4439cf 12.5px,#4338ce 17.5px,#4338cd 22.5px,#4338ce 31.5px,#4339cf 40.5px,#4439cf 46.5px,#4439d0 56.5px,#443ad1 66.5px,#4439d0 71.5px,#443ad0 81.5px,#4439d0 88.5px,#4339cf 100.5px,#4339ce 107.5px,#4337cc 125.5px,#4234c8 154.5px,rgba(66,52,200,0.94) 155.5px,rgba(66,52,199,0.06) 156.5px)"></i>
<i style="top:165px;left:50px;width:155px;background:linear-gradient(90deg,rgba(67,56,205,0.19) 0.5px,rgba(67,55,204,0.81) 1.5px,#4236ca 2.5px,#4338cd 9.5px,#4337cd 14.5px,#4337cc 19.5px,#4337cc 28.5px,#4338cd 37.5px,#4338ce 43.5px,#4338ce 53.5px,#4339cf 63.5px,#4439cf 74.5px,#4338ce 84.5px,#4338cd 90.5px,#4338cd 103.5px,#4336cb 120.5px,#4234c7 149.5px,#4133c4 152.5px,rgba(65,50,195,0.88) 153.5px,rgba(65,50,194,0.19) 154.5px)"></i>
<i style="top:166px;left:52px;width:152px;background:linear-gradient(90deg,rgba(66,53,202,0.44) 0.5px,rgba(67,54,202,0.88) 1.5px,#4336cb 2.5px,#4336cb 10.5px,#4336ca 15.5px,#4336cb 24.5px,#4336cb 33.5px,#4337cd 40.5px,#4337cc 48.5px,#4337cc 53.5px,#4337cd 63.5px,#4338ce 73.5px,#4337cd 80.5px,#4336cb 86.5px,#4337cc 98.5px,#4337cc 108.5px,#4235c9 126.5px,#4133c6 140.5px,#4032c1 149.5px,rgba(64,49,192,0.81) 150.5px,rgba(64,49,192,0.06) 151.5px)"></i>
<i style="top:167px;left:54px;width:149px;background:linear-gradient(90deg,rgba(67,54,203,0.25) 0.5px,rgba(66,52,201,0.94) 2.5px,#4235c9 6.5px,#4235c9 11.5px,#4336cb 19.5px,#4235c9 23.5px,#4235ca 29.5px,#4235ca 39.5px,#4236ca 49.5px,#4336cb 59.5px,#4337cc 69.5px,#4336cb 75.5px,#4336cb 81.5px,#4235ca 94.5px,#4235c9 109.5px,#4234c7 119.5px,#4133c5 131.5px,#4031c0 146.5px,rgba(64,49,192,0.62) 147.5px,rgba(64,49,191,0.06) 148.5px)"></i>
<i style="top:168px;left:57px;width:144px;background:linear-gradient(90deg,rgba(66,52,199,0.31) 0.5px,rgba(66,52,200,0.94) 2.5px,#4234c7 6.5px,#4235c9 14.5px,#4233c6 17.5px,#4234c8 24.5px,#4235c9 30.5px,#4234c8 38.5px,#4235ca 43.5px,#4234c8 47.5px,#4336ca 53.5px,#4235c9 58.5px,#4236ca 64.5px,#4235c9 76.5px,#4235c9 88.5px,#4234c8 95.5px,#4234c8 103.5px,#4233c6 113.5px,#4133c4 123.5px,#4031c0 140.5px,#4031c0 142.5px,rgba(64,49,191,0.50) 143.5px)"></i>
<i style="top:169px;left:60px;width:140px;background:linear-gradient(90deg,rgba(66,52,199,0.31) 0.5px,rgba(65,50,195,0.94) 2.5px,#4234c7 6.5px,#4133c5 10.5px,#4233c6 19.5px,#4234c8 26.5px,#4133c5 31.5px,#4234c8 38.5px,#4234c7 42.5px,#4234c9 48.5px,#4234c7 52.5px,#4234c9 59.5px,#4234c8 70.5px,#4234c8 76.5px,#4233c6 83.5px,#4234c7 96.5px,#4133c4 103.5px,#4132c3 115.5px,#4031c0 126.5px,#4031bf 137.5px,rgba(64,49,191,0.88) 138.5px,rgba(64,49,191,0.31) 139.5px)"></i>
<i style="top:170px;left:62px;width:136px;background:linear-gradient(90deg,rgba(65,50,195,0.06) 0.5px,#4133c6 3.5px,#4132c3 9.5px,#4133c6 14.5px,#4132c3 18.5px,#4133c5 24.5px,#4133c4 28.5px,#4133c5 34.5px,#4133c6 39.5px,#4233c6 44.5px,#4133c5 48.5px,#4234c8 54.5px,#4133c6 58.5px,#4234c8 65.5px,#4133c5 70.5px,#4234c7 77.5px,#4133c4 82.5px,#4133c5 91.5px,#4132c3 97.5px,#4132c2 109.5px,#4031bf 119.5px,#4031be 133.5px,rgba(64,49,190,0.88) 134.5px,rgba(64,49,190,0.38) 135.5px)"></i>
<i style="top:171px;left:65px;width:131px;background:linear-gradient(90deg,rgba(65,50,195,0.06) 0.5px,#4031c0 3.5px,#4133c4 9.5px,#4032c1 13.5px,#4132c3 19.5px,#4132c2 23.5px,#4133c5 28.5px,#4132c2 32.5px,#4133c6 38.5px,#4132c4 43.5px,#4133c6 49.5px,#4133c4 53.5px,#4133c5 60.5px,#4132c3 64.5px,#4133c4 72.5px,#4132c3 77.5px,#4133c4 85.5px,#4032c1 91.5px,#4032c1 102.5px,#4030be 111.5px,#3f30bb 128.5px,rgba(63,47,187,0.88) 129.5px,rgba(63,47,186,0.38) 130.5px)"></i>
<i style="top:172px;left:68px;width:126px;background:linear-gradient(90deg,rgba(64,49,192,0.06) 0.5px,#4132c3 3.5px,#4031be 7.5px,#4031c1 14.5px,#4031c1 19.5px,#4132c2 23.5px,#4031c0 27.5px,#4132c3 33.5px,#4032c1 37.5px,#4133c5 43.5px,#4132c2 47.5px,#4133c5 54.5px,#4132c2 59.5px,#4132c3 66.5px,#4032c1 71.5px,#4132c2 79.5px,#4031bf 85.5px,#4031c0 95.5px,#3f30bc 102.5px,#3f2fba 119.5px,#3e2eb7 123.5px,rgba(62,46,183,0.88) 124.5px,rgba(62,46,182,0.38) 125.5px)"></i>
<i style="top:173px;left:71px;width:121px;background:linear-gradient(90deg,rgba(64,48,190,0.06) 0.5px,rgba(63,48,188,0.38) 1.5px,rgba(63,48,188,0.81) 2.5px,#4030bd 3.5px,#4031bf 9.5px,#4031bf 14.5px,#4031c0 18.5px,#4031be 22.5px,#4032c1 28.5px,#4031bf 32.5px,#4132c2 38.5px,#4031c0 42.5px,#4132c3 49.5px,#4031c0 53.5px,#4132c2 60.5px,#4031bf 65.5px,#4032c1 73.5px,#4030be 79.5px,#4031be 89.5px,#3f30bb 96.5px,#3f2fba 110.5px,#3e2db5 118.5px,rgba(62,45,181,0.88) 119.5px,rgba(62,45,181,0.38) 120.5px)"></i>
<i style="top:174px;left:74px;width:116px;background:linear-gradient(90deg,rgba(63,48,189,0.12) 0.5px,rgba(64,49,191,0.81) 2.5px,#4031be 3.5px,#3f30bb 7.5px,#4030be 13.5px,#3f30bc 17.5px,#4031be 23.5px,#4030bd 27.5px,#4031c0 33.5px,#4031be 37.5px,#4031c0 44.5px,#4031bf 49.5px,#4031c0 55.5px,#4030be 60.5px,#4031be 68.5px,#3f30bc 74.5px,#3f30bd 83.5px,#3f2fba 91.5px,#3f2fb9 102.5px,#3d2db4 112.5px,rgba(61,45,180,0.94) 113.5px,rgba(61,45,180,0.31) 115.5px)"></i>
<i style="top:175px;left:77px;width:110px;background:linear-gradient(90deg,rgba(62,47,184,0.12) 0.5px,rgba(63,47,185,0.81) 2.5px,#3f2fba 3.5px,#3f30bb 8.5px,#3f2fba 12.5px,#3f30bc 18.5px,#3f30bc 23.5px,#4030bd 28.5px,#3f30bc 32.5px,#4031bf 38.5px,#4030bd 43.5px,#4031bf 49.5px,#3f30bc 54.5px,#4030bd 62.5px,#3f2fbb 68.5px,#3f30bc 76.5px,#3f2fb9 83.5px,#3e2eb7 95.5px,#3d2db3 105.5px,rgba(61,45,179,0.94) 107.5px,rgba(61,45,179,0.31) 109.5px)"></i>
<i style="top:176px;left:80px;width:104px;background:linear-gradient(90deg,rgba(63,47,186,0.12) 0.5px,rgba(63,48,187,0.81) 2.5px,#3f2fb9 3.5px,#3e2fb8 7.5px,#3f30bb 12.5px,#3e2fb9 16.5px,#3f30bc 22.5px,#3f2fba 27.5px,#3f30bd 33.5px,#3f30bb 37.5px,#4030bd 44.5px,#3f2fbb 49.5px,#3f30bc 56.5px,#3f2fb9 61.5px,#3f2fba 70.5px,#3e2eb7 76.5px,#3e2eb7 87.5px,#3d2db3 96.5px,#3d2db3 100.5px,rgba(61,45,179,0.94) 101.5px,rgba(61,45,179,0.31) 103.5px)"></i>
<i style="top:177px;left:83px;width:98px;background:linear-gradient(90deg,rgba(62,45,181,0.12) 0.5px,rgba(62,46,182,0.56) 1.5px,rgba(62,46,182,0.88) 2.5px,#3e2eb7 3.5px,#3e2fb9 7.5px,#3e2eb7 11.5px,#3f2fba 17.5px,#3e2eb8 21.5px,#3f30bc 27.5px,#3e2fb9 31.5px,#3f30bc 38.5px,#3f2fb9 43.5px,#3f30bb 50.5px,#3e2eb7 55.5px,#3f2fb9 64.5px,#3e2eb6 70.5px,#3e2eb5 81.5px,#3d2cb2 90.5px,#3d2cb2 94.5px,rgba(61,44,178,0.94) 95.5px,rgba(61,44,178,0.31) 97.5px)"></i>
<i style="top:178px;left:86px;width:92px;background:linear-gradient(90deg,rgba(62,46,183,0.19) 0.5px,rgba(62,46,182,0.88) 2.5px,#3e2db4 3.5px,#3e2eb7 12.5px,#3e2eb6 16.5px,#3f2fb9 22.5px,#3e2eb7 26.5px,#3f2fba 33.5px,#3e2eb8 38.5px,#3e2fb8 45.5px,#3e2eb6 51.5px,#3e2eb7 58.5px,#3d2db4 64.5px,#3e2db5 74.5px,#3d2cb1 82.5px,#3d2cb1 88.5px,rgba(61,44,177,0.94) 89.5px,rgba(61,44,177,0.31) 91.5px)"></i>
<i style="top:179px;left:89px;width:87px;background:linear-gradient(90deg,rgba(61,44,178,0.19) 0.5px,rgba(61,45,180,0.88) 2.5px,#3e2db5 3.5px,#3e2db5 7.5px,#3e2db5 12.5px,#3e2eb6 17.5px,#3e2eb5 21.5px,#3e2eb7 28.5px,#3e2eb7 34.5px,#3e2eb8 39.5px,#3e2db4 44.5px,#3e2eb6 52.5px,#3d2db2 57.5px,#3d2db4 67.5px,#3c2cb0 74.5px,#3d2cb1 83.5px,rgba(60,44,176,0.06) 86.5px)"></i>
<i style="top:180px;left:92px;width:81px;background:linear-gradient(90deg,rgba(62,45,180,0.19) 0.5px,rgba(61,45,178,0.88) 2.5px,#3d2cb1 3.5px,#3e2eb5 11.5px,#3d2db2 15.5px,#3e2eb6 22.5px,#3e2db5 27.5px,#3e2eb5 34.5px,#3d2db3 39.5px,#3e2db5 46.5px,#3d2cb1 51.5px,#3d2cb2 61.5px,#3c2baf 68.5px,#3c2cb0 77.5px,rgba(60,43,173,0.06) 80.5px)"></i>
<i style="top:181px;left:95px;width:75px;background:linear-gradient(90deg,rgba(60,44,175,0.31) 0.5px,rgba(61,44,177,0.94) 2.5px,#3d2db3 6.5px,#3d2cb1 10.5px,#3d2db3 17.5px,#3d2db2 21.5px,#3e2db4 28.5px,#3d2cb2 33.5px,#3d2db3 40.5px,#3c2caf 45.5px,#3d2cb0 55.5px,#3c2bad 61.5px,#3c2bae 71.5px,rgba(59,42,171,0.06) 74.5px)"></i>
<i style="top:182px;left:98px;width:69px;background:linear-gradient(90deg,rgba(61,44,178,0.31) 0.5px,rgba(60,43,174,0.94) 2.5px,#3c2cb0 6.5px,#3d2db2 11.5px,#3d2cb0 16.5px,#3d2db4 22.5px,#3d2cb0 27.5px,#3d2cb1 35.5px,#3c2baf 41.5px,#3c2baf 49.5px,#3c2aac 55.5px,#3c2aac 65.5px,rgba(59,41,169,0.06) 68.5px)"></i>
<i style="top:183px;left:101px;width:63px;background:linear-gradient(90deg,rgba(60,43,173,0.31) 0.5px,rgba(60,43,175,0.94) 2.5px,#3c2caf 6.5px,#3c2bae 10.5px,#3d2cb1 17.5px,#3c2cb0 23.5px,#3c2cb0 29.5px,#3c2bad 35.5px,#3c2bae 42.5px,#3b2aaa 48.5px,#3b2aaa 59.5px,rgba(58,41,167,0.06) 62.5px)"></i>
<i style="top:184px;left:104px;width:57px;background:linear-gradient(90deg,rgba(60,43,174,0.31) 0.5px,#3b2aab 2.5px,#3c2caf 11.5px,#3c2bad 16.5px,#3c2baf 23.5px,#3b2aab 28.5px,#3c2bad 36.5px,#3b29a9 42.5px,#3b2aa9 52.5px,#3b29a8 53.5px,rgba(58,40,165,0.06) 56.5px)"></i>
<i style="top:185px;left:106px;width:52px;background:linear-gradient(90deg,rgba(59,42,170,0.06) 0.5px,#3c2aac 3.5px,#3b2aab 8.5px,#3c2bae 18.5px,#3b2aaa 23.5px,#3b2aab 31.5px,#3b29a8 36.5px,#3b29a9 46.5px,#3a28a6 48.5px,rgba(58,40,165,0.81) 49.5px,rgba(58,40,165,0.06) 51.5px)"></i>
<i style="top:186px;left:109px;width:46px;background:linear-gradient(90deg,rgba(60,42,172,0.06) 0.5px,#3b29a8 3.5px,#3c2bad 12.5px,#3b29a9 17.5px,#3b2aaa 25.5px,#3a28a6 30.5px,#3a29a7 40.5px,#3a28a5 42.5px,rgba(58,40,165,0.81) 43.5px,rgba(58,40,165,0.12) 45.5px)"></i>
<i style="top:187px;left:112px;width:40px;background:linear-gradient(90deg,rgba(58,41,167,0.06) 0.5px,#3b2aa9 3.5px,#3b2aaa 7.5px,#3b29a8 13.5px,#3b29a9 19.5px,#3a28a5 25.5px,#3a28a5 34.5px,#3a28a5 36.5px,rgba(58,40,165,0.81) 37.5px,rgba(58,40,165,0.12) 39.5px)"></i>
<i style="top:188px;left:115px;width:34px;background:linear-gradient(90deg,rgba(59,42,169,0.06) 0.5px,rgba(59,41,169,0.38) 1.5px,rgba(58,41,167,0.81) 2.5px,#3a28a6 3.5px,#3b29a8 13.5px,#3a28a6 23.5px,#3a28a5 30.5px,rgba(58,40,165,0.81) 31.5px,rgba(58,40,165,0.12) 33.5px)"></i>
<i style="top:189px;left:118px;width:28px;background:linear-gradient(90deg,rgba(58,40,165,0.12) 0.5px,rgba(58,40,166,0.81) 2.5px,#3a28a6 3.5px,#3a28a5 24.5px,rgba(58,40,165,0.81) 25.5px,rgba(58,40,165,0.12) 27.5px)"></i>
<i style="top:190px;left:121px;width:22px;background:linear-gradient(90deg,rgba(59,41,167,0.12) 0.5px,rgba(58,40,166,0.81) 2.5px,#3a28a5 3.5px,#3a28a5 18.5px,rgba(58,40,165,0.81) 19.5px,rgba(58,40,165,0.12) 21.5px)"></i>
<i style="top:191px;left:124px;width:16px;background:linear-gradient(90deg,rgba(58,40,165,0.12) 0.5px,rgba(58,40,165,0.81) 2.5px,#3a28a5 3.5px,#3a28a5 12.5px,rgba(58,40,165,0.88) 13.5px,rgba(58,40,165,0.56) 14.5px,rgba(58,40,165,0.12) 15.5px)"></i>
<i style="top:192px;left:127px;width:10px;background:linear-gradient(90deg,rgba(58,41,167,0.12) 0.5px,rgba(59,41,167,0.56) 1.5px,rgba(58,41,167,0.88) 2.5px,#3a28a5 3.5px,#3a28a5 6.5px,rgba(58,40,165,0.88) 7.5px,rgba(58,40,165,0.19) 9.5px)"></i>
<i style="top:193px;left:130px;width:4px;background:linear-gradient(90deg,rgba(58,40,165,0.19) 0.5px,rgba(58,40,165,0.56) 1.5px,rgba(58,40,165,0.56) 2.5px,rgba(58,40,165,0.19) 3.5px)"></i>
<i style="top:39px;left:345px;width:4px;background:linear-gradient(90deg,rgba(245,218,32,0.25) 0.5px,rgba(245,219,32,0.88) 1.5px,rgba(245,223,30,0.19) 3.5px)"></i>
<i style="top:40px;left:345px;width:7px;background:linear-gradient(90deg,rgba(245,222,31,0.25) 0.5px,#f5df1e 1.5px,#f5e21c 3.5px,rgba(244,228,27,0.88) 4.5px,rgba(245,232,25,0.19) 6.5px)"></i>
<i style="top:41px;left:345px;width:10px;background:linear-gradient(90deg,rgba(245,225,29,0.44) 0.5px,#f4e31c 1.5px,#f5ec17 6.5px,rgba(245,237,22,0.88) 7.5px,rgba(246,241,20,0.19) 9.5px)"></i>
<i style="top:42px;left:345px;width:13px;background:linear-gradient(90deg,rgba(244,228,27,0.50) 0.5px,#f5e61a 1.5px,#f7f412 9.5px,rgba(247,246,17,0.81) 10.5px,rgba(249,250,14,0.06) 12.5px)"></i>
<i style="top:43px;left:345px;width:15px;background:linear-gradient(90deg,rgba(245,231,26,0.50) 0.5px,#f5e919 1.5px,#f8f710 9.5px,#f7f412 10.5px,#f6d821 12.5px,rgba(248,202,37,0.69) 13.5px,rgba(249,192,39,0.38) 14.5px)"></i>
<i style="top:44px;left:345px;width:18px;background:linear-gradient(90deg,rgba(245,233,24,0.62) 0.5px,#f5eb17 1.5px,#f8f610 7.5px,#f5dc1f 9.5px,#fabe27 11.5px,rgba(249,198,38,0.94) 15.5px,rgba(248,203,37,0.25) 17.5px)"></i>
<i style="top:45px;left:345px;width:22px;background:linear-gradient(90deg,rgba(245,236,23,0.75) 0.5px,#f5ee16 1.5px,#f7f312 4.5px,#f5eb17 5.5px,#f9c127 8.5px,#fabc28 9.5px,#f7ce24 17.5px,rgba(247,208,35,0.94) 18.5px,rgba(246,215,33,0.06) 21.5px)"></i>
<i style="top:46px;left:345px;width:25px;background:linear-gradient(90deg,rgba(246,238,21,0.75) 0.5px,#f6f014 1.5px,#f5ed16 2.5px,#f9c326 5.5px,#fab928 6.5px,#f5da20 21.5px,rgba(245,225,29,0.12) 24.5px)"></i>
<i style="top:47px;left:345px;width:28px;background:linear-gradient(90deg,rgba(245,224,29,0.75) 0.5px,#f6d323 1.5px,#fbb729 3.5px,#f4e41b 24.5px,rgba(245,231,26,0.81) 25.5px,rgba(245,235,23,0.25) 27.5px)"></i>
<i style="top:48px;left:345px;width:32px;background:linear-gradient(90deg,#fbb629 0.5px,#f9c227 7.5px,#f5ea18 25.5px,#f5e01d 26.5px,rgba(250,191,39,0.94) 28.5px,rgba(251,179,42,0.69) 29.5px,rgba(251,184,41,0.19) 31.5px)"></i>
<i style="top:49px;left:345px;width:167px;background:linear-gradient(90deg,#fbb629 0.5px,#f4e41b 21.5px,#f5e919 23.5px,#fbb929 26.5px,#fbb22b 27.5px,#fabc28 31.5px,rgba(249,191,39,0.94) 32.5px,rgba(248,204,36,0.00) 36.5px,rgba(245,230,26,0.00) 44.5px,rgba(245,224,29,0.00) 45.5px,rgba(251,183,41,0.00) 47.5px,rgba(251,179,42,0.00) 48.5px,rgba(245,226,28,0.00) 59.5px,rgba(245,231,26,0.00) 60.5px,rgba(244,229,27,0.00) 61.5px,rgba(251,181,41,0.00) 63.5px,rgba(250,188,40,0.00) 65.5px,rgba(245,232,25,0.00) 73.5px,rgba(245,230,26,0.00) 74.5px,rgba(251,181,42,0.00) 76.5px,rgba(245,225,29,0.00) 83.5px,rgba(245,237,22,0.00) 85.5px,rgba(247,210,35,0.00) 86.5px,rgba(251,182,41,0.00) 87.5px,rgba(245,230,26,0.00) 94.5px,rgba(245,237,22,0.00) 95.5px,rgba(245,219,32,0.00) 96.5px,rgba(250,189,40,0.00) 97.5px,rgba(250,189,40,0.00) 98.5px,rgba(245,232,25,0.00) 104.5px,rgba(246,239,21,0.00) 105.5px,rgba(246,216,33,0.00) 106.5px,rgba(250,185,40,0.00) 107.5px,rgba(245,230,26,0.00) 113.5px,rgba(245,237,22,0.00) 114.5px,rgba(245,231,26,0.00) 115.5px,rgba(248,202,37,0.00) 116.5px,rgba(250,190,39,0.00) 117.5px,rgba(244,229,27,0.00) 122.5px,rgba(246,242,19,0.00) 124.5px,rgba(246,215,33,0.00) 125.5px,rgba(250,188,40,0.00) 126.5px,rgba(244,228,27,0.00) 131.5px,rgba(246,243,19,0.00) 133.5px,rgba(245,226,28,0.00) 134.5px,rgba(249,198,38,0.00) 135.5px,rgba(249,196,38,0.00) 136.5px,rgba(245,238,21,0.00) 141.5px,rgba(248,247,16,0.00) 142.5px,rgba(246,242,19,0.00) 143.5px,rgba(246,216,33,0.00) 144.5px,rgba(248,202,37,0.00) 145.5px,rgba(246,241,20,0.00) 150.5px,rgba(248,249,15,0.00) 151.5px,rgba(249,251,13,0.00) 152.5px,rgba(244,228,27,0.00) 153.5px,rgba(248,202,37,0.00) 154.5px,rgba(246,242,19,0.00) 159.5px,rgba(249,251,13,0.00) 160.5px,rgba(249,251,13,0.12) 161.5px,rgba(245,234,24,0.25) 162.5px,rgba(246,215,33,0.44) 163.5px,rgba(247,206,36,0.50) 164.5px,rgba(247,210,35,0.69) 165.5px,rgba(246,214,34,0.38) 166.5px)"></i>
<i style="top:50px;left:345px;width:167px;background:linear-gradient(90deg,#fab928 0.5px,#f4e51b 20.5px,#f5e21c 21.5px,#fbb32b 24.5px,#fbb529 27.5px,#f7cd24 35.5px,rgba(247,209,35,0.94) 36.5px,rgba(245,221,31,0.12) 40.5px,rgba(245,224,29,0.00) 41.5px,rgba(244,227,28,0.00) 43.5px,rgba(250,187,40,0.00) 45.5px,rgba(252,177,43,0.00) 46.5px,rgba(245,226,28,0.00) 58.5px,rgba(245,231,26,0.00) 59.5px,rgba(245,218,32,0.00) 60.5px,rgba(249,194,39,0.00) 61.5px,rgba(251,178,43,0.00) 62.5px,rgba(245,230,26,0.00) 72.5px,rgba(245,224,29,0.00) 73.5px,rgba(248,198,38,0.00) 74.5px,rgba(251,180,42,0.00) 75.5px,rgba(244,229,27,0.00) 83.5px,rgba(245,234,24,0.00) 84.5px,rgba(247,207,36,0.00) 85.5px,rgba(251,180,42,0.00) 86.5px,rgba(244,228,27,0.00) 93.5px,rgba(245,234,24,0.00) 94.5px,rgba(245,218,32,0.00) 95.5px,rgba(250,188,40,0.00) 96.5px,rgba(250,186,40,0.00) 97.5px,rgba(244,229,26,0.00) 103.5px,rgba(245,236,23,0.00) 104.5px,rgba(246,217,33,0.00) 105.5px,rgba(250,186,40,0.00) 106.5px,rgba(250,188,40,0.00) 107.5px,rgba(245,234,24,0.00) 113.5px,rgba(245,232,25,0.00) 114.5px,rgba(248,204,36,0.00) 115.5px,rgba(250,186,40,0.00) 116.5px,rgba(245,232,25,0.00) 122.5px,rgba(246,240,20,0.00) 123.5px,rgba(246,217,33,0.00) 124.5px,rgba(250,186,40,0.00) 125.5px,rgba(245,231,25,0.00) 131.5px,rgba(246,239,21,0.00) 132.5px,rgba(244,228,27,0.00) 133.5px,rgba(248,200,37,0.00) 134.5px,rgba(250,191,39,0.00) 135.5px,rgba(245,233,24,0.00) 140.5px,rgba(246,241,19,0.00) 141.5px,rgba(247,243,18,0.00) 142.5px,rgba(245,217,32,0.00) 143.5px,rgba(249,196,38,0.00) 144.5px,rgba(246,238,21,0.00) 149.5px,rgba(249,251,13,0.00) 151.5px,rgba(245,232,25,0.00) 152.5px,rgba(247,205,36,0.06) 153.5px,rgba(247,208,36,0.25) 154.5px,rgba(246,216,33,0.31) 155.5px,rgba(248,248,15,0.88) 159.5px,#f9fb0d 160.5px,#f5e918 161.5px,#f6d323 162.5px,#f7ce24 163.5px,#f6d821 165.5px,rgba(245,220,31,0.50) 166.5px)"></i>
<i style="top:51px;left:344px;width:168px;background:linear-gradient(90deg,rgba(250,186,40,0.19) 0.5px,#fabc28 1.5px,#f4e41b 19.5px,#f5db20 20.5px,#faba28 22.5px,#fbaf2d 23.5px,#f9c526 32.5px,#f5e11d 41.5px,rgba(244,228,27,0.94) 42.5px,rgba(250,190,39,0.50) 44.5px,rgba(252,175,45,0.38) 45.5px,rgba(251,180,42,0.00) 47.5px,rgba(244,228,27,0.00) 59.5px,rgba(251,182,41,0.00) 61.5px,rgba(251,178,43,0.00) 62.5px,rgba(245,229,26,0.00) 72.5px,rgba(245,218,32,0.00) 73.5px,rgba(250,191,39,0.00) 74.5px,rgba(251,179,43,0.00) 75.5px,rgba(245,231,26,0.00) 84.5px,rgba(251,178,43,0.00) 86.5px,rgba(245,226,28,0.00) 93.5px,rgba(245,232,25,0.00) 94.5px,rgba(246,217,33,0.00) 95.5px,rgba(250,187,40,0.00) 96.5px,rgba(251,183,41,0.00) 97.5px,rgba(245,226,28,0.00) 103.5px,rgba(245,233,24,0.00) 104.5px,rgba(246,217,33,0.00) 105.5px,rgba(250,186,40,0.00) 106.5px,rgba(250,185,40,0.00) 107.5px,rgba(245,230,26,0.00) 113.5px,rgba(245,234,24,0.00) 114.5px,rgba(247,206,36,0.00) 115.5px,rgba(251,182,41,0.00) 116.5px,rgba(244,229,27,0.00) 122.5px,rgba(245,236,23,0.00) 123.5px,rgba(245,218,32,0.00) 124.5px,rgba(250,188,40,0.00) 125.5px,rgba(250,188,40,0.00) 126.5px,rgba(244,227,28,0.00) 131.5px,rgba(245,235,23,0.00) 132.5px,rgba(245,230,26,0.00) 133.5px,rgba(248,202,37,0.00) 134.5px,rgba(250,187,40,0.00) 135.5px,rgba(244,228,27,0.00) 140.5px,rgba(247,245,17,0.00) 142.5px,rgba(245,219,32,0.00) 143.5px,rgba(250,190,39,0.00) 144.5px,rgba(247,209,35,0.00) 146.5px,rgba(245,217,32,0.25) 147.5px,rgba(245,225,29,0.25) 148.5px,rgba(245,234,24,0.50) 149.5px,rgba(246,242,19,0.56) 150.5px,rgba(249,251,13,0.75) 151.5px,rgba(245,235,23,0.81) 152.5px,#f7d123 153.5px,#f7cd24 154.5px,#f5ed16 158.5px,#f9fb0d 160.5px,#f5ea18 161.5px,#f7d223 162.5px,#f7ce24 163.5px,#f5de1e 166.5px,rgba(245,225,29,0.50) 167.5px)"></i>
<i style="top:52px;left:344px;width:168px;background:linear-gradient(90deg,rgba(250,188,40,0.25) 0.5px,#fabf27 1.5px,#f5e11d 17.5px,#fbb32a 20.5px,#fbae2e 21.5px,#f9c027 29.5px,#f5e21c 40.5px,#f6d522 41.5px,#fcaf2d 43.5px,#fbb829 47.5px,rgba(248,201,37,0.12) 51.5px,rgba(247,205,36,0.00) 52.5px,rgba(245,226,28,0.00) 57.5px,rgba(246,217,33,0.00) 58.5px,rgba(249,193,39,0.00) 59.5px,rgba(251,175,45,0.00) 60.5px,rgba(249,197,38,0.00) 65.5px,rgba(244,228,27,0.00) 71.5px,rgba(247,210,35,0.00) 72.5px,rgba(251,184,41,0.00) 73.5px,rgba(251,178,43,0.00) 74.5px,rgba(245,226,28,0.00) 82.5px,rgba(244,227,28,0.00) 83.5px,rgba(252,177,43,0.00) 85.5px,rgba(245,230,26,0.00) 93.5px,rgba(246,215,33,0.00) 94.5px,rgba(250,185,40,0.00) 95.5px,rgba(251,181,42,0.00) 96.5px,rgba(245,231,26,0.00) 103.5px,rgba(246,217,33,0.00) 104.5px,rgba(250,187,40,0.00) 105.5px,rgba(251,182,41,0.00) 106.5px,rgba(244,227,28,0.00) 112.5px,rgba(245,234,24,0.00) 113.5px,rgba(247,208,36,0.00) 114.5px,rgba(251,179,42,0.00) 115.5px,rgba(245,232,25,0.00) 122.5px,rgba(245,220,31,0.00) 123.5px,rgba(250,191,39,0.00) 124.5px,rgba(251,184,41,0.00) 125.5px,rgba(245,231,26,0.00) 131.5px,rgba(245,232,25,0.00) 132.5px,rgba(248,205,36,0.00) 133.5px,rgba(251,183,41,0.00) 134.5px,rgba(246,216,33,0.00) 138.5px,rgba(245,224,29,0.19) 139.5px,rgba(245,232,25,0.25) 140.5px,rgba(246,240,20,0.44) 141.5px,rgba(245,220,31,0.50) 142.5px,rgba(249,192,39,0.69) 143.5px,rgba(249,194,39,0.75) 144.5px,#f8cb25 145.5px,#f5ed16 149.5px,#f7f511 150.5px,#f5ec17 151.5px,#f7d223 152.5px,#f8c925 153.5px,#f5eb17 157.5px,#f9fb0d 159.5px,#f6ef15 160.5px,#f6d323 161.5px,#f7ce24 162.5px,#f4e31c 166.5px,rgba(245,231,26,0.56) 167.5px)"></i>
<i style="top:53px;left:344px;width:168px;background:linear-gradient(90deg,rgba(250,191,39,0.25) 0.5px,#f9c227 1.5px,#f5df1e 14.5px,#f6d921 15.5px,#fbb928 17.5px,#fbae2e 18.5px,#fbb629 24.5px,#f5e01e 38.5px,#f6d622 39.5px,#fcb02c 41.5px,#fbb22b 44.5px,#f7ce24 51.5px,rgba(247,210,35,0.94) 52.5px,rgba(245,222,30,0.31) 55.5px,rgba(245,225,29,0.19) 56.5px,rgba(248,204,37,0.00) 57.5px,rgba(251,180,42,0.00) 58.5px,rgba(251,175,45,0.00) 59.5px,rgba(249,196,38,0.00) 64.5px,rgba(244,227,28,0.00) 70.5px,rgba(252,177,43,0.00) 72.5px,rgba(251,181,41,0.00) 74.5px,rgba(245,224,29,0.00) 81.5px,rgba(245,224,29,0.00) 82.5px,rgba(249,196,38,0.00) 83.5px,rgba(252,175,44,0.00) 84.5px,rgba(244,227,27,0.00) 92.5px,rgba(246,214,34,0.00) 93.5px,rgba(251,184,41,0.00) 94.5px,rgba(251,179,42,0.00) 95.5px,rgba(244,228,27,0.00) 102.5px,rgba(246,217,33,0.00) 103.5px,rgba(250,187,40,0.00) 104.5px,rgba(251,179,42,0.00) 105.5px,rgba(245,231,26,0.00) 112.5px,rgba(247,209,35,0.00) 113.5px,rgba(251,179,42,0.00) 114.5px,rgba(250,190,39,0.00) 116.5px,rgba(244,229,27,0.00) 121.5px,rgba(245,222,30,0.00) 122.5px,rgba(249,193,39,0.00) 123.5px,rgba(251,181,42,0.00) 124.5px,rgba(244,227,28,0.00) 130.5px,rgba(245,234,24,0.06) 131.5px,rgba(247,207,36,0.25) 132.5px,rgba(251,179,42,0.31) 133.5px,#f5db1f 138.5px,#f5eb17 140.5px,#f5dd1f 141.5px,#f9c127 142.5px,#fabc28 143.5px,#f5e719 148.5px,#f6f015 149.5px,#f5ec16 150.5px,#f6d323 151.5px,#f9c326 152.5px,#f5e719 156.5px,#f9f90e 158.5px,#f7f412 159.5px,#f6d821 160.5px,#f8cc25 161.5px,#f4e41b 165.5px,#f5e819 166.5px,rgba(245,236,23,0.75) 167.5px)"></i>
<i style="top:54px;left:344px;width:168px;background:linear-gradient(90deg,rgba(249,194,38,0.31) 0.5px,#f9c526 1.5px,#f5dd1f 12.5px,#fcb12b 15.5px,#faad30 16.5px,#fbb729 23.5px,#f5dd1f 36.5px,#f6d522 37.5px,#fcb02c 39.5px,#fbaf2d 41.5px,#f9c127 47.5px,#f5de1e 54.5px,#f6d422 55.5px,#fabd27 56.5px,#faae2f 57.5px,rgba(251,181,41,0.56) 60.5px,rgba(250,186,40,0.50) 61.5px,rgba(250,191,39,0.25) 62.5px,rgba(249,196,38,0.19) 63.5px,rgba(248,201,37,0.00) 64.5px,rgba(245,222,30,0.00) 68.5px,rgba(245,219,32,0.00) 69.5px,rgba(249,194,39,0.00) 70.5px,rgba(251,174,46,0.00) 71.5px,rgba(250,186,40,0.00) 74.5px,rgba(245,223,30,0.00) 80.5px,rgba(245,220,31,0.00) 81.5px,rgba(249,192,39,0.00) 82.5px,rgba(251,175,45,0.00) 83.5px,rgba(248,199,38,0.00) 87.5px,rgba(245,225,29,0.00) 91.5px,rgba(246,212,34,0.00) 92.5px,rgba(251,182,41,0.00) 93.5px,rgba(252,177,43,0.00) 94.5px,rgba(245,225,29,0.00) 101.5px,rgba(246,217,33,0.00) 102.5px,rgba(250,187,40,0.00) 103.5px,rgba(252,177,43,0.00) 104.5px,rgba(244,228,27,0.00) 111.5px,rgba(247,210,35,0.00) 112.5px,rgba(251,180,42,0.00) 113.5px,rgba(251,180,42,0.00) 114.5px,rgba(245,226,29,0.00) 120.5px,rgba(245,224,29,0.00) 121.5px,rgba(249,195,38,0.00) 122.5px,rgba(251,178,43,0.00) 123.5px,rgba(251,184,41,0.19) 124.5px,rgba(249,192,39,0.25) 125.5px,rgba(248,201,37,0.44) 126.5px,rgba(247,209,35,0.50) 127.5px,rgba(246,216,33,0.75) 128.5px,rgba(245,224,30,0.75) 129.5px,#f5e71a 130.5px,#f7d123 131.5px,#fbb42a 132.5px,#fbb629 133.5px,#f5e61a 139.5px,#f5df1e 140.5px,#f9c326 141.5px,#fbb729 142.5px,#f5e21c 147.5px,#f5ed16 149.5px,#f6d323 150.5px,#fabc28 151.5px,#f5ea18 156.5px,#f7f313 157.5px,#f8f710 158.5px,#f5dc1f 159.5px,#f8c925 160.5px,#f5e01e 163.5px,#f5ee15 166.5px,rgba(246,242,19,0.75) 167.5px)"></i>
<i style="top:55px;left:344px;width:168px;background:linear-gradient(90deg,rgba(249,197,38,0.50) 0.5px,#f8c825 1.5px,#f5da20 9.5px,#f6d422 10.5px,#fbb529 12.5px,#faad30 13.5px,#fbb32a 20.5px,#f5db20 34.5px,#f6d522 35.5px,#fcb02c 37.5px,#faad30 38.5px,#fbb629 43.5px,#f5dc1f 53.5px,#fcb12b 55.5px,#faae2f 56.5px,#fab928 60.5px,#f7ce24 64.5px,rgba(246,211,35,0.94) 65.5px,rgba(246,216,33,0.75) 66.5px,rgba(245,221,31,0.75) 67.5px,rgba(246,211,35,0.75) 68.5px,rgba(251,185,40,0.62) 69.5px,rgba(250,174,47,0.50) 70.5px,rgba(251,179,42,0.50) 72.5px,rgba(250,190,39,0.25) 74.5px,rgba(245,221,31,0.25) 79.5px,rgba(246,215,33,0.25) 80.5px,rgba(250,187,40,0.06) 81.5px,rgba(251,174,46,0.00) 82.5px,rgba(250,189,39,0.00) 85.5px,rgba(245,223,30,0.00) 90.5px,rgba(247,210,35,0.00) 91.5px,rgba(251,180,42,0.00) 92.5px,rgba(252,175,44,0.00) 93.5px,rgba(245,223,30,0.00) 100.5px,rgba(246,216,33,0.00) 101.5px,rgba(250,186,40,0.00) 102.5px,rgba(252,175,44,0.00) 103.5px,rgba(245,225,29,0.00) 110.5px,rgba(246,211,35,0.00) 111.5px,rgba(251,181,41,0.00) 112.5px,rgba(252,177,43,0.12) 113.5px,rgba(251,183,41,0.25) 114.5px,rgba(246,215,33,0.31) 118.5px,rgba(245,225,29,0.62) 120.5px,rgba(249,196,38,0.75) 121.5px,rgba(252,175,44,0.88) 122.5px,#fbb529 123.5px,#f4e31c 129.5px,#f6d323 130.5px,#fbb529 131.5px,#fbb32a 132.5px,#f5e21c 138.5px,#f5e01d 139.5px,#f9c526 140.5px,#fbb32a 141.5px,#f4e51b 147.5px,#f5ed16 148.5px,#f6d422 149.5px,#fbb729 150.5px,#f4e31c 155.5px,#f7f611 157.5px,#f5dc1f 158.5px,#f9c127 159.5px,#f4e51b 163.5px,#f7f412 166.5px,rgba(248,248,15,0.75) 167.5px)"></i>
<i style="top:56px;left:344px;width:168px;background:linear-gradient(90deg,rgba(248,199,38,0.50) 0.5px,#f8c925 1.5px,#f6d721 7.5px,#fbb928 9.5px,#fbae2e 10.5px,#f7af32 11.5px,#fcb02c 17.5px,#f5d920 32.5px,#f6d323 33.5px,#fcaf2c 35.5px,#f9ae31 36.5px,#fbb42a 41.5px,#f5db20 51.5px,#f7ce24 52.5px,#fbb729 53.5px,#f9ae31 54.5px,#fbb529 58.5px,#f5dd1f 66.5px,#fcb12b 68.5px,#faae2f 69.5px,#fbb829 72.5px,#f5dc1f 78.5px,#f7d323 79.5px,#fbb729 80.5px,#faae2f 81.5px,#fabb28 84.5px,#f5dd1f 89.5px,rgba(247,208,36,0.81) 90.5px,rgba(251,179,42,0.75) 91.5px,rgba(251,175,45,0.75) 92.5px,rgba(248,199,38,0.75) 96.5px,rgba(246,213,34,0.69) 98.5px,rgba(245,220,31,0.50) 99.5px,rgba(246,216,33,0.69) 100.5px,rgba(250,186,40,0.75) 101.5px,rgba(251,174,46,0.75) 102.5px,rgba(249,192,39,0.75) 105.5px,rgba(248,200,37,0.75) 106.5px,#f7d024 107.5px,#f5de1e 109.5px,#f6d422 110.5px,#fbb629 111.5px,#fcaf2d 112.5px,#f5e21c 119.5px,#fbae2e 121.5px,#f9c127 124.5px,#f5e01e 128.5px,#f6d522 129.5px,#fbb729 130.5px,#fcb02c 131.5px,#f5de1e 137.5px,#f5e21c 138.5px,#fcb02c 140.5px,#f5e819 147.5px,#f6d522 148.5px,#fbb829 149.5px,#fab928 150.5px,#f5e61a 155.5px,#f6ef15 156.5px,#f5dd1f 157.5px,#f9c027 158.5px,#f9c326 159.5px,#f5e61a 163.5px,#f9fa0e 166.5px,rgba(249,251,13,0.75) 167.5px)"></i>
<i style="top:57px;left:344px;width:168px;background:linear-gradient(90deg,rgba(248,199,38,0.50) 0.5px,#f8c925 1.5px,#f7d123 4.5px,#f8c825 5.5px,#fbae2e 7.5px,#f6b033 8.5px,#fcaf2c 16.5px,#f7cd24 27.5px,#f6d622 30.5px,#f7cf24 31.5px,#fbaf2d 33.5px,#f8af32 34.5px,#fbb22b 39.5px,#f6d721 49.5px,#f6d422 50.5px,#fabe27 51.5px,#fbae2e 52.5px,#faae2f 54.5px,#fab928 58.5px,#f6d721 64.5px,#f6d821 65.5px,#fabf27 66.5px,#faad2f 67.5px,#fbb22b 70.5px,#f5da20 77.5px,#f7cd24 78.5px,#fbb22b 79.5px,#faad30 80.5px,#fab928 83.5px,#f5db20 88.5px,#f7cd24 89.5px,#fcb12b 90.5px,#fbae2e 91.5px,#fabd27 94.5px,#f5da20 98.5px,#f6d721 99.5px,#fab928 100.5px,#faae2f 101.5px,#fabd28 104.5px,#f5db20 108.5px,#f6d522 109.5px,#fbb729 110.5px,#fbae2e 111.5px,#f9c027 114.5px,#f5df1e 118.5px,#fbae2e 120.5px,#fbb529 122.5px,#f5dc1f 127.5px,#f6d721 128.5px,#fab928 129.5px,#fbae2d 130.5px,#f9c227 133.5px,#f5e11d 137.5px,#fbaf2d 139.5px,#fab928 141.5px,#f4e31c 146.5px,#f6d622 147.5px,#fab928 148.5px,#fbb42a 149.5px,#f5e01d 154.5px,#f5e919 155.5px,#f5dd1f 156.5px,#f9c127 157.5px,#fabc28 158.5px,#f5e11d 162.5px,#f7f511 165.5px,#f7f412 166.5px,rgba(245,233,24,0.75) 167.5px)"></i>
<i style="top:58px;left:344px;width:168px;background:linear-gradient(90deg,rgba(248,199,38,0.50) 0.5px,#f8ca25 1.5px,#f8c725 2.5px,#fbb829 3.5px,#fbae2e 4.5px,#f2b636 6.5px,#faae2f 14.5px,#fabb28 21.5px,#f7d123 28.5px,#f8c725 29.5px,#fbb629 30.5px,#f9ad30 31.5px,#f5b134 32.5px,#fbaf2d 37.5px,#f9c127 43.5px,#f6d622 48.5px,#fcb02c 50.5px,#f7af33 51.5px,#fbaf2d 54.5px,#f8c825 60.5px,#f6d721 63.5px,#f7ce24 64.5px,#fbb529 65.5px,#f8ae32 66.5px,#fcb12b 69.5px,#f5d920 76.5px,#f8c726 77.5px,#fcaf2d 78.5px,#faad30 79.5px,#fbb729 82.5px,#f5d920 87.5px,#f8cb25 88.5px,#fcb02c 89.5px,#faad30 90.5px,#faba28 93.5px,#f6d721 97.5px,#f6d622 98.5px,#fbb829 99.5px,#faad30 100.5px,#fbb32a 102.5px,#f6d821 107.5px,#f6d522 108.5px,#fbb729 109.5px,#faad30 110.5px,#fbb529 112.5px,#f5db20 117.5px,#f8ca25 118.5px,#fcaf2d 119.5px,#fbb22b 121.5px,#f6d921 126.5px,#f6d921 127.5px,#fabb28 128.5px,#faad2f 129.5px,#fbb629 131.5px,#f5dd1f 136.5px,#f8ca25 137.5px,#fcaf2c 138.5px,#fcaf2c 139.5px,#f5de1e 145.5px,#f6d821 146.5px,#fabb28 147.5px,#fcb02c 148.5px,#f4e31c 154.5px,#f5de1e 155.5px,#f9c227 156.5px,#fbb529 157.5px,#f5e21c 162.5px,#f6f014 164.5px,#f5da20 166.5px,rgba(247,207,36,0.75) 167.5px)"></i>
<i style="top:59px;left:344px;width:168px;background:linear-gradient(90deg,rgba(251,183,41,0.50) 0.5px,#fbae2e 1.5px,#f5b134 2.5px,#edba37 3.5px,#faad30 13.5px,#fbb629 19.5px,#f8cb25 26.5px,#fcb02c 28.5px,#f6b033 29.5px,#f2b535 30.5px,#fbae2f 36.5px,#faba28 41.5px,#f7cf24 46.5px,#f9c526 47.5px,#fcb12b 48.5px,#f5b134 49.5px,#fcaf2d 54.5px,#f7cf24 61.5px,#f6d422 62.5px,#fbae2e 64.5px,#f7af33 65.5px,#fcb02c 68.5px,#f6d721 75.5px,#faad30 77.5px,#fbae2e 79.5px,#fabc28 82.5px,#f6d721 86.5px,#f8c825 87.5px,#fbaf2d 88.5px,#f9ae30 89.5px,#fbb22b 91.5px,#f6d522 96.5px,#f6d522 97.5px,#fbb729 98.5px,#f8ae31 99.5px,#fcb12b 101.5px,#f6d522 106.5px,#f6d622 107.5px,#fbb829 108.5px,#f9ae31 109.5px,#fbb22b 111.5px,#f6d821 116.5px,#f8cb25 117.5px,#fcb02c 118.5px,#faad30 119.5px,#fbb529 121.5px,#f5da20 126.5px,#fabd27 127.5px,#f9ae31 128.5px,#fbb32a 130.5px,#f5da20 135.5px,#f8cc25 136.5px,#fcb02c 137.5px,#fbae2f 138.5px,#fbb829 140.5px,#f5da20 144.5px,#f5d920 145.5px,#fabc28 146.5px,#fbae2e 147.5px,#faba28 149.5px,#f5dd1f 153.5px,#f5e01e 154.5px,#f9c326 155.5px,#fcb02c 156.5px,#f5eb17 163.5px,#f8cb25 165.5px,#fabd27 166.5px,rgba(250,185,40,0.75) 167.5px)"></i>
<i style="top:60px;left:344px;width:168px;background:linear-gradient(90deg,rgba(236,188,56,0.56) 0.5px,#eabd39 1.5px,#faad30 13.5px,#fbb928 20.5px,#f9c526 24.5px,#fbb529 25.5px,#faad30 26.5px,#efb937 28.5px,#faad30 35.5px,#fbb729 40.5px,#f8c825 44.5px,#f9c526 45.5px,#fbb22b 46.5px,#f6b033 47.5px,#f2b535 48.5px,#faad30 52.5px,#fbb729 56.5px,#f8cb25 60.5px,#f8c925 61.5px,#fbb22b 62.5px,#f5b134 63.5px,#fbae2e 67.5px,#f9c027 71.5px,#f7d123 74.5px,#fbb629 75.5px,#f6b033 76.5px,#fbae2e 79.5px,#f9c526 83.5px,#f7d323 85.5px,#f9c227 86.5px,#faad30 87.5px,#f8af32 88.5px,#fcb02c 90.5px,#f7d123 95.5px,#f7d323 96.5px,#fbb529 97.5px,#f7af33 98.5px,#fcaf2d 100.5px,#f6d522 106.5px,#fbb829 107.5px,#f7af32 108.5px,#fcb02c 110.5px,#f6d522 115.5px,#f7cd24 116.5px,#fcb12c 117.5px,#f9ae31 118.5px,#fbb32b 120.5px,#f6d921 125.5px,#fabf27 126.5px,#f9ae31 127.5px,#fcb02c 129.5px,#f6d622 134.5px,#f7ce24 135.5px,#fbb22b 136.5px,#f9ae30 137.5px,#fbb42a 139.5px,#f5db20 144.5px,#fabe27 145.5px,#faad30 146.5px,#fbb529 148.5px,#f5e01d 153.5px,#fbae2f 155.5px,#faba28 157.5px,#f5e51a 162.5px,#fabf27 164.5px,#fcb12b 165.5px,#fbb529 166.5px,rgba(250,186,40,0.75) 167.5px)"></i>
<i style="top:61px;left:344px;width:168px;background:linear-gradient(90deg,rgba(232,191,57,0.75) 0.5px,#eabd39 1.5px,#faad30 13.5px,#fab928 20.5px,#fabc28 22.5px,#fbaf2d 23.5px,#f6b133 24.5px,#ecbb38 25.5px,#efb937 28.5px,#faad30 35.5px,#fbb829 40.5px,#f9c426 43.5px,#fbb22b 44.5px,#f6b033 45.5px,#edba37 46.5px,#faad30 52.5px,#fbb829 56.5px,#f8c726 59.5px,#fab928 60.5px,#f9ae31 61.5px,#f0b836 62.5px,#faad30 66.5px,#fbb629 69.5px,#f8c825 72.5px,#f9c626 73.5px,#fbaf2d 74.5px,#f1b636 75.5px,#faad30 78.5px,#fbb829 81.5px,#f7cd24 84.5px,#fabb28 85.5px,#f8af32 86.5px,#f5b134 87.5px,#faae2f 89.5px,#fabc28 92.5px,#f8cb25 94.5px,#f7ce24 95.5px,#fcb12b 96.5px,#f4b234 97.5px,#faad2f 99.5px,#fbb52a 101.5px,#f7d223 105.5px,#fbb52a 106.5px,#f4b234 107.5px,#faae2f 109.5px,#fbb729 111.5px,#f7ce24 114.5px,#f8cb25 115.5px,#fcb02c 116.5px,#f6b033 117.5px,#fbaf2d 119.5px,#f6d323 124.5px,#fabe27 125.5px,#f8ae31 126.5px,#fcb12b 129.5px,#f7d023 133.5px,#f7ce24 134.5px,#fbb22b 135.5px,#f7af33 136.5px,#fcb02c 138.5px,#f6d921 143.5px,#f9c027 144.5px,#f9ae31 145.5px,#fcb12b 147.5px,#f5db20 152.5px,#fbae2e 154.5px,#fbb42a 156.5px,#f5e01d 161.5px,#fbb629 163.5px,#fbaf2d 164.5px,#fbb629 166.5px,rgba(250,186,40,0.75) 167.5px)"></i>
<i style="top:62px;left:344px;width:168px;background:linear-gradient(90deg,rgba(232,191,57,0.75) 0.5px,#eabd39 1.5px,#faad2f 13.5px,#fbb729 19.5px,#fbb22b 20.5px,#f8ae31 21.5px,#e4c13b 23.5px,#f9ae31 34.5px,#fbb629 39.5px,#fabd27 41.5px,#fcb12b 42.5px,#f6b033 43.5px,#eabd39 44.5px,#faad2f 52.5px,#fbb928 56.5px,#f9c127 58.5px,#fbae2e 59.5px,#f2b636 60.5px,#eeba37 61.5px,#faad2f 66.5px,#fbb729 69.5px,#f9c326 71.5px,#faba28 72.5px,#f8ae31 73.5px,#efb937 74.5px,#faad2f 78.5px,#fab928 81.5px,#f8c726 83.5px,#fbb52a 84.5px,#f5b234 85.5px,#f2b535 86.5px,#fbae2e 89.5px,#fabd27 92.5px,#f8c825 94.5px,#fbaf2d 95.5px,#f1b636 96.5px,#faae2f 99.5px,#fabd28 102.5px,#f8cc24 104.5px,#fbb22b 105.5px,#f2b535 106.5px,#fbae2e 109.5px,#fabf27 112.5px,#f8c726 113.5px,#f8c925 114.5px,#fbaf2d 115.5px,#f3b435 116.5px,#faad30 118.5px,#fbb42a 120.5px,#f8cc24 123.5px,#fabd28 124.5px,#f8ae32 125.5px,#f5b134 126.5px,#fbae2e 128.5px,#f9c127 131.5px,#f7cd24 133.5px,#fcb12b 134.5px,#f4b335 135.5px,#faae2f 137.5px,#fbb829 139.5px,#f7d223 142.5px,#fabf27 143.5px,#f9ae31 144.5px,#fbae2e 146.5px,#faba28 148.5px,#f6d522 151.5px,#f8c825 152.5px,#fbae2d 153.5px,#faad30 154.5px,#fbb629 156.5px,#f5d920 160.5px,#f8ca25 161.5px,#fbb22b 162.5px,#faad2f 163.5px,#fbb729 166.5px,rgba(250,187,40,0.75) 167.5px)"></i>
<i style="top:63px;left:344px;width:168px;background:linear-gradient(90deg,rgba(233,190,57,0.75) 0.5px,#eabd39 1.5px,#f9ae30 12.5px,#fbb32b 17.5px,#faad2f 18.5px,#e9be39 20.5px,#dec43d 21.5px,#f5b134 31.5px,#fbaf2d 36.5px,#fbb629 39.5px,#fcb02c 40.5px,#f5b134 41.5px,#e9be39 42.5px,#e5c13b 43.5px,#f9ae31 51.5px,#fbb22b 54.5px,#faba28 56.5px,#fcb12b 57.5px,#f5b134 58.5px,#e7c03a 59.5px,#f9ae31 65.5px,#fbb32a 68.5px,#fabe27 70.5px,#fcb12b 71.5px,#f3b335 72.5px,#ebbc38 73.5px,#f8ae31 77.5px,#fcb02c 79.5px,#f9c127 82.5px,#fcaf2c 83.5px,#f1b636 84.5px,#efb937 85.5px,#f9ae31 88.5px,#fbb22b 90.5px,#f9c326 93.5px,#faad2f 94.5px,#eeba37 95.5px,#f8ae31 98.5px,#fcb12b 100.5px,#f9c626 103.5px,#fcb02c 104.5px,#f1b736 105.5px,#fbae2e 109.5px,#f8c726 113.5px,#fbae2e 114.5px,#efb937 115.5px,#faad30 118.5px,#fbb529 120.5px,#f9c526 122.5px,#fabb28 123.5px,#f7af32 124.5px,#f2b636 125.5px,#f9ae31 127.5px,#fbb32a 129.5px,#f8ca25 132.5px,#fcb02c 133.5px,#f1b636 134.5px,#fbae2f 137.5px,#fbb829 139.5px,#f8ca25 141.5px,#fabe27 142.5px,#f8ae31 143.5px,#f5b234 144.5px,#fbae2e 146.5px,#f9c426 149.5px,#f7cd24 150.5px,#f8c726 151.5px,#fbae2e 152.5px,#f6b033 153.5px,#faad30 154.5px,#fbb729 156.5px,#f7d223 159.5px,#f8cb25 160.5px,#fcb02c 161.5px,#f8ae31 162.5px,#fbb42a 165.5px,#fbb829 166.5px,rgba(250,188,40,0.75) 167.5px)"></i>
<i style="top:64px;left:344px;width:168px;background:linear-gradient(90deg,rgba(231,191,58,0.75) 0.5px,#e9be39 1.5px,#faad30 12.5px,#fbaf2d 15.5px,#f6b033 16.5px,#edbb37 17.5px,#dfc43d 18.5px,#d7c640 19.5px,#f0b736 28.5px,#faad30 34.5px,#fcb12b 37.5px,#fbaf2d 38.5px,#f4b234 39.5px,#e8bf3a 40.5px,#dec43d 41.5px,#f4b334 48.5px,#fbae2e 52.5px,#fbb629 55.5px,#f8af32 56.5px,#ecbc38 57.5px,#e3c23b 58.5px,#f9ae31 65.5px,#fbb42a 68.5px,#fab928 69.5px,#f9ae31 70.5px,#edbb38 71.5px,#e8bf3a 72.5px,#f9ae31 77.5px,#fbb629 80.5px,#fabc28 81.5px,#faad30 82.5px,#ecbb38 83.5px,#ebbc38 84.5px,#faad30 88.5px,#fbb32a 90.5px,#fabd27 92.5px,#f8ae31 93.5px,#e9be39 94.5px,#f9ae31 98.5px,#fbb22b 100.5px,#fabf27 102.5px,#fbae2e 103.5px,#eeb937 104.5px,#eeba37 105.5px,#f9ae31 108.5px,#fbb32a 110.5px,#f9c127 112.5px,#faae2f 113.5px,#ecbb38 114.5px,#faad2f 118.5px,#fbb629 120.5px,#fabe27 121.5px,#fab928 122.5px,#f7b033 123.5px,#eeba37 124.5px,#f9ae31 127.5px,#fbb42a 129.5px,#f9c326 131.5px,#fcb02c 132.5px,#f1b736 133.5px,#f1b736 134.5px,#f8ae32 136.5px,#fbb22b 138.5px,#f9c227 140.5px,#fabc28 141.5px,#f8ae32 142.5px,#f1b736 143.5px,#f8ae31 145.5px,#fbb32a 147.5px,#f9c426 149.5px,#f9c626 150.5px,#fbae2e 151.5px,#f2b535 152.5px,#faad30 154.5px,#fbb729 156.5px,#f8c925 158.5px,#f8ca25 159.5px,#fcaf2c 160.5px,#f5b234 161.5px,#faae2f 163.5px,#fbb729 166.5px,rgba(250,187,40,0.75) 167.5px)"></i>
<i style="top:65px;left:344px;width:168px;background:linear-gradient(90deg,rgba(229,193,59,0.75) 0.5px,#e7bf3a 1.5px,#f9ae31 12.5px,#f7af33 13.5px,#e1c33c 15.5px,#cec944 16.5px,#d2c842 18.5px,#eeb937 27.5px,#faad30 34.5px,#fbae2f 36.5px,#f3b435 37.5px,#e5c13a 38.5px,#d6c741 39.5px,#f0b836 46.5px,#faad30 51.5px,#fcb02c 53.5px,#faad30 54.5px,#efb937 55.5px,#dcc53e 56.5px,#f5b134 63.5px,#fbae2e 66.5px,#fcb12b 68.5px,#f4b334 69.5px,#e3c23c 70.5px,#e9be39 72.5px,#f9ae30 77.5px,#fbb729 80.5px,#f7af33 81.5px,#e6c03a 82.5px,#ecbc38 84.5px,#faad30 88.5px,#fbb729 91.5px,#f6b033 92.5px,#e4c13b 93.5px,#f9ae31 98.5px,#fbb32b 100.5px,#fbb928 101.5px,#faad30 102.5px,#ecbc38 103.5px,#eabe39 104.5px,#faad30 108.5px,#fbb42a 110.5px,#fabb28 111.5px,#faad30 112.5px,#ebbd38 113.5px,#f0b736 115.5px,#faae2f 118.5px,#fbb729 120.5px,#fbb829 121.5px,#f6b033 122.5px,#e9be39 123.5px,#faad30 127.5px,#fbb42a 129.5px,#fabc28 130.5px,#fcaf2d 131.5px,#f0b836 132.5px,#ecbc38 133.5px,#f8ae31 136.5px,#fbb32b 138.5px,#faba28 139.5px,#fabb28 140.5px,#f7af32 141.5px,#ecbc38 142.5px,#f9ae31 145.5px,#fbb42a 147.5px,#f9c426 149.5px,#faae2f 150.5px,#edbb37 151.5px,#faad30 154.5px,#fbb729 156.5px,#f8c925 158.5px,#fcaf2d 159.5px,#f0b836 160.5px,#faad2f 163.5px,#fbb629 166.5px,rgba(250,186,40,0.75) 167.5px)"></i>
<i style="top:66px;left:344px;width:168px;background:linear-gradient(90deg,rgba(226,194,60,0.75) 0.5px,#e5c13b 1.5px,#f5b134 10.5px,#efb937 11.5px,#e2c23c 12.5px,#becc4c 14.5px,#e5c03a 24.5px,#f8ae32 33.5px,#f8ae31 34.5px,#efb837 35.5px,#e0c33d 36.5px,#cbca46 37.5px,#eabd39 44.5px,#faad30 51.5px,#fbae2f 52.5px,#f1b636 53.5px,#e1c33c 54.5px,#d5c741 55.5px,#edba37 60.5px,#faad30 65.5px,#fbaf2d 66.5px,#f9ae31 67.5px,#edbb38 68.5px,#d8c640 69.5px,#f1b636 74.5px,#faad30 77.5px,#fcb12b 79.5px,#f3b435 80.5px,#dec43d 81.5px,#f8af32 87.5px,#fbb32b 90.5px,#f3b435 91.5px,#dec43d 92.5px,#f4b335 96.5px,#faad30 98.5px,#fbb32a 100.5px,#f9ae31 101.5px,#e9be39 102.5px,#e4c13b 103.5px,#f7af33 107.5px,#fcaf2c 109.5px,#fbb42a 110.5px,#f9ae31 111.5px,#e9be39 112.5px,#e6c03a 113.5px,#f8ae31 117.5px,#fbb22b 119.5px,#fbb629 120.5px,#f5b134 121.5px,#e2c23c 122.5px,#f7af33 126.5px,#fcaf2c 128.5px,#fbb529 129.5px,#fbaf2d 130.5px,#efb837 131.5px,#e7c03a 132.5px,#f9ae31 136.5px,#fbb32a 138.5px,#faba28 139.5px,#f7af33 140.5px,#e5c13b 141.5px,#f9ae31 145.5px,#fbb42a 147.5px,#fabc28 148.5px,#faad2f 149.5px,#ecbc38 150.5px,#f2b535 152.5px,#faad30 154.5px,#fbb629 156.5px,#fabf27 157.5px,#fbaf2d 158.5px,#efb837 159.5px,#efb837 160.5px,#faad30 163.5px,#fbb529 166.5px,rgba(251,185,40,0.75) 167.5px)"></i>
<i style="top:67px;left:344px;width:168px;background:linear-gradient(90deg,#dfc43d 0.5px,#efb837 7.5px,#eeb937 8.5px,#e1c33c 9.5px,#b8cc4f 11.5px,#b1cd53 12.5px,#e4c13b 24.5px,#f5b134 32.5px,#eabd39 33.5px,#d8c640 34.5px,#becc4c 35.5px,#e6c03a 43.5px,#f8ae32 50.5px,#f2b535 51.5px,#e2c23c 52.5px,#c7ca47 53.5px,#e9be39 59.5px,#faad30 65.5px,#f3b435 66.5px,#e1c33c 67.5px,#d1c843 68.5px,#eeb937 73.5px,#faad30 77.5px,#faad30 78.5px,#eeba37 79.5px,#d4c842 80.5px,#eeba37 84.5px,#f8ae32 87.5px,#fbaf2d 89.5px,#f0b836 90.5px,#d7c740 91.5px,#f0b736 95.5px,#faad30 98.5px,#fcaf2c 99.5px,#f7af33 100.5px,#e5c13b 101.5px,#dec43d 102.5px,#f4b334 106.5px,#faad2f 108.5px,#fcb02c 109.5px,#f8af32 110.5px,#e7c03a 111.5px,#dfc43d 112.5px,#f5b134 116.5px,#fbae2e 118.5px,#fbb22b 119.5px,#f4b334 120.5px,#dfc43d 121.5px,#f7af32 126.5px,#fcb02c 128.5px,#fbae2e 129.5px,#e0c33d 131.5px,#f2b535 134.5px,#f9ae31 136.5px,#fbb42a 138.5px,#f6b033 139.5px,#e4c13b 140.5px,#ecbb38 142.5px,#f9ae31 145.5px,#fbb42a 147.5px,#faad30 148.5px,#ebbc38 149.5px,#e7c03a 150.5px,#faad30 154.5px,#fbb629 156.5px,#fbaf2d 157.5px,#efb937 158.5px,#e9be39 159.5px,#f7af33 162.5px,#fcb12b 165.5px,#fbb42a 166.5px,rgba(251,184,41,0.75) 167.5px)"></i>
<i style="top:68px;left:344px;width:168px;background:linear-gradient(90deg,#dcc53e 0.5px,#eabe39 5.5px,#e0c33d 6.5px,#b6cd50 8.5px,#9fce5d 9.5px,#dbc53f 22.5px,#f0b836 29.5px,#f1b736 30.5px,#e3c23b 31.5px,#cec944 32.5px,#b2cd52 33.5px,#e5c13b 43.5px,#f4b335 48.5px,#f3b435 49.5px,#e3c23b 50.5px,#c9ca46 51.5px,#bfcc4b 52.5px,#e4c13b 58.5px,#f7af33 64.5px,#e9be39 65.5px,#cec944 66.5px,#c8ca47 67.5px,#eabe39 72.5px,#f7af32 76.5px,#f6b133 77.5px,#e5c13b 78.5px,#caca46 79.5px,#e9be39 83.5px,#f8ae32 87.5px,#faad30 88.5px,#ebbc38 89.5px,#cec944 90.5px,#ecbc38 94.5px,#faad2f 98.5px,#f5b234 99.5px,#e0c33c 100.5px,#d6c741 101.5px,#ecbc38 104.5px,#f8af32 107.5px,#faae2f 108.5px,#f6b033 109.5px,#e4c13b 110.5px,#d8c640 111.5px,#edba37 114.5px,#f9ae31 117.5px,#fbaf2d 118.5px,#f3b435 119.5px,#dcc53e 120.5px,#dcc53e 121.5px,#f0b836 124.5px,#faae2f 127.5px,#fbae2f 128.5px,#edba37 129.5px,#d8c640 130.5px,#eeba37 133.5px,#faad30 136.5px,#fcaf2d 137.5px,#f6b033 138.5px,#e3c23b 139.5px,#dec43d 140.5px,#f2b535 143.5px,#f9ae30 145.5px,#fcaf2d 146.5px,#faad30 147.5px,#ebbd38 148.5px,#dfc43d 149.5px,#f2b535 152.5px,#faad30 154.5px,#fcb02c 155.5px,#fbae2e 156.5px,#e0c33c 158.5px,#f3b435 161.5px,#fbae2e 164.5px,#fbb32a 166.5px,rgba(251,182,41,0.75) 167.5px)"></i>
<i style="top:69px;left:344px;width:168px;background:linear-gradient(90deg,#d9c63f 0.5px,#dfc43d 2.5px,#ddc43e 3.5px,#b3cd52 5.5px,#9bcd60 6.5px,#92cd65 7.5px,#d5c741 21.5px,#eabd39 27.5px,#ebbd38 28.5px,#d9c63f 29.5px,#a5cd5a 31.5px,#bfcc4b 36.5px,#e8bf3a 44.5px,#f1b736 47.5px,#e3c23b 48.5px,#caca46 49.5px,#afcd54 50.5px,#e3c23b 58.5px,#f2b535 62.5px,#eeb937 63.5px,#d9c640 64.5px,#b7cc50 65.5px,#e4c13b 71.5px,#f4b234 75.5px,#f0b836 76.5px,#d9c640 77.5px,#bfcc4b 78.5px,#e2c23c 82.5px,#f5b234 86.5px,#f6b033 87.5px,#e4c13b 88.5px,#c3cb49 89.5px,#e6c03a 93.5px,#f7af32 97.5px,#f1b636 98.5px,#d9c63f 99.5px,#cbca46 100.5px,#ebbc38 104.5px,#f7af32 107.5px,#f4b334 108.5px,#dfc43d 109.5px,#ccc945 110.5px,#e7c03a 113.5px,#f9ae31 117.5px,#f1b636 118.5px,#d8c640 119.5px,#d1c843 120.5px,#eabd39 123.5px,#faad30 127.5px,#ebbc38 128.5px,#cdc945 129.5px,#e8bf39 132.5px,#faad30 136.5px,#f5b134 137.5px,#e1c33c 138.5px,#d5c741 139.5px,#edbb38 142.5px,#f9ae30 145.5px,#f9ad30 146.5px,#eabd39 147.5px,#d5c741 148.5px,#edba37 151.5px,#faad30 154.5px,#fbae2e 155.5px,#eeba37 156.5px,#d6c741 157.5px,#eeba37 160.5px,#f9ae31 163.5px,#fcaf2c 165.5px,#faad30 166.5px,rgba(246,177,51,0.75) 167.5px)"></i>
<i style="top:70px;left:344px;width:168px;background:linear-gradient(90deg,#d6c741 0.5px,#c5cb49 1.5px,#80cc70 4.5px,#c4cb49 18.5px,#e2c23c 25.5px,#e1c33c 26.5px,#ccc945 27.5px,#95cd63 29.5px,#d5c741 40.5px,#ebbd38 45.5px,#e3c23c 46.5px,#c9ca46 47.5px,#a9cd57 48.5px,#a7cd59 49.5px,#ddc43e 57.5px,#efb937 61.5px,#e1c33c 62.5px,#c2cb4a 63.5px,#accd55 64.5px,#ddc53e 70.5px,#f1b736 74.5px,#e7c03a 75.5px,#c9ca47 76.5px,#b4cd51 77.5px,#e1c33c 82.5px,#f1b736 85.5px,#f2b535 86.5px,#dbc53e 87.5px,#b7cc4f 88.5px,#dec43d 92.5px,#f4b335 96.5px,#edbb37 97.5px,#d0c843 98.5px,#bfcc4b 99.5px,#e4c13b 103.5px,#f4b335 106.5px,#f1b636 107.5px,#d9c63f 108.5px,#c0cb4b 109.5px,#e6c03a 113.5px,#f5b134 116.5px,#efb937 117.5px,#d3c842 118.5px,#c5cb48 119.5px,#e3c23b 122.5px,#f7af33 126.5px,#e9be39 127.5px,#c7ca47 128.5px,#ccc945 129.5px,#e7bf3a 132.5px,#f6b033 135.5px,#f3b335 136.5px,#dec43e 137.5px,#c8ca47 138.5px,#e6c03a 141.5px,#f9ae31 145.5px,#e8bf39 146.5px,#c8ca47 147.5px,#e6c03a 150.5px,#f9ae30 154.5px,#edbb37 155.5px,#d0c943 156.5px,#d5c741 157.5px,#edba37 160.5px,#f8ae31 163.5px,#faad2f 164.5px,#ecbc38 166.5px,rgba(226,194,60,0.75) 167.5px)"></i>
<i style="top:71px;left:344px;width:168px;background:linear-gradient(90deg,#93cd64 0.5px,#7bcb73 1.5px,#75ca77 2.5px,#b7cc4f 16.5px,#d9c640 23.5px,#d4c842 24.5px,#a0ce5c 26.5px,#86cc6c 27.5px,#c8ca47 38.5px,#e2c23c 43.5px,#e1c33c 44.5px,#c7ca47 45.5px,#a7cd58 46.5px,#97cd62 47.5px,#d7c740 56.5px,#e7c03a 59.5px,#e6c03a 60.5px,#ccc945 61.5px,#a8cd58 62.5px,#a3cd5b 63.5px,#dcc53e 70.5px,#edbb38 73.5px,#dac63f 74.5px,#b6cd50 75.5px,#a9cd57 76.5px,#e0c33c 82.5px,#ecbb38 84.5px,#ecbb38 85.5px,#d0c843 86.5px,#abcd56 87.5px,#ddc43e 92.5px,#efb837 95.5px,#e8bf3a 96.5px,#c7ca48 97.5px,#b3cd52 98.5px,#dcc53e 102.5px,#efb937 105.5px,#eeba37 106.5px,#d2c842 107.5px,#b3cd52 108.5px,#dec43e 112.5px,#f1b736 115.5px,#ecbc38 116.5px,#cdc944 117.5px,#b8cc4f 118.5px,#e2c23c 122.5px,#f3b435 125.5px,#e5c13a 126.5px,#c2cb4a 127.5px,#bfcc4c 128.5px,#dec43d 131.5px,#f1b636 134.5px,#f2b535 135.5px,#dac63f 136.5px,#bbcc4e 137.5px,#e5c13b 141.5px,#f5b134 144.5px,#e6c03a 145.5px,#c3cb49 146.5px,#c6ca48 147.5px,#e5c13b 150.5px,#f5b134 153.5px,#ecbc38 154.5px,#cec944 155.5px,#c7ca47 156.5px,#e6c03a 159.5px,#f5b134 162.5px,#f6b033 163.5px,#ddc43e 165.5px,#ccc945 166.5px,rgba(198,203,72,0.75) 167.5px)"></i>
<i style="top:72px;left:344px;width:168px;background:linear-gradient(90deg,#6ec97b 0.5px,#b7cc50 16.5px,#cec944 21.5px,#c3cb49 22.5px,#8dcd68 24.5px,#78cb75 25.5px,#c0cb4b 37.5px,#ddc53e 42.5px,#c3cb49 43.5px,#88cc6b 45.5px,#c8ca47 54.5px,#e1c33c 58.5px,#d3c842 59.5px,#91cd66 61.5px,#ccc945 68.5px,#e6c03a 72.5px,#c9ca47 73.5px,#a2ce5b 74.5px,#9ece5e 75.5px,#d8c640 81.5px,#e6c03a 83.5px,#e5c13b 84.5px,#c3cb49 85.5px,#9fce5d 86.5px,#d4c742 91.5px,#eabd39 94.5px,#e1c33c 95.5px,#bccc4d 96.5px,#a6cd59 97.5px,#dbc53f 102.5px,#e9be39 104.5px,#eabd39 105.5px,#caca46 106.5px,#a6cd59 107.5px,#ddc53e 112.5px,#ebbc38 114.5px,#e9be39 115.5px,#c7ca47 116.5px,#aacd57 117.5px,#d8c640 121.5px,#eeba37 124.5px,#e1c33c 125.5px,#bccc4d 126.5px,#b1cd53 127.5px,#ddc43e 131.5px,#f0b836 134.5px,#d6c741 135.5px,#accd55 136.5px,#dbc53e 140.5px,#f0b736 143.5px,#e4c13b 144.5px,#bfcc4b 145.5px,#b8cc4f 146.5px,#dbc53e 149.5px,#f1b736 152.5px,#ebbd38 153.5px,#cbca46 154.5px,#b9cc4e 155.5px,#dcc53e 158.5px,#f1b736 161.5px,#f2b535 162.5px,#e3c23b 163.5px,#b8cc4f 165.5px,#becc4c 166.5px,rgba(195,203,73,0.75) 167.5px)"></i>
<i style="top:73px;left:343px;width:169px;background:linear-gradient(90deg,rgba(108,201,124,0.19) 0.5px,#70ca7a 1.5px,#b9cc4e 17.5px,#c7ca47 20.5px,#b6cd50 21.5px,#80cc70 23.5px,#70ca7a 24.5px,#b9cc4f 37.5px,#d1c843 41.5px,#becc4c 42.5px,#7fcc71 44.5px,#7fcc70 45.5px,#c0cb4b 54.5px,#d5c741 57.5px,#d8c640 58.5px,#b8cc4f 59.5px,#94cd64 60.5px,#87cc6b 61.5px,#ccc945 69.5px,#dbc53f 71.5px,#d8c640 72.5px,#b4cd51 73.5px,#8dcd68 74.5px,#a7cd58 77.5px,#dfc43d 83.5px,#dac63f 84.5px,#b4cd51 85.5px,#93cd65 86.5px,#d3c842 92.5px,#e3c23b 94.5px,#d8c640 95.5px,#b0cd54 96.5px,#9acd60 97.5px,#d1c843 102.5px,#e2c23c 104.5px,#e5c13b 105.5px,#c1cb4a 106.5px,#99cd61 107.5px,#d2c842 112.5px,#e4c13b 114.5px,#e4c13b 115.5px,#c0cb4b 116.5px,#9dce5e 117.5px,#d7c740 122.5px,#e8bf3a 124.5px,#ddc53e 125.5px,#b5cd51 126.5px,#a3cd5b 127.5px,#dcc53e 132.5px,#ebbc38 134.5px,#d1c843 135.5px,#a6cd59 136.5px,#abcd56 137.5px,#dac63f 141.5px,#eabd39 143.5px,#e1c33c 144.5px,#bbcc4e 145.5px,#aacd57 146.5px,#dac63f 150.5px,#ebbd38 152.5px,#e9be39 153.5px,#c8ca47 154.5px,#aacd57 155.5px,#dbc53f 159.5px,#f0b836 162.5px,#dac63f 163.5px,#bdcc4d 164.5px,#aecd55 165.5px,#bccc4d 167.5px,rgba(193,203,74,0.75) 168.5px)"></i>
<i style="top:74px;left:343px;width:169px;background:linear-gradient(90deg,rgba(110,201,123,0.25) 0.5px,#71ca79 1.5px,#bccc4d 17.5px,#c0cb4b 18.5px,#8ccd69 20.5px,#72ca79 21.5px,#69c97e 22.5px,#b6cd50 36.5px,#c8ca47 39.5px,#bccc4d 40.5px,#7dcb72 42.5px,#74ca77 43.5px,#b9cc4e 53.5px,#cec944 56.5px,#bdcc4c 57.5px,#77cb76 59.5px,#bacc4e 67.5px,#d3c842 70.5px,#c4cb49 71.5px,#9ece5e 72.5px,#7fcc70 73.5px,#c5cb49 80.5px,#d7c740 82.5px,#ccc945 83.5px,#a4cd5a 84.5px,#87cc6c 85.5px,#c9ca47 91.5px,#dbc53f 93.5px,#cdc944 94.5px,#a3cd5b 95.5px,#8dcd68 96.5px,#d0c943 102.5px,#dec43d 104.5px,#b7cc50 105.5px,#8ccd69 106.5px,#c7ca48 111.5px,#dbc53f 113.5px,#dfc43d 114.5px,#b9cc4f 115.5px,#8fcd67 116.5px,#ccc945 121.5px,#dfc43d 123.5px,#d8c640 124.5px,#aecd54 125.5px,#95cd63 126.5px,#d2c843 131.5px,#e4c13b 133.5px,#cbc945 134.5px,#9fce5d 135.5px,#9dce5e 136.5px,#d9c63f 141.5px,#e2c23c 142.5px,#dec43d 143.5px,#b6cd50 144.5px,#9bcd5f 145.5px,#d9c63f 150.5px,#e7c03a 152.5px,#c4cb49 153.5px,#9bcd5f 154.5px,#cec944 158.5px,#eabe39 161.5px,#d4c842 162.5px,#b0cd54 163.5px,#a3cd5b 164.5px,#bacc4e 167.5px,rgba(191,204,75,0.75) 168.5px)"></i>
<i style="top:75px;left:343px;width:169px;background:linear-gradient(90deg,rgba(111,202,122,0.25) 0.5px,#73ca78 1.5px,#b4cd51 15.5px,#b1cd53 16.5px,#63c882 19.5px,#61c782 20.5px,#aecd55 34.5px,#c0cb4b 37.5px,#b9cc4f 38.5px,#7bcb73 40.5px,#6bc97c 41.5px,#b6cd50 52.5px,#c4cb49 54.5px,#c6cb48 55.5px,#80cc70 57.5px,#72ca78 58.5px,#bccc4d 67.5px,#ccc945 69.5px,#b0cd54 70.5px,#89cd6b 71.5px,#77cb75 72.5px,#bacc4e 79.5px,#cdc945 81.5px,#bccc4d 82.5px,#92cd65 83.5px,#7bcb73 84.5px,#bdcc4c 90.5px,#d2c843 92.5px,#c1cb4a 93.5px,#95cd63 94.5px,#81cc6f 95.5px,#c5cb48 101.5px,#d6c741 103.5px,#accd55 104.5px,#7fcc70 105.5px,#c6cb48 111.5px,#d9c63f 113.5px,#b0cd53 114.5px,#83cc6e 115.5px,#bfcc4b 120.5px,#d5c741 122.5px,#d2c843 123.5px,#a7cd59 124.5px,#87cc6b 125.5px,#c6cb48 130.5px,#dbc53f 132.5px,#c6cb48 133.5px,#99cd61 134.5px,#8fcd67 135.5px,#cec944 140.5px,#d8c640 141.5px,#dac63f 142.5px,#b1cd53 143.5px,#8ccd68 144.5px,#cdc945 149.5px,#e2c33c 151.5px,#c1cb4b 152.5px,#94cd64 153.5px,#99cd60 154.5px,#d8c640 159.5px,#e1c33c 160.5px,#d1c843 161.5px,#a7cd58 162.5px,#96cd62 163.5px,#b1cd53 166.5px,#b7cc4f 167.5px,rgba(189,204,77,0.75) 168.5px)"></i>
<i style="top:76px;left:343px;width:169px;background:linear-gradient(90deg,rgba(113,202,121,0.25) 0.5px,#74ca77 1.5px,#adcd55 13.5px,#a0ce5c 14.5px,#56c58a 17.5px,#a0ce5d 31.5px,#b8cc4f 35.5px,#b5cd51 36.5px,#78cb75 38.5px,#63c882 39.5px,#accd56 50.5px,#c1cb4a 53.5px,#accd56 54.5px,#68c87f 56.5px,#afcd54 65.5px,#c0cb4b 67.5px,#c2cb4a 68.5px,#9cce5f 69.5px,#76cb76 70.5px,#72ca78 71.5px,#b5cd51 78.5px,#c8ca47 80.5px,#afcd54 81.5px,#85cc6d 82.5px,#74ca77 83.5px,#b4cd51 89.5px,#c9ca46 91.5px,#b6cd50 92.5px,#8acd6a 93.5px,#77cb75 94.5px,#bbcc4e 100.5px,#cdc945 102.5px,#a2ce5b 103.5px,#76cb76 104.5px,#bacc4e 110.5px,#d0c943 112.5px,#a7cd58 113.5px,#7acb74 114.5px,#80cc70 115.5px,#becc4c 120.5px,#caca46 121.5px,#cbca46 122.5px,#9fce5d 123.5px,#7acb74 124.5px,#b9cc4f 129.5px,#d0c943 131.5px,#bfcc4b 132.5px,#92cd65 133.5px,#81cc6f 134.5px,#c1cb4b 139.5px,#d6c741 141.5px,#accd56 142.5px,#7ecc71 143.5px,#c0cb4b 148.5px,#d7c740 150.5px,#bccc4d 151.5px,#8fcd67 152.5px,#8bcd69 153.5px,#cbca45 158.5px,#d6c740 159.5px,#cec944 160.5px,#a4cd5a 161.5px,#89cd6a 162.5px,#a7cd58 165.5px,#b5cd51 167.5px,rgba(187,204,78,0.75) 168.5px)"></i>
<i style="top:77px;left:343px;width:169px;background:linear-gradient(90deg,rgba(114,202,120,0.25) 0.5px,#76cb76 1.5px,#a5cd5a 11.5px,#5cc686 14.5px,#4fc48e 15.5px,#97cd62 29.5px,#afcd54 33.5px,#afcd54 34.5px,#73ca78 36.5px,#5ac687 37.5px,#a9cd57 49.5px,#b7cc4f 51.5px,#b3cd52 52.5px,#6ec97b 54.5px,#65c880 55.5px,#b3cd51 65.5px,#bccc4d 66.5px,#afcd54 67.5px,#65c880 69.5px,#afcd54 77.5px,#c2cb4a 79.5px,#a1ce5c 80.5px,#78cb75 81.5px,#6ec97b 82.5px,#b8cc4f 89.5px,#c3cb49 90.5px,#accd56 91.5px,#80cc70 92.5px,#70ca79 93.5px,#b3cd52 99.5px,#c7ca48 101.5px,#9bcd5f 102.5px,#6fca7a 103.5px,#9acd60 107.5px,#c9ca47 111.5px,#a3cd5b 112.5px,#76cb76 113.5px,#78cb74 114.5px,#c2cb4a 120.5px,#c7ca47 121.5px,#9bcd5f 122.5px,#71ca79 123.5px,#bbcc4e 129.5px,#c7ca48 130.5px,#bbcc4d 131.5px,#8ecd67 132.5px,#76cb76 133.5px,#b5cd50 138.5px,#cdc944 140.5px,#a7cd58 141.5px,#7acb74 142.5px,#7ecc71 143.5px,#bfcc4b 148.5px,#cbca45 149.5px,#b8cc4f 150.5px,#8bcd69 151.5px,#7ccb72 152.5px,#becc4c 157.5px,#caca46 158.5px,#cbca46 159.5px,#a0ce5d 160.5px,#7acb74 161.5px,#9cce5f 164.5px,#b3cd52 167.5px,rgba(184,204,79,0.75) 168.5px)"></i>
<i style="top:78px;left:343px;width:169px;background:linear-gradient(90deg,rgba(116,202,119,0.25) 0.5px,#78cb75 1.5px,#98cd61 8.5px,#95cd63 9.5px,#4cc390 12.5px,#49c292 13.5px,#89cd6a 26.5px,#a7cd59 31.5px,#a8cd58 32.5px,#53c48c 35.5px,#a0ce5d 47.5px,#b5cd51 50.5px,#74ca77 52.5px,#5bc686 53.5px,#a7cd58 63.5px,#b8cc4f 65.5px,#99cd60 66.5px,#74ca77 67.5px,#61c783 68.5px,#aacd57 76.5px,#bacc4e 78.5px,#92cd65 79.5px,#6ac97d 80.5px,#68c87e 81.5px,#b2cd52 88.5px,#bccc4d 89.5px,#a2ce5c 90.5px,#76cb76 91.5px,#6ac97d 92.5px,#b7cc4f 99.5px,#c0cb4b 100.5px,#94cd64 101.5px,#68c87e 102.5px,#87cc6c 105.5px,#c2cb4a 110.5px,#9ece5e 111.5px,#71ca79 112.5px,#71ca79 113.5px,#bacc4e 119.5px,#c4cb49 120.5px,#98cd61 121.5px,#6bc97d 122.5px,#b3cd52 128.5px,#bfcc4c 129.5px,#b9cc4f 130.5px,#8ccd69 131.5px,#6ec97b 132.5px,#b9cc4e 138.5px,#c6cb48 139.5px,#a6cd59 140.5px,#79cb74 141.5px,#76cb76 142.5px,#b6cd50 147.5px,#c3cb49 148.5px,#b8cc4f 149.5px,#8bcd69 150.5px,#73ca78 151.5px,#b4cd51 156.5px,#caca46 158.5px,#a0ce5d 159.5px,#74ca77 160.5px,#88cd6b 162.5px,#a6cd59 165.5px,rgba(184,204,79,0.94) 168.5px)"></i>
<i style="top:79px;left:343px;width:169px;background:linear-gradient(90deg,rgba(118,203,118,0.38) 0.5px,#79cb74 1.5px,#91cd66 6.5px,#81cc6f 7.5px,#51c48d 9.5px,#3fc099 10.5px,#77cb75 22.5px,#9ece5e 29.5px,#9fce5d 30.5px,#4bc391 33.5px,#8fcd67 44.5px,#abcd56 48.5px,#9bcd5f 49.5px,#59c688 51.5px,#58c688 52.5px,#a3cd5b 62.5px,#abcd56 63.5px,#a9cd57 64.5px,#5fc784 66.5px,#5dc685 67.5px,#aecd55 76.5px,#abcd56 77.5px,#5cc686 79.5px,#8bcd69 84.5px,#b6cd50 88.5px,#96cd62 89.5px,#6cc97c 90.5px,#63c882 91.5px,#b0cd53 98.5px,#b8cc4f 99.5px,#8ccd69 100.5px,#61c783 101.5px,#97cd62 106.5px,#bacc4e 109.5px,#98cd61 110.5px,#6cc97c 111.5px,#69c97e 112.5px,#b2cd52 118.5px,#becc4c 119.5px,#94cd64 120.5px,#68c87f 121.5px,#6dc97c 122.5px,#b7cc50 128.5px,#b6cd50 129.5px,#89cd6a 130.5px,#66c880 131.5px,#b1cd53 137.5px,#becc4c 138.5px,#a5cd5a 139.5px,#78cb75 140.5px,#6dc97b 141.5px,#adcd55 146.5px,#bacc4e 147.5px,#b8cc4f 148.5px,#8bcd69 149.5px,#6ac97d 150.5px,#b7cc50 156.5px,#c3cb49 157.5px,#a0ce5d 158.5px,#74ca77 159.5px,#72ca78 160.5px,#a0ce5d 164.5px,#bbcc4e 168.5px)"></i>
<i style="top:80px;left:343px;width:169px;background:linear-gradient(90deg,rgba(119,203,117,0.50) 0.5px,#7bcb73 1.5px,#84cc6d 3.5px,#85cc6d 4.5px,#40c098 7.5px,#39be9d 8.5px,#6ac97d 19.5px,#96cd63 27.5px,#95cd63 28.5px,#44c195 31.5px,#7fcc71 41.5px,#a1ce5c 46.5px,#9ece5d 47.5px,#5dc685 49.5px,#50c48e 50.5px,#97cd62 60.5px,#a8cd58 62.5px,#92cd65 63.5px,#6dc97b 64.5px,#51c48d 65.5px,#9fce5d 74.5px,#a9cd57 75.5px,#9acd60 76.5px,#72ca78 77.5px,#54c58b 78.5px,#a4cd5a 86.5px,#afcd54 87.5px,#8bcd69 88.5px,#61c783 89.5px,#5dc685 90.5px,#a9cd57 97.5px,#afcd54 98.5px,#83cc6e 99.5px,#59c688 100.5px,#a7cd58 107.5px,#b3cd52 108.5px,#92cd65 109.5px,#67c87f 110.5px,#62c782 111.5px,#aacd57 117.5px,#b6cd50 118.5px,#90cd66 119.5px,#64c881 120.5px,#65c880 121.5px,#afcd54 127.5px,#b3cd52 128.5px,#86cc6c 129.5px,#5ec784 130.5px,#a9cd57 136.5px,#b5cd50 137.5px,#a3cd5b 138.5px,#76cb76 139.5px,#65c880 140.5px,#b1cd53 146.5px,#b8cc4f 147.5px,#8acd6a 148.5px,#61c783 149.5px,#aecd55 155.5px,#bacc4e 156.5px,#a0ce5d 157.5px,#75ca77 158.5px,#69c97e 159.5px,#a2cd5b 164.5px,#bdcc4c 168.5px)"></i>
<i style="top:81px;left:343px;width:170px;background:linear-gradient(90deg,rgba(121,203,116,0.50) 0.5px,#7dcb72 1.5px,#6fca7a 2.5px,#43c196 4.5px,#31bca3 5.5px,#58c588 15.5px,#8ecd67 25.5px,#89cd6a 26.5px,#53c48b 28.5px,#3ebf9a 29.5px,#6fca7a 38.5px,#9fce5d 45.5px,#60c784 47.5px,#48c293 48.5px,#8ccd68 58.5px,#9cce5f 60.5px,#9ece5d 61.5px,#57c589 63.5px,#4ec38f 64.5px,#91cd66 72.5px,#a4cd5a 74.5px,#89cd6a 75.5px,#62c782 76.5px,#50c48e 77.5px,#9ece5e 85.5px,#a9cd57 86.5px,#56c589 88.5px,#57c589 89.5px,#a2ce5b 96.5px,#a6cd59 97.5px,#51c48d 99.5px,#9fce5d 106.5px,#abcd56 107.5px,#8ccd69 108.5px,#61c783 109.5px,#5ac687 110.5px,#a2ce5c 116.5px,#aecd54 117.5px,#8bcd69 118.5px,#60c784 119.5px,#5ec785 120.5px,#a7cd59 126.5px,#b0cd54 127.5px,#83cc6e 128.5px,#58c589 129.5px,#a0ce5c 135.5px,#adcd55 136.5px,#a1ce5c 137.5px,#74ca77 138.5px,#5dc685 139.5px,#a8cd58 145.5px,#b5cd50 146.5px,#89cd6a 147.5px,#5ec785 148.5px,#65c880 149.5px,#b1cd53 155.5px,#a0ce5d 156.5px,#74ca77 157.5px,#60c783 158.5px,#9ccd5f 163.5px,#b5cd51 166.5px,#b3cd52 167.5px,#a1ce5c 168.5px,rgba(147,205,100,0.06) 169.5px)"></i>
<i style="top:82px;left:343px;width:170px;background:linear-gradient(90deg,rgba(91,198,135,0.50) 0.5px,#45c194 1.5px,#33bda1 2.5px,#2bbba7 3.5px,#56c58a 14.5px,#85cc6d 23.5px,#7ccb72 24.5px,#49c292 26.5px,#38be9e 27.5px,#67c87f 36.5px,#95cd63 43.5px,#7fcc70 44.5px,#44c195 46.5px,#4cc390 48.5px,#91cd66 58.5px,#98cd61 59.5px,#85cc6d 60.5px,#44c195 62.5px,#83cc6e 70.5px,#9ece5e 73.5px,#52c48c 75.5px,#4bc390 76.5px,#98cd61 84.5px,#9cce5f 85.5px,#4cc390 87.5px,#5bc687 89.5px,#9bcd60 95.5px,#9bcd5f 96.5px,#70ca79 97.5px,#4bc390 98.5px,#a4cd5a 106.5px,#85cc6d 107.5px,#5ac687 108.5px,#54c58b 109.5px,#a6cd59 116.5px,#87cc6c 117.5px,#5cc686 118.5px,#56c589 119.5px,#9ece5d 125.5px,#abcd56 126.5px,#7fcc70 127.5px,#55c58a 128.5px,#5bc686 129.5px,#a5cd5a 135.5px,#9ece5d 136.5px,#72ca78 137.5px,#56c58a 138.5px,#9fce5d 144.5px,#accd55 145.5px,#88cd6b 146.5px,#5dc685 147.5px,#5dc685 148.5px,#a8cd58 154.5px,#9fce5d 155.5px,#74ca77 156.5px,#58c589 157.5px,#9ece5e 163.5px,#b0cd54 165.5px,#78cb75 168.5px,rgba(106,201,125,0.25) 169.5px)"></i>
<i style="top:83px;left:343px;width:170px;background:linear-gradient(90deg,rgba(38,186,171,0.50) 0.5px,#28baa9 1.5px,#4fc38e 12.5px,#7ccb72 21.5px,#6fca7a 22.5px,#3fc099 24.5px,#32bda2 25.5px,#5ec785 34.5px,#8acd69 41.5px,#7ecc71 42.5px,#45c195 44.5px,#3fc099 45.5px,#77cb75 54.5px,#8dcd68 57.5px,#8ecd67 58.5px,#4cc390 60.5px,#42c097 61.5px,#7ecc71 69.5px,#90cd66 71.5px,#8acd6a 72.5px,#44c196 74.5px,#50c48e 76.5px,#91cd65 83.5px,#8ecd67 84.5px,#66c880 85.5px,#43c196 86.5px,#88cd6b 93.5px,#93cd64 94.5px,#90cd66 95.5px,#67c87f 96.5px,#46c194 97.5px,#9ccd5f 105.5px,#7dcb72 106.5px,#54c58b 107.5px,#4ec38f 108.5px,#9dce5e 115.5px,#81cc6f 116.5px,#57c589 117.5px,#50c48d 118.5px,#a2ce5b 125.5px,#52c48c 127.5px,#54c58b 128.5px,#9ccd5f 134.5px,#9bcd60 135.5px,#6fca7a 136.5px,#4fc38e 137.5px,#a3cd5b 144.5px,#87cc6c 145.5px,#5cc686 146.5px,#55c58a 147.5px,#9ece5e 153.5px,#9ece5e 154.5px,#73ca78 155.5px,#50c48d 156.5px,#a0ce5c 163.5px,#a7cd59 164.5px,#74ca77 166.5px,#51c48d 168.5px,rgba(84,197,139,0.25) 169.5px)"></i>
<i style="top:84px;left:343px;width:170px;background:linear-gradient(90deg,rgba(40,186,170,0.50) 0.5px,#2abba8 1.5px,#52c48c 12.5px,#74ca77 19.5px,#35bda0 22.5px,#2dbba5 23.5px,#56c58a 32.5px,#80cc70 39.5px,#7bcb73 40.5px,#43c196 42.5px,#38be9d 43.5px,#74ca77 53.5px,#89cd6a 56.5px,#74ca77 57.5px,#54c58b 58.5px,#3abe9c 59.5px,#6ac97d 66.5px,#8bcd69 70.5px,#77cb75 71.5px,#54c58b 72.5px,#3dbf9a 73.5px,#78cb75 80.5px,#8bcd69 82.5px,#80cc70 83.5px,#59c688 84.5px,#3fc099 85.5px,#81cc6f 92.5px,#8ccd68 93.5px,#85cc6d 94.5px,#5dc685 95.5px,#41c097 96.5px,#88cd6b 103.5px,#94cd64 104.5px,#75ca77 105.5px,#4dc38f 106.5px,#48c293 107.5px,#95cd63 114.5px,#7bcb73 115.5px,#53c48c 116.5px,#4ac292 117.5px,#9acd60 124.5px,#4ec38f 126.5px,#4ec38f 127.5px,#93cd64 133.5px,#97cd62 134.5px,#6cc97c 135.5px,#48c292 136.5px,#9acd60 143.5px,#85cc6d 144.5px,#5bc686 145.5px,#4ec38f 146.5px,#95cd63 152.5px,#9ccd5f 153.5px,#4bc391 155.5px,#75ca77 159.5px,#98cd61 162.5px,#9ccd5f 163.5px,#63c882 165.5px,#4ec38f 166.5px,#52c48c 168.5px,rgba(86,197,138,0.25) 169.5px)"></i>
<i style="top:85px;left:343px;width:170px;background:linear-gradient(90deg,rgba(42,187,168,0.50) 0.5px,#2cbba6 1.5px,#54c58b 12.5px,#6cc97c 17.5px,#3ec099 19.5px,#2cbba6 20.5px,#29baa9 21.5px,#54c58b 31.5px,#77cb75 37.5px,#76cb76 38.5px,#41c097 40.5px,#32bca2 41.5px,#6ac97d 51.5px,#7fcc71 54.5px,#7acb73 55.5px,#3fc099 57.5px,#38be9d 58.5px,#66c880 65.5px,#86cc6c 69.5px,#43c196 71.5px,#3abe9c 72.5px,#69c97e 78.5px,#85cc6d 81.5px,#71ca79 82.5px,#4dc390 83.5px,#3bbf9b 84.5px,#70ca79 90.5px,#85cc6d 92.5px,#79cb74 93.5px,#53c48c 94.5px,#3cbf9b 95.5px,#76cb76 101.5px,#8ccd69 103.5px,#6cc97c 104.5px,#47c294 105.5px,#43c196 106.5px,#8dcd68 113.5px,#75ca76 114.5px,#4ec38f 115.5px,#44c195 116.5px,#91cd65 123.5px,#71ca79 124.5px,#4ac291 125.5px,#47c293 126.5px,#8bcd69 132.5px,#92cd65 133.5px,#43c196 135.5px,#85cc6d 141.5px,#91cd65 142.5px,#82cc6e 143.5px,#59c687 144.5px,#47c293 145.5px,#98cd61 152.5px,#4ac291 154.5px,#4cc390 155.5px,#8ecd67 161.5px,#95cd63 162.5px,#73ca78 163.5px,#56c58a 164.5px,#46c194 165.5px,#55c58a 168.5px,rgba(88,197,136,0.50) 169.5px)"></i>
<i style="top:86px;left:343px;width:170px;background:linear-gradient(90deg,rgba(44,187,167,0.50) 0.5px,#2ebca5 1.5px,#57c589 12.5px,#60c783 14.5px,#5dc785 15.5px,#34bda1 17.5px,#23b9ad 18.5px,#3ec099 26.5px,#70ca79 36.5px,#3ebf9a 38.5px,#2cbba6 39.5px,#5bc686 48.5px,#7bcb73 53.5px,#44c196 55.5px,#31bca2 56.5px,#5bc687 63.5px,#79cb74 67.5px,#71ca79 68.5px,#50c48d 69.5px,#35bda0 70.5px,#44c195 73.5px,#7fcc70 80.5px,#41c098 82.5px,#37be9e 83.5px,#6ac97d 89.5px,#7ecc71 91.5px,#6dc97b 92.5px,#49c292 93.5px,#38be9e 94.5px,#6fca7a 100.5px,#84cc6d 102.5px,#40c098 104.5px,#3dbf9a 105.5px,#79cb74 111.5px,#85cc6d 112.5px,#6ec97b 113.5px,#48c292 114.5px,#3ebf99 115.5px,#89cd6a 122.5px,#6cc97c 123.5px,#46c194 124.5px,#42c097 125.5px,#8ecd68 132.5px,#40c098 134.5px,#50c48d 136.5px,#88cd6b 141.5px,#7fcc70 142.5px,#57c589 143.5px,#41c097 144.5px,#8ecd67 151.5px,#6ec97b 152.5px,#49c292 153.5px,#45c195 154.5px,#90cd66 161.5px,#6cc97c 162.5px,#4dc38f 163.5px,#42c097 164.5px,#57c589 168.5px,rgba(90,198,135,0.50) 169.5px)"></i>
<i style="top:87px;left:343px;width:170px;background:linear-gradient(90deg,rgba(46,187,165,0.50) 0.5px,#30bca3 1.5px,#59c688 12.5px,#4fc38e 13.5px,#2abba8 15.5px,#1eb8b2 16.5px,#45c194 27.5px,#69c97e 34.5px,#39be9d 36.5px,#27baab 37.5px,#4dc390 45.5px,#71ca79 51.5px,#64c881 52.5px,#30bca3 54.5px,#34bda0 56.5px,#5ec784 63.5px,#75ca77 66.5px,#5dc685 67.5px,#3fc098 68.5px,#2fbca4 69.5px,#57c589 75.5px,#76cb76 79.5px,#53c48c 80.5px,#35bd9f 81.5px,#34bda1 82.5px,#64c881 88.5px,#77cb75 90.5px,#61c783 91.5px,#3fc099 92.5px,#34bda1 93.5px,#68c97e 99.5px,#7dcb72 101.5px,#39be9d 103.5px,#39be9d 104.5px,#72ca78 110.5px,#7dcb72 111.5px,#67c87f 112.5px,#43c196 113.5px,#39be9d 114.5px,#75cb76 120.5px,#81cc6f 121.5px,#66c880 122.5px,#42c097 123.5px,#3cbf9b 124.5px,#7acb73 130.5px,#86cc6c 131.5px,#3dbf9a 133.5px,#40c098 134.5px,#80cc70 140.5px,#7ccb72 141.5px,#55c58a 142.5px,#3bbf9b 143.5px,#7acb74 149.5px,#85cc6d 150.5px,#6cc97c 151.5px,#47c293 152.5px,#3fc099 153.5px,#87cc6b 160.5px,#48c293 162.5px,#3ebf9a 163.5px,#59c688 168.5px,rgba(92,198,134,0.50) 169.5px)"></i>
<i style="top:88px;left:343px;width:170px;background:linear-gradient(90deg,rgba(48,188,164,0.50) 0.5px,#32bca2 1.5px,#52c48c 10.5px,#21b8af 13.5px,#1ab7b5 14.5px,#43c196 26.5px,#61c783 32.5px,#34bda0 34.5px,#23b9ae 35.5px,#44c195 43.5px,#67c87f 49.5px,#66c880 50.5px,#33bda2 52.5px,#2abaa8 53.5px,#54c58b 61.5px,#69c97e 64.5px,#68c87f 65.5px,#49c292 66.5px,#30bca3 67.5px,#2dbba6 68.5px,#53c48c 74.5px,#6bc97d 77.5px,#65c880 78.5px,#45c195 79.5px,#2bbba7 80.5px,#4dc38f 85.5px,#71ca79 89.5px,#36bd9f 91.5px,#30bca4 92.5px,#61c782 98.5px,#75cb76 100.5px,#51c48d 101.5px,#32bda2 102.5px,#34bda1 103.5px,#6bc97d 109.5px,#75ca76 110.5px,#60c784 111.5px,#3dbf9a 112.5px,#34bda0 113.5px,#63c882 118.5px,#79cb74 120.5px,#60c783 121.5px,#3ebf9a 122.5px,#37be9e 123.5px,#72ca78 129.5px,#7ecc71 130.5px,#3abe9c 132.5px,#3bbf9c 133.5px,#78cb75 139.5px,#78cb75 140.5px,#52c48c 141.5px,#36bd9f 142.5px,#71ca79 148.5px,#7ccb72 149.5px,#69c97e 150.5px,#46c194 151.5px,#39be9d 152.5px,#7ecc71 159.5px,#67c87f 160.5px,#46c194 161.5px,#39be9d 162.5px,#56c589 167.5px,#5ac687 168.5px,rgba(94,199,133,0.62) 169.5px)"></i>
<i style="top:89px;left:343px;width:170px;background:linear-gradient(90deg,rgba(49,188,163,0.50) 0.5px,#34bda1 1.5px,#48c293 7.5px,#47c293 8.5px,#18b7b7 11.5px,#19b7b6 13.5px,#41c097 25.5px,#59c688 30.5px,#2fbca4 32.5px,#1fb8b1 33.5px,#38be9e 40.5px,#64c881 48.5px,#34bda0 50.5px,#24b9ad 51.5px,#4ac291 59.5px,#65c881 63.5px,#52c48c 64.5px,#38be9e 65.5px,#25b9ac 66.5px,#4ec38f 73.5px,#66c880 76.5px,#55c58b 77.5px,#38be9e 78.5px,#27baaa 79.5px,#50c48d 85.5px,#6ac97d 88.5px,#49c292 89.5px,#2ebba5 90.5px,#2cbba7 91.5px,#5bc687 97.5px,#6ac97d 99.5px,#47c293 100.5px,#2bbba7 101.5px,#3ec099 104.5px,#6dc97b 109.5px,#57c589 110.5px,#37be9e 111.5px,#2fbca4 112.5px,#5bc686 117.5px,#71ca79 119.5px,#5ac687 120.5px,#39be9d 121.5px,#32bca2 122.5px,#60c783 127.5px,#76cb76 129.5px,#37be9f 131.5px,#35bd9f 132.5px,#70ca7a 138.5px,#74ca77 139.5px,#4fc38e 140.5px,#31bca3 141.5px,#5ec784 146.5px,#74ca77 148.5px,#66c880 149.5px,#43c196 150.5px,#33bda1 151.5px,#6bc97d 157.5px,#75ca76 158.5px,#64c881 159.5px,#44c196 160.5px,#33bda1 161.5px,#58c588 167.5px,#5cc686 168.5px,rgba(95,199,132,0.75) 169.5px)"></i>
<i style="top:90px;left:343px;width:170px;background:linear-gradient(90deg,rgba(51,189,162,0.50) 0.5px,#35bda0 1.5px,#42c097 5.5px,#3abe9c 6.5px,#1cb8b3 8.5px,#11b5be 9.5px,#37be9e 22.5px,#50c48e 28.5px,#29baa9 30.5px,#1ab7b5 31.5px,#36bd9f 39.5px,#5bc687 46.5px,#4cc390 47.5px,#22b9ae 49.5px,#2abba8 52.5px,#53c48b 60.5px,#5ac687 61.5px,#5ac687 62.5px,#29baa9 64.5px,#23b9ad 65.5px,#4ac291 72.5px,#60c783 75.5px,#2cbba6 77.5px,#25b9ac 78.5px,#4bc391 84.5px,#5bc686 86.5px,#5ec784 87.5px,#3fc099 88.5px,#25b9ac 89.5px,#35bda0 92.5px,#5ec785 97.5px,#5fc784 98.5px,#3ec099 99.5px,#25b9ac 100.5px,#52c48c 106.5px,#66c880 108.5px,#4fc38e 109.5px,#31bca2 110.5px,#2bbba8 111.5px,#54c58b 116.5px,#68c87e 118.5px,#53c48c 119.5px,#34bda1 120.5px,#2dbba6 121.5px,#58c588 126.5px,#6dc97c 128.5px,#32bda2 130.5px,#30bca3 131.5px,#5dc685 136.5px,#6fca7a 138.5px,#4bc391 139.5px,#2ebba5 140.5px,#4dc390 144.5px,#6bc97d 147.5px,#62c782 148.5px,#41c098 149.5px,#2ebba5 150.5px,#62c782 156.5px,#6cc97c 157.5px,#60c783 158.5px,#41c097 159.5px,#2dbba5 160.5px,#54c58b 166.5px,#5dc685 168.5px,rgba(96,199,131,0.75) 169.5px)"></i>
<i style="top:91px;left:343px;width:170px;background:linear-gradient(90deg,rgba(52,189,161,0.50) 0.5px,#37be9f 1.5px,#3dbf9a 3.5px,#13b6bb 6.5px,#0eb5c1 7.5px,#32bca2 20.5px,#46c194 26.5px,#15b6ba 29.5px,#38be9e 39.5px,#51c48d 44.5px,#4ac291 45.5px,#22b9ae 47.5px,#1db8b2 48.5px,#44c195 57.5px,#56c58a 60.5px,#45c195 61.5px,#2ebba5 62.5px,#1db8b3 63.5px,#46c194 71.5px,#54c58b 73.5px,#52c48c 74.5px,#21b9af 76.5px,#27baaa 78.5px,#4ec38f 84.5px,#56c58a 85.5px,#51c48d 86.5px,#34bda0 87.5px,#1fb8b1 88.5px,#46c194 94.5px,#57c589 96.5px,#53c48b 97.5px,#36bd9f 98.5px,#21b9af 99.5px,#4cc390 105.5px,#5ec784 107.5px,#2bbba7 109.5px,#26baab 110.5px,#4dc390 115.5px,#60c783 117.5px,#4cc390 118.5px,#2fbca4 119.5px,#28baaa 120.5px,#50c48d 125.5px,#64c881 127.5px,#2ebba5 129.5px,#2bbba7 130.5px,#55c58a 135.5px,#69c97e 137.5px,#46c194 138.5px,#2abba8 139.5px,#35bda0 141.5px,#62c782 146.5px,#5ec785 147.5px,#3dbf9a 148.5px,#29baa9 149.5px,#59c688 155.5px,#63c881 156.5px,#5cc686 157.5px,#3dbf9a 158.5px,#28baaa 159.5px,#55c58a 166.5px,#5dc785 168.5px,rgba(96,199,131,0.75) 169.5px)"></i>
<i style="top:92px;left:343px;width:170px;background:linear-gradient(90deg,rgba(53,189,160,0.50) 0.5px,#31bca3 1.5px,#0cb4c4 4.5px,#1eb8b2 13.5px,#3ec099 23.5px,#3dbf9a 24.5px,#11b5be 27.5px,#35bda0 38.5px,#48c293 42.5px,#47c293 43.5px,#21b9af 45.5px,#18b7b7 46.5px,#41c097 56.5px,#4cc390 58.5px,#49c292 59.5px,#1fb8b1 61.5px,#1bb7b4 62.5px,#42c096 70.5px,#4fc48e 72.5px,#42c097 73.5px,#2bbba7 74.5px,#1bb7b5 75.5px,#42c097 82.5px,#50c48d 84.5px,#44c195 85.5px,#2bbba7 86.5px,#1cb8b3 87.5px,#49c292 94.5px,#51c48d 95.5px,#48c292 96.5px,#2ebba5 97.5px,#1eb8b2 98.5px,#46c194 104.5px,#57c589 106.5px,#25b9ac 108.5px,#22b9ae 109.5px,#4fc38e 115.5px,#58c588 116.5px,#45c195 117.5px,#2abaa8 118.5px,#23b9ad 119.5px,#52c48c 125.5px,#5cc686 126.5px,#2abaa8 128.5px,#26baab 129.5px,#4dc390 134.5px,#60c783 136.5px,#27baaa 138.5px,#28baa9 139.5px,#50c48e 144.5px,#59c688 145.5px,#59c688 146.5px,#3abe9c 147.5px,#23b9ad 148.5px,#51c48d 154.5px,#5ac687 155.5px,#57c589 156.5px,#3abe9c 157.5px,#23b9ae 158.5px,#55c58a 166.5px,#61c783 169.5px)"></i>
<i style="top:93px;left:343px;width:170px;background:linear-gradient(90deg,rgba(25,183,182,0.50) 0.5px,#0eb5c1 1.5px,#09b3c9 2.5px,#22b9ae 14.5px,#38be9d 21.5px,#34bda0 22.5px,#17b6b8 24.5px,#0db5c2 25.5px,#2fbca4 36.5px,#44c195 41.5px,#1fb8b0 43.5px,#14b6bb 44.5px,#3ebf99 55.5px,#48c292 57.5px,#23b9ae 59.5px,#16b6b9 60.5px,#3fc099 69.5px,#4bc391 71.5px,#1fb8b1 73.5px,#18b7b7 74.5px,#3dbf9a 81.5px,#4bc391 83.5px,#22b9ae 85.5px,#19b7b6 86.5px,#44c196 93.5px,#4bc391 94.5px,#3ebf99 95.5px,#26baab 96.5px,#1ab7b5 97.5px,#48c293 104.5px,#50c48d 105.5px,#1fb8b0 107.5px,#1eb8b2 108.5px,#48c293 114.5px,#51c48d 115.5px,#3ebf99 116.5px,#25b9ac 117.5px,#1fb8b1 118.5px,#4bc291 124.5px,#54c58b 125.5px,#25b9ac 127.5px,#21b9af 128.5px,#4ec38f 134.5px,#58c589 135.5px,#23b9ad 137.5px,#23b9ad 138.5px,#51c48d 144.5px,#54c58b 145.5px,#36be9f 146.5px,#1fb8b1 147.5px,#49c292 153.5px,#52c48c 154.5px,#52c48c 155.5px,#36be9f 156.5px,#20b8b0 157.5px,#3ebf99 162.5px,#55c58a 166.5px,#56c58a 167.5px,#40c098 169.5px)"></i>
<i style="top:94px;left:343px;width:170px;background:linear-gradient(90deg,rgba(8,178,203,0.50) 0.5px,#08b3c9 1.5px,#1eb8b2 12.5px,#33bda1 19.5px,#2cbba7 20.5px,#11b5be 22.5px,#0bb4c5 23.5px,#29baa9 34.5px,#3dbf9a 39.5px,#10b5bf 42.5px,#37be9f 53.5px,#40c098 55.5px,#38be9d 56.5px,#15b6ba 58.5px,#18b7b7 60.5px,#3bbf9b 68.5px,#41c098 69.5px,#3cbf9b 70.5px,#15b6ba 72.5px,#29baa9 77.5px,#46c194 82.5px,#19b7b6 84.5px,#17b6b8 85.5px,#3ec099 92.5px,#46c194 93.5px,#34bda0 94.5px,#1eb8b1 95.5px,#17b7b8 96.5px,#42c097 103.5px,#4ac291 104.5px,#1ab7b5 106.5px,#20b8b0 108.5px,#4ac292 114.5px,#37be9e 115.5px,#20b8b0 116.5px,#1bb7b5 117.5px,#44c196 123.5px,#4cc390 124.5px,#21b8b0 126.5px,#1cb8b3 127.5px,#47c294 133.5px,#4fc48e 134.5px,#20b8b0 136.5px,#1fb8b1 137.5px,#4fc38e 144.5px,#33bda1 145.5px,#1cb8b3 146.5px,#33bda1 150.5px,#4ac292 153.5px,#4dc390 154.5px,#33bda1 155.5px,#1db8b2 156.5px,#25b9ac 158.5px,#50c48d 165.5px,#2ebba5 168.5px,#27baab 169.5px)"></i>
<i style="top:95px;left:343px;width:171px;background:linear-gradient(90deg,rgba(8,179,202,0.50) 0.5px,#09b3c8 1.5px,#22b9af 13.5px,#2dbba5 17.5px,#0cb4c4 20.5px,#09b3c8 21.5px,#21b8b0 31.5px,#36bd9f 37.5px,#0eb5c1 40.5px,#1db8b2 46.5px,#3abe9c 54.5px,#17b6b8 56.5px,#10b5bf 57.5px,#33bda2 66.5px,#3dbf9a 68.5px,#1bb7b5 70.5px,#10b5be 71.5px,#35bda0 79.5px,#3bbf9b 80.5px,#39be9d 81.5px,#12b5bd 83.5px,#2dbba5 89.5px,#40c098 92.5px,#17b7b8 94.5px,#14b6bb 95.5px,#40c098 103.5px,#14b6bb 105.5px,#2ebba5 110.5px,#43c196 113.5px,#1bb7b4 115.5px,#17b6b8 116.5px,#45c195 123.5px,#1cb8b3 125.5px,#18b7b7 126.5px,#48c293 133.5px,#1cb7b4 135.5px,#1ab7b5 136.5px,#49c292 143.5px,#19b7b6 145.5px,#21b8b0 147.5px,#48c293 153.5px,#1bb7b5 155.5px,#1ab7b5 156.5px,#45c195 163.5px,#46c194 164.5px,#29baa9 166.5px,#18b7b7 168.5px,#18b7b7 169.5px,rgba(25,183,182,0.12) 170.5px)"></i>
<i style="top:96px;left:343px;width:171px;background:linear-gradient(90deg,rgba(9,179,201,0.50) 0.5px,#09b3c7 1.5px,#25b9ac 14.5px,#28baa9 15.5px,#10b5bf 17.5px,#08b3c9 18.5px,#08b3c9 20.5px,#1fb8b1 30.5px,#30bca4 35.5px,#17b7b8 37.5px,#0cb4c4 38.5px,#0db4c2 40.5px,#35bd9f 52.5px,#0cb4c4 55.5px,#2bbba7 64.5px,#34bda0 66.5px,#33bda1 67.5px,#10b5bf 69.5px,#0fb5c0 70.5px,#32bca2 78.5px,#37be9e 79.5px,#2dbba6 80.5px,#1ab7b5 81.5px,#0eb5c1 82.5px,#39be9d 91.5px,#11b5be 93.5px,#16b6b9 95.5px,#37be9e 101.5px,#37be9e 102.5px,#0fb5c0 104.5px,#36bd9f 111.5px,#3dbf9a 112.5px,#16b6b9 114.5px,#13b6bc 115.5px,#3ec099 122.5px,#18b7b7 124.5px,#14b6bb 125.5px,#41c098 132.5px,#18b7b7 134.5px,#16b6b9 135.5px,#42c096 142.5px,#16b6b8 144.5px,#16b6b9 145.5px,#43c196 152.5px,#18b7b7 154.5px,#16b6b9 155.5px,#3ec099 162.5px,#3cbf9b 163.5px,#1eb8b1 165.5px,#14b6ba 166.5px,#18b7b7 169.5px,rgba(25,183,182,0.25) 170.5px)"></i>
<i style="top:97px;left:343px;width:171px;background:linear-gradient(90deg,rgba(9,179,200,0.50) 0.5px,#0ab4c6 1.5px,#21b8af 13.5px,#0bb4c5 15.5px,#06b1cf 16.5px,#10b5bf 24.5px,#2abaa8 33.5px,#14b6bb 35.5px,#09b3c7 36.5px,#0ab3c7 38.5px,#2bbba7 49.5px,#2fbca4 50.5px,#28baaa 51.5px,#0cb4c4 53.5px,#0db4c2 55.5px,#2dbba6 64.5px,#31bca3 65.5px,#14b6bb 67.5px,#0ab4c6 68.5px,#29baa9 76.5px,#33bda1 78.5px,#11b5bd 80.5px,#0cb4c3 81.5px,#2bbba7 88.5px,#31bca3 89.5px,#2fbca4 90.5px,#0bb4c4 92.5px,#2cbba6 99.5px,#32bda2 100.5px,#2ebca5 101.5px,#1ab7b5 102.5px,#0db4c3 103.5px,#31bca3 110.5px,#37be9e 111.5px,#11b5bd 113.5px,#10b5bf 114.5px,#38be9d 121.5px,#13b6bb 123.5px,#11b5be 124.5px,#3abe9c 131.5px,#14b6bb 133.5px,#12b5bd 134.5px,#3bbf9b 141.5px,#14b6bb 143.5px,#12b6bc 144.5px,#3cbf9b 151.5px,#15b6ba 153.5px,#12b5bd 154.5px,#38be9e 161.5px,#34bda0 162.5px,#16b6b9 164.5px,#10b5bf 165.5px,#18b7b7 169.5px,rgba(26,183,182,0.25) 170.5px)"></i>
<i style="top:98px;left:343px;width:171px;background:linear-gradient(90deg,rgba(9,179,199,0.50) 0.5px,#0bb4c5 1.5px,#1cb8b3 10.5px,#19b7b6 11.5px,#07b2cb 13.5px,#06b0d3 14.5px,#0db4c3 22.5px,#24b9ad 31.5px,#10b5bf 33.5px,#08b3ca 34.5px,#07b2cd 35.5px,#14b6ba 42.5px,#29baa9 48.5px,#27baaa 49.5px,#0cb4c4 51.5px,#08b3c9 52.5px,#1eb8b2 60.5px,#2abaa8 63.5px,#28baa9 64.5px,#0bb4c5 66.5px,#09b3c7 67.5px,#26baab 75.5px,#2abba8 76.5px,#29baa8 77.5px,#0ab4c6 79.5px,#11b5be 82.5px,#2dbba6 88.5px,#25b9ac 89.5px,#13b6bb 90.5px,#0ab3c7 91.5px,#28baa9 98.5px,#2ebba5 99.5px,#26baab 100.5px,#14b6bb 101.5px,#0ab4c6 102.5px,#2cbba7 109.5px,#32bca2 110.5px,#0db4c2 112.5px,#11b5be 114.5px,#32bda2 120.5px,#0fb5c0 122.5px,#0db4c2 123.5px,#34bda1 130.5px,#10b5be 132.5px,#0eb5c1 133.5px,#35bda0 140.5px,#11b5be 142.5px,#0fb5c0 143.5px,#35bda0 150.5px,#12b5bd 152.5px,#0eb5c1 153.5px,#31bca2 160.5px,#2fbca4 161.5px,#10b5bf 163.5px,#0eb5c2 164.5px,#18b7b7 169.5px,rgba(26,183,182,0.25) 170.5px)"></i>
<i style="top:99px;left:343px;width:171px;background:linear-gradient(90deg,rgba(10,180,198,0.50) 0.5px,#0bb4c4 1.5px,#18b7b7 8.5px,#09b3c8 10.5px,#06afd6 12.5px,#0cb4c4 21.5px,#1fb8b1 29.5px,#0cb4c3 31.5px,#07b2ce 32.5px,#06b1d0 33.5px,#10b5bf 40.5px,#26baab 47.5px,#0bb4c4 49.5px,#07b2cd 50.5px,#15b6ba 57.5px,#27baaa 62.5px,#0db4c2 64.5px,#07b2cc 65.5px,#1ab7b5 72.5px,#27baaa 75.5px,#1eb8b1 76.5px,#0fb5c0 77.5px,#07b2cb 78.5px,#1bb7b5 84.5px,#29baa9 87.5px,#0db4c2 89.5px,#08b3c9 90.5px,#1fb8b1 96.5px,#29baa8 98.5px,#1fb8b1 99.5px,#0eb5c1 100.5px,#09b3c8 101.5px,#22b9af 107.5px,#2bbba7 109.5px,#09b3c7 111.5px,#17b6b8 115.5px,#2dbba6 119.5px,#0cb4c4 121.5px,#0bb4c5 122.5px,#2ebba5 129.5px,#0db4c2 131.5px,#0bb4c5 132.5px,#2fbca4 139.5px,#0eb5c2 141.5px,#0bb4c4 142.5px,#2fbca4 149.5px,#0fb5c0 151.5px,#0bb4c5 152.5px,#2cbba7 159.5px,#2abba8 160.5px,#0cb4c4 162.5px,#10b5bf 165.5px,#18b7b7 169.5px,rgba(26,183,182,0.50) 170.5px)"></i>
<i style="top:100px;left:343px;width:171px;background:linear-gradient(90deg,rgba(10,180,198,0.50) 0.5px,#0cb4c4 1.5px,#14b6bb 6.5px,#07b2ce 8.5px,#06aed7 9.5px,#06b0d2 14.5px,#0eb5c1 22.5px,#1ab7b5 27.5px,#09b3c7 29.5px,#06b1d1 30.5px,#06b0d2 32.5px,#0eb5c1 39.5px,#20b8b0 45.5px,#0bb4c5 47.5px,#06b1d0 48.5px,#0eb5c1 54.5px,#20b8b0 60.5px,#1db8b3 61.5px,#0fb5c0 62.5px,#07b2cd 63.5px,#08b2cb 65.5px,#1cb7b4 72.5px,#24b9ad 74.5px,#09b3c8 76.5px,#07b2cd 77.5px,#14b6bb 82.5px,#25b9ac 86.5px,#14b6bb 87.5px,#08b3c9 88.5px,#07b2cc 89.5px,#1cb7b4 95.5px,#25b9ac 97.5px,#09b3c7 99.5px,#07b2cb 100.5px,#1eb8b2 106.5px,#24b9ad 108.5px,#12b6bc 109.5px,#07b2cc 110.5px,#13b6bb 114.5px,#28baaa 118.5px,#09b3c8 120.5px,#0cb4c4 122.5px,#29baa9 128.5px,#0ab4c6 130.5px,#09b3c8 131.5px,#24b9ad 137.5px,#29baa8 138.5px,#0bb4c5 140.5px,#09b3c8 141.5px,#23b9ad 147.5px,#29baa9 148.5px,#0cb4c3 150.5px,#09b3c8 151.5px,#26baab 158.5px,#26baab 159.5px,#09b3c7 161.5px,#0bb4c4 163.5px,#18b7b7 169.5px,rgba(25,183,182,0.50) 170.5px)"></i>
<i style="top:101px;left:343px;width:171px;background:linear-gradient(90deg,rgba(11,180,197,0.50) 0.5px,#0cb4c3 1.5px,#0fb5c0 3.5px,#0db4c2 4.5px,#06afd4 6.5px,#08acdb 7.5px,#09b3c9 18.5px,#16b6b9 25.5px,#07b2cc 27.5px,#06afd5 28.5px,#06b0d3 31.5px,#0db4c2 38.5px,#1ab7b5 43.5px,#14b6bb 44.5px,#0ab3c7 45.5px,#06b1d2 46.5px,#09b3c8 51.5px,#1eb8b2 59.5px,#07b2cb 61.5px,#06b0d2 62.5px,#0fb5c0 68.5px,#1db8b3 72.5px,#19b7b7 73.5px,#0cb4c4 74.5px,#06b1d1 75.5px,#0eb5c1 80.5px,#1db8b3 84.5px,#1bb7b4 85.5px,#0db4c2 86.5px,#06b1d0 87.5px,#0db4c3 91.5px,#20b8b0 96.5px,#10b5bf 97.5px,#07b2cd 98.5px,#08b3ca 100.5px,#1fb8b1 106.5px,#1db8b3 107.5px,#0db4c2 108.5px,#06b1cf 109.5px,#10b5bf 113.5px,#23b9ad 117.5px,#12b5bd 118.5px,#07b2cc 119.5px,#0cb4c3 122.5px,#24b9ad 127.5px,#08b3ca 129.5px,#07b2cb 130.5px,#1ab7b5 135.5px,#24b9ac 137.5px,#09b3c8 139.5px,#07b2cb 140.5px,#1fb8b1 146.5px,#24b9ad 147.5px,#0ab4c6 149.5px,#07b2cc 150.5px,#1cb8b3 156.5px,#21b9af 157.5px,#21b9af 158.5px,#12b5bd 159.5px,#08b3ca 160.5px,#09b3c8 162.5px,#18b7b7 169.5px,rgba(25,183,182,0.50) 170.5px)"></i>
<i style="top:102px;left:343px;width:171px;background:linear-gradient(90deg,rgba(11,180,196,0.50) 0.5px,#0db4c3 1.5px,#06b0d3 3.5px,#0aabdd 5.5px,#07b2cc 16.5px,#12b5bd 23.5px,#09b3c7 24.5px,#06add9 26.5px,#0ab4c6 36.5px,#15b6ba 41.5px,#11b5be 42.5px,#08b3c9 43.5px,#06b0d3 44.5px,#06b0d3 46.5px,#0db4c2 53.5px,#18b7b7 57.5px,#08b3ca 59.5px,#06afd5 60.5px,#0bb4c5 66.5px,#1ab7b5 71.5px,#07b2cd 73.5px,#06b0d4 74.5px,#0cb4c4 79.5px,#1ab7b5 83.5px,#12b6bc 84.5px,#08b3ca 85.5px,#06b0d3 86.5px,#0eb5c1 91.5px,#19b7b6 94.5px,#18b7b7 95.5px,#0ab4c5 96.5px,#06b0d3 97.5px,#0bb4c5 101.5px,#1bb7b4 105.5px,#16b6b9 106.5px,#09b3c8 107.5px,#06b0d2 108.5px,#0db4c2 112.5px,#1db8b3 116.5px,#0db4c2 117.5px,#06b1d0 118.5px,#0db4c2 122.5px,#1fb8b1 126.5px,#10b5bf 127.5px,#07b2ce 128.5px,#08b3ca 130.5px,#20b8b0 136.5px,#07b2cb 138.5px,#07b2ce 139.5px,#11b5be 143.5px,#1fb8b1 146.5px,#08b3c9 148.5px,#06b1cf 149.5px,#14b6bb 154.5px,#1cb8b3 156.5px,#1cb8b3 157.5px,#0eb5c1 158.5px,#07b2ce 159.5px,#07b2cb 161.5px,#16b6b9 168.5px,#18b7b7 169.5px,rgba(25,183,182,0.62) 170.5px)"></i>
<i style="top:103px;left:343px;width:171px;background:linear-gradient(90deg,rgba(6,177,209,0.50) 0.5px,#06add9 1.5px,#0babdf 2.5px,#06b1cf 14.5px,#0cb4c3 21.5px,#06afd5 23.5px,#09acdc 24.5px,#08b3ca 34.5px,#11b5be 39.5px,#0eb5c1 40.5px,#07b2cc 41.5px,#06afd5 42.5px,#06aed7 44.5px,#0cb4c4 52.5px,#13b6bc 55.5px,#10b5bf 56.5px,#08b3ca 57.5px,#06afd5 58.5px,#06afd5 60.5px,#0bb4c4 66.5px,#14b6bb 69.5px,#11b5be 70.5px,#08b3ca 71.5px,#06afd5 72.5px,#0ab4c6 78.5px,#17b6b8 82.5px,#0bb4c5 83.5px,#06b1d1 84.5px,#06afd5 85.5px,#0cb4c4 90.5px,#16b6b9 93.5px,#10b5be 94.5px,#07b2cc 95.5px,#06afd5 96.5px,#0cb4c3 101.5px,#18b7b7 104.5px,#10b5bf 105.5px,#07b2cd 106.5px,#06afd4 107.5px,#0bb4c5 111.5px,#16b6b9 114.5px,#17b6b8 115.5px,#09b3c7 116.5px,#06afd4 117.5px,#0bb4c5 121.5px,#1ab7b5 125.5px,#0cb4c4 126.5px,#06b0d2 127.5px,#0bb4c5 131.5px,#1bb7b4 135.5px,#0eb5c1 136.5px,#06b1cf 137.5px,#06b1d1 138.5px,#0eb5c1 142.5px,#1ab7b5 145.5px,#07b2cd 147.5px,#06b0d2 148.5px,#10b5bf 153.5px,#18b7b7 155.5px,#17b7b8 156.5px,#0bb4c5 157.5px,#06b1d1 158.5px,#07b2ce 160.5px,#16b6b9 168.5px,#17b7b8 169.5px,rgba(24,183,183,0.75) 170.5px)"></i>
<i style="top:104px;left:343px;width:171px;background:linear-gradient(90deg,rgba(16,170,225,0.50) 0.5px,#0eaae0 1.5px,#06afd5 10.5px,#09b3c7 18.5px,#08b3c9 19.5px,#07adda 21.5px,#0babdf 22.5px,#06b0d2 30.5px,#0db4c2 37.5px,#0bb4c5 38.5px,#06aed8 40.5px,#08acdb 41.5px,#09b3c8 50.5px,#0fb5c0 54.5px,#07b2cb 55.5px,#06afd5 56.5px,#07adda 57.5px,#0ab4c6 65.5px,#12b5bd 68.5px,#09b3c8 69.5px,#06b0d3 70.5px,#06add9 71.5px,#0bb4c5 78.5px,#11b5be 80.5px,#0fb5c0 81.5px,#07b2cd 82.5px,#06add8 83.5px,#0ab3c7 89.5px,#13b6bc 92.5px,#0ab4c6 93.5px,#06b0d3 94.5px,#06aed7 95.5px,#0ab4c6 100.5px,#14b6bb 103.5px,#0ab4c6 104.5px,#06b0d3 105.5px,#06afd6 106.5px,#0cb4c4 111.5px,#13b6bc 113.5px,#11b5be 114.5px,#07b2cc 115.5px,#06aed7 116.5px,#0bb4c4 121.5px,#14b6bb 124.5px,#09b3c9 125.5px,#06afd5 126.5px,#0bb4c4 131.5px,#17b7b8 134.5px,#0ab4c6 135.5px,#06b0d3 136.5px,#06b1d0 138.5px,#12b6bd 143.5px,#16b6b9 144.5px,#06b1d0 146.5px,#06afd5 147.5px,#0db4c3 152.5px,#14b6bb 154.5px,#13b6bc 155.5px,#09b3c9 156.5px,#06afd4 157.5px,#07b2ce 160.5px,#15b6ba 168.5px,#13b6bc 169.5px,rgba(16,181,191,0.75) 170.5px)"></i>
<i style="top:105px;left:343px;width:171px;background:linear-gradient(90deg,rgba(15,170,225,0.50) 0.5px,#0eaae0 1.5px,#06afd5 10.5px,#08b3ca 16.5px,#06aed7 18.5px,#0eaae0 20.5px,#06aed7 27.5px,#0ab3c7 35.5px,#08b3c9 36.5px,#07acda 38.5px,#08acdc 40.5px,#08b3ca 49.5px,#0db4c2 52.5px,#07b2cc 53.5px,#09acdc 55.5px,#08b2cb 63.5px,#0db4c2 66.5px,#0ab3c7 67.5px,#07acdb 69.5px,#09b3c7 77.5px,#0eb5c1 79.5px,#06afd5 81.5px,#07acdb 82.5px,#08b3c9 88.5px,#0eb5c1 91.5px,#07b2cd 92.5px,#06add8 93.5px,#06b0d3 96.5px,#10b5bf 102.5px,#07b2cc 103.5px,#06aed8 104.5px,#06b0d2 107.5px,#10b5bf 112.5px,#0bb4c4 113.5px,#06b1d1 114.5px,#06add9 115.5px,#09b3c7 120.5px,#10b5bf 122.5px,#0fb5c0 123.5px,#07b2ce 124.5px,#06add9 125.5px,#09b3c7 130.5px,#12b6bd 133.5px,#08b3ca 134.5px,#06aed6 135.5px,#07b2cc 139.5px,#13b6bc 143.5px,#09b3c7 144.5px,#06b0d3 145.5px,#06aed7 146.5px,#0ab4c6 151.5px,#10b5bf 153.5px,#0fb5c0 154.5px,#07b2cd 155.5px,#06aed7 156.5px,#0bb4c5 163.5px,#11b5bd 166.5px,#07b2cc 169.5px,rgba(6,177,207,0.75) 170.5px)"></i>
<i style="top:106px;left:343px;width:171px;background:linear-gradient(90deg,rgba(14,170,224,0.50) 0.5px,#0daadf 1.5px,#06b0d3 11.5px,#07b2ce 14.5px,#08acdc 16.5px,#10aae1 17.5px,#10aae1 19.5px,#06aed8 26.5px,#08b3ca 33.5px,#07b2ce 34.5px,#09abdd 36.5px,#0daae0 37.5px,#06afd4 44.5px,#0ab4c6 50.5px,#06aed7 52.5px,#0aabde 53.5px,#06b1cf 61.5px,#0ab4c6 65.5px,#07adda 67.5px,#08acdb 69.5px,#08b3c9 76.5px,#0ab4c6 78.5px,#07acdb 80.5px,#06aed7 83.5px,#0bb4c5 89.5px,#09b3c9 90.5px,#06afd4 91.5px,#09abdd 92.5px,#07b2cc 98.5px,#0bb4c4 100.5px,#0ab4c6 101.5px,#06b0d3 102.5px,#08acdc 103.5px,#08b3ca 109.5px,#0db4c2 111.5px,#06afd6 113.5px,#07acdb 114.5px,#0ab3c7 120.5px,#0db4c3 121.5px,#0ab4c6 122.5px,#06b0d2 123.5px,#07acdb 124.5px,#0ab3c7 130.5px,#0db4c2 132.5px,#07b1cf 133.5px,#07adda 134.5px,#09b3c7 140.5px,#0fb5c0 142.5px,#07b2cb 143.5px,#06aed7 144.5px,#07adda 145.5px,#0ab4c6 151.5px,#0db4c2 152.5px,#0bb4c5 153.5px,#06b1d1 154.5px,#07acda 155.5px,#09b3c8 162.5px,#0db4c2 164.5px,#06b1d2 167.5px,#06add9 169.5px,rgba(8,172,219,0.75) 170.5px)"></i>
<i style="top:107px;left:343px;width:171px;background:linear-gradient(90deg,rgba(13,170,224,0.50) 0.5px,#0cabdf 1.5px,#06b0d3 12.5px,#07adda 13.5px,#17a8e4 15.5px,#06add9 25.5px,#07b2ce 31.5px,#07adda 33.5px,#11aae2 35.5px,#06aed7 42.5px,#08b3cb 48.5px,#06add8 50.5px,#0cabdf 51.5px,#06b1d1 60.5px,#08b3c9 63.5px,#07adda 65.5px,#0daae0 66.5px,#06aed6 71.5px,#09b3c9 76.5px,#06add9 78.5px,#0cabdf 79.5px,#06b0d4 84.5px,#09b3c7 88.5px,#07adda 90.5px,#0aabde 91.5px,#07b2ce 97.5px,#09b3c7 99.5px,#06add8 101.5px,#0aabde 102.5px,#07b2cd 108.5px,#0ab4c5 110.5px,#07acdb 112.5px,#07adda 114.5px,#0ab4c6 120.5px,#07b2cc 121.5px,#06aed7 122.5px,#09abdd 123.5px,#08b3ca 129.5px,#09b3c7 131.5px,#06b0d3 132.5px,#09abdd 133.5px,#08b3cb 139.5px,#0cb4c3 141.5px,#06b1d0 142.5px,#07adda 143.5px,#07add9 145.5px,#0ab4c6 151.5px,#08b3ca 152.5px,#06afd5 153.5px,#09abdd 154.5px,#07b2cb 161.5px,#0ab4c5 163.5px,#07add9 166.5px,#0aabde 168.5px,#09abdd 169.5px,rgba(8,172,220,0.81) 170.5px)"></i>
<i style="top:108px;left:343px;width:171px;background:linear-gradient(90deg,rgba(12,171,223,0.50) 0.5px,#0babde 1.5px,#06afd5 9.5px,#0babde 11.5px,#1aa8e5 13.5px,#07acdb 23.5px,#06b1d1 29.5px,#09abdd 31.5px,#12aae2 32.5px,#15a9e3 33.5px,#06add9 41.5px,#07b1cf 46.5px,#07acda 48.5px,#11aae1 50.5px,#06add9 56.5px,#07b2ce 61.5px,#07adda 63.5px,#0eaae0 64.5px,#06b0d3 72.5px,#07b2ce 75.5px,#06aed7 76.5px,#0babdf 77.5px,#0eaae0 78.5px,#06afd6 83.5px,#07b2cd 87.5px,#06aed7 88.5px,#0cabdf 89.5px,#06b1d0 96.5px,#08b3ca 98.5px,#09abdd 100.5px,#0cabdf 101.5px,#06b0d3 106.5px,#08b3cb 109.5px,#06afd6 110.5px,#0babde 111.5px,#06b1d0 117.5px,#08b3c9 119.5px,#07acdb 121.5px,#0babde 122.5px,#06b1d0 127.5px,#08b3c9 129.5px,#07b2cd 130.5px,#06aed7 131.5px,#0babdf 132.5px,#06b1d1 137.5px,#09b3c8 140.5px,#06b0d4 141.5px,#09abdd 142.5px,#06afd6 146.5px,#08b3ca 150.5px,#07b2ce 151.5px,#06add8 152.5px,#0dabdf 153.5px,#06afd4 158.5px,#08b3cb 162.5px,#07adda 164.5px,#0daadf 166.5px,#09acdc 170.5px)"></i>
<i style="top:109px;left:343px;width:171px;background:linear-gradient(90deg,rgba(11,171,223,0.50) 0.5px,#0aabde 1.5px,#06aed8 7.5px,#12aae2 9.5px,#1ba7e6 10.5px,#14a9e3 15.5px,#06add9 24.5px,#06afd4 27.5px,#07acda 28.5px,#17a8e4 30.5px,#13a9e2 33.5px,#07add9 40.5px,#06b0d2 44.5px,#08acdc 46.5px,#11aae2 47.5px,#15a9e3 48.5px,#07adda 55.5px,#06b0d2 60.5px,#07adda 61.5px,#14a9e3 63.5px,#07add9 69.5px,#06b1d0 73.5px,#0aabde 75.5px,#13a9e2 76.5px,#07adda 81.5px,#06b1cf 85.5px,#09abdd 87.5px,#12aae2 88.5px,#06add8 93.5px,#06b1d0 96.5px,#06b1d0 97.5px,#07adda 98.5px,#10aae1 99.5px,#06aed8 104.5px,#07b1cf 107.5px,#06b1d1 108.5px,#07acdb 109.5px,#11aae1 110.5px,#06add9 114.5px,#07b2cc 118.5px,#06aed6 119.5px,#0babde 120.5px,#0daae0 121.5px,#06aed6 125.5px,#07b2cd 128.5px,#08acdb 130.5px,#0eaae0 131.5px,#06aed7 135.5px,#07b2cd 139.5px,#06aed8 140.5px,#0dabdf 141.5px,#06b0d3 147.5px,#07b2cd 149.5px,#08acdb 151.5px,#10aae1 152.5px,#06aed7 157.5px,#06b1cf 160.5px,#06b1d0 161.5px,#0babde 163.5px,#11aae2 164.5px,#09abdd 170.5px)"></i>
<i style="top:110px;left:343px;width:171px;background:linear-gradient(90deg,rgba(11,171,222,0.50) 0.5px,#0aabdd 1.5px,#07acda 4.5px,#09abdd 5.5px,#1fa2e7 8.5px,#08acdc 21.5px,#06add8 25.5px,#0aabde 26.5px,#1ca6e6 28.5px,#07adda 39.5px,#06afd5 42.5px,#0aabde 44.5px,#14a9e3 45.5px,#18a8e4 46.5px,#07acda 54.5px,#06b0d3 58.5px,#07acdb 59.5px,#18a8e4 61.5px,#07adda 68.5px,#06b0d4 71.5px,#06afd6 72.5px,#09abdd 73.5px,#14a9e3 74.5px,#12aae2 76.5px,#06add9 81.5px,#06b0d2 84.5px,#07acdb 85.5px,#11aae1 86.5px,#14a9e3 87.5px,#07adda 92.5px,#06b0d2 95.5px,#0babdf 97.5px,#15a9e3 98.5px,#07add9 103.5px,#06b1d1 106.5px,#06aed7 107.5px,#13a9e2 109.5px,#07acdb 113.5px,#06b1d1 117.5px,#07acdb 118.5px,#11aae2 119.5px,#06add8 124.5px,#06b1cf 127.5px,#06aed7 128.5px,#0babdf 129.5px,#11aae2 130.5px,#06add9 134.5px,#06b1d0 137.5px,#06b0d2 138.5px,#07acdb 139.5px,#12aae2 140.5px,#06add8 145.5px,#06b1d0 148.5px,#0babde 150.5px,#13a9e2 151.5px,#07add9 156.5px,#06b0d2 159.5px,#06afd4 160.5px,#08acdc 161.5px,#11aae1 162.5px,#14a9e3 163.5px,#09abdd 170.5px)"></i>
<i style="top:111px;left:343px;width:171px;background:linear-gradient(90deg,rgba(10,171,222,0.50) 0.5px,#09abdd 1.5px,#09acdd 2.5px,#1ea3e7 5.5px,#1ea3e7 8.5px,#07acda 22.5px,#08acdc 23.5px,#19a8e5 25.5px,#1ea3e7 26.5px,#07add9 39.5px,#07acdb 41.5px,#18a8e4 43.5px,#1ba7e6 44.5px,#07acdb 53.5px,#06afd6 56.5px,#08acdc 57.5px,#1ba7e6 59.5px,#07acdb 67.5px,#06afd5 70.5px,#09acdc 71.5px,#1aa8e5 73.5px,#07adda 80.5px,#06afd6 82.5px,#07add9 83.5px,#0daae0 84.5px,#1aa8e5 85.5px,#07acdb 91.5px,#06afd4 94.5px,#09acdc 95.5px,#13a9e2 96.5px,#17a8e4 97.5px,#07acdb 102.5px,#06b0d3 105.5px,#08acdc 106.5px,#13aae2 107.5px,#16a9e3 108.5px,#07adda 113.5px,#06afd4 115.5px,#06aed7 116.5px,#0babde 117.5px,#17a8e4 118.5px,#07acda 123.5px,#06b0d2 126.5px,#07acdb 127.5px,#11aae2 128.5px,#14a9e3 129.5px,#07acdb 133.5px,#06b0d3 136.5px,#0babde 138.5px,#16a9e3 139.5px,#07adda 144.5px,#06b0d3 147.5px,#07adda 148.5px,#16a9e3 150.5px,#07acdb 155.5px,#06afd4 158.5px,#0babde 160.5px,#16a9e4 161.5px,#09acdc 170.5px)"></i>
<i style="top:112px;left:343px;width:172px;background:linear-gradient(90deg,rgba(15,170,225,0.50) 0.5px,#18a8e4 1.5px,#229de8 3.5px,#13aae2 14.5px,#08acdc 20.5px,#1da4e7 23.5px,#1ea3e7 25.5px,#07adda 38.5px,#0aabdd 39.5px,#1ca6e6 41.5px,#1aa8e5 44.5px,#07acda 53.5px,#06add9 54.5px,#09abdd 55.5px,#1ca6e6 57.5px,#06add8 68.5px,#09acdc 69.5px,#1ca5e6 71.5px,#07add9 80.5px,#06aed8 81.5px,#0babdf 82.5px,#17a8e4 83.5px,#1ba7e6 84.5px,#07acda 91.5px,#07acda 93.5px,#1ba6e6 95.5px,#07adda 102.5px,#07add9 104.5px,#0eaae0 105.5px,#1ba7e5 106.5px,#08acdb 112.5px,#06aed7 114.5px,#07acdb 115.5px,#1aa8e5 117.5px,#08acdc 122.5px,#06aed7 125.5px,#0babde 126.5px,#18a8e4 127.5px,#07acda 133.5px,#06afd5 135.5px,#07acda 136.5px,#18a8e4 138.5px,#07adda 144.5px,#06afd6 146.5px,#09abdd 147.5px,#14a9e3 148.5px,#19a8e5 149.5px,#07acdb 155.5px,#06aed7 157.5px,#08acdc 158.5px,#1ba7e6 160.5px,#0aabde 168.5px,#09acdc 170.5px,rgba(8,172,220,0.06) 171.5px)"></i>
<i style="top:113px;left:343px;width:172px;background:linear-gradient(90deg,rgba(34,157,232,0.50) 0.5px,#249be9 1.5px,#14a9e3 13.5px,#0cabdf 18.5px,#219fe8 21.5px,#15a9e3 30.5px,#08acdc 36.5px,#1ea3e7 39.5px,#16a9e3 45.5px,#07acdb 52.5px,#0babdf 53.5px,#1da4e7 55.5px,#15a9e3 60.5px,#08acdb 66.5px,#09abdd 67.5px,#1ca6e6 69.5px,#19a8e5 72.5px,#07acdb 79.5px,#0aabde 80.5px,#1ea3e7 82.5px,#07adda 91.5px,#0cabdf 92.5px,#19a8e5 93.5px,#1da5e6 94.5px,#07adda 102.5px,#0aabde 103.5px,#16a9e3 104.5px,#1ca5e6 105.5px,#07acdb 112.5px,#06add8 113.5px,#0cabdf 114.5px,#19a8e5 115.5px,#1ba6e6 116.5px,#08acdb 122.5px,#08acdb 124.5px,#1ca6e6 126.5px,#07adda 133.5px,#06aed7 134.5px,#0aabde 135.5px,#16a9e3 136.5px,#1ba7e5 137.5px,#08acdc 143.5px,#07add9 145.5px,#0eaae0 146.5px,#1aa8e5 147.5px,#18a8e4 149.5px,#07acdb 155.5px,#06add9 156.5px,#0babdf 157.5px,#1da5e6 159.5px,#0aabde 168.5px,#09acdc 170.5px,rgba(8,172,220,0.25) 171.5px)"></i>
<i style="top:114px;left:343px;width:172px;background:linear-gradient(90deg,rgba(36,155,233,0.50) 0.5px,#239ce8 1.5px,#13a9e2 13.5px,#0faae1 15.5px,#1ba7e6 17.5px,#249ce9 19.5px,#13a9e2 30.5px,#0babde 34.5px,#1ca6e6 36.5px,#21a0e8 37.5px,#14a9e3 45.5px,#09abdd 50.5px,#0eaae0 51.5px,#1fa2e7 53.5px,#17a9e4 59.5px,#0aabdd 65.5px,#1ca5e6 67.5px,#1fa1e7 68.5px,#0faae0 75.5px,#0aabdd 78.5px,#1da4e6 80.5px,#1da4e6 82.5px,#09abdd 89.5px,#0babde 90.5px,#1ea3e7 92.5px,#12aae2 97.5px,#08acdc 101.5px,#1da5e6 103.5px,#19a8e5 106.5px,#08acdc 111.5px,#09abdd 112.5px,#1ea4e7 114.5px,#13aae2 118.5px,#07acdb 122.5px,#0cabdf 123.5px,#18a8e4 124.5px,#1da4e7 125.5px,#08acdc 132.5px,#07acdb 133.5px,#1ba6e6 135.5px,#16a9e4 138.5px,#08acdb 143.5px,#09abdd 144.5px,#1da4e6 146.5px,#14a9e3 150.5px,#08acdc 155.5px,#1ba7e6 157.5px,#1ea3e7 158.5px,#0cabdf 166.5px,#09acdc 170.5px,rgba(8,172,220,0.25) 171.5px)"></i>
<i style="top:115px;left:343px;width:172px;background:linear-gradient(90deg,rgba(36,156,232,0.50) 0.5px,#239de8 1.5px,#14a9e3 12.5px,#12aae2 13.5px,#249ce9 16.5px,#239de8 19.5px,#15a9e3 29.5px,#10aae1 32.5px,#1fa2e7 34.5px,#239ce8 35.5px,#15a9e3 44.5px,#0cabdf 48.5px,#1ba7e6 50.5px,#20a0e8 51.5px,#15a9e3 59.5px,#0babde 63.5px,#1da5e6 65.5px,#229ee8 66.5px,#13a9e2 73.5px,#0babde 76.5px,#1da5e6 78.5px,#219fe8 79.5px,#14a9e3 85.5px,#0babde 88.5px,#1da4e6 90.5px,#21a0e8 91.5px,#11aae2 97.5px,#0babde 99.5px,#0faae1 100.5px,#1ba7e5 101.5px,#21a0e8 102.5px,#10aae1 108.5px,#0aabde 110.5px,#0faae1 111.5px,#1ba7e6 112.5px,#20a1e7 113.5px,#0eaae0 119.5px,#09abdd 121.5px,#1da4e7 123.5px,#1da5e6 125.5px,#09abdd 131.5px,#0babdf 132.5px,#1fa2e7 134.5px,#09abdd 142.5px,#0eaae0 143.5px,#19a8e5 144.5px,#20a1e7 145.5px,#10aae1 151.5px,#0aabde 153.5px,#0cabdf 154.5px,#1ea3e7 156.5px,#1ea3e7 158.5px,#0babde 167.5px,#11aae1 170.5px,rgba(19,169,226,0.25) 171.5px)"></i>
<i style="top:116px;left:343px;width:172px;background:linear-gradient(90deg,rgba(35,156,232,0.50) 0.5px,#229ee8 1.5px,#18a8e4 10.5px,#1fa2e7 12.5px,#2796e9 14.5px,#16a9e3 28.5px,#14a9e3 29.5px,#1da4e6 31.5px,#259ae9 33.5px,#14a9e3 44.5px,#0faae1 46.5px,#1da4e7 48.5px,#229de8 49.5px,#16a9e4 58.5px,#0faae0 61.5px,#1ea3e7 63.5px,#239ce8 64.5px,#15a9e3 72.5px,#0faae1 74.5px,#1ca5e6 76.5px,#229ee8 77.5px,#16a9e3 84.5px,#0faae1 86.5px,#12aae2 87.5px,#229ee8 89.5px,#17a8e4 95.5px,#0daae0 98.5px,#1fa1e7 100.5px,#229ee8 101.5px,#13aae2 107.5px,#0cabdf 109.5px,#1fa1e7 111.5px,#1fa2e7 113.5px,#0daae0 119.5px,#0faae1 120.5px,#1ba7e5 121.5px,#219fe8 122.5px,#16a9e3 127.5px,#0cabdf 130.5px,#1ca5e6 132.5px,#219fe8 133.5px,#11aae2 139.5px,#0babde 141.5px,#1da4e6 143.5px,#219fe8 144.5px,#10aae1 151.5px,#0daadf 152.5px,#1ca6e6 154.5px,#219fe8 155.5px,#15a9e3 162.5px,#0eaae0 165.5px,#1ea3e7 170.5px,rgba(31,162,231,0.25) 171.5px)"></i>
<i style="top:117px;left:343px;width:172px;background:linear-gradient(90deg,rgba(35,157,232,0.50) 0.5px,#229ee8 1.5px,#1ba7e6 8.5px,#2994ea 12.5px,#17a8e4 27.5px,#2798e9 31.5px,#16a9e3 43.5px,#13a9e2 44.5px,#20a1e7 46.5px,#249be9 47.5px,#15a9e3 58.5px,#13aae2 59.5px,#1fa2e7 61.5px,#249be9 62.5px,#17a8e4 71.5px,#14a9e3 73.5px,#229ee8 75.5px,#249be9 76.5px,#15a9e3 84.5px,#11aae2 85.5px,#219fe8 87.5px,#249be9 88.5px,#12aae2 96.5px,#1ea3e7 98.5px,#249be9 99.5px,#15a9e3 106.5px,#12aae2 107.5px,#15a9e3 108.5px,#249ce8 110.5px,#17a8e4 116.5px,#10aae1 118.5px,#1fa2e7 120.5px,#239ce8 121.5px,#12aae2 128.5px,#0eaae0 129.5px,#20a1e7 131.5px,#229ee8 132.5px,#14a9e3 138.5px,#0faae1 140.5px,#1ba7e5 141.5px,#21a0e8 142.5px,#21a0e8 144.5px,#10aae1 151.5px,#1fa2e7 153.5px,#249be9 154.5px,#15a9e3 162.5px,#13aae2 164.5px,#20a0e7 167.5px,#249be9 170.5px,rgba(36,155,233,0.25) 171.5px)"></i>
<i style="top:118px;left:343px;width:172px;background:linear-gradient(90deg,rgba(34,157,232,0.50) 0.5px,#219fe8 1.5px,#1ea4e7 5.5px,#2797e9 8.5px,#2b91ea 9.5px,#1ca6e6 25.5px,#2895ea 28.5px,#18a8e4 42.5px,#2797e9 45.5px,#17a9e4 57.5px,#21a0e8 59.5px,#2599e9 60.5px,#16a9e3 71.5px,#2698e9 74.5px,#17a8e4 83.5px,#1ba7e6 84.5px,#2698e9 86.5px,#15a9e3 95.5px,#239ce8 97.5px,#2699e9 98.5px,#15a9e3 106.5px,#2599e9 109.5px,#14a9e3 117.5px,#239de8 119.5px,#229de8 121.5px,#15a9e3 127.5px,#16a9e3 128.5px,#249ce9 130.5px,#17a8e4 137.5px,#14a9e3 138.5px,#1ea3e7 140.5px,#249be9 141.5px,#15a9e3 150.5px,#229de8 152.5px,#259ae9 153.5px,#15a9e3 162.5px,#2599e9 166.5px,#249be9 170.5px,rgba(36,155,233,0.50) 171.5px)"></i>
<i style="top:119px;left:343px;width:172px;background:linear-gradient(90deg,rgba(34,158,232,0.44) 0.5px,#219fe8 1.5px,#20a1e7 3.5px,#2c8feb 7.5px,#1ea4e7 22.5px,#2b92ea 26.5px,#1ca6e6 40.5px,#2994ea 43.5px,#1aa8e5 55.5px,#2797e9 58.5px,#1aa8e5 69.5px,#2895ea 72.5px,#1ba7e6 82.5px,#2699e9 84.5px,#2698e9 86.5px,#1ba7e5 93.5px,#229de8 95.5px,#2896ea 96.5px,#1ba7e5 104.5px,#1ba7e6 105.5px,#2698e9 107.5px,#19a8e5 115.5px,#1ba6e6 116.5px,#2797e9 118.5px,#18a8e4 126.5px,#229ee8 128.5px,#2698e9 129.5px,#17a9e4 137.5px,#229ee8 139.5px,#2698e9 140.5px,#19a8e5 148.5px,#1ba7e6 149.5px,#2699e9 151.5px,#1aa8e5 161.5px,#2797e9 164.5px,#249be9 170.5px,rgba(36,155,233,0.50) 171.5px)"></i>
<i style="top:120px;left:343px;width:172px;background:linear-gradient(90deg,rgba(34,158,232,0.25) 0.5px,#249be9 1.5px,#2e8ceb 4.5px,#1fa1e7 20.5px,#2b91ea 23.5px,#1ea3e7 37.5px,#2a92ea 41.5px,#1ca5e6 53.5px,#2994ea 56.5px,#1da5e6 67.5px,#2994ea 70.5px,#1ca5e6 80.5px,#2a93ea 83.5px,#1da5e6 92.5px,#2797e9 94.5px,#2796e9 96.5px,#1ca6e6 103.5px,#2994ea 106.5px,#1ba6e6 114.5px,#2895ea 117.5px,#1ba7e6 125.5px,#2699e9 127.5px,#2698e9 129.5px,#1aa7e5 136.5px,#2599e9 138.5px,#2896e9 139.5px,#1ba7e6 147.5px,#2994ea 150.5px,#1ca5e6 159.5px,#2994ea 163.5px,#249be9 170.5px,rgba(36,155,233,0.50) 171.5px)"></i>
<i style="top:121px;left:343px;width:172px;background:linear-gradient(90deg,rgba(44,145,234,0.25) 0.5px,#2f8beb 1.5px,#229ee8 17.5px,#2e8deb 21.5px,#20a1e7 35.5px,#2c90ea 39.5px,#1ea3e7 51.5px,#2b92ea 54.5px,#1fa2e7 65.5px,#2a93ea 68.5px,#2797e9 72.5px,#1fa2e7 78.5px,#2b92ea 81.5px,#1fa2e7 90.5px,#2b91ea 93.5px,#1fa2e7 101.5px,#20a1e7 102.5px,#2a93ea 104.5px,#1fa2e7 113.5px,#2994ea 115.5px,#1ea3e7 123.5px,#1fa1e7 124.5px,#2a93ea 126.5px,#1da4e7 134.5px,#1fa2e7 135.5px,#2995ea 137.5px,#1da4e7 146.5px,#2a93ea 149.5px,#1ea3e7 158.5px,#2a93ea 161.5px,#249be9 170.5px,rgba(36,155,233,0.50) 171.5px)"></i>
<i style="top:122px;left:343px;width:172px;background:linear-gradient(90deg,rgba(49,136,235,0.25) 0.5px,#3089eb 1.5px,#249ce8 15.5px,#2f8aeb 19.5px,#229ee8 33.5px,#2d8eeb 36.5px,#20a0e8 49.5px,#2d8feb 52.5px,#21a0e8 63.5px,#2798e9 65.5px,#2c90eb 67.5px,#21a0e8 76.5px,#2698e9 78.5px,#2c90eb 80.5px,#219fe8 88.5px,#229ee8 89.5px,#2b91ea 91.5px,#20a1e7 100.5px,#2c90eb 103.5px,#20a1e7 111.5px,#2c90eb 114.5px,#1fa2e7 122.5px,#2b91ea 125.5px,#1fa2e7 133.5px,#2b91ea 136.5px,#1fa1e7 144.5px,#2699e9 146.5px,#2a92ea 147.5px,#219fe8 157.5px,#2c8feb 160.5px,#249be9 170.5px,rgba(36,155,233,0.50) 171.5px)"></i>
<i style="top:123px;left:343px;width:172px;background:linear-gradient(90deg,rgba(48,137,235,0.25) 0.5px,#308aeb 1.5px,#2699e9 12.5px,#3286eb 16.5px,#249be9 30.5px,#308aeb 34.5px,#239de8 47.5px,#2e8ceb 50.5px,#229ee8 61.5px,#2e8deb 65.5px,#239de8 75.5px,#2e8deb 78.5px,#229ee8 87.5px,#2e8deb 90.5px,#229ee8 98.5px,#2995ea 100.5px,#2d8eeb 101.5px,#229de8 110.5px,#2c90eb 112.5px,#229ee8 121.5px,#2c90eb 123.5px,#219fe8 132.5px,#2b91ea 134.5px,#2b92ea 136.5px,#21a0e8 143.5px,#2d8eeb 146.5px,#219fe8 155.5px,#2d8feb 158.5px,#2994ea 163.5px,#249be9 170.5px,rgba(36,155,233,0.69) 171.5px)"></i>
<i style="top:124px;left:343px;width:172px;background:linear-gradient(90deg,rgba(48,137,235,0.25) 0.5px,#2f8beb 1.5px,#2896ea 10.5px,#3285eb 13.5px,#2f8beb 18.5px,#2599e9 28.5px,#3089eb 31.5px,#3089eb 33.5px,#249be9 44.5px,#3089eb 48.5px,#249be9 59.5px,#308aeb 63.5px,#249ce8 73.5px,#3089eb 76.5px,#249ce9 85.5px,#3089eb 88.5px,#249ce9 97.5px,#2f8beb 100.5px,#239de8 108.5px,#2f8beb 111.5px,#239de8 119.5px,#2f8beb 122.5px,#229de8 130.5px,#2f8ceb 133.5px,#239ce8 142.5px,#2e8ceb 145.5px,#239ce8 154.5px,#308aeb 157.5px,#2599e9 168.5px,#249be9 170.5px,rgba(36,155,233,0.75) 171.5px)"></i>
<i style="top:125px;left:343px;width:172px;background:linear-gradient(90deg,rgba(47,138,235,0.06) 0.5px,#2f8ceb 1.5px,#2994ea 7.5px,#3580eb 11.5px,#2896ea 25.5px,#2c8feb 27.5px,#3383eb 29.5px,#2699e9 42.5px,#3187eb 46.5px,#2599e9 57.5px,#3187eb 61.5px,#259ae9 71.5px,#3286eb 74.5px,#2699e9 83.5px,#2c90ea 85.5px,#3089eb 86.5px,#2895ea 93.5px,#2599e9 95.5px,#3187eb 98.5px,#2599e9 106.5px,#2698e9 107.5px,#308aeb 109.5px,#2699e9 118.5px,#2f8beb 120.5px,#2e8deb 122.5px,#249be9 129.5px,#308aeb 132.5px,#249be9 140.5px,#308aeb 143.5px,#259ae9 152.5px,#3188eb 156.5px,#2699e9 167.5px,#2994ea 170.5px,rgba(42,146,234,0.75) 171.5px)"></i>
<i style="top:126px;left:344px;width:171px;background:linear-gradient(90deg,#2e8ceb 0.5px,#2d8feb 4.5px,#367deb 7.5px,#2994ea 22.5px,#3383eb 25.5px,#3483eb 27.5px,#2895ea 39.5px,#3384eb 42.5px,#2797e9 54.5px,#3286eb 57.5px,#2c91ea 64.5px,#2797e9 68.5px,#3384eb 71.5px,#2896ea 81.5px,#3285eb 84.5px,#2896e9 92.5px,#2d8eeb 94.5px,#3286eb 95.5px,#2698e9 104.5px,#3286eb 107.5px,#2698e9 115.5px,#3286eb 118.5px,#2698e9 126.5px,#3187eb 129.5px,#2698e9 138.5px,#3187eb 141.5px,#2798e9 150.5px,#3285eb 153.5px,#2796e9 164.5px,#3088eb 169.5px,rgba(49,135,235,0.75) 170.5px)"></i>
<i style="top:127px;left:344px;width:171px;background:linear-gradient(90deg,#2e8deb 0.5px,#2e8deb 1.5px,#377ceb 4.5px,#367deb 7.5px,#2c90eb 19.5px,#3089eb 21.5px,#377deb 23.5px,#2a93ea 36.5px,#2f8beb 38.5px,#3581eb 40.5px,#2994ea 52.5px,#3482eb 55.5px,#2995ea 66.5px,#3482eb 69.5px,#2994ea 79.5px,#3482eb 82.5px,#2994ea 91.5px,#3482eb 94.5px,#2995ea 102.5px,#2f8aeb 104.5px,#3383eb 105.5px,#2995ea 113.5px,#2a93ea 114.5px,#3285eb 116.5px,#2895ea 125.5px,#3285eb 128.5px,#2896e9 136.5px,#2e8deb 138.5px,#3285eb 139.5px,#2895ea 148.5px,#2e8deb 150.5px,#3383eb 152.5px,#2994ea 162.5px,#3481eb 167.5px,#3481eb 169.5px,rgba(52,129,235,0.75) 170.5px)"></i>
<i style="top:128px;left:344px;width:171px;background:linear-gradient(90deg,#3580eb 0.5px,#3a76ea 2.5px,#2e8deb 17.5px,#377ceb 20.5px,#3285eb 27.5px,#2c90ea 34.5px,#3580eb 37.5px,#3286eb 42.5px,#2c90ea 50.5px,#357feb 53.5px,#2a92ea 64.5px,#357feb 67.5px,#2a92ea 77.5px,#357feb 80.5px,#2b92ea 89.5px,#357feb 92.5px,#2b91ea 100.5px,#2b91ea 101.5px,#3383eb 103.5px,#3383eb 105.5px,#2a93ea 112.5px,#3481eb 115.5px,#2a93ea 123.5px,#3481eb 126.5px,#2993ea 135.5px,#3482eb 138.5px,#2a93ea 147.5px,#3580eb 150.5px,#2b91ea 160.5px,#367eeb 165.5px,#3481eb 169.5px,rgba(52,130,235,0.94) 170.5px)"></i>
<i style="top:129px;left:344px;width:171px;background:linear-gradient(90deg,#3a74ea 0.5px,#308aeb 14.5px,#3977ea 18.5px,#2e8ceb 31.5px,#3580eb 34.5px,#387beb 35.5px,#2d8feb 47.5px,#377deb 51.5px,#2d8feb 62.5px,#377deb 65.5px,#2c90eb 75.5px,#377deb 78.5px,#2d8feb 87.5px,#377deb 90.5px,#2c90eb 99.5px,#367eeb 102.5px,#2c90eb 110.5px,#3286eb 112.5px,#367feb 113.5px,#2c90eb 122.5px,#3482eb 124.5px,#3482eb 126.5px,#2b91ea 133.5px,#3187eb 135.5px,#3581eb 136.5px,#2c90eb 145.5px,#3187eb 147.5px,#367eeb 149.5px,#2e8eeb 159.5px,#377deb 162.5px,#3481eb 170.5px)"></i>
<i style="top:130px;left:344px;width:171px;background:linear-gradient(90deg,rgba(58,117,234,0.81) 0.5px,#3977ea 1.5px,#3285eb 11.5px,#387aeb 14.5px,#3a74ea 15.5px,#3089eb 29.5px,#387aeb 32.5px,#377ceb 35.5px,#2e8ceb 45.5px,#377ceb 48.5px,#2f8beb 60.5px,#387aeb 63.5px,#2e8deb 73.5px,#387beb 76.5px,#2f8ceb 85.5px,#377ceb 88.5px,#2e8deb 97.5px,#387beb 100.5px,#2e8ceb 109.5px,#367feb 111.5px,#367feb 113.5px,#2d8eeb 120.5px,#377ceb 123.5px,#2e8eeb 132.5px,#367eeb 135.5px,#2e8deb 144.5px,#387beb 147.5px,#2e8ceb 157.5px,#397aeb 161.5px,#3481eb 170.5px)"></i>
<i style="top:131px;left:344px;width:171px;background:linear-gradient(90deg,rgba(58,118,234,0.75) 0.5px,#3978eb 1.5px,#3482eb 9.5px,#3b70ea 13.5px,#3285eb 26.5px,#3a74ea 30.5px,#3188eb 42.5px,#377ceb 45.5px,#3977eb 46.5px,#3089eb 57.5px,#3978eb 61.5px,#3089eb 71.5px,#3978eb 74.5px,#3088eb 83.5px,#3581eb 85.5px,#3979eb 87.5px,#3089eb 95.5px,#387aeb 98.5px,#2f8aeb 107.5px,#3979eb 110.5px,#2f8aeb 118.5px,#387beb 121.5px,#2f8ceb 130.5px,#387beb 133.5px,#2f8beb 142.5px,#387beb 145.5px,#3088eb 155.5px,#3a76ea 159.5px,#3581eb 170.5px)"></i>
<i style="top:132px;left:344px;width:171px;background:linear-gradient(90deg,rgba(57,120,235,0.69) 0.5px,#3979eb 1.5px,#357feb 6.5px,#3c6dea 10.5px,#3581eb 24.5px,#3b72ea 27.5px,#3285eb 40.5px,#3a75ea 44.5px,#3286eb 55.5px,#3a75ea 59.5px,#3286eb 69.5px,#3a75ea 72.5px,#3384eb 82.5px,#3a75ea 85.5px,#3285eb 93.5px,#367eeb 95.5px,#3a76ea 97.5px,#3186eb 105.5px,#3977ea 108.5px,#3186eb 117.5px,#3977eb 120.5px,#3187eb 128.5px,#3979eb 132.5px,#3286eb 141.5px,#3977ea 144.5px,#3384eb 154.5px,#3a75ea 157.5px,#3580eb 170.5px)"></i>
<i style="top:133px;left:344px;width:172px;background:linear-gradient(90deg,rgba(57,121,235,0.50) 0.5px,#387aeb 1.5px,#387aeb 4.5px,#3d6be9 7.5px,#367feb 21.5px,#3c6eea 25.5px,#357feb 38.5px,#3b71ea 41.5px,#3482eb 53.5px,#3b72ea 56.5px,#3482eb 67.5px,#3b72ea 70.5px,#3481eb 80.5px,#3b72ea 83.5px,#3482eb 92.5px,#3b72ea 95.5px,#3483eb 103.5px,#377beb 105.5px,#3a75ea 106.5px,#3979eb 109.5px,#3384eb 115.5px,#3a73ea 118.5px,#3384eb 127.5px,#3a75ea 130.5px,#3285eb 139.5px,#3a74ea 142.5px,#3383eb 152.5px,#3b71ea 156.5px,#367eeb 168.5px,#357feb 170.5px,rgba(53,128,235,0.12) 171.5px)"></i>
<i style="top:134px;left:344px;width:172px;background:linear-gradient(90deg,rgba(56,122,235,0.50) 0.5px,#3978eb 1.5px,#3d69e9 4.5px,#377ceb 18.5px,#3d6be9 22.5px,#367eeb 35.5px,#3c6eea 39.5px,#357feb 50.5px,#3c6fea 54.5px,#367eeb 65.5px,#3c6fea 68.5px,#367feb 78.5px,#3c6fea 81.5px,#357feb 90.5px,#3c6fea 93.5px,#367feb 102.5px,#3b70ea 105.5px,#3580eb 113.5px,#3b72ea 116.5px,#3481eb 125.5px,#3b72ea 128.5px,#3481eb 137.5px,#3b72ea 141.5px,#3580eb 150.5px,#3c6fea 154.5px,#367eeb 167.5px,#397aeb 170.5px,rgba(57,121,235,0.25) 171.5px)"></i>
<i style="top:135px;left:344px;width:172px;background:linear-gradient(90deg,rgba(61,108,233,0.31) 0.5px,#3e68e9 1.5px,#3978eb 16.5px,#3d6ae9 19.5px,#387beb 32.5px,#3d6be9 36.5px,#367deb 48.5px,#3c6eea 52.5px,#377deb 62.5px,#3c6dea 66.5px,#377ceb 76.5px,#3c6dea 79.5px,#367deb 88.5px,#3c6dea 91.5px,#367deb 100.5px,#3c6eea 103.5px,#377deb 112.5px,#3c6fea 115.5px,#367eeb 123.5px,#3b70ea 127.5px,#367eeb 136.5px,#3c6fea 139.5px,#377ceb 149.5px,#3c6dea 152.5px,#387beb 164.5px,#3c6fea 170.5px,rgba(60,110,234,0.12) 171.5px)"></i>
<i style="top:136px;left:344px;width:171px;background:linear-gradient(90deg,rgba(62,102,233,0.25) 0.5px,#3e67e9 1.5px,#3a76ea 13.5px,#3e67e9 17.5px,#3978eb 30.5px,#3d6be9 33.5px,#3979eb 46.5px,#3d6be9 49.5px,#387beb 60.5px,#3d6be9 64.5px,#3979eb 74.5px,#3d6be9 77.5px,#387beb 86.5px,#3d6be9 89.5px,#387beb 98.5px,#3d6be9 101.5px,#387beb 110.5px,#3d6ce9 113.5px,#387beb 122.5px,#3c6dea 125.5px,#377ceb 134.5px,#3c6dea 137.5px,#387beb 147.5px,#3d6ce9 150.5px,#3978eb 162.5px,#3e68e9 168.5px,#3e68e9 170.5px)"></i>
<i style="top:137px;left:344px;width:171px;background:linear-gradient(90deg,rgba(62,103,233,0.19) 0.5px,#3e68e9 1.5px,#3b73ea 10.5px,#3f64e9 14.5px,#3a76ea 27.5px,#3e67e9 31.5px,#3978eb 43.5px,#3d69e9 47.5px,#3977eb 58.5px,#3d6ae9 61.5px,#3978eb 71.5px,#3d69e9 75.5px,#3978eb 84.5px,#3d69e9 87.5px,#3978eb 96.5px,#3d6ae9 99.5px,#3979eb 108.5px,#3d6ae9 111.5px,#3979eb 120.5px,#3d6ae9 123.5px,#387aeb 132.5px,#3c6de9 135.5px,#3979eb 145.5px,#3d69e9 149.5px,#3a75ea 160.5px,#3e66e9 165.5px,#3e68e9 169.5px,rgba(62,105,233,0.81) 170.5px)"></i>
<i style="top:138px;left:345px;width:170px;background:linear-gradient(90deg,#3e69e9 0.5px,#3b70ea 6.5px,#4062e9 10.5px,#3b72ea 23.5px,#3f64e9 27.5px,#3a74ea 39.5px,#3e67e9 43.5px,#3a75ea 54.5px,#3e67e9 58.5px,#3a75ea 68.5px,#3e67e9 72.5px,#3a75ea 81.5px,#3e68e9 84.5px,#3a75ea 93.5px,#3e68e9 96.5px,#3a76ea 105.5px,#3e69e9 108.5px,#3a76ea 117.5px,#3e69e9 120.5px,#3a76ea 129.5px,#3d69e9 133.5px,#3a75ea 142.5px,#3e67e9 146.5px,#3b72ea 157.5px,#3f64e9 161.5px,#3e68e9 168.5px,rgba(62,104,233,0.69) 169.5px)"></i>
<i style="top:139px;left:345px;width:170px;background:linear-gradient(90deg,rgba(61,105,233,0.88) 0.5px,#3d6ae9 1.5px,#3c6de9 3.5px,#4060e9 7.5px,#3c6dea 21.5px,#3f63e9 24.5px,#3b70ea 37.5px,#3f65e9 41.5px,#3b72ea 52.5px,#3f65e9 56.5px,#3b72ea 66.5px,#3e66e9 69.5px,#3b72ea 79.5px,#3f65e9 82.5px,#3b72ea 91.5px,#3e66e9 94.5px,#3b72ea 103.5px,#3e66e9 107.5px,#3b73ea 115.5px,#3e67e9 119.5px,#3b72ea 128.5px,#3e66e9 131.5px,#3b71ea 141.5px,#3f65e9 144.5px,#3c6fea 155.5px,#4063e9 159.5px,#3e68e9 168.5px,rgba(62,104,233,0.50) 169.5px)"></i>
<i style="top:140px;left:345px;width:170px;background:linear-gradient(90deg,rgba(61,105,233,0.62) 0.5px,#3e66e9 1.5px,#415de8 4.5px,#3d6ae9 18.5px,#4060e9 22.5px,#3c6eea 34.5px,#4062e9 38.5px,#3c6fea 49.5px,#3f63e9 53.5px,#3c6eea 64.5px,#3f63e9 67.5px,#3c6fea 77.5px,#3f63e9 80.5px,#3c6fea 89.5px,#3f64e9 93.5px,#3c6fea 101.5px,#3f64e9 105.5px,#3c6eea 114.5px,#3f64e9 117.5px,#3c70ea 126.5px,#3f64e9 129.5px,#3c6fea 139.5px,#3f63e9 142.5px,#3c6dea 153.5px,#4061e9 157.5px,#3e67e9 168.5px,rgba(62,103,233,0.38) 169.5px)"></i>
<i style="top:141px;left:345px;width:170px;background:linear-gradient(90deg,rgba(65,93,232,0.44) 0.5px,#425ae8 1.5px,#3e67e9 15.5px,#415de8 19.5px,#3d6ae9 31.5px,#4060e9 35.5px,#3d6ce9 47.5px,#4061e9 51.5px,#3d6ce9 61.5px,#4061e9 65.5px,#3d6be9 75.5px,#4061e9 78.5px,#3d6ce9 87.5px,#4062e9 91.5px,#3d6be9 100.5px,#4062e9 103.5px,#3d6be9 112.5px,#4062e9 115.5px,#3c6dea 124.5px,#4062e9 127.5px,#3c6de9 137.5px,#4062e9 141.5px,#3d6ae9 151.5px,#415fe8 155.5px,#3e66e9 168.5px,rgba(62,102,233,0.25) 169.5px)"></i>
<i style="top:142px;left:345px;width:170px;background:linear-gradient(90deg,rgba(66,90,231,0.19) 0.5px,#425be8 1.5px,#3f64e9 12.5px,#425ae8 16.5px,#3e66e9 29.5px,#415de8 33.5px,#3e69e9 44.5px,#415fe8 48.5px,#3d69e9 59.5px,#415fe9 63.5px,#3e68e9 73.5px,#415fe8 76.5px,#3e69e9 85.5px,#415fe9 89.5px,#3e68e9 98.5px,#415fe9 101.5px,#3e69e9 110.5px,#415fe9 113.5px,#3d6ae9 122.5px,#4060e9 126.5px,#3d6ae9 135.5px,#4060e9 139.5px,#3e67e9 149.5px,#415ce8 153.5px,#3f65e9 168.5px,rgba(63,101,233,0.06) 169.5px)"></i>
<i style="top:143px;left:346px;width:168px;background:linear-gradient(90deg,rgba(66,91,232,0.94) 0.5px,#415fe8 4.5px,#4061e9 8.5px,#4358e7 12.5px,#3f63e9 25.5px,#425ae8 29.5px,#3f65e9 41.5px,#415de8 45.5px,#3f65e9 56.5px,#425ce8 59.5px,#3f64e9 70.5px,#415ce8 73.5px,#3e66e9 82.5px,#415de8 86.5px,#3f65e9 95.5px,#415de8 98.5px,#3e66e9 107.5px,#415de8 110.5px,#3e67e9 119.5px,#415ee8 123.5px,#3e67e9 132.5px,#415de8 136.5px,#3f65e9 146.5px,#425ae8 150.5px,#4061e9 164.5px,#415ee8 167.5px)"></i>
<i style="top:144px;left:346px;width:168px;background:linear-gradient(90deg,rgba(66,90,232,0.69) 0.5px,#425be8 1.5px,#415ee8 5.5px,#4455e7 9.5px,#4060e9 22.5px,#4357e7 26.5px,#4063e9 38.5px,#425ae7 42.5px,#3f63e9 53.5px,#425ae8 57.5px,#3f63e9 67.5px,#425ae8 71.5px,#3f63e9 80.5px,#425ae8 84.5px,#4062e9 93.5px,#425ae8 96.5px,#3f63e9 105.5px,#425ae8 108.5px,#4062e9 118.5px,#425be8 121.5px,#3f64e9 130.5px,#425be8 134.5px,#4062e9 144.5px,#4358e7 148.5px,#415ee8 161.5px,#4356e7 166.5px,rgba(68,86,231,0.75) 167.5px)"></i>
<i style="top:145px;left:346px;width:168px;background:linear-gradient(90deg,rgba(66,89,231,0.44) 0.5px,#425ae8 1.5px,#4453e6 7.5px,#415de8 19.5px,#4455e7 24.5px,#415de8 36.5px,#4357e7 40.5px,#415fe8 51.5px,#4358e7 55.5px,#405fe9 65.5px,#4358e7 69.5px,#4060e9 78.5px,#4358e7 82.5px,#415fe8 91.5px,#4358e7 94.5px,#4060e9 103.5px,#4358e7 106.5px,#415fe8 116.5px,#4358e7 119.5px,#415fe8 129.5px,#4359e7 133.5px,#415fe9 142.5px,#4456e7 146.5px,#425be8 158.5px,#4552e6 165.5px,#4552e6 166.5px,rgba(69,82,230,0.69) 167.5px)"></i>
<i style="top:146px;left:346px;width:168px;background:linear-gradient(90deg,rgba(68,84,230,0.12) 0.5px,rgba(69,82,230,0.94) 1.5px,#4551e6 5.5px,#4357e7 17.5px,#4552e6 21.5px,#425ae8 33.5px,#4454e6 37.5px,#415ce8 48.5px,#4455e7 52.5px,#425be8 63.5px,#4456e7 67.5px,#425ce8 76.5px,#4456e7 80.5px,#425be8 89.5px,#4456e7 93.5px,#415ce8 101.5px,#4456e7 105.5px,#425be8 114.5px,#4356e7 118.5px,#425be8 127.5px,#4356e7 131.5px,#425ce8 140.5px,#4454e6 145.5px,#4357e7 156.5px,#4550e6 162.5px,#4551e6 166.5px,rgba(69,81,230,0.50) 167.5px)"></i>
<i style="top:147px;left:347px;width:167px;background:linear-gradient(90deg,rgba(70,78,229,0.44) 0.5px,#464fe5 1.5px,#4454e6 13.5px,#4650e6 17.5px,#4357e7 29.5px,#4552e6 34.5px,#4358e7 45.5px,#4553e6 49.5px,#4357e7 60.5px,#4453e6 64.5px,#4358e7 73.5px,#4453e6 77.5px,#4357e7 86.5px,#4453e6 90.5px,#4359e7 98.5px,#4453e6 102.5px,#4358e7 111.5px,#4453e6 115.5px,#4358e7 124.5px,#4453e6 128.5px,#4356e7 138.5px,#4551e6 142.5px,#4454e6 153.5px,#464ee5 159.5px,#464fe5 165.5px,rgba(70,79,229,0.38) 166.5px)"></i>
<i style="top:148px;left:348px;width:166px;background:linear-gradient(90deg,rgba(70,78,229,0.75) 0.5px,#464ee5 1.5px,#4550e6 9.5px,#464ee5 14.5px,#4552e6 26.5px,#4550e6 32.5px,#4453e6 42.5px,#4552e6 48.5px,#4455e6 56.5px,#4551e6 61.5px,#4454e6 70.5px,#4551e6 75.5px,#4454e6 83.5px,#4552e6 88.5px,#4453e6 96.5px,#4551e6 100.5px,#4454e6 108.5px,#4551e6 113.5px,#4454e6 121.5px,#4551e6 126.5px,#4453e6 135.5px,#4650e6 140.5px,#4551e6 150.5px,#474ce5 156.5px,#464de5 163.5px,rgba(70,77,229,0.94) 164.5px,rgba(70,77,229,0.06) 165.5px)"></i>
<i style="top:149px;left:348px;width:165px;background:linear-gradient(90deg,rgba(71,76,229,0.12) 0.5px,rgba(71,77,229,0.94) 1.5px,#464ee5 5.5px,#474ce5 12.5px,#464ee5 24.5px,#4650e6 40.5px,#4650e6 55.5px,#464fe6 69.5px,#4551e6 81.5px,#4550e6 88.5px,#464fe5 95.5px,#4550e6 107.5px,#4550e6 120.5px,#4551e6 133.5px,#464ee5 141.5px,#474ce5 149.5px,#474be5 163.5px,rgba(71,75,229,0.50) 164.5px)"></i>
<i style="top:150px;left:349px;width:164px;background:linear-gradient(90deg,rgba(71,75,229,0.44) 0.5px,#474be5 1.5px,#474ae5 11.5px,#474ae5 21.5px,#474de5 36.5px,#464de5 51.5px,#474ce5 66.5px,#474de5 79.5px,#464de5 91.5px,#464de5 104.5px,#464de5 117.5px,#474de5 131.5px,#484ae5 146.5px,#4848e4 161.5px,rgba(72,72,228,0.94) 162.5px,rgba(72,72,228,0.06) 163.5px)"></i>
<i style="top:151px;left:350px;width:162px;background:linear-gradient(90deg,rgba(71,70,225,0.69) 0.5px,#4746e1 1.5px,#4848e4 16.5px,#4849e4 33.5px,#474ae5 48.5px,#474ae5 62.5px,#484ae4 76.5px,#474be5 88.5px,#474ae5 101.5px,#474ae5 114.5px,#474ae5 128.5px,#4847e3 143.5px,#4746e1 160.5px,rgba(71,69,224,0.38) 161.5px)"></i>
<i style="top:152px;left:350px;width:161px;background:linear-gradient(90deg,rgba(71,68,223,0.06) 0.5px,rgba(71,68,223,0.62) 1.5px,#4745df 2.5px,#4746e1 13.5px,#4846e2 30.5px,#4848e4 45.5px,#4847e3 60.5px,#4848e4 73.5px,#4848e4 86.5px,#4848e3 99.5px,#4848e3 112.5px,#4847e3 126.5px,#4746e1 140.5px,#4642dc 159.5px,rgba(70,66,219,0.88) 160.5px)"></i>
<i style="top:153px;left:352px;width:159px;background:linear-gradient(90deg,rgba(71,67,221,0.56) 0.5px,#4743de 1.5px,#4744df 17.5px,#4744df 25.5px,#4746e1 40.5px,#4745e0 55.5px,#4745e0 69.5px,#4746e1 81.5px,#4746e1 89.5px,#4745e0 95.5px,#4746e1 107.5px,#4746e1 115.5px,#4745e0 122.5px,#4745e0 135.5px,#4642dc 143.5px,#4640d9 154.5px,#453fd7 156.5px,rgba(69,62,215,0.81) 157.5px,rgba(69,62,214,0.19) 158.5px)"></i>
<i style="top:154px;left:353px;width:156px;background:linear-gradient(90deg,rgba(70,66,220,0.38) 0.5px,#4642dc 1.5px,#4641da 9.5px,#4642dc 20.5px,#4744de 32.5px,#4743de 44.5px,#4743de 51.5px,#4744de 60.5px,#4743de 72.5px,#4643dd 79.5px,#4744de 91.5px,#4743de 98.5px,#4643dd 105.5px,#4743dd 118.5px,#4643dd 132.5px,#4641da 143.5px,#453dd4 153.5px,rgba(69,61,212,0.94) 154.5px,rgba(69,60,212,0.44) 155.5px)"></i>
<i style="top:155px;left:354px;width:154px;background:linear-gradient(90deg,rgba(69,62,214,0.31) 0.5px,rgba(69,61,213,0.94) 1.5px,#453ed7 5.5px,#4640d9 16.5px,#4641db 28.5px,#4641db 41.5px,#4641da 48.5px,#4641da 62.5px,#4641da 75.5px,#4641da 88.5px,#4641db 101.5px,#4641db 109.5px,#4641da 115.5px,#4640da 129.5px,#453dd4 146.5px,#443bd1 151.5px,rgba(68,59,209,0.69) 152.5px,rgba(68,59,209,0.12) 153.5px)"></i>
<i style="top:156px;left:355px;width:151px;background:linear-gradient(90deg,rgba(68,60,211,0.19) 0.5px,rgba(68,60,212,0.94) 1.5px,#453dd5 5.5px,#453dd4 13.5px,#453ed6 29.5px,#453fd7 44.5px,#453fd7 58.5px,#453fd8 67.5px,#453fd7 79.5px,#453fd7 85.5px,#453fd7 98.5px,#453ed6 112.5px,#453fd8 125.5px,#453dd4 132.5px,#443bd2 142.5px,#4339cf 148.5px,rgba(67,57,207,0.94) 149.5px,rgba(67,57,207,0.44) 150.5px)"></i>
<i style="top:157px;left:356px;width:149px;background:linear-gradient(90deg,rgba(68,59,210,0.12) 0.5px,rgba(68,59,210,0.62) 1.5px,#443bd2 2.5px,#443ad1 9.5px,#443cd3 25.5px,#453dd4 40.5px,#453dd5 51.5px,#443cd4 61.5px,#443cd3 69.5px,#453dd5 81.5px,#453dd4 89.5px,#443cd4 95.5px,#453dd4 108.5px,#453dd5 117.5px,#443bd2 124.5px,#443ad0 138.5px,#4338cd 146.5px,rgba(67,56,205,0.94) 147.5px,rgba(67,56,206,0.12) 148.5px)"></i>
<i style="top:158px;left:358px;width:146px;background:linear-gradient(90deg,rgba(68,58,209,0.12) 0.5px,rgba(68,58,209,0.62) 1.5px,#4439d0 2.5px,#4339cf 10.5px,#4439cf 20.5px,#443bd1 35.5px,#443bd1 45.5px,#443ad1 57.5px,#443ad1 64.5px,#443ad1 77.5px,#443ad1 85.5px,#443ad0 91.5px,#443ad1 104.5px,#443ad1 118.5px,#4338ce 134.5px,#4337cc 144.5px,rgba(67,55,204,0.56) 145.5px)"></i>
<i style="top:159px;left:360px;width:144px;background:linear-gradient(90deg,rgba(67,54,203,0.12) 0.5px,rgba(67,55,204,0.62) 1.5px,#4337cc 2.5px,#4338ce 15.5px,#4338ce 31.5px,#4338ce 46.5px,#4338ce 60.5px,#4338ce 73.5px,#4339cf 86.5px,#4439cf 95.5px,#4339ce 107.5px,#4338ce 114.5px,#4338cd 129.5px,#4336cb 142.5px,rgba(67,54,203,0.12) 143.5px)"></i>
<i style="top:160px;left:362px;width:141px;background:linear-gradient(90deg,rgba(67,55,204,0.12) 0.5px,rgba(67,55,204,0.62) 1.5px,#4337cc 2.5px,#4337cc 10.5px,#4337cd 26.5px,#4337cd 41.5px,#4338cd 55.5px,#4337cc 69.5px,#4337cd 82.5px,#4337cc 96.5px,#4337cc 110.5px,#4336cb 125.5px,#4336ca 139.5px,rgba(67,54,202,0.69) 140.5px)"></i>
<i style="top:161px;left:364px;width:139px;background:linear-gradient(90deg,rgba(67,55,204,0.12) 0.5px,rgba(67,55,204,0.62) 1.5px,#4337cd 2.5px,#4235ca 10.5px,#4336cb 21.5px,#4337cc 36.5px,#4337cd 46.5px,#4337cc 58.5px,#4336cb 65.5px,#4337cc 77.5px,#4337cc 86.5px,#4336cb 98.5px,#4336cb 105.5px,#4336ca 120.5px,#4235c9 133.5px,#4234c8 137.5px,rgba(66,52,199,0.31) 138.5px)"></i>
<i style="top:162px;left:366px;width:136px;background:linear-gradient(90deg,rgba(66,52,200,0.06) 0.5px,rgba(66,52,199,0.94) 2.5px,#4235c9 6.5px,#4235ca 16.5px,#4235c9 32.5px,#4235ca 46.5px,#4235ca 60.5px,#4336ca 73.5px,#4336cb 83.5px,#4235ca 93.5px,#4235c9 101.5px,#4234c9 116.5px,#4234c8 129.5px,#4133c4 134.5px,rgba(65,50,195,0.50) 135.5px)"></i>
<i style="top:163px;left:369px;width:132px;background:linear-gradient(90deg,rgba(66,52,199,0.38) 0.5px,rgba(66,52,200,0.81) 1.5px,#4234c8 2.5px,#4234c8 10.5px,#4235c9 19.5px,#4234c8 26.5px,#4235c9 40.5px,#4234c9 47.5px,#4234c8 55.5px,#4234c9 68.5px,#4235c9 81.5px,#4234c8 87.5px,#4234c8 95.5px,#4234c7 101.5px,#4234c8 110.5px,#4133c6 118.5px,#4133c4 127.5px,rgba(64,49,192,0.94) 130.5px,rgba(64,49,192,0.38) 131.5px)"></i>
<i style="top:164px;left:371px;width:129px;background:linear-gradient(90deg,rgba(66,52,200,0.25) 0.5px,rgba(66,52,200,0.69) 1.5px,#4234c8 2.5px,#4133c5 9.5px,#4234c8 20.5px,#4133c6 26.5px,#4234c8 35.5px,#4233c6 41.5px,#4234c8 49.5px,#4233c6 54.5px,#4234c8 63.5px,#4233c6 68.5px,#4234c7 77.5px,#4233c6 83.5px,#4234c8 90.5px,#4133c5 95.5px,#4233c7 105.5px,#4133c4 112.5px,#4132c2 122.5px,#4031bf 126.5px,rgba(64,49,191,0.88) 127.5px,rgba(64,49,191,0.19) 128.5px)"></i>
<i style="top:165px;left:373px;width:126px;background:linear-gradient(90deg,rgba(65,51,196,0.12) 0.5px,rgba(65,50,194,0.94) 2.5px,#4133c4 6.5px,#4233c6 15.5px,#4132c3 20.5px,#4234c7 30.5px,#4133c4 35.5px,#4233c6 45.5px,#4133c5 50.5px,#4234c7 58.5px,#4133c4 63.5px,#4233c6 72.5px,#4133c4 78.5px,#4133c5 86.5px,#4132c3 92.5px,#4133c4 101.5px,#4132c3 109.5px,#4032c1 117.5px,#4030be 123.5px,rgba(64,48,190,0.75) 124.5px,rgba(64,49,190,0.06) 125.5px)"></i>
<i style="top:166px;left:375px;width:122px;background:linear-gradient(90deg,rgba(65,50,194,0.06) 0.5px,rgba(65,50,194,0.88) 2.5px,#4132c3 3.5px,#4133c4 10.5px,#4032c1 15.5px,#4133c4 26.5px,#4132c3 32.5px,#4133c5 40.5px,#4132c3 46.5px,#4133c5 54.5px,#4132c3 59.5px,#4133c4 68.5px,#4132c2 73.5px,#4133c5 81.5px,#4032c1 86.5px,#4132c3 96.5px,#4031c0 102.5px,#4031c0 112.5px,#3f30bc 118.5px,#3f30bc 119.5px,rgba(63,48,188,0.75) 120.5px,rgba(63,48,189,0.25) 121.5px)"></i>
<i style="top:167px;left:378px;width:117px;background:linear-gradient(90deg,rgba(65,50,194,0.38) 0.5px,rgba(65,50,195,0.75) 1.5px,#4132c3 2.5px,#4031bf 9.5px,#4132c2 20.5px,#4032c1 26.5px,#4132c4 34.5px,#4031c0 39.5px,#4133c4 48.5px,#4032c1 53.5px,#4132c3 62.5px,#4031c0 67.5px,#4132c2 76.5px,#4031c0 82.5px,#4132c2 90.5px,#4031be 95.5px,#4031bf 106.5px,#3f2fbb 112.5px,#3f30bb 114.5px,rgba(63,48,187,0.75) 115.5px,rgba(63,48,187,0.25) 116.5px)"></i>
<i style="top:168px;left:380px;width:113px;background:linear-gradient(90deg,rgba(64,49,191,0.19) 0.5px,#3f30bd 2.5px,#4031c1 15.5px,#4031bf 21.5px,#4032c1 30.5px,#4031bf 36.5px,#4032c1 44.5px,#4031c0 50.5px,#4032c1 58.5px,#4031bf 63.5px,#4031c0 72.5px,#4031be 77.5px,#4031bf 86.5px,#3f30bd 92.5px,#4031be 101.5px,#3f2fba 108.5px,#3f2fba 110.5px,rgba(63,47,186,0.75) 111.5px,rgba(63,47,186,0.25) 112.5px)"></i>
<i style="top:169px;left:382px;width:109px;background:linear-gradient(90deg,rgba(63,48,188,0.12) 0.5px,rgba(64,48,189,0.94) 2.5px,#4031bf 6.5px,#4030be 11.5px,#4031be 19.5px,#4031bf 25.5px,#3f30bd 30.5px,#4031c0 39.5px,#4030bd 44.5px,#4031c0 53.5px,#4030bd 58.5px,#4031bf 67.5px,#3f30bc 72.5px,#4031be 81.5px,#3f2fba 86.5px,#3f30bc 97.5px,#3e2fb8 103.5px,#3e2fb9 106.5px,rgba(62,47,185,0.75) 107.5px,rgba(63,47,185,0.25) 108.5px)"></i>
<i style="top:170px;left:384px;width:105px;background:linear-gradient(90deg,rgba(63,48,189,0.06) 0.5px,rgba(64,48,189,0.88) 2.5px,#4031be 3.5px,#3f2fba 10.5px,#4031be 20.5px,#3f30bb 25.5px,#4030be 35.5px,#3f30bc 41.5px,#4031be 49.5px,#3f30bc 55.5px,#3f30bd 63.5px,#3f2fbb 68.5px,#3f30bc 77.5px,#3f2fb9 83.5px,#3f2fbb 92.5px,#3e2eb7 98.5px,#3e2eb7 102.5px,rgba(62,46,183,0.75) 103.5px,rgba(62,46,184,0.25) 104.5px)"></i>
<i style="top:171px;left:387px;width:100px;background:linear-gradient(90deg,rgba(63,47,186,0.38) 0.5px,rgba(62,47,185,0.88) 1.5px,#3e2eb7 2.5px,#3f30bb 15.5px,#3f2fba 21.5px,#3f30bc 29.5px,#3f2fba 34.5px,#3f30bd 43.5px,#3f2fbb 49.5px,#3f30bc 57.5px,#3f2fb9 62.5px,#3f30bb 71.5px,#3e2eb7 76.5px,#3e2eb8 87.5px,#3e2eb6 95.5px,#3e2eb6 96.5px,rgba(62,46,182,0.88) 97.5px,rgba(62,46,182,0.19) 99.5px)"></i>
<i style="top:172px;left:389px;width:95px;background:linear-gradient(90deg,rgba(62,46,183,0.25) 0.5px,rgba(62,46,183,0.75) 1.5px,#3e2eb8 2.5px,#3f2fb9 10.5px,#3e2eb8 16.5px,#3f2fb9 25.5px,#3e2fb8 30.5px,#3f2fba 39.5px,#3f2fb9 44.5px,#3f2fba 53.5px,#3e2eb8 58.5px,#3e2fb9 67.5px,#3e2eb6 73.5px,#3e2eb7 82.5px,#3d2db4 88.5px,#3e2db5 91.5px,rgba(62,45,181,0.88) 92.5px,rgba(62,45,181,0.19) 94.5px)"></i>
<i style="top:173px;left:391px;width:90px;background:linear-gradient(90deg,rgba(62,46,183,0.19) 0.5px,#3e2fb8 2.5px,#3e2eb6 11.5px,#3e2fb8 20.5px,#3e2eb7 26.5px,#3f2fb9 34.5px,#3e2eb7 40.5px,#3f2fb9 48.5px,#3e2eb6 54.5px,#3e2eb8 62.5px,#3d2db4 67.5px,#3e2eb6 77.5px,#3d2cb2 82.5px,#3d2db3 86.5px,rgba(61,45,179,0.88) 87.5px,rgba(61,45,180,0.19) 89.5px)"></i>
<i style="top:174px;left:393px;width:85px;background:linear-gradient(90deg,rgba(62,46,182,0.12) 0.5px,rgba(61,45,179,0.94) 2.5px,#3d2db4 6.5px,#3e2eb7 15.5px,#3d2db4 20.5px,#3e2eb8 29.5px,#3e2db5 34.5px,#3e2fb8 43.5px,#3e2db4 48.5px,#3e2eb5 58.5px,#3d2db3 64.5px,#3d2db3 73.5px,#3d2cb1 80.5px,#3d2cb1 81.5px,rgba(61,44,178,0.88) 82.5px,rgba(61,44,178,0.19) 84.5px)"></i>
<i style="top:175px;left:395px;width:80px;background:linear-gradient(90deg,rgba(61,44,177,0.06) 0.5px,rgba(61,45,178,0.88) 2.5px,#3d2db3 3.5px,#3e2db5 10.5px,#3d2db2 15.5px,#3e2db5 25.5px,#3d2db4 31.5px,#3e2eb6 39.5px,#3d2db3 45.5px,#3e2db5 53.5px,#3d2cb1 58.5px,#3d2cb2 68.5px,#3c2baf 74.5px,#3c2cb0 76.5px,rgba(61,44,176,0.88) 77.5px,rgba(61,44,176,0.19) 79.5px)"></i>
<i style="top:176px;left:398px;width:74px;background:linear-gradient(90deg,rgba(61,45,178,0.38) 0.5px,rgba(61,45,179,0.81) 1.5px,#3d2db3 2.5px,#3d2cb1 10.5px,#3d2db4 19.5px,#3d2cb1 24.5px,#3e2db5 33.5px,#3d2cb2 38.5px,#3d2db2 48.5px,#3d2cb0 54.5px,#3d2cb1 62.5px,#3c2bad 67.5px,#3c2bae 70.5px,rgba(60,43,174,0.88) 71.5px,rgba(60,43,175,0.19) 73.5px)"></i>
<i style="top:177px;left:400px;width:69px;background:linear-gradient(90deg,rgba(61,44,176,0.25) 0.5px,rgba(60,43,175,0.69) 1.5px,#3c2bae 2.5px,#3d2db2 14.5px,#3c2baf 19.5px,#3d2cb2 29.5px,#3d2cb1 35.5px,#3d2cb1 43.5px,#3c2baf 49.5px,#3c2baf 58.5px,#3c2bad 65.5px,rgba(60,43,173,0.81) 66.5px,rgba(60,43,173,0.19) 68.5px)"></i>
<i style="top:178px;left:402px;width:64px;background:linear-gradient(90deg,rgba(60,43,173,0.12) 0.5px,rgba(60,43,173,0.62) 1.5px,rgba(60,43,174,0.94) 2.5px,#3c2cb0 6.5px,#3c2bae 16.5px,#3d2cb1 24.5px,#3c2bae 29.5px,#3d2cb1 38.5px,#3c2bad 43.5px,#3c2bae 53.5px,#3b2aab 59.5px,#3b2aab 60.5px,rgba(59,42,171,0.81) 61.5px,rgba(60,42,172,0.12) 63.5px)"></i>
<i style="top:179px;left:404px;width:59px;background:linear-gradient(90deg,rgba(60,43,173,0.06) 0.5px,rgba(60,43,174,0.88) 2.5px,#3c2baf 3.5px,#3c2aac 10.5px,#3c2baf 19.5px,#3c2aac 24.5px,#3c2bae 34.5px,#3c2aac 40.5px,#3c2bad 48.5px,#3b29a9 53.5px,#3b2aaa 55.5px,rgba(59,42,170,0.81) 56.5px,rgba(59,42,170,0.12) 58.5px)"></i>
<i style="top:180px;left:407px;width:53px;background:linear-gradient(90deg,rgba(59,42,171,0.38) 0.5px,rgba(59,41,169,0.81) 1.5px,#3b29a8 2.5px,#3c2bac 14.5px,#3b2aab 20.5px,#3c2bae 28.5px,#3b2aab 34.5px,#3b2aab 43.5px,#3b29a8 49.5px,rgba(59,41,168,0.81) 50.5px,rgba(59,41,169,0.12) 52.5px)"></i>
<i style="top:181px;left:409px;width:48px;background:linear-gradient(90deg,rgba(59,41,168,0.25) 0.5px,rgba(59,41,169,0.69) 1.5px,#3b29a9 2.5px,#3b2aab 9.5px,#3b29a9 15.5px,#3c2aac 23.5px,#3b29a9 29.5px,#3b2aaa 38.5px,#3a29a7 44.5px,rgba(58,41,167,0.81) 45.5px,rgba(59,41,167,0.12) 47.5px)"></i>
<i style="top:182px;left:411px;width:43px;background:linear-gradient(90deg,rgba(59,41,169,0.12) 0.5px,rgba(59,41,169,0.62) 1.5px,rgba(59,42,170,0.94) 2.5px,#3a29a6 6.5px,#3b2aa9 19.5px,#3b29a8 26.5px,#3b29a9 33.5px,#3a28a5 39.5px,rgba(58,40,166,0.81) 40.5px,rgba(58,40,166,0.12) 42.5px)"></i>
<i style="top:183px;left:413px;width:38px;background:linear-gradient(90deg,rgba(58,40,166,0.06) 0.5px,rgba(58,40,165,0.88) 2.5px,#3a28a5 3.5px,#3b29a8 14.5px,#3a29a7 20.5px,#3b29a8 28.5px,#3a28a5 34.5px,rgba(58,40,165,0.81) 35.5px,rgba(58,40,165,0.12) 37.5px)"></i>
<i style="top:184px;left:416px;width:32px;background:linear-gradient(90deg,rgba(58,40,165,0.38) 0.5px,rgba(58,40,165,0.88) 1.5px,#3a28a5 2.5px,#3a28a6 8.5px,#3a28a5 28.5px,rgba(58,40,165,0.81) 29.5px,rgba(58,40,165,0.12) 31.5px)"></i>
<i style="top:185px;left:418px;width:27px;background:linear-gradient(90deg,rgba(58,41,167,0.25) 0.5px,rgba(58,41,167,0.75) 1.5px,#3b29a8 2.5px,#3a28a5 23.5px,rgba(58,40,165,0.12) 26.5px)"></i>
<i style="top:186px;left:420px;width:22px;background:linear-gradient(90deg,rgba(58,40,165,0.25) 0.5px,rgba(58,40,165,0.69) 1.5px,#3a28a5 2.5px,#3a28a6 13.5px,#3a28a5 18.5px,rgba(58,40,165,0.06) 21.5px)"></i>
<i style="top:187px;left:422px;width:17px;background:linear-gradient(90deg,rgba(58,40,165,0.12) 0.5px,rgba(58,40,165,0.62) 1.5px,#3a28a5 2.5px,#3a28a5 13.5px,rgba(58,40,165,0.06) 16.5px)"></i>
<i style="top:188px;left:424px;width:12px;background:linear-gradient(90deg,rgba(58,41,166,0.12) 0.5px,rgba(59,41,167,0.94) 2.5px,#3a28a5 6.5px,#3a28a5 8.5px,rgba(58,40,165,0.06) 11.5px)"></i>
<i style="top:189px;left:426px;width:7px;background:linear-gradient(90deg,rgba(58,40,165,0.06) 0.5px,rgba(58,40,165,0.94) 2.5px,#3a28a5 3.5px,rgba(58,40,165,0.06) 6.5px)"></i>
<i style="top:190px;left:428px;width:2px;background:linear-gradient(90deg,rgba(58,40,165,0.06) 0.5px,rgba(58,40,165,0.06) 1.5px)"></i>
<i style="top:49px;left:510px;width:2px;background:linear-gradient(90deg,rgba(246,239,21,0.38) 0.5px,rgba(246,239,21,0.31) 1.5px)"></i>
<i style="top:50px;left:509px;width:3px;background:linear-gradient(90deg,rgba(245,238,22,0.50) 0.5px,#f5ee16 1.5px,rgba(245,238,22,0.50) 2.5px)"></i>
<i style="top:51px;left:509px;width:3px;background:linear-gradient(90deg,rgba(245,236,22,0.50) 0.5px,#f5ec16 1.5px,rgba(245,236,22,0.50) 2.5px)"></i>
<i style="top:52px;left:509px;width:3px;background:linear-gradient(90deg,rgba(245,235,23,0.38) 0.5px,#f5eb17 1.5px,rgba(245,235,23,0.56) 2.5px)"></i>
<i style="top:53px;left:509px;width:3px;background:linear-gradient(90deg,rgba(245,234,24,0.25) 0.5px,#f5ea18 1.5px,rgba(245,234,24,0.75) 2.5px)"></i>
<i style="top:54px;left:509px;width:3px;background:linear-gradient(90deg,rgba(245,233,24,0.25) 0.5px,#f5e918 1.5px,rgba(245,233,24,0.75) 2.5px)"></i>
<i style="top:55px;left:509px;width:3px;background:linear-gradient(90deg,rgba(245,232,25,0.25) 0.5px,#f5e819 1.5px,rgba(245,232,25,0.75) 2.5px)"></i>
<i style="top:56px;left:509px;width:3px;background:linear-gradient(90deg,rgba(245,231,26,0.25) 0.5px,#f5e71a 1.5px,rgba(245,231,26,0.75) 2.5px)"></i>
<i style="top:57px;left:509px;width:3px;background:linear-gradient(90deg,rgba(245,230,26,0.25) 0.5px,#f5e61a 1.5px,rgba(245,230,26,0.75) 2.5px)"></i>
<i style="top:58px;left:509px;width:3px;background:linear-gradient(90deg,rgba(244,228,27,0.25) 0.5px,#f4e41b 1.5px,rgba(244,228,27,0.75) 2.5px)"></i>
<i style="top:59px;left:509px;width:3px;background:linear-gradient(90deg,rgba(244,227,28,0.25) 0.5px,#f4e31c 1.5px,rgba(244,227,28,0.75) 2.5px)"></i>
<i style="top:60px;left:509px;width:3px;background:linear-gradient(90deg,rgba(245,225,29,0.25) 0.5px,#f5e11d 1.5px,rgba(245,225,29,0.75) 2.5px)"></i>
<i style="top:61px;left:509px;width:3px;background:linear-gradient(90deg,rgba(245,222,30,0.25) 0.5px,#f5de1e 1.5px,rgba(245,222,30,0.75) 2.5px)"></i>
<i style="top:62px;left:509px;width:3px;background:linear-gradient(90deg,rgba(245,219,32,0.25) 0.5px,#f5db20 1.5px,rgba(245,219,32,0.75) 2.5px)"></i>
<i style="top:63px;left:509px;width:3px;background:linear-gradient(90deg,rgba(246,216,33,0.25) 0.5px,#f6d821 1.5px,rgba(246,216,33,0.75) 2.5px)"></i>
<i style="top:64px;left:509px;width:3px;background:linear-gradient(90deg,rgba(246,213,34,0.25) 0.5px,#f6d522 1.5px,rgba(246,213,34,0.75) 2.5px)"></i>
<i style="top:65px;left:509px;width:3px;background:linear-gradient(90deg,rgba(247,210,35,0.25) 0.5px,#f7d223 1.5px,rgba(247,210,35,0.75) 2.5px)"></i>
<i style="top:66px;left:509px;width:3px;background:linear-gradient(90deg,rgba(247,207,36,0.25) 0.5px,#f7cf24 1.5px,rgba(247,207,36,0.75) 2.5px)"></i>
<i style="top:67px;left:509px;width:3px;background:linear-gradient(90deg,rgba(248,203,37,0.25) 0.5px,#f8cb25 1.5px,rgba(248,203,37,0.75) 2.5px)"></i>
<i style="top:68px;left:509px;width:3px;background:linear-gradient(90deg,rgba(248,200,37,0.25) 0.5px,#f8c825 1.5px,rgba(248,200,37,0.75) 2.5px)"></i>
<i style="top:69px;left:509px;width:3px;background:linear-gradient(90deg,rgba(249,196,38,0.25) 0.5px,#f9c426 1.5px,rgba(249,196,38,0.75) 2.5px)"></i>
<i style="top:70px;left:509px;width:3px;background:linear-gradient(90deg,rgba(249,193,39,0.25) 0.5px,#f9c127 1.5px,rgba(249,193,39,0.75) 2.5px)"></i>
<i style="top:71px;left:509px;width:3px;background:linear-gradient(90deg,rgba(250,189,39,0.25) 0.5px,#fabd27 1.5px,rgba(250,189,39,0.75) 2.5px)"></i>
<i style="top:72px;left:509px;width:3px;background:linear-gradient(90deg,rgba(251,184,41,0.25) 0.5px,#fbb829 1.5px,rgba(251,184,41,0.75) 2.5px)"></i>
<i style="top:73px;left:509px;width:3px;background:linear-gradient(90deg,rgba(251,178,43,0.25) 0.5px,#fbb22b 1.5px,rgba(251,178,43,0.75) 2.5px)"></i>
<i style="top:74px;left:509px;width:3px;background:linear-gradient(90deg,rgba(251,174,46,0.25) 0.5px,#fbae2e 1.5px,rgba(251,174,46,0.75) 2.5px)"></i>
<i style="top:75px;left:509px;width:3px;background:linear-gradient(90deg,rgba(248,174,49,0.25) 0.5px,#f8ae31 1.5px,rgba(248,174,49,0.75) 2.5px)"></i>
<i style="top:76px;left:509px;width:3px;background:linear-gradient(90deg,rgba(245,177,52,0.25) 0.5px,#f5b134 1.5px,rgba(245,177,52,0.75) 2.5px)"></i>
<i style="top:77px;left:509px;width:3px;background:linear-gradient(90deg,rgba(241,182,54,0.12) 0.5px,#f1b636 1.5px,rgba(241,182,54,0.75) 2.5px)"></i>
<i style="top:78px;left:510px;width:2px;background:linear-gradient(90deg,#ecbb38 0.5px,rgba(236,187,56,0.94) 1.5px)"></i>
<i style="top:79px;left:510px;width:2px;background:linear-gradient(90deg,#e6c03a 0.5px,#e6c03a 1.5px)"></i>
<i style="top:80px;left:510px;width:2px;background:linear-gradient(90deg,#ddc53e 0.5px,#ddc53e 1.5px)"></i>
<i style="top:81px;left:510px;width:3px;background:linear-gradient(90deg,#d2c842 0.5px,#d2c842 1.5px,rgba(210,200,66,0.06) 2.5px)"></i>
<i style="top:82px;left:510px;width:3px;background:linear-gradient(90deg,#c6cb48 0.5px,#c6cb48 1.5px,rgba(198,203,72,0.25) 2.5px)"></i>
<i style="top:83px;left:510px;width:3px;background:linear-gradient(90deg,#b9cc4f 0.5px,#b9cc4f 1.5px,rgba(185,204,79,0.25) 2.5px)"></i>
<i style="top:84px;left:510px;width:3px;background:linear-gradient(90deg,#abcd56 0.5px,#abcd56 1.5px,rgba(171,205,86,0.25) 2.5px)"></i>
<i style="top:85px;left:510px;width:3px;background:linear-gradient(90deg,#9fce5d 0.5px,#9fce5d 1.5px,rgba(159,206,93,0.50) 2.5px)"></i>
<i style="top:86px;left:510px;width:3px;background:linear-gradient(90deg,#93cd64 0.5px,#93cd64 1.5px,rgba(147,205,100,0.50) 2.5px)"></i>
<i style="top:87px;left:510px;width:3px;background:linear-gradient(90deg,#88cd6b 0.5px,#88cd6b 1.5px,rgba(136,205,107,0.50) 2.5px)"></i>
<i style="top:88px;left:510px;width:3px;background:linear-gradient(90deg,#7dcb71 0.5px,#7dcb71 1.5px,rgba(125,203,113,0.62) 2.5px)"></i>
<i style="top:89px;left:510px;width:3px;background:linear-gradient(90deg,#73ca78 0.5px,#73ca78 1.5px,rgba(115,202,120,0.75) 2.5px)"></i>
<i style="top:90px;left:510px;width:3px;background:linear-gradient(90deg,#68c87f 0.5px,#68c87f 1.5px,rgba(104,200,127,0.75) 2.5px)"></i>
<i style="top:91px;left:510px;width:3px;background:linear-gradient(90deg,#5dc785 0.5px,#5dc785 1.5px,rgba(93,199,133,0.75) 2.5px)"></i>
<i style="top:92px;left:510px;width:3px;background:linear-gradient(90deg,#53c48b 0.5px,#53c48b 2.5px)"></i>
<i style="top:93px;left:510px;width:3px;background:linear-gradient(90deg,#4ac291 0.5px,#4ac291 2.5px)"></i>
<i style="top:94px;left:510px;width:3px;background:linear-gradient(90deg,#42c097 0.5px,#42c097 2.5px)"></i>
<i style="top:95px;left:510px;width:4px;background:linear-gradient(90deg,#3abe9c 0.5px,#3abe9c 2.5px,rgba(58,190,156,0.12) 3.5px)"></i>
<i style="top:96px;left:510px;width:4px;background:linear-gradient(90deg,#33bda1 0.5px,#33bda1 2.5px,rgba(51,189,161,0.25) 3.5px)"></i>
<i style="top:97px;left:510px;width:4px;background:linear-gradient(90deg,rgba(44,187,166,0.75) 0.5px,#2cbba6 1.5px,#2cbba6 2.5px,rgba(44,187,166,0.25) 3.5px)"></i>
<i style="top:98px;left:510px;width:4px;background:linear-gradient(90deg,rgba(38,186,171,0.75) 0.5px,#26baab 1.5px,#26baab 2.5px,rgba(38,186,171,0.25) 3.5px)"></i>
<i style="top:99px;left:510px;width:4px;background:linear-gradient(90deg,rgba(32,184,176,0.75) 0.5px,#20b8b0 1.5px,#20b8b0 2.5px,rgba(32,184,176,0.50) 3.5px)"></i>
<i style="top:100px;left:510px;width:4px;background:linear-gradient(90deg,rgba(26,183,181,0.75) 0.5px,#1ab7b5 1.5px,#1ab7b5 2.5px,rgba(26,183,181,0.50) 3.5px)"></i>
<i style="top:101px;left:510px;width:4px;background:linear-gradient(90deg,rgba(21,182,186,0.75) 0.5px,#15b6ba 1.5px,#15b6ba 2.5px,rgba(21,182,186,0.50) 3.5px)"></i>
<i style="top:102px;left:510px;width:4px;background:linear-gradient(90deg,rgba(17,181,190,0.75) 0.5px,#11b5be 1.5px,#11b5be 2.5px,rgba(17,181,190,0.62) 3.5px)"></i>
<i style="top:103px;left:510px;width:4px;background:linear-gradient(90deg,rgba(13,180,194,0.75) 0.5px,#0db4c2 1.5px,#0db4c2 2.5px,rgba(13,180,194,0.75) 3.5px)"></i>
<i style="top:104px;left:510px;width:4px;background:linear-gradient(90deg,rgba(10,179,199,0.75) 0.5px,#0ab3c7 1.5px,#0ab3c7 2.5px,rgba(10,179,199,0.75) 3.5px)"></i>
<i style="top:105px;left:510px;width:4px;background:linear-gradient(90deg,rgba(8,178,203,0.75) 0.5px,#08b2cb 1.5px,#08b2cb 2.5px,rgba(8,178,203,0.75) 3.5px)"></i>
<i style="top:106px;left:510px;width:4px;background:linear-gradient(90deg,rgba(6,177,207,0.75) 0.5px,#06b1cf 1.5px,#06b1cf 2.5px,rgba(6,177,207,0.75) 3.5px)"></i>
<i style="top:107px;left:510px;width:4px;background:linear-gradient(90deg,rgba(6,176,211,0.75) 0.5px,#06b0d3 1.5px,#06b0d3 2.5px,rgba(6,176,211,0.81) 3.5px)"></i>
<i style="top:108px;left:510px;width:4px;background:linear-gradient(90deg,rgba(6,174,214,0.75) 0.5px,#06aed6 1.5px,#06aed6 3.5px)"></i>
<i style="top:109px;left:510px;width:4px;background:linear-gradient(90deg,rgba(7,173,217,0.75) 0.5px,#07add9 1.5px,#07add9 3.5px)"></i>
<i style="top:110px;left:510px;width:4px;background:linear-gradient(90deg,rgba(8,172,220,0.75) 0.5px,#08acdc 1.5px,#08acdc 3.5px)"></i>
<i style="top:111px;left:510px;width:4px;background:linear-gradient(90deg,rgba(11,171,222,0.75) 0.5px,#0babde 1.5px,#0babde 3.5px)"></i>
<i style="top:112px;left:510px;width:5px;background:linear-gradient(90deg,rgba(14,170,224,0.75) 0.5px,#0eaae0 1.5px,#0eaae0 3.5px,rgba(14,170,224,0.06) 4.5px)"></i>
<i style="top:113px;left:510px;width:5px;background:linear-gradient(90deg,rgba(18,170,226,0.75) 0.5px,#12aae2 1.5px,#12aae2 3.5px,rgba(18,170,226,0.25) 4.5px)"></i>
<i style="top:114px;left:510px;width:5px;background:linear-gradient(90deg,rgba(22,169,227,0.75) 0.5px,#16a9e3 1.5px,#16a9e3 3.5px,rgba(22,169,227,0.25) 4.5px)"></i>
<i style="top:115px;left:510px;width:5px;background:linear-gradient(90deg,rgba(26,168,229,0.75) 0.5px,#1aa8e5 1.5px,#1aa8e5 3.5px,rgba(26,168,229,0.25) 4.5px)"></i>
<i style="top:116px;left:510px;width:5px;background:linear-gradient(90deg,rgba(29,165,230,0.75) 0.5px,#1da5e6 1.5px,#1da5e6 3.5px,rgba(29,165,230,0.25) 4.5px)"></i>
<i style="top:117px;left:510px;width:5px;background:linear-gradient(90deg,rgba(31,162,231,0.62) 0.5px,#1fa2e7 1.5px,#1fa2e7 3.5px,rgba(31,162,231,0.25) 4.5px)"></i>
<i style="top:118px;left:510px;width:5px;background:linear-gradient(90deg,rgba(33,159,232,0.50) 0.5px,#219fe8 1.5px,#219fe8 3.5px,rgba(33,159,232,0.50) 4.5px)"></i>
<i style="top:119px;left:510px;width:5px;background:linear-gradient(90deg,rgba(35,156,232,0.50) 0.5px,#239ce8 1.5px,#239ce8 3.5px,rgba(35,156,232,0.50) 4.5px)"></i>
<i style="top:120px;left:510px;width:5px;background:linear-gradient(90deg,rgba(37,154,233,0.50) 0.5px,#259ae9 1.5px,#259ae9 3.5px,rgba(37,154,233,0.50) 4.5px)"></i>
<i style="top:121px;left:510px;width:5px;background:linear-gradient(90deg,rgba(39,151,233,0.50) 0.5px,#2797e9 1.5px,#2797e9 3.5px,rgba(39,151,233,0.50) 4.5px)"></i>
<i style="top:122px;left:510px;width:5px;background:linear-gradient(90deg,rgba(40,149,234,0.50) 0.5px,#2895ea 1.5px,#2895ea 3.5px,rgba(40,149,234,0.50) 4.5px)"></i>
<i style="top:123px;left:510px;width:5px;background:linear-gradient(90deg,rgba(42,146,234,0.50) 0.5px,#2a92ea 1.5px,#2a92ea 3.5px,rgba(42,146,234,0.69) 4.5px)"></i>
<i style="top:124px;left:510px;width:5px;background:linear-gradient(90deg,rgba(44,144,235,0.50) 0.5px,#2c90eb 1.5px,#2c90eb 3.5px,rgba(44,144,235,0.75) 4.5px)"></i>
<i style="top:125px;left:510px;width:5px;background:linear-gradient(90deg,rgba(46,142,235,0.50) 0.5px,#2e8eeb 1.5px,#2e8eeb 3.5px,rgba(46,142,235,0.75) 4.5px)"></i>
<i style="top:126px;left:510px;width:5px;background:linear-gradient(90deg,rgba(47,138,235,0.50) 0.5px,#2f8aeb 1.5px,#2f8aeb 3.5px,rgba(47,138,235,0.75) 4.5px)"></i>
<i style="top:127px;left:510px;width:5px;background:linear-gradient(90deg,rgba(49,135,235,0.50) 0.5px,#3187eb 1.5px,#3187eb 3.5px,rgba(49,135,235,0.75) 4.5px)"></i>
<i style="top:128px;left:510px;width:5px;background:linear-gradient(90deg,rgba(51,132,235,0.50) 0.5px,#3384eb 1.5px,rgba(51,132,235,0.94) 4.5px)"></i>
<i style="top:129px;left:510px;width:5px;background:linear-gradient(90deg,rgba(52,129,235,0.50) 0.5px,#3481eb 1.5px,#3481eb 4.5px)"></i>
<i style="top:130px;left:510px;width:5px;background:linear-gradient(90deg,rgba(54,126,235,0.50) 0.5px,#367eeb 1.5px,#367eeb 4.5px)"></i>
<i style="top:131px;left:510px;width:5px;background:linear-gradient(90deg,rgba(56,123,235,0.50) 0.5px,#387beb 1.5px,#387beb 4.5px)"></i>
<i style="top:132px;left:510px;width:5px;background:linear-gradient(90deg,rgba(57,120,235,0.50) 0.5px,#3978eb 1.5px,#3978eb 4.5px)"></i>
<i style="top:133px;left:510px;width:6px;background:linear-gradient(90deg,rgba(58,117,234,0.50) 0.5px,#3a75ea 1.5px,#3a75ea 4.5px,rgba(58,117,234,0.12) 5.5px)"></i>
<i style="top:134px;left:510px;width:6px;background:linear-gradient(90deg,rgba(59,114,234,0.50) 0.5px,#3b72ea 1.5px,#3b72ea 4.5px,rgba(59,114,234,0.25) 5.5px)"></i>
<i style="top:135px;left:510px;width:6px;background:linear-gradient(90deg,rgba(60,111,234,0.50) 0.5px,#3c6fea 1.5px,#3c6fea 4.5px,rgba(60,111,234,0.12) 5.5px)"></i>
<i style="top:136px;left:510px;width:5px;background:linear-gradient(90deg,rgba(61,108,233,0.50) 0.5px,#3d6ce9 1.5px,#3d6ce9 4.5px)"></i>
<i style="top:137px;left:510px;width:5px;background:linear-gradient(90deg,rgba(61,105,233,0.50) 0.5px,#3d69e9 1.5px,#3d69e9 3.5px,rgba(61,105,233,0.81) 4.5px)"></i>
<i style="top:138px;left:510px;width:5px;background:linear-gradient(90deg,rgba(62,102,233,0.50) 0.5px,#3e66e9 1.5px,#3e66e9 3.5px,rgba(62,102,233,0.69) 4.5px)"></i>
<i style="top:139px;left:510px;width:5px;background:linear-gradient(90deg,rgba(63,99,233,0.50) 0.5px,#3f63e9 1.5px,#3f63e9 3.5px,rgba(63,99,233,0.50) 4.5px)"></i>
<i style="top:140px;left:510px;width:5px;background:linear-gradient(90deg,rgba(64,97,233,0.31) 0.5px,#4061e9 1.5px,#4061e9 3.5px,rgba(64,97,233,0.38) 4.5px)"></i>
<i style="top:141px;left:510px;width:5px;background:linear-gradient(90deg,rgba(65,93,232,0.25) 0.5px,#415de8 1.5px,#415de8 3.5px,rgba(65,93,232,0.25) 4.5px)"></i>
<i style="top:142px;left:510px;width:5px;background:linear-gradient(90deg,rgba(66,89,231,0.25) 0.5px,#4259e7 1.5px,#4259e7 3.5px,rgba(66,89,231,0.06) 4.5px)"></i>
<i style="top:143px;left:510px;width:4px;background:linear-gradient(90deg,rgba(68,86,231,0.12) 0.5px,#4456e7 1.5px,#4456e7 3.5px)"></i>
<i style="top:144px;left:511px;width:3px;background:linear-gradient(90deg,#4552e6 0.5px,#4552e6 1.5px,rgba(69,82,230,0.75) 2.5px)"></i>
<i style="top:145px;left:511px;width:3px;background:linear-gradient(90deg,#464ee5 0.5px,#464ee5 1.5px,rgba(70,78,229,0.69) 2.5px)"></i>
<i style="top:146px;left:511px;width:3px;background:linear-gradient(90deg,rgba(71,75,229,0.94) 0.5px,#474be5 1.5px,rgba(71,75,229,0.50) 2.5px)"></i>
<i style="top:147px;left:511px;width:3px;background:linear-gradient(90deg,rgba(72,71,227,0.75) 0.5px,#4847e3 1.5px,rgba(72,71,227,0.38) 2.5px)"></i>
<i style="top:148px;left:511px;width:3px;background:linear-gradient(90deg,rgba(71,68,222,0.75) 0.5px,rgba(71,68,222,0.94) 1.5px,rgba(71,68,222,0.06) 2.5px)"></i>
<i style="top:149px;left:511px;width:2px;background:linear-gradient(90deg,rgba(70,65,218,0.75) 0.5px,rgba(70,65,218,0.50) 1.5px)"></i>
<i style="top:150px;left:511px;width:2px;background:linear-gradient(90deg,rgba(69,62,214,0.44) 0.5px,rgba(69,62,214,0.06) 1.5px)"></i>
<i style="top:151px;left:511px;width:1px;background:rgba(68,59,209,0.06)"></i>
</div>
<svg width="550" height="484" viewBox="0 0 550 484" font-family="Liberation Sans, Arial, Helvetica, sans-serif">
<line x1="39.20" y1="164.00" x2="39.20" y2="38.20" stroke="#bdbdbd" stroke-width="0.85"/>
<line x1="39.20" y1="164.00" x2="141.00" y2="196.30" stroke="#bdbdbd" stroke-width="0.85"/>
<line x1="141.00" y1="196.30" x2="241.10" y2="164.10" stroke="#bdbdbd" stroke-width="0.85"/>
<line x1="39.20" y1="164.00" x2="37.20" y2="164.60" stroke="#bdbdbd" stroke-width="0.6"/>
<line x1="39.20" y1="150.02" x2="37.20" y2="150.62" stroke="#bdbdbd" stroke-width="0.6"/>
<line x1="39.20" y1="136.04" x2="37.20" y2="136.64" stroke="#bdbdbd" stroke-width="0.6"/>
<line x1="39.20" y1="122.07" x2="37.20" y2="122.67" stroke="#bdbdbd" stroke-width="0.6"/>
<line x1="39.20" y1="108.09" x2="37.20" y2="108.69" stroke="#bdbdbd" stroke-width="0.6"/>
<line x1="39.20" y1="94.11" x2="37.20" y2="94.71" stroke="#bdbdbd" stroke-width="0.6"/>
<line x1="39.20" y1="80.13" x2="37.20" y2="80.73" stroke="#bdbdbd" stroke-width="0.6"/>
<line x1="39.20" y1="66.16" x2="37.20" y2="66.76" stroke="#bdbdbd" stroke-width="0.6"/>
<line x1="39.20" y1="52.18" x2="37.20" y2="52.78" stroke="#bdbdbd" stroke-width="0.6"/>
<line x1="39.20" y1="38.20" x2="37.20" y2="38.80" stroke="#bdbdbd" stroke-width="0.6"/>
<line x1="141.00" y1="196.30" x2="143.00" y2="195.66" stroke="#bdbdbd" stroke-width="0.6"/>
<line x1="94.73" y1="181.62" x2="96.73" y2="180.97" stroke="#bdbdbd" stroke-width="0.6"/>
<line x1="48.45" y1="166.94" x2="50.46" y2="166.29" stroke="#bdbdbd" stroke-width="0.6"/>
<line x1="153.75" y1="192.20" x2="151.72" y2="191.55" stroke="#bdbdbd" stroke-width="0.6"/>
<line x1="197.43" y1="178.15" x2="195.39" y2="177.50" stroke="#bdbdbd" stroke-width="0.6"/>
<line x1="241.10" y1="164.10" x2="239.06" y2="163.45" stroke="#bdbdbd" stroke-width="0.6"/>
<line x1="336.20" y1="159.60" x2="336.20" y2="37.80" stroke="#bdbdbd" stroke-width="0.85"/>
<line x1="336.20" y1="159.60" x2="423.00" y2="195.10" stroke="#bdbdbd" stroke-width="0.85"/>
<line x1="423.00" y1="195.10" x2="521.40" y2="163.80" stroke="#bdbdbd" stroke-width="0.85"/>
<line x1="336.20" y1="154.99" x2="334.20" y2="155.59" stroke="#bdbdbd" stroke-width="0.6"/>
<line x1="336.20" y1="130.59" x2="334.20" y2="131.19" stroke="#bdbdbd" stroke-width="0.6"/>
<line x1="336.20" y1="106.19" x2="334.20" y2="106.79" stroke="#bdbdbd" stroke-width="0.6"/>
<line x1="336.20" y1="81.79" x2="334.20" y2="82.39" stroke="#bdbdbd" stroke-width="0.6"/>
<line x1="336.20" y1="57.39" x2="334.20" y2="57.99" stroke="#bdbdbd" stroke-width="0.6"/>
<line x1="423.00" y1="195.10" x2="424.97" y2="194.47" stroke="#bdbdbd" stroke-width="0.6"/>
<line x1="405.64" y1="188.00" x2="407.61" y2="187.37" stroke="#bdbdbd" stroke-width="0.6"/>
<line x1="388.28" y1="180.90" x2="390.25" y2="180.27" stroke="#bdbdbd" stroke-width="0.6"/>
<line x1="370.92" y1="173.80" x2="372.89" y2="173.17" stroke="#bdbdbd" stroke-width="0.6"/>
<line x1="353.56" y1="166.70" x2="355.53" y2="166.07" stroke="#bdbdbd" stroke-width="0.6"/>
<line x1="336.20" y1="159.60" x2="338.17" y2="158.97" stroke="#bdbdbd" stroke-width="0.6"/>
<line x1="434.61" y1="191.41" x2="432.87" y2="190.70" stroke="#bdbdbd" stroke-width="0.6"/>
<line x1="451.93" y1="185.90" x2="450.19" y2="185.19" stroke="#bdbdbd" stroke-width="0.6"/>
<line x1="469.25" y1="180.39" x2="467.52" y2="179.68" stroke="#bdbdbd" stroke-width="0.6"/>
<line x1="486.58" y1="174.88" x2="484.84" y2="174.17" stroke="#bdbdbd" stroke-width="0.6"/>
<line x1="503.90" y1="169.37" x2="502.17" y2="168.66" stroke="#bdbdbd" stroke-width="0.6"/>
<line x1="521.23" y1="163.86" x2="519.49" y2="163.15" stroke="#bdbdbd" stroke-width="0.6"/>
<text x="34.60" y="165.97" font-size="6.9" text-anchor="end" fill="#262626"  stroke="#262626" stroke-width="0.22">0</text>
<text x="34.60" y="151.89" font-size="6.9" text-anchor="end" fill="#262626"  stroke="#262626" stroke-width="0.22">0.05</text>
<text x="34.60" y="137.81" font-size="6.9" text-anchor="end" fill="#262626"  stroke="#262626" stroke-width="0.22">0.1</text>
<text x="34.60" y="123.73" font-size="6.9" text-anchor="end" fill="#262626"  stroke="#262626" stroke-width="0.22">0.15</text>
<text x="34.60" y="109.65" font-size="6.9" text-anchor="end" fill="#262626"  stroke="#262626" stroke-width="0.22">0.2</text>
<text x="34.60" y="95.57" font-size="6.9" text-anchor="end" fill="#262626"  stroke="#262626" stroke-width="0.22">0.25</text>
<text x="34.60" y="81.49" font-size="6.9" text-anchor="end" fill="#262626"  stroke="#262626" stroke-width="0.22">0.3</text>
<text x="34.60" y="67.41" font-size="6.9" text-anchor="end" fill="#262626"  stroke="#262626" stroke-width="0.22">0.35</text>
<text x="34.60" y="53.33" font-size="6.9" text-anchor="end" fill="#262626"  stroke="#262626" stroke-width="0.22">0.4</text>
<text x="34.60" y="39.25" font-size="6.9" text-anchor="end" fill="#262626"  stroke="#262626" stroke-width="0.22">0.45</text>
<text x="39.20" y="176.27" font-size="6.9" text-anchor="middle" fill="#262626"  stroke="#262626" stroke-width="0.22">150</text>
<text x="85.50" y="190.07" font-size="6.9" text-anchor="middle" fill="#262626"  stroke="#262626" stroke-width="0.22">100</text>
<text x="133.50" y="204.67" font-size="6.9" text-anchor="middle" fill="#262626"  stroke="#262626" stroke-width="0.22">50</text>
<text x="162.70" y="200.67" font-size="6.9" text-anchor="middle" fill="#262626"  stroke="#262626" stroke-width="0.22">50</text>
<text x="208.60" y="186.27" font-size="6.9" text-anchor="middle" fill="#262626"  stroke="#262626" stroke-width="0.22">100</text>
<text x="252.00" y="171.77" font-size="6.9" text-anchor="middle" fill="#262626"  stroke="#262626" stroke-width="0.22">150</text>
<text x="62.10" y="207.51" font-size="7.0" text-anchor="middle" fill="#262626"  stroke="#262626" stroke-width="0.22">c-Si thickness (nm)</text>
<text x="211.20" y="206.21" font-size="7.0" text-anchor="middle" fill="#262626"  stroke="#262626" stroke-width="0.22">a-Si:H thickness (nm)</text>
<text x="0" y="0" font-size="7.0" text-anchor="middle" fill="#262626" transform="translate(15.31,101.00) rotate(-90)"  stroke="#262626" stroke-width="0.22">Graphene absorption</text>
<text x="332.60" y="157.47" font-size="6.9" text-anchor="end" fill="#262626"  stroke="#262626" stroke-width="0.22">0</text>
<text x="332.60" y="133.07" font-size="6.9" text-anchor="end" fill="#262626"  stroke="#262626" stroke-width="0.22">0.1</text>
<text x="332.60" y="108.67" font-size="6.9" text-anchor="end" fill="#262626"  stroke="#262626" stroke-width="0.22">0.2</text>
<text x="332.60" y="84.27" font-size="6.9" text-anchor="end" fill="#262626"  stroke="#262626" stroke-width="0.22">0.3</text>
<text x="332.60" y="59.87" font-size="6.9" text-anchor="end" fill="#262626"  stroke="#262626" stroke-width="0.22">0.4</text>
<text x="327.40" y="167.77" font-size="6.9" text-anchor="middle" fill="#262626"  stroke="#262626" stroke-width="0.22">160</text>
<text x="344.70" y="174.87" font-size="6.9" text-anchor="middle" fill="#262626"  stroke="#262626" stroke-width="0.22">140</text>
<text x="362.10" y="181.97" font-size="6.9" text-anchor="middle" fill="#262626"  stroke="#262626" stroke-width="0.22">120</text>
<text x="379.00" y="189.77" font-size="6.9" text-anchor="middle" fill="#262626"  stroke="#262626" stroke-width="0.22">100</text>
<text x="398.20" y="196.67" font-size="6.9" text-anchor="middle" fill="#262626"  stroke="#262626" stroke-width="0.22">80</text>
<text x="442.00" y="200.67" font-size="6.9" text-anchor="middle" fill="#262626"  stroke="#262626" stroke-width="0.22">40</text>
<text x="458.40" y="194.77" font-size="6.9" text-anchor="middle" fill="#262626"  stroke="#262626" stroke-width="0.22">60</text>
<text x="475.80" y="189.27" font-size="6.9" text-anchor="middle" fill="#262626"  stroke="#262626" stroke-width="0.22">80</text>
<text x="495.00" y="183.87" font-size="6.9" text-anchor="middle" fill="#262626"  stroke="#262626" stroke-width="0.22">100</text>
<text x="512.50" y="178.17" font-size="6.9" text-anchor="middle" fill="#262626"  stroke="#262626" stroke-width="0.22">120</text>
<text x="529.90" y="172.27" font-size="6.9" text-anchor="middle" fill="#262626"  stroke="#262626" stroke-width="0.22">140</text>
<text x="350.20" y="203.21" font-size="7.0" text-anchor="middle" fill="#262626"  stroke="#262626" stroke-width="0.22">c-Si thickness (nm)</text>
<text x="507.50" y="204.91" font-size="7.0" text-anchor="middle" fill="#262626"  stroke="#262626" stroke-width="0.22">a-Si:H thickness (nm)</text>
<text x="0" y="0" font-size="7.1" text-anchor="middle" fill="#262626" transform="translate(307.34,102.80) rotate(-90)"  stroke="#262626" stroke-width="0.22">Absorption of the Au mirror</text>
<rect x="37.5" y="264.0" width="207.80" height="176.80" fill="#fff" stroke="#a0a0a0" stroke-width="0.8"/>
<line x1="37.50" y1="440.8" x2="37.50" y2="438.8" stroke="#a0a0a0" stroke-width="0.6"/>
<line x1="37.50" y1="264.0" x2="37.50" y2="266.0" stroke="#a0a0a0" stroke-width="0.6"/>
<text x="37.50" y="450.81" font-size="7.3" text-anchor="middle" fill="#262626"  stroke="#262626" stroke-width="0.22">1535</text>
<line x1="72.13" y1="440.8" x2="72.13" y2="438.8" stroke="#a0a0a0" stroke-width="0.6"/>
<line x1="72.13" y1="264.0" x2="72.13" y2="266.0" stroke="#a0a0a0" stroke-width="0.6"/>
<text x="72.13" y="450.81" font-size="7.3" text-anchor="middle" fill="#262626"  stroke="#262626" stroke-width="0.22">1540</text>
<line x1="106.77" y1="440.8" x2="106.77" y2="438.8" stroke="#a0a0a0" stroke-width="0.6"/>
<line x1="106.77" y1="264.0" x2="106.77" y2="266.0" stroke="#a0a0a0" stroke-width="0.6"/>
<text x="106.77" y="450.81" font-size="7.3" text-anchor="middle" fill="#262626"  stroke="#262626" stroke-width="0.22">1545</text>
<line x1="141.40" y1="440.8" x2="141.40" y2="438.8" stroke="#a0a0a0" stroke-width="0.6"/>
<line x1="141.40" y1="264.0" x2="141.40" y2="266.0" stroke="#a0a0a0" stroke-width="0.6"/>
<text x="141.40" y="450.81" font-size="7.3" text-anchor="middle" fill="#262626"  stroke="#262626" stroke-width="0.22">1550</text>
<line x1="176.03" y1="440.8" x2="176.03" y2="438.8" stroke="#a0a0a0" stroke-width="0.6"/>
<line x1="176.03" y1="264.0" x2="176.03" y2="266.0" stroke="#a0a0a0" stroke-width="0.6"/>
<text x="176.03" y="450.81" font-size="7.3" text-anchor="middle" fill="#262626"  stroke="#262626" stroke-width="0.22">1555</text>
<line x1="210.67" y1="440.8" x2="210.67" y2="438.8" stroke="#a0a0a0" stroke-width="0.6"/>
<line x1="210.67" y1="264.0" x2="210.67" y2="266.0" stroke="#a0a0a0" stroke-width="0.6"/>
<text x="210.67" y="450.81" font-size="7.3" text-anchor="middle" fill="#262626"  stroke="#262626" stroke-width="0.22">1560</text>
<line x1="245.30" y1="440.8" x2="245.30" y2="438.8" stroke="#a0a0a0" stroke-width="0.6"/>
<line x1="245.30" y1="264.0" x2="245.30" y2="266.0" stroke="#a0a0a0" stroke-width="0.6"/>
<text x="245.30" y="450.81" font-size="7.3" text-anchor="middle" fill="#262626"  stroke="#262626" stroke-width="0.22">1565</text>
<line x1="37.5" y1="440.80" x2="39.5" y2="440.80" stroke="#a0a0a0" stroke-width="0.6"/>
<line x1="245.3" y1="440.80" x2="243.3" y2="440.80" stroke="#a0a0a0" stroke-width="0.6"/>
<text x="35.30" y="443.41" font-size="7.3" text-anchor="end" fill="#262626"  stroke="#262626" stroke-width="0.22">0</text>
<line x1="37.5" y1="421.16" x2="39.5" y2="421.16" stroke="#a0a0a0" stroke-width="0.6"/>
<line x1="245.3" y1="421.16" x2="243.3" y2="421.16" stroke="#a0a0a0" stroke-width="0.6"/>
<text x="35.30" y="423.77" font-size="7.3" text-anchor="end" fill="#262626"  stroke="#262626" stroke-width="0.22">0.1</text>
<line x1="37.5" y1="401.51" x2="39.5" y2="401.51" stroke="#a0a0a0" stroke-width="0.6"/>
<line x1="245.3" y1="401.51" x2="243.3" y2="401.51" stroke="#a0a0a0" stroke-width="0.6"/>
<text x="35.30" y="404.12" font-size="7.3" text-anchor="end" fill="#262626"  stroke="#262626" stroke-width="0.22">0.2</text>
<line x1="37.5" y1="381.87" x2="39.5" y2="381.87" stroke="#a0a0a0" stroke-width="0.6"/>
<line x1="245.3" y1="381.87" x2="243.3" y2="381.87" stroke="#a0a0a0" stroke-width="0.6"/>
<text x="35.30" y="384.48" font-size="7.3" text-anchor="end" fill="#262626"  stroke="#262626" stroke-width="0.22">0.3</text>
<line x1="37.5" y1="362.22" x2="39.5" y2="362.22" stroke="#a0a0a0" stroke-width="0.6"/>
<line x1="245.3" y1="362.22" x2="243.3" y2="362.22" stroke="#a0a0a0" stroke-width="0.6"/>
<text x="35.30" y="364.84" font-size="7.3" text-anchor="end" fill="#262626"  stroke="#262626" stroke-width="0.22">0.4</text>
<line x1="37.5" y1="342.58" x2="39.5" y2="342.58" stroke="#a0a0a0" stroke-width="0.6"/>
<line x1="245.3" y1="342.58" x2="243.3" y2="342.58" stroke="#a0a0a0" stroke-width="0.6"/>
<text x="35.30" y="345.19" font-size="7.3" text-anchor="end" fill="#262626"  stroke="#262626" stroke-width="0.22">0.5</text>
<line x1="37.5" y1="322.93" x2="39.5" y2="322.93" stroke="#a0a0a0" stroke-width="0.6"/>
<line x1="245.3" y1="322.93" x2="243.3" y2="322.93" stroke="#a0a0a0" stroke-width="0.6"/>
<text x="35.30" y="325.55" font-size="7.3" text-anchor="end" fill="#262626"  stroke="#262626" stroke-width="0.22">0.6</text>
<line x1="37.5" y1="303.29" x2="39.5" y2="303.29" stroke="#a0a0a0" stroke-width="0.6"/>
<line x1="245.3" y1="303.29" x2="243.3" y2="303.29" stroke="#a0a0a0" stroke-width="0.6"/>
<text x="35.30" y="305.90" font-size="7.3" text-anchor="end" fill="#262626"  stroke="#262626" stroke-width="0.22">0.7</text>
<line x1="37.5" y1="283.64" x2="39.5" y2="283.64" stroke="#a0a0a0" stroke-width="0.6"/>
<line x1="245.3" y1="283.64" x2="243.3" y2="283.64" stroke="#a0a0a0" stroke-width="0.6"/>
<text x="35.30" y="286.26" font-size="7.3" text-anchor="end" fill="#262626"  stroke="#262626" stroke-width="0.22">0.8</text>
<line x1="37.5" y1="264.00" x2="39.5" y2="264.00" stroke="#a0a0a0" stroke-width="0.6"/>
<line x1="245.3" y1="264.00" x2="243.3" y2="264.00" stroke="#a0a0a0" stroke-width="0.6"/>
<text x="35.30" y="266.61" font-size="7.3" text-anchor="end" fill="#262626"  stroke="#262626" stroke-width="0.22">0.9</text>
<path d="M37.50,412.37 L38.19,412.05 L38.89,411.72 L39.58,411.39 L40.27,411.06 L40.96,410.72 L41.66,410.37 L42.35,410.02 L43.04,409.67 L43.73,409.31 L44.43,408.94 L45.12,408.56 L45.81,408.18 L46.50,407.80 L47.20,407.40 L47.89,407.01 L48.58,406.60 L49.28,406.19 L49.97,405.77 L50.66,405.34 L51.35,404.91 L52.05,404.47 L52.74,404.02 L53.43,403.57 L54.12,403.10 L54.82,402.63 L55.51,402.15 L56.20,401.67 L56.89,401.17 L57.59,400.67 L58.28,400.15 L58.97,399.63 L59.67,399.10 L60.36,398.56 L61.05,398.01 L61.74,397.46 L62.44,396.89 L63.13,396.31 L63.82,395.72 L64.51,395.12 L65.21,394.52 L65.90,393.90 L66.59,393.27 L67.28,392.62 L67.98,391.97 L68.67,391.31 L69.36,390.63 L70.06,389.95 L70.75,389.25 L71.44,388.53 L72.13,387.81 L72.83,387.07 L73.52,386.32 L74.21,385.56 L74.90,384.78 L75.60,383.99 L76.29,383.19 L76.98,382.37 L77.67,381.54 L78.37,380.69 L79.06,379.83 L79.75,378.95 L80.45,378.06 L81.14,377.15 L81.83,376.22 L82.52,375.28 L83.22,374.33 L83.91,373.36 L84.60,372.37 L85.29,371.36 L85.99,370.34 L86.68,369.30 L87.37,368.24 L88.06,367.17 L88.76,366.08 L89.45,364.97 L90.14,363.84 L90.84,362.69 L91.53,361.53 L92.22,360.35 L92.91,359.15 L93.61,357.93 L94.30,356.69 L94.99,355.44 L95.68,354.16 L96.38,352.87 L97.07,351.56 L97.76,350.23 L98.45,348.89 L99.15,347.52 L99.84,346.14 L100.53,344.74 L101.23,343.33 L101.92,341.90 L102.61,340.45 L103.30,338.98 L104.00,337.51 L104.69,336.01 L105.38,334.50 L106.07,332.98 L106.77,331.45 L107.46,329.90 L108.15,328.34 L108.84,326.78 L109.54,325.20 L110.23,323.62 L110.92,322.02 L111.62,320.43 L112.31,318.82 L113.00,317.22 L113.69,315.61 L114.39,314.01 L115.08,312.40 L115.77,310.80 L116.46,309.20 L117.16,307.61 L117.85,306.03 L118.54,304.46 L119.23,302.91 L119.93,301.36 L120.62,299.84 L121.31,298.34 L122.01,296.85 L122.70,295.40 L123.39,293.96 L124.08,292.56 L124.78,291.19 L125.47,289.86 L126.16,288.56 L126.85,287.30 L127.55,286.08 L128.24,284.91 L128.93,283.78 L129.62,282.71 L130.32,281.68 L131.01,280.71 L131.70,279.79 L132.40,278.94 L133.09,278.14 L133.78,277.41 L134.47,276.74 L135.17,276.14 L135.86,275.60 L136.55,275.13 L137.24,274.73 L137.94,274.41 L138.63,274.15 L139.32,273.97 L140.01,273.86 L140.71,273.82 L141.40,273.86 L142.09,273.97 L142.79,274.15 L143.48,274.41 L144.17,274.73 L144.86,275.13 L145.56,275.60 L146.25,276.14 L146.94,276.74 L147.63,277.41 L148.33,278.14 L149.02,278.94 L149.71,279.79 L150.40,280.71 L151.10,281.68 L151.79,282.71 L152.48,283.78 L153.18,284.91 L153.87,286.08 L154.56,287.30 L155.25,288.56 L155.95,289.86 L156.64,291.19 L157.33,292.56 L158.02,293.96 L158.72,295.40 L159.41,296.85 L160.10,298.34 L160.79,299.84 L161.49,301.36 L162.18,302.91 L162.87,304.46 L163.57,306.03 L164.26,307.61 L164.95,309.20 L165.64,310.80 L166.34,312.40 L167.03,314.01 L167.72,315.61 L168.41,317.22 L169.11,318.82 L169.80,320.43 L170.49,322.02 L171.18,323.62 L171.88,325.20 L172.57,326.78 L173.26,328.34 L173.96,329.90 L174.65,331.45 L175.34,332.98 L176.03,334.50 L176.73,336.01 L177.42,337.51 L178.11,338.98 L178.80,340.45 L179.50,341.90 L180.19,343.33 L180.88,344.74 L181.57,346.14 L182.27,347.52 L182.96,348.89 L183.65,350.23 L184.35,351.56 L185.04,352.87 L185.73,354.16 L186.42,355.44 L187.12,356.69 L187.81,357.93 L188.50,359.15 L189.19,360.35 L189.89,361.53 L190.58,362.69 L191.27,363.84 L191.96,364.97 L192.66,366.08 L193.35,367.17 L194.04,368.24 L194.74,369.30 L195.43,370.34 L196.12,371.36 L196.81,372.37 L197.51,373.36 L198.20,374.33 L198.89,375.28 L199.58,376.22 L200.28,377.15 L200.97,378.06 L201.66,378.95 L202.35,379.83 L203.05,380.69 L203.74,381.54 L204.43,382.37 L205.13,383.19 L205.82,383.99 L206.51,384.78 L207.20,385.56 L207.90,386.32 L208.59,387.07 L209.28,387.81 L209.97,388.53 L210.67,389.25 L211.36,389.95 L212.05,390.63 L212.74,391.31 L213.44,391.97 L214.13,392.62 L214.82,393.27 L215.52,393.90 L216.21,394.52 L216.90,395.12 L217.59,395.72 L218.29,396.31 L218.98,396.89 L219.67,397.46 L220.36,398.01 L221.06,398.56 L221.75,399.10 L222.44,399.63 L223.13,400.15 L223.83,400.67 L224.52,401.17 L225.21,401.67 L225.91,402.15 L226.60,402.63 L227.29,403.10 L227.98,403.57 L228.68,404.02 L229.37,404.47 L230.06,404.91 L230.75,405.34 L231.45,405.77 L232.14,406.19 L232.83,406.60 L233.52,407.01 L234.22,407.40 L234.91,407.80 L235.60,408.18 L236.30,408.56 L236.99,408.94 L237.68,409.31 L238.37,409.67 L239.07,410.02 L239.76,410.37 L240.45,410.72 L241.14,411.06 L241.84,411.39 L242.53,411.72 L243.22,412.05 L243.91,412.37 L244.61,412.68 L245.30,412.99" fill="none" stroke="#3a3a3a" stroke-width="0.8"/>
<path d="M37.50,426.37 L38.19,426.21 L38.89,426.05 L39.58,425.88 L40.27,425.71 L40.96,425.54 L41.66,425.37 L42.35,425.19 L43.04,425.01 L43.73,424.83 L44.43,424.64 L45.12,424.45 L45.81,424.26 L46.50,424.06 L47.20,423.86 L47.89,423.66 L48.58,423.46 L49.28,423.25 L49.97,423.04 L50.66,422.82 L51.35,422.60 L52.05,422.38 L52.74,422.15 L53.43,421.92 L54.12,421.69 L54.82,421.45 L55.51,421.21 L56.20,420.96 L56.89,420.71 L57.59,420.46 L58.28,420.20 L58.97,419.94 L59.67,419.67 L60.36,419.40 L61.05,419.12 L61.74,418.84 L62.44,418.55 L63.13,418.26 L63.82,417.96 L64.51,417.66 L65.21,417.35 L65.90,417.04 L66.59,416.72 L67.28,416.40 L67.98,416.07 L68.67,415.74 L69.36,415.40 L70.06,415.05 L70.75,414.70 L71.44,414.34 L72.13,413.97 L72.83,413.60 L73.52,413.22 L74.21,412.84 L74.90,412.45 L75.60,412.05 L76.29,411.65 L76.98,411.23 L77.67,410.81 L78.37,410.39 L79.06,409.95 L79.75,409.51 L80.45,409.06 L81.14,408.61 L81.83,408.14 L82.52,407.67 L83.22,407.19 L83.91,406.70 L84.60,406.20 L85.29,405.70 L85.99,405.18 L86.68,404.66 L87.37,404.13 L88.06,403.59 L88.76,403.04 L89.45,402.49 L90.14,401.92 L90.84,401.35 L91.53,400.76 L92.22,400.17 L92.91,399.57 L93.61,398.96 L94.30,398.34 L94.99,397.71 L95.68,397.07 L96.38,396.42 L97.07,395.77 L97.76,395.10 L98.45,394.43 L99.15,393.75 L99.84,393.06 L100.53,392.36 L101.23,391.65 L101.92,390.93 L102.61,390.21 L103.30,389.48 L104.00,388.74 L104.69,387.99 L105.38,387.24 L106.07,386.48 L106.77,385.72 L107.46,384.95 L108.15,384.17 L108.84,383.39 L109.54,382.60 L110.23,381.81 L110.92,381.02 L111.62,380.22 L112.31,379.43 L113.00,378.63 L113.69,377.83 L114.39,377.03 L115.08,376.23 L115.77,375.43 L116.46,374.64 L117.16,373.85 L117.85,373.07 L118.54,372.29 L119.23,371.51 L119.93,370.75 L120.62,369.99 L121.31,369.25 L122.01,368.51 L122.70,367.79 L123.39,367.08 L124.08,366.38 L124.78,365.71 L125.47,365.04 L126.16,364.40 L126.85,363.78 L127.55,363.17 L128.24,362.59 L128.93,362.04 L129.62,361.50 L130.32,361.00 L131.01,360.52 L131.70,360.07 L132.40,359.64 L133.09,359.25 L133.78,358.89 L134.47,358.56 L135.17,358.26 L135.86,357.99 L136.55,357.76 L137.24,357.56 L137.94,357.40 L138.63,357.28 L139.32,357.19 L140.01,357.13 L140.71,357.11 L141.40,357.13 L142.09,357.19 L142.79,357.28 L143.48,357.40 L144.17,357.56 L144.86,357.76 L145.56,357.99 L146.25,358.26 L146.94,358.56 L147.63,358.89 L148.33,359.25 L149.02,359.64 L149.71,360.07 L150.40,360.52 L151.10,361.00 L151.79,361.50 L152.48,362.04 L153.18,362.59 L153.87,363.17 L154.56,363.78 L155.25,364.40 L155.95,365.04 L156.64,365.71 L157.33,366.38 L158.02,367.08 L158.72,367.79 L159.41,368.51 L160.10,369.25 L160.79,369.99 L161.49,370.75 L162.18,371.51 L162.87,372.29 L163.57,373.07 L164.26,373.85 L164.95,374.64 L165.64,375.43 L166.34,376.23 L167.03,377.03 L167.72,377.83 L168.41,378.63 L169.11,379.43 L169.80,380.22 L170.49,381.02 L171.18,381.81 L171.88,382.60 L172.57,383.39 L173.26,384.17 L173.96,384.95 L174.65,385.72 L175.34,386.48 L176.03,387.24 L176.73,387.99 L177.42,388.74 L178.11,389.48 L178.80,390.21 L179.50,390.93 L180.19,391.65 L180.88,392.36 L181.57,393.06 L182.27,393.75 L182.96,394.43 L183.65,395.10 L184.35,395.77 L185.04,396.42 L185.73,397.07 L186.42,397.71 L187.12,398.34 L187.81,398.96 L188.50,399.57 L189.19,400.17 L189.89,400.76 L190.58,401.35 L191.27,401.92 L191.96,402.49 L192.66,403.04 L193.35,403.59 L194.04,404.13 L194.74,404.66 L195.43,405.18 L196.12,405.70 L196.81,406.20 L197.51,406.70 L198.20,407.19 L198.89,407.67 L199.58,408.14 L200.28,408.61 L200.97,409.06 L201.66,409.51 L202.35,409.95 L203.05,410.39 L203.74,410.81 L204.43,411.23 L205.13,411.65 L205.82,412.05 L206.51,412.45 L207.20,412.84 L207.90,413.22 L208.59,413.60 L209.28,413.97 L209.97,414.34 L210.67,414.70 L211.36,415.05 L212.05,415.40 L212.74,415.74 L213.44,416.07 L214.13,416.40 L214.82,416.72 L215.52,417.04 L216.21,417.35 L216.90,417.66 L217.59,417.96 L218.29,418.26 L218.98,418.55 L219.67,418.84 L220.36,419.12 L221.06,419.40 L221.75,419.67 L222.44,419.94 L223.13,420.20 L223.83,420.46 L224.52,420.71 L225.21,420.96 L225.91,421.21 L226.60,421.45 L227.29,421.69 L227.98,421.92 L228.68,422.15 L229.37,422.38 L230.06,422.60 L230.75,422.82 L231.45,423.04 L232.14,423.25 L232.83,423.46 L233.52,423.66 L234.22,423.86 L234.91,424.06 L235.60,424.26 L236.30,424.45 L236.99,424.64 L237.68,424.83 L238.37,425.01 L239.07,425.19 L239.76,425.37 L240.45,425.54 L241.14,425.71 L241.84,425.88 L242.53,426.05 L243.22,426.21 L243.91,426.37 L244.61,426.53 L245.30,426.69" fill="none" stroke="#ff2020" stroke-width="1.4"/>
<path d="M37.50,426.78 L38.19,426.63 L38.89,426.47 L39.58,426.30 L40.27,426.14 L40.96,425.97 L41.66,425.80 L42.35,425.63 L43.04,425.45 L43.73,425.27 L44.43,425.09 L45.12,424.91 L45.81,424.72 L46.50,424.53 L47.20,424.34 L47.89,424.14 L48.58,423.94 L49.28,423.74 L49.97,423.53 L50.66,423.32 L51.35,423.11 L52.05,422.89 L52.74,422.67 L53.43,422.45 L54.12,422.22 L54.82,421.98 L55.51,421.75 L56.20,421.51 L56.89,421.26 L57.59,421.02 L58.28,420.76 L58.97,420.51 L59.67,420.25 L60.36,419.98 L61.05,419.71 L61.74,419.43 L62.44,419.15 L63.13,418.87 L63.82,418.58 L64.51,418.28 L65.21,417.98 L65.90,417.68 L66.59,417.37 L67.28,417.05 L67.98,416.73 L68.67,416.40 L69.36,416.07 L70.06,415.73 L70.75,415.39 L71.44,415.04 L72.13,414.68 L72.83,414.32 L73.52,413.95 L74.21,413.57 L74.90,413.19 L75.60,412.80 L76.29,412.40 L76.98,412.00 L77.67,411.59 L78.37,411.17 L79.06,410.74 L79.75,410.31 L80.45,409.87 L81.14,409.42 L81.83,408.97 L82.52,408.50 L83.22,408.03 L83.91,407.55 L84.60,407.07 L85.29,406.57 L85.99,406.07 L86.68,405.55 L87.37,405.03 L88.06,404.50 L88.76,403.97 L89.45,403.42 L90.14,402.86 L90.84,402.30 L91.53,401.72 L92.22,401.14 L92.91,400.55 L93.61,399.95 L94.30,399.34 L94.99,398.72 L95.68,398.09 L96.38,397.46 L97.07,396.81 L97.76,396.16 L98.45,395.49 L99.15,394.82 L99.84,394.14 L100.53,393.45 L101.23,392.75 L101.92,392.05 L102.61,391.33 L103.30,390.61 L104.00,389.88 L104.69,389.15 L105.38,388.40 L106.07,387.65 L106.77,386.90 L107.46,386.13 L108.15,385.37 L108.84,384.59 L109.54,383.82 L110.23,383.03 L110.92,382.25 L111.62,381.46 L112.31,380.67 L113.00,379.88 L113.69,379.09 L114.39,378.30 L115.08,377.51 L115.77,376.72 L116.46,375.93 L117.16,375.15 L117.85,374.37 L118.54,373.59 L119.23,372.83 L119.93,372.07 L120.62,371.32 L121.31,370.57 L122.01,369.84 L122.70,369.12 L123.39,368.42 L124.08,367.73 L124.78,367.05 L125.47,366.39 L126.16,365.75 L126.85,365.13 L127.55,364.53 L128.24,363.95 L128.93,363.40 L129.62,362.87 L130.32,362.36 L131.01,361.88 L131.70,361.43 L132.40,361.01 L133.09,360.62 L133.78,360.26 L134.47,359.93 L135.17,359.63 L135.86,359.37 L136.55,359.14 L137.24,358.94 L137.94,358.78 L138.63,358.65 L139.32,358.56 L140.01,358.51 L140.71,358.49 L141.40,358.51 L142.09,358.56 L142.79,358.65 L143.48,358.78 L144.17,358.94 L144.86,359.14 L145.56,359.37 L146.25,359.63 L146.94,359.93 L147.63,360.26 L148.33,360.62 L149.02,361.01 L149.71,361.43 L150.40,361.88 L151.10,362.36 L151.79,362.87 L152.48,363.40 L153.18,363.95 L153.87,364.53 L154.56,365.13 L155.25,365.75 L155.95,366.39 L156.64,367.05 L157.33,367.73 L158.02,368.42 L158.72,369.12 L159.41,369.84 L160.10,370.57 L160.79,371.32 L161.49,372.07 L162.18,372.83 L162.87,373.59 L163.57,374.37 L164.26,375.15 L164.95,375.93 L165.64,376.72 L166.34,377.51 L167.03,378.30 L167.72,379.09 L168.41,379.88 L169.11,380.67 L169.80,381.46 L170.49,382.25 L171.18,383.03 L171.88,383.82 L172.57,384.59 L173.26,385.37 L173.96,386.13 L174.65,386.90 L175.34,387.65 L176.03,388.40 L176.73,389.15 L177.42,389.88 L178.11,390.61 L178.80,391.33 L179.50,392.05 L180.19,392.75 L180.88,393.45 L181.57,394.14 L182.27,394.82 L182.96,395.49 L183.65,396.16 L184.35,396.81 L185.04,397.46 L185.73,398.09 L186.42,398.72 L187.12,399.34 L187.81,399.95 L188.50,400.55 L189.19,401.14 L189.89,401.72 L190.58,402.30 L191.27,402.86 L191.96,403.42 L192.66,403.97 L193.35,404.50 L194.04,405.03 L194.74,405.55 L195.43,406.07 L196.12,406.57 L196.81,407.07 L197.51,407.55 L198.20,408.03 L198.89,408.50 L199.58,408.97 L200.28,409.42 L200.97,409.87 L201.66,410.31 L202.35,410.74 L203.05,411.17 L203.74,411.59 L204.43,412.00 L205.13,412.40 L205.82,412.80 L206.51,413.19 L207.20,413.57 L207.90,413.95 L208.59,414.32 L209.28,414.68 L209.97,415.04 L210.67,415.39 L211.36,415.73 L212.05,416.07 L212.74,416.40 L213.44,416.73 L214.13,417.05 L214.82,417.37 L215.52,417.68 L216.21,417.98 L216.90,418.28 L217.59,418.58 L218.29,418.87 L218.98,419.15 L219.67,419.43 L220.36,419.71 L221.06,419.98 L221.75,420.25 L222.44,420.51 L223.13,420.76 L223.83,421.02 L224.52,421.26 L225.21,421.51 L225.91,421.75 L226.60,421.98 L227.29,422.22 L227.98,422.45 L228.68,422.67 L229.37,422.89 L230.06,423.11 L230.75,423.32 L231.45,423.53 L232.14,423.74 L232.83,423.94 L233.52,424.14 L234.22,424.34 L234.91,424.53 L235.60,424.72 L236.30,424.91 L236.99,425.09 L237.68,425.27 L238.37,425.45 L239.07,425.63 L239.76,425.80 L240.45,425.97 L241.14,426.14 L241.84,426.30 L242.53,426.47 L243.22,426.63 L243.91,426.78 L244.61,426.94 L245.30,427.09" fill="none" stroke="#2222ff" stroke-width="1.4" stroke-dasharray="3,2.4"/>
<rect x="39.6" y="266.6" width="79.9" height="28.1" fill="#fff" stroke="#a8a8a8" stroke-width="0.7"/>
<line x1="48.8" y1="272.1" x2="60.2" y2="272.1" stroke="#ff2a2a" stroke-width="1.8"/>
<line x1="48.8" y1="281.1" x2="60.2" y2="281.1" stroke="#2222ff" stroke-width="1.5" stroke-dasharray="3.6,2.4"/>
<line x1="48.8" y1="290.1" x2="60.2" y2="290.1" stroke="#3a3a3a" stroke-width="0.8"/>
<text x="60.90" y="274.50" font-size="6.7" text-anchor="start" fill="#111"  stroke="#111" stroke-width="0.22">mGr absorption</text>
<text x="60.90" y="283.50" font-size="6.7" text-anchor="start" fill="#111"  stroke="#111" stroke-width="0.22">Au absorption</text>
<text x="60.90" y="292.50" font-size="6.7" text-anchor="start" fill="#111"  stroke="#111" stroke-width="0.22">Total absorption</text>
<text x="141.60" y="460.80" font-size="8.1" text-anchor="middle" fill="#262626"  stroke="#262626" stroke-width="0.22">Wavelength (nm)</text>
<text x="0" y="0" font-size="8.2" text-anchor="middle" fill="#262626" transform="translate(15.94,350.20) rotate(-90)"  stroke="#262626" stroke-width="0.22">Optimized optical absorption</text>
<rect x="322.5" y="267.0" width="212.50" height="170.50" fill="#fff" stroke="#a0a0a0" stroke-width="0.8"/>
<line x1="322.50" y1="437.5" x2="322.50" y2="435.5" stroke="#a0a0a0" stroke-width="0.6"/>
<line x1="322.50" y1="267.0" x2="322.50" y2="269.0" stroke="#a0a0a0" stroke-width="0.6"/>
<text x="322.50" y="449.26" font-size="8.0" text-anchor="middle" fill="#262626"  stroke="#262626" stroke-width="0.22">1500</text>
<line x1="365.00" y1="437.5" x2="365.00" y2="435.5" stroke="#a0a0a0" stroke-width="0.6"/>
<line x1="365.00" y1="267.0" x2="365.00" y2="269.0" stroke="#a0a0a0" stroke-width="0.6"/>
<text x="365.00" y="449.26" font-size="8.0" text-anchor="middle" fill="#262626"  stroke="#262626" stroke-width="0.22">1520</text>
<line x1="407.50" y1="437.5" x2="407.50" y2="435.5" stroke="#a0a0a0" stroke-width="0.6"/>
<line x1="407.50" y1="267.0" x2="407.50" y2="269.0" stroke="#a0a0a0" stroke-width="0.6"/>
<text x="407.50" y="449.26" font-size="8.0" text-anchor="middle" fill="#262626"  stroke="#262626" stroke-width="0.22">1540</text>
<line x1="450.00" y1="437.5" x2="450.00" y2="435.5" stroke="#a0a0a0" stroke-width="0.6"/>
<line x1="450.00" y1="267.0" x2="450.00" y2="269.0" stroke="#a0a0a0" stroke-width="0.6"/>
<text x="450.00" y="449.26" font-size="8.0" text-anchor="middle" fill="#262626"  stroke="#262626" stroke-width="0.22">1560</text>
<line x1="492.50" y1="437.5" x2="492.50" y2="435.5" stroke="#a0a0a0" stroke-width="0.6"/>
<line x1="492.50" y1="267.0" x2="492.50" y2="269.0" stroke="#a0a0a0" stroke-width="0.6"/>
<text x="492.50" y="449.26" font-size="8.0" text-anchor="middle" fill="#262626"  stroke="#262626" stroke-width="0.22">1580</text>
<line x1="535.00" y1="437.5" x2="535.00" y2="435.5" stroke="#a0a0a0" stroke-width="0.6"/>
<line x1="535.00" y1="267.0" x2="535.00" y2="269.0" stroke="#a0a0a0" stroke-width="0.6"/>
<text x="535.00" y="449.26" font-size="8.0" text-anchor="middle" fill="#262626"  stroke="#262626" stroke-width="0.22">1600</text>
<line x1="322.5" y1="437.50" x2="324.5" y2="437.50" stroke="#a0a0a0" stroke-width="0.6"/>
<line x1="535.0" y1="437.50" x2="533.0" y2="437.50" stroke="#a0a0a0" stroke-width="0.6"/>
<text x="320.40" y="440.36" font-size="8.0" text-anchor="end" fill="#262626"  stroke="#262626" stroke-width="0.22">0</text>
<line x1="322.5" y1="394.88" x2="324.5" y2="394.88" stroke="#a0a0a0" stroke-width="0.6"/>
<line x1="535.0" y1="394.88" x2="533.0" y2="394.88" stroke="#a0a0a0" stroke-width="0.6"/>
<text x="320.40" y="397.74" font-size="8.0" text-anchor="end" fill="#262626"  stroke="#262626" stroke-width="0.22">0.05</text>
<line x1="322.5" y1="352.25" x2="324.5" y2="352.25" stroke="#a0a0a0" stroke-width="0.6"/>
<line x1="535.0" y1="352.25" x2="533.0" y2="352.25" stroke="#a0a0a0" stroke-width="0.6"/>
<text x="320.40" y="355.11" font-size="8.0" text-anchor="end" fill="#262626"  stroke="#262626" stroke-width="0.22">0.1</text>
<line x1="322.5" y1="309.62" x2="324.5" y2="309.62" stroke="#a0a0a0" stroke-width="0.6"/>
<line x1="535.0" y1="309.62" x2="533.0" y2="309.62" stroke="#a0a0a0" stroke-width="0.6"/>
<text x="320.40" y="312.49" font-size="8.0" text-anchor="end" fill="#262626"  stroke="#262626" stroke-width="0.22">0.15</text>
<line x1="322.5" y1="267.00" x2="324.5" y2="267.00" stroke="#a0a0a0" stroke-width="0.6"/>
<line x1="535.0" y1="267.00" x2="533.0" y2="267.00" stroke="#a0a0a0" stroke-width="0.6"/>
<text x="320.40" y="269.86" font-size="8.0" text-anchor="end" fill="#262626"  stroke="#262626" stroke-width="0.22">0.2</text>
<path d="M322.50,434.68 L322.93,434.66 L323.35,434.64 L323.77,434.61 L324.20,434.59 L324.62,434.57 L325.05,434.54 L325.48,434.52 L325.90,434.50 L326.32,434.47 L326.75,434.45 L327.18,434.42 L327.60,434.40 L328.02,434.37 L328.45,434.35 L328.88,434.32 L329.30,434.29 L329.73,434.27 L330.15,434.24 L330.57,434.21 L331.00,434.18 L331.43,434.15 L331.85,434.12 L332.27,434.10 L332.70,434.07 L333.12,434.04 L333.55,434.01 L333.98,433.98 L334.40,433.94 L334.82,433.91 L335.25,433.88 L335.68,433.85 L336.10,433.82 L336.52,433.78 L336.95,433.75 L337.38,433.71 L337.80,433.68 L338.23,433.64 L338.65,433.61 L339.07,433.57 L339.50,433.54 L339.93,433.50 L340.35,433.46 L340.77,433.42 L341.20,433.39 L341.62,433.35 L342.05,433.31 L342.48,433.27 L342.90,433.23 L343.32,433.18 L343.75,433.14 L344.18,433.10 L344.60,433.06 L345.02,433.01 L345.45,432.97 L345.88,432.92 L346.30,432.88 L346.73,432.83 L347.15,432.78 L347.57,432.73 L348.00,432.69 L348.43,432.64 L348.85,432.59 L349.27,432.54 L349.70,432.48 L350.12,432.43 L350.55,432.38 L350.98,432.32 L351.40,432.27 L351.82,432.21 L352.25,432.15 L352.68,432.10 L353.10,432.04 L353.52,431.98 L353.95,431.92 L354.38,431.86 L354.80,431.79 L355.23,431.73 L355.65,431.67 L356.07,431.60 L356.50,431.53 L356.93,431.46 L357.35,431.40 L357.77,431.32 L358.20,431.25 L358.62,431.18 L359.05,431.11 L359.48,431.03 L359.90,430.95 L360.32,430.88 L360.75,430.80 L361.18,430.72 L361.60,430.63 L362.02,430.55 L362.45,430.46 L362.88,430.38 L363.30,430.29 L363.73,430.20 L364.15,430.11 L364.57,430.01 L365.00,429.92 L365.43,429.82 L365.85,429.72 L366.27,429.62 L366.70,429.52 L367.12,429.41 L367.55,429.31 L367.98,429.20 L368.40,429.09 L368.82,428.97 L369.25,428.86 L369.68,428.74 L370.10,428.62 L370.52,428.50 L370.95,428.37 L371.38,428.25 L371.80,428.12 L372.23,427.98 L372.65,427.85 L373.07,427.71 L373.50,427.57 L373.93,427.42 L374.35,427.27 L374.77,427.12 L375.20,426.97 L375.62,426.81 L376.05,426.65 L376.48,426.49 L376.90,426.32 L377.32,426.15 L377.75,425.97 L378.18,425.79 L378.60,425.61 L379.02,425.42 L379.45,425.23 L379.88,425.03 L380.30,424.83 L380.73,424.62 L381.15,424.41 L381.57,424.19 L382.00,423.97 L382.43,423.74 L382.85,423.51 L383.27,423.27 L383.70,423.03 L384.12,422.78 L384.55,422.52 L384.98,422.25 L385.40,421.98 L385.82,421.71 L386.25,421.42 L386.68,421.13 L387.10,420.83 L387.52,420.52 L387.95,420.21 L388.38,419.88 L388.80,419.55 L389.23,419.21 L389.65,418.86 L390.07,418.49 L390.50,418.12 L390.93,417.74 L391.35,417.35 L391.77,416.94 L392.20,416.53 L392.62,416.10 L393.05,415.66 L393.48,415.21 L393.90,414.74 L394.32,414.26 L394.75,413.76 L395.18,413.25 L395.60,412.73 L396.02,412.18 L396.45,411.63 L396.88,411.05 L397.30,410.46 L397.73,409.84 L398.15,409.21 L398.57,408.56 L399.00,407.88 L399.43,407.19 L399.85,406.47 L400.27,405.73 L400.70,404.96 L401.12,404.17 L401.55,403.35 L401.98,402.50 L402.40,401.63 L402.82,400.72 L403.25,399.79 L403.68,398.82 L404.10,397.82 L404.52,396.78 L404.95,395.71 L405.38,394.60 L405.80,393.45 L406.23,392.26 L406.65,391.03 L407.07,389.76 L407.50,388.44 L407.93,387.08 L408.35,385.66 L408.77,384.20 L409.20,382.68 L409.62,381.12 L410.05,379.49 L410.48,377.81 L410.90,376.08 L411.32,374.28 L411.75,372.42 L412.18,370.50 L412.60,368.52 L413.02,366.47 L413.45,364.35 L413.88,362.17 L414.30,359.92 L414.73,357.61 L415.15,355.23 L415.57,352.78 L416.00,350.26 L416.43,347.69 L416.85,345.05 L417.27,342.35 L417.70,339.60 L418.12,336.79 L418.55,333.94 L418.98,331.06 L419.40,328.13 L419.82,325.19 L420.25,322.23 L420.68,319.27 L421.10,316.31 L421.52,313.38 L421.95,310.48 L422.38,307.62 L422.80,304.84 L423.23,302.13 L423.65,299.53 L424.07,297.05 L424.50,294.70 L424.93,292.50 L425.35,290.48 L425.77,288.65 L426.20,287.03 L426.62,285.63 L427.05,284.46 L427.48,283.54 L427.90,282.88 L428.32,282.48 L428.75,282.35 L429.18,282.48 L429.60,282.88 L430.02,283.54 L430.45,284.46 L430.88,285.63 L431.30,287.03 L431.73,288.65 L432.15,290.48 L432.57,292.50 L433.00,294.70 L433.43,297.05 L433.85,299.53 L434.27,302.13 L434.70,304.84 L435.12,307.62 L435.55,310.48 L435.98,313.38 L436.40,316.31 L436.82,319.27 L437.25,322.23 L437.68,325.19 L438.10,328.13 L438.52,331.06 L438.95,333.94 L439.38,336.79 L439.80,339.60 L440.23,342.35 L440.65,345.05 L441.07,347.69 L441.50,350.26 L441.93,352.78 L442.35,355.23 L442.77,357.61 L443.20,359.92 L443.62,362.17 L444.05,364.35 L444.48,366.47 L444.90,368.52 L445.32,370.50 L445.75,372.42 L446.18,374.28 L446.60,376.08 L447.02,377.81 L447.45,379.49 L447.88,381.12 L448.30,382.68 L448.73,384.20 L449.15,385.66 L449.57,387.08 L450.00,388.44 L450.43,389.76 L450.85,391.03 L451.27,392.26 L451.70,393.45 L452.12,394.60 L452.55,395.71 L452.98,396.78 L453.40,397.82 L453.82,398.82 L454.25,399.79 L454.68,400.72 L455.10,401.63 L455.52,402.50 L455.95,403.35 L456.38,404.17 L456.80,404.96 L457.23,405.73 L457.65,406.47 L458.07,407.19 L458.50,407.88 L458.93,408.56 L459.35,409.21 L459.77,409.84 L460.20,410.46 L460.62,411.05 L461.05,411.63 L461.48,412.18 L461.90,412.73 L462.32,413.25 L462.75,413.76 L463.18,414.26 L463.60,414.74 L464.02,415.21 L464.45,415.66 L464.88,416.10 L465.30,416.53 L465.73,416.94 L466.15,417.35 L466.57,417.74 L467.00,418.12 L467.43,418.49 L467.85,418.86 L468.27,419.21 L468.70,419.55 L469.12,419.88 L469.55,420.21 L469.98,420.52 L470.40,420.83 L470.82,421.13 L471.25,421.42 L471.68,421.71 L472.10,421.98 L472.52,422.25 L472.95,422.52 L473.38,422.78 L473.80,423.03 L474.23,423.27 L474.65,423.51 L475.07,423.74 L475.50,423.97 L475.93,424.19 L476.35,424.41 L476.77,424.62 L477.20,424.83 L477.62,425.03 L478.05,425.23 L478.48,425.42 L478.90,425.61 L479.32,425.79 L479.75,425.97 L480.18,426.15 L480.60,426.32 L481.02,426.49 L481.45,426.65 L481.88,426.81 L482.30,426.97 L482.73,427.12 L483.15,427.27 L483.57,427.42 L484.00,427.57 L484.43,427.71 L484.85,427.85 L485.27,427.98 L485.70,428.12 L486.12,428.25 L486.55,428.37 L486.98,428.50 L487.40,428.62 L487.82,428.74 L488.25,428.86 L488.68,428.97 L489.10,429.09 L489.52,429.20 L489.95,429.31 L490.38,429.41 L490.80,429.52 L491.23,429.62 L491.65,429.72 L492.07,429.82 L492.50,429.92 L492.93,430.01 L493.35,430.11 L493.77,430.20 L494.20,430.29 L494.62,430.38 L495.05,430.46 L495.48,430.55 L495.90,430.63 L496.32,430.72 L496.75,430.80 L497.18,430.88 L497.60,430.95 L498.02,431.03 L498.45,431.11 L498.88,431.18 L499.30,431.25 L499.73,431.32 L500.15,431.40 L500.57,431.46 L501.00,431.53 L501.43,431.60 L501.85,431.67 L502.27,431.73 L502.70,431.79 L503.12,431.86 L503.55,431.92 L503.98,431.98 L504.40,432.04 L504.82,432.10 L505.25,432.15 L505.68,432.21 L506.10,432.27 L506.52,432.32 L506.95,432.38 L507.38,432.43 L507.80,432.48 L508.23,432.54 L508.65,432.59 L509.07,432.64 L509.50,432.69 L509.93,432.73 L510.35,432.78 L510.77,432.83 L511.20,432.88 L511.62,432.92 L512.05,432.97 L512.48,433.01 L512.90,433.06 L513.32,433.10 L513.75,433.14 L514.18,433.18 L514.60,433.23 L515.02,433.27 L515.45,433.31 L515.88,433.35 L516.30,433.39 L516.73,433.42 L517.15,433.46 L517.57,433.50 L518.00,433.54 L518.43,433.57 L518.85,433.61 L519.27,433.64 L519.70,433.68 L520.12,433.71 L520.55,433.75 L520.98,433.78 L521.40,433.82 L521.82,433.85 L522.25,433.88 L522.68,433.91 L523.10,433.94 L523.52,433.98 L523.95,434.01 L524.38,434.04 L524.80,434.07 L525.23,434.10 L525.65,434.12 L526.07,434.15 L526.50,434.18 L526.93,434.21 L527.35,434.24 L527.77,434.27 L528.20,434.29 L528.62,434.32 L529.05,434.35 L529.48,434.37 L529.90,434.40 L530.32,434.42 L530.75,434.45 L531.18,434.47 L531.60,434.50 L532.02,434.52 L532.45,434.54 L532.88,434.57 L533.30,434.59 L533.73,434.61 L534.15,434.64 L534.57,434.66 L535.00,434.68" fill="none" stroke="#ff1a1a" stroke-width="1.3"/>
<text x="427.70" y="459.15" font-size="8.8" text-anchor="middle" fill="#262626"  stroke="#262626" stroke-width="0.22">Wavelength (nm)</text>
<text x="0" y="0" font-size="9.1" text-anchor="middle" fill="#262626" transform="translate(302.16,346.50) rotate(-90)"  stroke="#262626" stroke-width="0.22">Responsivity (A/W)</text>
<text x="136.4" y="244.4" font-size="12" text-anchor="middle" fill="#000" font-family="Liberation Serif, Times New Roman, serif">(<tspan font-weight="bold">a</tspan>)</text>
<text x="423.9" y="244.6" font-size="12" text-anchor="middle" fill="#000" font-family="Liberation Serif, Times New Roman, serif">(<tspan font-weight="bold">b</tspan>)</text>
<text x="136.5" y="477.8" font-size="12" text-anchor="middle" fill="#000" font-family="Liberation Serif, Times New Roman, serif">(<tspan font-weight="bold">c</tspan>)</text>
<text x="423.9" y="478.2" font-size="12" text-anchor="middle" fill="#000" font-family="Liberation Serif, Times New Roman, serif">(<tspan font-weight="bold">d</tspan>)</text>
</svg></div></body></html>
